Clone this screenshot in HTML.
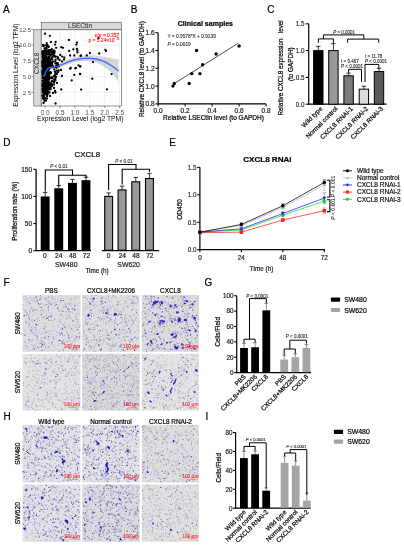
<!DOCTYPE html>
<html><head><meta charset="utf-8"><style>
html,body{margin:0;padding:0;background:#fff;width:404px;height:550px;overflow:hidden}
svg{display:block;font-family:"Liberation Sans",Arial,sans-serif}
text{stroke:#000;stroke-width:0.2px}
.ns text{stroke-width:0}
</style></head><body>
<svg width="404" height="550" viewBox="0 0 404 550">
<rect width="404" height="550" fill="#fff"/>
<text x="3.00" y="13.20" font-size="10.00">A</text>
<g class="ns">
<rect x="41.20" y="22.20" width="80.30" height="7.60" fill="#d9d9d9" stroke="#333" stroke-width="0.50" />
<rect x="33.80" y="29.80" width="7.40" height="76.20" fill="#d9d9d9" stroke="#333" stroke-width="0.50" />
<rect x="41.20" y="29.80" width="80.30" height="76.20" fill="#fff" />
<line x1="52.55" y1="29.80" x2="52.55" y2="106.00" stroke="#f2f2f2" stroke-width="0.30" />
<line x1="67.45" y1="29.80" x2="67.45" y2="106.00" stroke="#f2f2f2" stroke-width="0.30" />
<line x1="82.35" y1="29.80" x2="82.35" y2="106.00" stroke="#f2f2f2" stroke-width="0.30" />
<line x1="97.25" y1="29.80" x2="97.25" y2="106.00" stroke="#f2f2f2" stroke-width="0.30" />
<line x1="112.15" y1="29.80" x2="112.15" y2="106.00" stroke="#f2f2f2" stroke-width="0.30" />
<line x1="41.20" y1="84.47" x2="121.50" y2="84.47" stroke="#f2f2f2" stroke-width="0.30" />
<line x1="41.20" y1="68.72" x2="121.50" y2="68.72" stroke="#f2f2f2" stroke-width="0.30" />
<line x1="41.20" y1="52.97" x2="121.50" y2="52.97" stroke="#f2f2f2" stroke-width="0.30" />
<line x1="41.20" y1="37.22" x2="121.50" y2="37.22" stroke="#f2f2f2" stroke-width="0.30" />
<line x1="41.20" y1="100.22" x2="121.50" y2="100.22" stroke="#f2f2f2" stroke-width="0.30" />
<line x1="45.10" y1="29.80" x2="45.10" y2="106.00" stroke="#e6e6e6" stroke-width="0.55" />
<line x1="60.00" y1="29.80" x2="60.00" y2="106.00" stroke="#e6e6e6" stroke-width="0.55" />
<line x1="74.90" y1="29.80" x2="74.90" y2="106.00" stroke="#e6e6e6" stroke-width="0.55" />
<line x1="89.80" y1="29.80" x2="89.80" y2="106.00" stroke="#e6e6e6" stroke-width="0.55" />
<line x1="104.70" y1="29.80" x2="104.70" y2="106.00" stroke="#e6e6e6" stroke-width="0.55" />
<line x1="119.60" y1="29.80" x2="119.60" y2="106.00" stroke="#e6e6e6" stroke-width="0.55" />
<line x1="41.20" y1="92.35" x2="121.50" y2="92.35" stroke="#e6e6e6" stroke-width="0.55" />
<line x1="41.20" y1="76.60" x2="121.50" y2="76.60" stroke="#e6e6e6" stroke-width="0.55" />
<line x1="41.20" y1="60.85" x2="121.50" y2="60.85" stroke="#e6e6e6" stroke-width="0.55" />
<line x1="41.20" y1="45.10" x2="121.50" y2="45.10" stroke="#e6e6e6" stroke-width="0.55" />
<line x1="41.20" y1="29.35" x2="121.50" y2="29.35" stroke="#e6e6e6" stroke-width="0.55" />
<path d="M44.5 73.5 L48.0 66.0 L53.0 64.5 L58.5 64.0 L66.0 60.5 L74.6 57.3 L85.4 55.6 L96.1 55.5 L106.9 57.2 L113.0 58.5 L118.3 59.5 L118.3 82.0 L113.0 74.0 L106.9 68.5 L96.1 62.6 L85.4 60.8 L74.6 62.1 L66.0 65.3 L58.5 68.2 L53.0 69.0 L48.0 70.6 L44.5 78.2 Z" fill="#999" fill-opacity="0.4"/>
<g fill="#000">
<circle cx="46.9" cy="57.3" r="1.15"/>
<circle cx="45.1" cy="73.5" r="1.15"/>
<circle cx="42.6" cy="72.3" r="1.15"/>
<circle cx="42.9" cy="53.9" r="1.15"/>
<circle cx="43.1" cy="85.7" r="1.15"/>
<circle cx="49.2" cy="77.4" r="1.15"/>
<circle cx="49.7" cy="67.7" r="1.15"/>
<circle cx="44.0" cy="87.1" r="1.15"/>
<circle cx="44.4" cy="55.9" r="1.15"/>
<circle cx="46.0" cy="53.9" r="1.15"/>
<circle cx="46.4" cy="66.6" r="1.15"/>
<circle cx="43.6" cy="53.5" r="1.15"/>
<circle cx="44.7" cy="69.0" r="1.15"/>
<circle cx="44.6" cy="70.0" r="1.15"/>
<circle cx="43.9" cy="82.4" r="1.15"/>
<circle cx="48.9" cy="73.1" r="1.15"/>
<circle cx="49.6" cy="63.1" r="1.15"/>
<circle cx="48.1" cy="68.6" r="1.15"/>
<circle cx="42.6" cy="71.5" r="1.15"/>
<circle cx="46.1" cy="83.1" r="1.15"/>
<circle cx="47.4" cy="61.3" r="1.15"/>
<circle cx="45.7" cy="75.4" r="1.15"/>
<circle cx="43.8" cy="96.0" r="1.15"/>
<circle cx="46.8" cy="53.5" r="1.15"/>
<circle cx="46.0" cy="92.7" r="1.15"/>
<circle cx="47.4" cy="67.2" r="1.15"/>
<circle cx="43.6" cy="70.4" r="1.15"/>
<circle cx="47.2" cy="53.5" r="1.15"/>
<circle cx="45.2" cy="61.4" r="1.15"/>
<circle cx="44.5" cy="48.4" r="1.15"/>
<circle cx="46.9" cy="88.1" r="1.15"/>
<circle cx="45.3" cy="59.3" r="1.15"/>
<circle cx="47.7" cy="88.1" r="1.15"/>
<circle cx="44.0" cy="58.4" r="1.15"/>
<circle cx="46.8" cy="71.4" r="1.15"/>
<circle cx="44.8" cy="51.2" r="1.15"/>
<circle cx="49.4" cy="74.8" r="1.15"/>
<circle cx="47.0" cy="72.7" r="1.15"/>
<circle cx="48.0" cy="53.3" r="1.15"/>
<circle cx="46.0" cy="92.1" r="1.15"/>
<circle cx="43.1" cy="67.8" r="1.15"/>
<circle cx="42.7" cy="53.6" r="1.15"/>
<circle cx="44.7" cy="57.8" r="1.15"/>
<circle cx="43.2" cy="51.0" r="1.15"/>
<circle cx="42.5" cy="66.3" r="1.15"/>
<circle cx="43.4" cy="77.8" r="1.15"/>
<circle cx="45.0" cy="65.6" r="1.15"/>
<circle cx="48.2" cy="86.7" r="1.15"/>
<circle cx="43.0" cy="71.3" r="1.15"/>
<circle cx="44.3" cy="65.4" r="1.15"/>
<circle cx="42.4" cy="52.9" r="1.15"/>
<circle cx="43.4" cy="73.1" r="1.15"/>
<circle cx="45.5" cy="52.1" r="1.15"/>
<circle cx="45.7" cy="91.5" r="1.15"/>
<circle cx="43.6" cy="66.4" r="1.15"/>
<circle cx="48.2" cy="73.3" r="1.15"/>
<circle cx="48.2" cy="60.4" r="1.15"/>
<circle cx="46.3" cy="90.9" r="1.15"/>
<circle cx="43.7" cy="84.7" r="1.15"/>
<circle cx="42.5" cy="65.9" r="1.15"/>
<circle cx="44.2" cy="62.7" r="1.15"/>
<circle cx="44.5" cy="91.2" r="1.15"/>
<circle cx="44.9" cy="98.3" r="1.15"/>
<circle cx="44.0" cy="60.3" r="1.15"/>
<circle cx="46.8" cy="59.6" r="1.15"/>
<circle cx="44.8" cy="90.2" r="1.15"/>
<circle cx="42.8" cy="84.6" r="1.15"/>
<circle cx="46.5" cy="89.2" r="1.15"/>
<circle cx="43.7" cy="70.3" r="1.15"/>
<circle cx="48.2" cy="62.3" r="1.15"/>
<circle cx="45.3" cy="65.8" r="1.15"/>
<circle cx="43.4" cy="83.9" r="1.15"/>
<circle cx="48.7" cy="57.3" r="1.15"/>
<circle cx="47.3" cy="52.0" r="1.15"/>
<circle cx="44.8" cy="80.1" r="1.15"/>
<circle cx="42.4" cy="56.5" r="1.15"/>
<circle cx="46.1" cy="79.7" r="1.15"/>
<circle cx="48.9" cy="67.9" r="1.15"/>
<circle cx="44.0" cy="55.6" r="1.15"/>
<circle cx="46.6" cy="61.1" r="1.15"/>
<circle cx="43.3" cy="68.6" r="1.15"/>
<circle cx="45.7" cy="63.5" r="1.15"/>
<circle cx="44.6" cy="89.0" r="1.15"/>
<circle cx="46.4" cy="71.6" r="1.15"/>
<circle cx="45.0" cy="51.8" r="1.15"/>
<circle cx="47.0" cy="51.2" r="1.15"/>
<circle cx="47.9" cy="70.9" r="1.15"/>
<circle cx="46.2" cy="64.7" r="1.15"/>
<circle cx="43.0" cy="83.9" r="1.15"/>
<circle cx="44.3" cy="61.4" r="1.15"/>
<circle cx="46.6" cy="71.9" r="1.15"/>
<circle cx="44.1" cy="94.2" r="1.15"/>
<circle cx="46.2" cy="72.2" r="1.15"/>
<circle cx="46.4" cy="70.0" r="1.15"/>
<circle cx="45.8" cy="90.5" r="1.15"/>
<circle cx="43.2" cy="95.8" r="1.15"/>
<circle cx="46.5" cy="90.6" r="1.15"/>
<circle cx="45.3" cy="56.1" r="1.15"/>
<circle cx="42.8" cy="61.1" r="1.15"/>
<circle cx="48.1" cy="83.9" r="1.15"/>
<circle cx="46.9" cy="81.1" r="1.15"/>
<circle cx="47.8" cy="88.1" r="1.15"/>
<circle cx="44.3" cy="91.0" r="1.15"/>
<circle cx="46.1" cy="92.6" r="1.15"/>
<circle cx="46.3" cy="69.1" r="1.15"/>
<circle cx="44.6" cy="59.2" r="1.15"/>
<circle cx="45.6" cy="51.8" r="1.15"/>
<circle cx="44.3" cy="51.8" r="1.15"/>
<circle cx="42.8" cy="72.5" r="1.15"/>
<circle cx="48.0" cy="87.4" r="1.15"/>
<circle cx="42.6" cy="62.2" r="1.15"/>
<circle cx="43.2" cy="58.9" r="1.15"/>
<circle cx="46.7" cy="89.3" r="1.15"/>
<circle cx="48.8" cy="57.3" r="1.15"/>
<circle cx="42.9" cy="80.4" r="1.15"/>
<circle cx="45.4" cy="79.9" r="1.15"/>
<circle cx="45.5" cy="90.4" r="1.15"/>
<circle cx="46.6" cy="48.6" r="1.15"/>
<circle cx="45.0" cy="87.2" r="1.15"/>
<circle cx="49.2" cy="74.2" r="1.15"/>
<circle cx="45.9" cy="56.4" r="1.15"/>
<circle cx="43.4" cy="55.6" r="1.15"/>
<circle cx="44.6" cy="59.5" r="1.15"/>
<circle cx="44.2" cy="82.9" r="1.15"/>
<circle cx="44.8" cy="58.5" r="1.15"/>
<circle cx="42.4" cy="61.5" r="1.15"/>
<circle cx="43.7" cy="74.1" r="1.15"/>
<circle cx="42.8" cy="90.3" r="1.15"/>
<circle cx="46.1" cy="67.8" r="1.15"/>
<circle cx="46.1" cy="65.6" r="1.15"/>
<circle cx="43.9" cy="92.3" r="1.15"/>
<circle cx="46.5" cy="82.9" r="1.15"/>
<circle cx="42.7" cy="65.6" r="1.15"/>
<circle cx="47.1" cy="54.0" r="1.15"/>
<circle cx="42.9" cy="57.9" r="1.15"/>
<circle cx="45.5" cy="91.9" r="1.15"/>
<circle cx="44.4" cy="61.2" r="1.15"/>
<circle cx="45.5" cy="57.6" r="1.15"/>
<circle cx="47.0" cy="91.4" r="1.15"/>
<circle cx="49.4" cy="61.3" r="1.15"/>
<circle cx="42.3" cy="66.0" r="1.15"/>
<circle cx="46.1" cy="70.9" r="1.15"/>
<circle cx="42.3" cy="72.2" r="1.15"/>
<circle cx="44.9" cy="54.8" r="1.15"/>
<circle cx="44.1" cy="51.9" r="1.15"/>
<circle cx="46.2" cy="75.6" r="1.15"/>
<circle cx="47.4" cy="80.2" r="1.15"/>
<circle cx="44.7" cy="65.4" r="1.15"/>
<circle cx="46.7" cy="52.2" r="1.15"/>
<circle cx="47.5" cy="52.8" r="1.15"/>
<circle cx="47.6" cy="78.5" r="1.15"/>
<circle cx="45.4" cy="51.7" r="1.15"/>
<circle cx="47.2" cy="86.1" r="1.15"/>
<circle cx="48.9" cy="76.1" r="1.15"/>
<circle cx="44.0" cy="80.1" r="1.15"/>
<circle cx="44.8" cy="56.6" r="1.15"/>
<circle cx="45.7" cy="86.1" r="1.15"/>
<circle cx="47.3" cy="77.3" r="1.15"/>
<circle cx="47.0" cy="51.1" r="1.15"/>
<circle cx="46.4" cy="72.1" r="1.15"/>
<circle cx="47.0" cy="53.8" r="1.15"/>
<circle cx="44.0" cy="54.1" r="1.15"/>
<circle cx="47.7" cy="59.6" r="1.15"/>
<circle cx="45.2" cy="71.2" r="1.15"/>
<circle cx="47.8" cy="79.7" r="1.15"/>
<circle cx="42.9" cy="78.0" r="1.15"/>
<circle cx="47.8" cy="61.7" r="1.15"/>
<circle cx="42.4" cy="74.8" r="1.15"/>
<circle cx="47.3" cy="62.3" r="1.15"/>
<circle cx="44.4" cy="79.4" r="1.15"/>
<circle cx="45.9" cy="70.5" r="1.15"/>
<circle cx="43.4" cy="88.5" r="1.15"/>
<circle cx="42.4" cy="95.5" r="1.15"/>
<circle cx="48.3" cy="85.4" r="1.15"/>
<circle cx="43.8" cy="62.3" r="1.15"/>
<circle cx="46.2" cy="55.6" r="1.15"/>
<circle cx="49.5" cy="73.0" r="1.15"/>
<circle cx="45.4" cy="85.4" r="1.15"/>
<circle cx="43.8" cy="82.7" r="1.15"/>
<circle cx="42.5" cy="70.7" r="1.15"/>
<circle cx="45.7" cy="71.7" r="1.15"/>
<circle cx="44.7" cy="56.9" r="1.15"/>
<circle cx="42.3" cy="86.3" r="1.15"/>
<circle cx="42.9" cy="90.2" r="1.15"/>
<circle cx="48.2" cy="83.2" r="1.15"/>
<circle cx="45.3" cy="66.6" r="1.15"/>
<circle cx="45.0" cy="76.4" r="1.15"/>
<circle cx="42.7" cy="62.6" r="1.15"/>
<circle cx="44.0" cy="86.1" r="1.15"/>
<circle cx="44.2" cy="57.7" r="1.15"/>
<circle cx="45.0" cy="59.0" r="1.15"/>
<circle cx="46.0" cy="92.6" r="1.15"/>
<circle cx="47.3" cy="89.4" r="1.15"/>
<circle cx="42.6" cy="81.2" r="1.15"/>
<circle cx="48.1" cy="69.9" r="1.15"/>
<circle cx="42.7" cy="63.0" r="1.15"/>
<circle cx="45.1" cy="51.0" r="1.15"/>
<circle cx="47.8" cy="63.5" r="1.15"/>
<circle cx="47.0" cy="58.3" r="1.15"/>
<circle cx="45.2" cy="74.4" r="1.15"/>
<circle cx="43.8" cy="57.8" r="1.15"/>
<circle cx="44.0" cy="71.3" r="1.15"/>
<circle cx="43.5" cy="98.8" r="1.15"/>
<circle cx="43.0" cy="59.1" r="1.15"/>
<circle cx="43.9" cy="54.8" r="1.15"/>
<circle cx="48.9" cy="74.9" r="1.15"/>
<circle cx="45.5" cy="68.3" r="1.15"/>
<circle cx="44.9" cy="66.8" r="1.15"/>
<circle cx="49.5" cy="62.7" r="1.15"/>
<circle cx="47.1" cy="72.1" r="1.15"/>
<circle cx="44.1" cy="55.9" r="1.15"/>
<circle cx="45.7" cy="67.8" r="1.15"/>
<circle cx="46.7" cy="90.7" r="1.15"/>
<circle cx="46.7" cy="52.4" r="1.15"/>
<circle cx="46.8" cy="70.0" r="1.15"/>
<circle cx="49.3" cy="67.4" r="1.15"/>
<circle cx="47.1" cy="91.1" r="1.15"/>
<circle cx="43.3" cy="55.6" r="1.15"/>
<circle cx="49.1" cy="79.6" r="1.15"/>
<circle cx="47.9" cy="78.2" r="1.15"/>
<circle cx="42.6" cy="74.2" r="1.15"/>
<circle cx="48.7" cy="56.8" r="1.15"/>
<circle cx="43.3" cy="63.8" r="1.15"/>
<circle cx="47.4" cy="77.7" r="1.15"/>
<circle cx="45.7" cy="54.0" r="1.15"/>
<circle cx="44.0" cy="67.3" r="1.15"/>
<circle cx="44.1" cy="51.4" r="1.15"/>
<circle cx="45.4" cy="91.3" r="1.15"/>
<circle cx="44.1" cy="70.1" r="1.15"/>
<circle cx="45.7" cy="91.3" r="1.15"/>
<circle cx="45.3" cy="51.9" r="1.15"/>
<circle cx="44.3" cy="68.6" r="1.15"/>
<circle cx="43.5" cy="89.9" r="1.15"/>
<circle cx="45.5" cy="65.2" r="1.15"/>
<circle cx="48.1" cy="59.3" r="1.15"/>
<circle cx="43.9" cy="72.2" r="1.15"/>
<circle cx="48.3" cy="61.1" r="1.15"/>
<circle cx="47.8" cy="60.3" r="1.15"/>
<circle cx="44.8" cy="91.0" r="1.15"/>
<circle cx="45.3" cy="60.4" r="1.15"/>
<circle cx="43.0" cy="90.8" r="1.15"/>
<circle cx="49.4" cy="59.9" r="1.15"/>
<circle cx="42.7" cy="53.2" r="1.15"/>
<circle cx="47.2" cy="88.7" r="1.15"/>
<circle cx="46.5" cy="92.9" r="1.15"/>
<circle cx="49.1" cy="58.8" r="1.15"/>
<circle cx="46.4" cy="52.3" r="1.15"/>
<circle cx="44.8" cy="66.7" r="1.15"/>
<circle cx="44.0" cy="51.1" r="1.15"/>
<circle cx="42.9" cy="91.1" r="1.15"/>
<circle cx="44.7" cy="55.4" r="1.15"/>
<circle cx="44.6" cy="89.2" r="1.15"/>
<circle cx="45.2" cy="70.9" r="1.15"/>
<circle cx="44.7" cy="54.6" r="1.15"/>
<circle cx="43.8" cy="45.7" r="1.15"/>
<circle cx="42.5" cy="86.2" r="1.15"/>
<circle cx="48.2" cy="53.6" r="1.15"/>
<circle cx="48.4" cy="82.4" r="1.15"/>
<circle cx="49.4" cy="62.4" r="1.15"/>
<circle cx="47.6" cy="62.0" r="1.15"/>
<circle cx="42.3" cy="62.6" r="1.15"/>
<circle cx="44.8" cy="94.4" r="1.15"/>
<circle cx="43.1" cy="45.3" r="1.15"/>
<circle cx="47.0" cy="91.2" r="1.15"/>
<circle cx="45.5" cy="61.5" r="1.15"/>
<circle cx="43.3" cy="90.0" r="1.15"/>
<circle cx="47.5" cy="84.6" r="1.15"/>
<circle cx="44.7" cy="77.4" r="1.15"/>
<circle cx="48.2" cy="66.2" r="1.15"/>
<circle cx="47.8" cy="59.3" r="1.15"/>
<circle cx="42.5" cy="53.7" r="1.15"/>
<circle cx="49.6" cy="64.7" r="1.15"/>
<circle cx="43.0" cy="98.3" r="1.15"/>
<circle cx="45.6" cy="55.0" r="1.15"/>
<circle cx="44.1" cy="69.8" r="1.15"/>
<circle cx="47.3" cy="77.1" r="1.15"/>
<circle cx="46.3" cy="86.6" r="1.15"/>
<circle cx="44.1" cy="86.3" r="1.15"/>
<circle cx="47.9" cy="66.7" r="1.15"/>
<circle cx="44.1" cy="61.4" r="1.15"/>
<circle cx="45.6" cy="88.1" r="1.15"/>
<circle cx="49.8" cy="67.6" r="1.15"/>
<circle cx="48.2" cy="60.7" r="1.15"/>
<circle cx="42.8" cy="92.6" r="1.15"/>
<circle cx="47.5" cy="85.4" r="1.15"/>
<circle cx="43.4" cy="46.2" r="1.15"/>
<circle cx="49.3" cy="59.0" r="1.15"/>
<circle cx="44.2" cy="90.1" r="1.15"/>
<circle cx="44.3" cy="68.7" r="1.15"/>
<circle cx="42.6" cy="96.0" r="1.15"/>
<circle cx="43.9" cy="77.0" r="1.15"/>
<circle cx="43.7" cy="56.9" r="1.15"/>
<circle cx="47.1" cy="76.2" r="1.15"/>
<circle cx="44.3" cy="51.5" r="1.15"/>
<circle cx="44.6" cy="58.8" r="1.15"/>
<circle cx="45.8" cy="84.4" r="1.15"/>
<circle cx="44.9" cy="55.3" r="1.15"/>
<circle cx="43.0" cy="77.8" r="1.15"/>
<circle cx="45.2" cy="80.2" r="1.15"/>
<circle cx="49.4" cy="63.9" r="1.15"/>
<circle cx="45.0" cy="74.8" r="1.15"/>
<circle cx="48.1" cy="87.3" r="1.15"/>
<circle cx="47.6" cy="59.3" r="1.15"/>
<circle cx="47.7" cy="51.2" r="1.15"/>
<circle cx="44.8" cy="85.5" r="1.15"/>
<circle cx="43.5" cy="69.3" r="1.15"/>
<circle cx="47.1" cy="74.2" r="1.15"/>
<circle cx="45.5" cy="48.9" r="1.15"/>
<circle cx="43.4" cy="72.2" r="1.15"/>
<circle cx="49.3" cy="72.9" r="1.15"/>
<circle cx="48.4" cy="71.6" r="1.15"/>
<circle cx="43.1" cy="54.9" r="1.15"/>
<circle cx="43.6" cy="97.7" r="1.15"/>
<circle cx="44.3" cy="89.9" r="1.15"/>
<circle cx="48.3" cy="78.1" r="1.15"/>
<circle cx="43.7" cy="84.0" r="1.15"/>
<circle cx="47.3" cy="86.5" r="1.15"/>
<circle cx="45.2" cy="60.2" r="1.15"/>
<circle cx="43.2" cy="67.1" r="1.15"/>
<circle cx="48.5" cy="81.4" r="1.15"/>
<circle cx="48.0" cy="74.6" r="1.15"/>
<circle cx="43.0" cy="86.2" r="1.15"/>
<circle cx="47.0" cy="74.1" r="1.15"/>
<circle cx="46.8" cy="68.6" r="1.15"/>
<circle cx="45.5" cy="78.7" r="1.15"/>
<circle cx="46.1" cy="52.0" r="1.15"/>
<circle cx="47.9" cy="60.9" r="1.15"/>
<circle cx="43.7" cy="69.2" r="1.15"/>
<circle cx="43.2" cy="55.5" r="1.15"/>
<circle cx="45.2" cy="54.9" r="1.15"/>
<circle cx="46.3" cy="52.7" r="1.15"/>
<circle cx="47.6" cy="81.8" r="1.15"/>
<circle cx="45.5" cy="53.3" r="1.15"/>
<circle cx="43.0" cy="90.9" r="1.15"/>
<circle cx="44.3" cy="98.8" r="1.15"/>
<circle cx="48.8" cy="54.7" r="1.15"/>
<circle cx="46.8" cy="91.2" r="1.15"/>
<circle cx="48.3" cy="84.1" r="1.15"/>
<circle cx="48.0" cy="65.7" r="1.15"/>
<circle cx="43.8" cy="88.7" r="1.15"/>
<circle cx="45.3" cy="51.9" r="1.15"/>
<circle cx="44.1" cy="55.5" r="1.15"/>
<circle cx="42.6" cy="64.4" r="1.15"/>
<circle cx="49.0" cy="57.8" r="1.15"/>
<circle cx="43.2" cy="88.6" r="1.15"/>
<circle cx="45.4" cy="50.3" r="1.15"/>
<circle cx="48.9" cy="66.1" r="1.15"/>
<circle cx="48.9" cy="75.4" r="1.15"/>
<circle cx="45.1" cy="92.7" r="1.15"/>
<circle cx="44.0" cy="84.5" r="1.15"/>
<circle cx="45.0" cy="75.8" r="1.15"/>
<circle cx="43.6" cy="68.3" r="1.15"/>
<circle cx="47.4" cy="53.0" r="1.15"/>
<circle cx="49.5" cy="77.8" r="1.15"/>
<circle cx="44.6" cy="78.9" r="1.15"/>
<circle cx="43.2" cy="52.4" r="1.15"/>
<circle cx="46.2" cy="69.2" r="1.15"/>
<circle cx="43.6" cy="51.3" r="1.15"/>
<circle cx="42.3" cy="51.9" r="1.15"/>
<circle cx="44.7" cy="55.5" r="1.15"/>
<circle cx="46.7" cy="75.5" r="1.15"/>
<circle cx="45.8" cy="77.2" r="1.15"/>
<circle cx="43.5" cy="90.3" r="1.15"/>
<circle cx="46.5" cy="55.0" r="1.15"/>
<circle cx="44.7" cy="87.0" r="1.15"/>
<circle cx="46.2" cy="51.5" r="1.15"/>
<circle cx="47.2" cy="65.7" r="1.15"/>
<circle cx="46.0" cy="90.4" r="1.15"/>
<circle cx="42.5" cy="88.9" r="1.15"/>
<circle cx="44.1" cy="68.1" r="1.15"/>
<circle cx="42.4" cy="83.7" r="1.15"/>
<circle cx="43.0" cy="90.5" r="1.15"/>
<circle cx="46.0" cy="76.5" r="1.15"/>
<circle cx="43.4" cy="85.2" r="1.15"/>
<circle cx="42.7" cy="63.6" r="1.15"/>
<circle cx="46.5" cy="87.1" r="1.15"/>
<circle cx="46.8" cy="86.5" r="1.15"/>
<circle cx="45.4" cy="82.2" r="1.15"/>
<circle cx="43.9" cy="55.4" r="1.15"/>
<circle cx="47.9" cy="65.1" r="1.15"/>
<circle cx="46.6" cy="86.5" r="1.15"/>
<circle cx="45.6" cy="74.3" r="1.15"/>
<circle cx="44.3" cy="72.8" r="1.15"/>
<circle cx="43.3" cy="91.5" r="1.15"/>
<circle cx="43.1" cy="44.8" r="1.15"/>
<circle cx="48.7" cy="82.2" r="1.15"/>
<circle cx="48.9" cy="64.7" r="1.15"/>
<circle cx="48.9" cy="61.0" r="1.15"/>
<circle cx="47.1" cy="80.1" r="1.15"/>
<circle cx="48.8" cy="69.8" r="1.15"/>
<circle cx="44.9" cy="87.0" r="1.15"/>
<circle cx="44.6" cy="75.0" r="1.15"/>
<circle cx="42.9" cy="77.2" r="1.15"/>
<circle cx="42.5" cy="52.0" r="1.15"/>
<circle cx="44.1" cy="90.0" r="1.15"/>
<circle cx="42.6" cy="52.2" r="1.15"/>
<circle cx="47.4" cy="77.6" r="1.15"/>
<circle cx="46.1" cy="53.8" r="1.15"/>
<circle cx="47.4" cy="85.3" r="1.15"/>
<circle cx="46.2" cy="47.6" r="1.15"/>
<circle cx="49.5" cy="92.5" r="1.15"/>
<circle cx="48.9" cy="50.6" r="1.15"/>
<circle cx="48.2" cy="50.8" r="1.15"/>
<circle cx="50.7" cy="89.1" r="1.15"/>
<circle cx="55.4" cy="78.0" r="1.15"/>
<circle cx="51.1" cy="77.8" r="1.15"/>
<circle cx="48.3" cy="50.2" r="1.15"/>
<circle cx="49.4" cy="84.4" r="1.15"/>
<circle cx="53.0" cy="61.6" r="1.15"/>
<circle cx="46.9" cy="46.1" r="1.15"/>
<circle cx="55.7" cy="59.7" r="1.15"/>
<circle cx="52.0" cy="64.1" r="1.15"/>
<circle cx="46.8" cy="95.1" r="1.15"/>
<circle cx="49.8" cy="89.3" r="1.15"/>
<circle cx="47.9" cy="46.6" r="1.15"/>
<circle cx="56.6" cy="67.7" r="1.15"/>
<circle cx="56.2" cy="63.0" r="1.15"/>
<circle cx="51.0" cy="73.0" r="1.15"/>
<circle cx="47.7" cy="89.8" r="1.15"/>
<circle cx="48.5" cy="87.6" r="1.15"/>
<circle cx="46.1" cy="45.1" r="1.15"/>
<circle cx="54.0" cy="84.6" r="1.15"/>
<circle cx="47.4" cy="45.2" r="1.15"/>
<circle cx="56.6" cy="70.6" r="1.15"/>
<circle cx="52.0" cy="54.6" r="1.15"/>
<circle cx="57.7" cy="63.1" r="1.15"/>
<circle cx="57.9" cy="58.5" r="1.15"/>
<circle cx="50.9" cy="59.8" r="1.15"/>
<circle cx="51.8" cy="81.4" r="1.15"/>
<circle cx="51.6" cy="50.7" r="1.15"/>
<circle cx="51.8" cy="49.2" r="1.15"/>
<circle cx="53.9" cy="81.3" r="1.15"/>
<circle cx="51.6" cy="77.7" r="1.15"/>
<circle cx="52.7" cy="65.9" r="1.15"/>
<circle cx="47.3" cy="91.3" r="1.15"/>
<circle cx="47.2" cy="91.2" r="1.15"/>
<circle cx="50.5" cy="55.7" r="1.15"/>
<circle cx="48.3" cy="91.9" r="1.15"/>
<circle cx="58.2" cy="64.7" r="1.15"/>
<circle cx="52.5" cy="57.1" r="1.15"/>
<circle cx="55.7" cy="72.6" r="1.15"/>
<circle cx="51.9" cy="84.2" r="1.15"/>
<circle cx="52.1" cy="63.1" r="1.15"/>
<circle cx="54.4" cy="53.1" r="1.15"/>
<circle cx="54.2" cy="79.4" r="1.15"/>
<circle cx="51.3" cy="53.8" r="1.15"/>
<circle cx="51.2" cy="85.2" r="1.15"/>
<circle cx="50.7" cy="51.6" r="1.15"/>
<circle cx="47.8" cy="91.0" r="1.15"/>
<circle cx="50.6" cy="55.0" r="1.15"/>
<circle cx="54.2" cy="81.6" r="1.15"/>
<circle cx="49.2" cy="53.0" r="1.15"/>
<circle cx="51.5" cy="57.9" r="1.15"/>
<circle cx="50.7" cy="72.2" r="1.15"/>
<circle cx="50.9" cy="62.1" r="1.15"/>
<circle cx="47.1" cy="95.7" r="1.15"/>
<circle cx="53.9" cy="50.3" r="1.15"/>
<circle cx="49.8" cy="50.3" r="1.15"/>
<circle cx="47.0" cy="96.2" r="1.15"/>
<circle cx="50.9" cy="83.1" r="1.15"/>
<circle cx="53.5" cy="55.2" r="1.15"/>
<circle cx="48.9" cy="50.6" r="1.15"/>
<circle cx="49.9" cy="65.2" r="1.15"/>
<circle cx="57.0" cy="65.7" r="1.15"/>
<circle cx="51.9" cy="81.1" r="1.15"/>
<circle cx="52.3" cy="77.9" r="1.15"/>
<circle cx="52.0" cy="52.4" r="1.15"/>
<circle cx="56.4" cy="66.0" r="1.15"/>
<circle cx="47.9" cy="92.2" r="1.15"/>
<circle cx="55.3" cy="74.8" r="1.15"/>
<circle cx="51.3" cy="66.9" r="1.15"/>
<circle cx="54.1" cy="82.6" r="1.15"/>
<circle cx="51.9" cy="85.3" r="1.15"/>
<circle cx="50.0" cy="89.3" r="1.15"/>
<circle cx="52.2" cy="78.4" r="1.15"/>
<circle cx="55.1" cy="61.3" r="1.15"/>
<circle cx="50.0" cy="50.1" r="1.15"/>
<circle cx="51.8" cy="85.7" r="1.15"/>
<circle cx="50.8" cy="77.7" r="1.15"/>
<circle cx="53.3" cy="67.0" r="1.15"/>
<circle cx="52.0" cy="77.3" r="1.15"/>
<circle cx="55.5" cy="80.1" r="1.15"/>
<circle cx="53.3" cy="54.5" r="1.15"/>
<circle cx="50.0" cy="85.5" r="1.15"/>
<circle cx="58.6" cy="70.5" r="1.15"/>
<circle cx="48.8" cy="47.0" r="1.15"/>
<circle cx="54.0" cy="53.4" r="1.15"/>
<circle cx="47.5" cy="93.9" r="1.15"/>
<circle cx="51.0" cy="50.3" r="1.15"/>
<circle cx="55.3" cy="73.1" r="1.15"/>
<circle cx="54.8" cy="71.6" r="1.15"/>
<circle cx="49.8" cy="88.1" r="1.15"/>
<circle cx="58.8" cy="66.3" r="1.15"/>
<circle cx="54.2" cy="55.9" r="1.15"/>
<circle cx="56.7" cy="65.4" r="1.15"/>
<circle cx="54.7" cy="51.4" r="1.15"/>
<circle cx="50.0" cy="63.5" r="1.15"/>
<circle cx="52.4" cy="59.3" r="1.15"/>
<circle cx="47.4" cy="45.7" r="1.15"/>
<circle cx="55.8" cy="66.9" r="1.15"/>
<circle cx="51.5" cy="63.3" r="1.15"/>
<circle cx="55.0" cy="56.7" r="1.15"/>
<circle cx="47.6" cy="93.9" r="1.15"/>
<circle cx="55.5" cy="56.4" r="1.15"/>
<circle cx="51.1" cy="65.4" r="1.15"/>
<circle cx="53.1" cy="51.7" r="1.15"/>
<circle cx="50.7" cy="87.1" r="1.15"/>
<circle cx="54.3" cy="69.4" r="1.15"/>
<circle cx="57.4" cy="56.8" r="1.15"/>
<circle cx="55.4" cy="63.4" r="1.15"/>
<circle cx="45.0" cy="33.7" r="1.15"/>
<circle cx="49.9" cy="35.8" r="1.15"/>
<circle cx="46.8" cy="43.1" r="1.15"/>
<circle cx="50.9" cy="42.0" r="1.15"/>
<circle cx="55.6" cy="42.0" r="1.15"/>
<circle cx="55.1" cy="44.6" r="1.15"/>
<circle cx="68.9" cy="40.0" r="1.15"/>
<circle cx="76.9" cy="42.6" r="1.15"/>
<circle cx="76.4" cy="44.6" r="1.15"/>
<circle cx="61.3" cy="47.2" r="1.15"/>
<circle cx="62.9" cy="47.8" r="1.15"/>
<circle cx="56.1" cy="47.8" r="1.15"/>
<circle cx="69.1" cy="50.9" r="1.15"/>
<circle cx="73.3" cy="49.3" r="1.15"/>
<circle cx="76.9" cy="48.8" r="1.15"/>
<circle cx="77.4" cy="50.4" r="1.15"/>
<circle cx="77.4" cy="52.4" r="1.15"/>
<circle cx="70.1" cy="55.5" r="1.15"/>
<circle cx="74.3" cy="55.5" r="1.15"/>
<circle cx="80.5" cy="56.0" r="1.15"/>
<circle cx="60.3" cy="55.0" r="1.15"/>
<circle cx="62.3" cy="56.6" r="1.15"/>
<circle cx="64.4" cy="57.6" r="1.15"/>
<circle cx="58.0" cy="58.0" r="1.15"/>
<circle cx="59.5" cy="60.0" r="1.15"/>
<circle cx="62.0" cy="61.5" r="1.15"/>
<circle cx="64.0" cy="59.5" r="1.15"/>
<circle cx="78.5" cy="65.4" r="1.15"/>
<circle cx="80.0" cy="66.5" r="1.15"/>
<circle cx="70.7" cy="68.0" r="1.15"/>
<circle cx="75.9" cy="68.0" r="1.15"/>
<circle cx="98.5" cy="38.2" r="1.15"/>
<circle cx="105.3" cy="49.8" r="1.15"/>
<circle cx="106.0" cy="51.0" r="1.15"/>
<circle cx="89.9" cy="53.0" r="1.15"/>
<circle cx="99.2" cy="53.5" r="1.15"/>
<circle cx="81.0" cy="55.5" r="1.15"/>
<circle cx="86.8" cy="55.5" r="1.15"/>
<circle cx="93.0" cy="62.1" r="1.15"/>
<circle cx="80.5" cy="66.3" r="1.15"/>
<circle cx="92.3" cy="78.7" r="1.15"/>
<circle cx="107.0" cy="89.3" r="1.15"/>
<circle cx="81.1" cy="89.6" r="1.15"/>
<circle cx="111.6" cy="74.1" r="1.15"/>
<circle cx="80.2" cy="74.1" r="1.15"/>
<circle cx="55.6" cy="103.5" r="1.15"/>
<circle cx="61.3" cy="89.5" r="1.15"/>
<circle cx="71.7" cy="80.4" r="1.15"/>
<circle cx="74.3" cy="74.9" r="1.15"/>
<circle cx="80.0" cy="74.0" r="1.15"/>
<circle cx="70.1" cy="68.7" r="1.15"/>
<circle cx="75.3" cy="68.3" r="1.15"/>
<circle cx="45.0" cy="98.0" r="1.15"/>
<circle cx="47.0" cy="98.5" r="1.15"/>
<circle cx="44.5" cy="101.0" r="1.15"/>
<circle cx="43.5" cy="103.0" r="1.15"/>
<circle cx="46.0" cy="100.5" r="1.15"/>
<circle cx="54.0" cy="76.0" r="1.15"/>
<circle cx="56.0" cy="77.0" r="1.15"/>
<circle cx="57.0" cy="74.0" r="1.15"/>
<circle cx="58.0" cy="72.0" r="1.15"/>
<circle cx="61.0" cy="70.0" r="1.15"/>
<circle cx="62.0" cy="76.0" r="1.15"/>
<circle cx="54.0" cy="82.0" r="1.15"/>
<circle cx="57.0" cy="83.0" r="1.15"/>
<circle cx="52.0" cy="86.0" r="1.15"/>
<circle cx="54.0" cy="88.0" r="1.15"/>
<circle cx="55.0" cy="91.0" r="1.15"/>
<circle cx="55.5" cy="92.5" r="1.15"/>
<circle cx="53.0" cy="93.0" r="1.15"/>
<circle cx="50.0" cy="96.0" r="1.15"/>
</g>
<path d="M44.5 75.8 L46.0 71.5 L47.7 68.6 L50.0 67.3 L53.0 66.8 L55.5 66.6 L58.5 66.1 L62.0 64.5 L66.0 62.9 L70.0 61.2 L74.6 59.8 L80.0 58.8 L85.4 58.3 L90.7 58.4 L96.1 59.0 L101.5 60.5 L106.9 62.9 L112.5 66.3 L118.3 70.8" stroke="#3366ff" stroke-width="1.30" fill="none" stroke-linejoin="round" stroke-linecap="round"/>
<rect x="41.20" y="29.80" width="80.30" height="76.20" fill="none" stroke="#333" stroke-width="0.55" />
<text x="80.00" y="28.38" font-size="6.60" text-anchor="middle" fill="#1a1a1a" style="stroke:#1a1a1a">LSECtin</text>
<text x="0" y="0" font-size="6.6" fill="#1a1a1a" text-anchor="middle" transform="translate(39.3 63.3) rotate(-90)">CXCL8</text>
<line x1="31.50" y1="92.35" x2="33.80" y2="92.35" stroke="#333" stroke-width="0.50" />
<text x="31.00" y="94.55" font-size="6.00" text-anchor="end" fill="#4d4d4d" style="stroke:#4d4d4d">2.5</text>
<line x1="31.50" y1="76.60" x2="33.80" y2="76.60" stroke="#333" stroke-width="0.50" />
<text x="31.00" y="78.80" font-size="6.00" text-anchor="end" fill="#4d4d4d" style="stroke:#4d4d4d">5.0</text>
<line x1="31.50" y1="60.85" x2="33.80" y2="60.85" stroke="#333" stroke-width="0.50" />
<text x="31.00" y="63.05" font-size="6.00" text-anchor="end" fill="#4d4d4d" style="stroke:#4d4d4d">7.5</text>
<line x1="31.50" y1="45.10" x2="33.80" y2="45.10" stroke="#333" stroke-width="0.50" />
<text x="31.00" y="47.30" font-size="6.00" text-anchor="end" fill="#4d4d4d" style="stroke:#4d4d4d">10.0</text>
<line x1="31.50" y1="29.35" x2="33.80" y2="29.35" stroke="#333" stroke-width="0.50" />
<text x="31.00" y="31.55" font-size="6.00" text-anchor="end" fill="#4d4d4d" style="stroke:#4d4d4d">12.5</text>
<line x1="45.10" y1="106.00" x2="45.10" y2="108.20" stroke="#333" stroke-width="0.50" />
<text x="45.10" y="114.60" font-size="6.40" text-anchor="middle" fill="#4d4d4d" style="stroke:#4d4d4d">0.0</text>
<line x1="60.00" y1="106.00" x2="60.00" y2="108.20" stroke="#333" stroke-width="0.50" />
<text x="60.00" y="114.60" font-size="6.40" text-anchor="middle" fill="#4d4d4d" style="stroke:#4d4d4d">0.5</text>
<line x1="74.90" y1="106.00" x2="74.90" y2="108.20" stroke="#333" stroke-width="0.50" />
<text x="74.90" y="114.60" font-size="6.40" text-anchor="middle" fill="#4d4d4d" style="stroke:#4d4d4d">1.0</text>
<line x1="89.80" y1="106.00" x2="89.80" y2="108.20" stroke="#333" stroke-width="0.50" />
<text x="89.80" y="114.60" font-size="6.40" text-anchor="middle" fill="#4d4d4d" style="stroke:#4d4d4d">1.5</text>
<line x1="104.70" y1="106.00" x2="104.70" y2="108.20" stroke="#333" stroke-width="0.50" />
<text x="104.70" y="114.60" font-size="6.40" text-anchor="middle" fill="#4d4d4d" style="stroke:#4d4d4d">2.0</text>
<line x1="119.60" y1="106.00" x2="119.60" y2="108.20" stroke="#333" stroke-width="0.50" />
<text x="119.60" y="114.60" font-size="6.40" text-anchor="middle" fill="#4d4d4d" style="stroke:#4d4d4d">2.5</text>
<text x="80.20" y="121.00" font-size="6.75" text-anchor="middle" fill="#000" style="stroke:#000">Expression Level (log2 TPM)</text>
<text x="0" y="0" font-size="6.5" text-anchor="middle" transform="translate(18.4 65.2) rotate(-90)">Expression Level (log2 TPM)</text>
<text x="119.20" y="36.50" font-size="4.85" text-anchor="end" fill="#ff0000" style="stroke-width:0.08px;stroke:#ff0000">cor = 0.357</text>
<text x="119.4" y="42.1" font-size="4.85" text-anchor="end" fill="#ff0000" style="stroke-width:0.08px;stroke:#ff0000">p = 5.24×10<tspan font-size="3.1" dy="-1.9">−11</tspan></text>
</g>
<text x="130.80" y="13.20" font-size="10.00">B</text>
<line x1="158.10" y1="32.70" x2="158.10" y2="104.50" stroke="#000" stroke-width="1.20" />
<line x1="158.10" y1="103.90" x2="266.10" y2="103.90" stroke="#000" stroke-width="1.20" />
<line x1="155.40" y1="103.90" x2="158.10" y2="103.90" stroke="#000" stroke-width="1.00" />
<text x="154.60" y="106.30" font-size="6.50" text-anchor="end" fill="#222" style="stroke:#222">0.8</text>
<line x1="155.40" y1="86.10" x2="158.10" y2="86.10" stroke="#000" stroke-width="1.00" />
<text x="154.60" y="88.50" font-size="6.50" text-anchor="end" fill="#222" style="stroke:#222">1.0</text>
<line x1="155.40" y1="68.30" x2="158.10" y2="68.30" stroke="#000" stroke-width="1.00" />
<text x="154.60" y="70.70" font-size="6.50" text-anchor="end" fill="#222" style="stroke:#222">1.2</text>
<line x1="155.40" y1="50.50" x2="158.10" y2="50.50" stroke="#000" stroke-width="1.00" />
<text x="154.60" y="52.90" font-size="6.50" text-anchor="end" fill="#222" style="stroke:#222">1.4</text>
<line x1="155.40" y1="32.70" x2="158.10" y2="32.70" stroke="#000" stroke-width="1.00" />
<text x="154.60" y="35.10" font-size="6.50" text-anchor="end" fill="#222" style="stroke:#222">1.6</text>
<line x1="158.10" y1="103.90" x2="158.10" y2="106.50" stroke="#000" stroke-width="1.00" />
<text x="158.10" y="113.34" font-size="6.50" text-anchor="middle" fill="#222" style="stroke:#222">0.0</text>
<line x1="185.10" y1="103.90" x2="185.10" y2="106.50" stroke="#000" stroke-width="1.00" />
<text x="185.10" y="113.34" font-size="6.50" text-anchor="middle" fill="#222" style="stroke:#222">0.2</text>
<line x1="212.10" y1="103.90" x2="212.10" y2="106.50" stroke="#000" stroke-width="1.00" />
<text x="212.10" y="113.34" font-size="6.50" text-anchor="middle" fill="#222" style="stroke:#222">0.4</text>
<line x1="239.10" y1="103.90" x2="239.10" y2="106.50" stroke="#000" stroke-width="1.00" />
<text x="239.10" y="113.34" font-size="6.50" text-anchor="middle" fill="#222" style="stroke:#222">0.6</text>
<line x1="266.10" y1="103.90" x2="266.10" y2="106.50" stroke="#000" stroke-width="1.00" />
<text x="266.10" y="113.34" font-size="6.50" text-anchor="middle" fill="#222" style="stroke:#222">0.8</text>
<circle cx="172.95" cy="86.10" r="1.70" fill="#000" />
<circle cx="174.30" cy="83.43" r="1.70" fill="#000" />
<circle cx="189.15" cy="83.43" r="1.70" fill="#000" />
<circle cx="191.85" cy="73.64" r="1.70" fill="#000" />
<circle cx="196.57" cy="50.50" r="1.70" fill="#000" />
<circle cx="199.95" cy="73.64" r="1.70" fill="#000" />
<circle cx="202.65" cy="64.74" r="1.70" fill="#000" />
<circle cx="216.15" cy="54.06" r="1.70" fill="#000" />
<circle cx="239.10" cy="46.05" r="1.70" fill="#000" />
<line x1="174.30" y1="83.53" x2="237.75" y2="43.47" stroke="#000" stroke-width="0.70" />
<text x="205.40" y="26.00" font-size="7.05" text-anchor="middle" font-weight="bold">Clinical samples</text>
<text x="167.40" y="37.80" font-size="4.80" fill="#222" style="stroke-width:0.08px;stroke:#222">Y = 0.9578*X + 0.9139</text>
<text x="167.4" y="45.8" font-size="4.8" fill="#222" style="stroke-width:0.08px"><tspan font-style="italic">P</tspan> = 0.0019</text>
<text x="213.50" y="120.40" font-size="6.50" text-anchor="middle">Relative LSECtin level (to GAPDH)</text>
<text x="0" y="0" font-size="6.37" text-anchor="middle" transform="translate(144.0 69.1) rotate(-90)">Relative CXCL8 level (to GAPDH)</text>
<text x="267.30" y="13.20" font-size="10.00">C</text>
<line x1="308.70" y1="23.80" x2="308.70" y2="104.80" stroke="#000" stroke-width="1.20" />
<line x1="308.70" y1="104.20" x2="386.50" y2="104.20" stroke="#000" stroke-width="1.20" />
<line x1="305.80" y1="104.20" x2="308.70" y2="104.20" stroke="#000" stroke-width="1.10" />
<text x="304.60" y="106.50" font-size="6.30" text-anchor="end" fill="#333" style="stroke:#333">0.0</text>
<line x1="305.80" y1="77.40" x2="308.70" y2="77.40" stroke="#000" stroke-width="1.10" />
<text x="304.60" y="79.70" font-size="6.30" text-anchor="end" fill="#333" style="stroke:#333">0.5</text>
<line x1="305.80" y1="50.60" x2="308.70" y2="50.60" stroke="#000" stroke-width="1.10" />
<text x="304.60" y="52.90" font-size="6.30" text-anchor="end" fill="#333" style="stroke:#333">1.0</text>
<line x1="305.80" y1="23.80" x2="308.70" y2="23.80" stroke="#000" stroke-width="1.10" />
<text x="304.60" y="26.10" font-size="6.30" text-anchor="end" fill="#333" style="stroke:#333">1.5</text>
<line x1="318.30" y1="50.60" x2="318.30" y2="46.31" stroke="#000" stroke-width="0.80" />
<line x1="316.10" y1="46.31" x2="320.50" y2="46.31" stroke="#000" stroke-width="0.80" />
<rect x="313.60" y="50.60" width="9.40" height="53.60" fill="#000" stroke="#000" stroke-width="1.00" />
<text x="0" y="0" font-size="6.4" text-anchor="end" transform="translate(322.90 109.3) rotate(-45)">Wild type</text>
<line x1="333.40" y1="50.60" x2="333.40" y2="43.63" stroke="#000" stroke-width="0.80" />
<line x1="331.20" y1="43.63" x2="335.60" y2="43.63" stroke="#000" stroke-width="0.80" />
<rect x="328.70" y="50.60" width="9.40" height="53.60" fill="#999" stroke="#000" stroke-width="1.00" />
<text x="0" y="0" font-size="6.4" text-anchor="end" transform="translate(338.00 109.3) rotate(-45)">Normal control</text>
<line x1="348.60" y1="75.79" x2="348.60" y2="73.11" stroke="#000" stroke-width="0.80" />
<line x1="346.40" y1="73.11" x2="350.80" y2="73.11" stroke="#000" stroke-width="0.80" />
<rect x="343.90" y="75.79" width="9.40" height="28.41" fill="#7a7a7a" stroke="#000" stroke-width="1.00" />
<text x="0" y="0" font-size="6.4" text-anchor="end" transform="translate(353.20 109.3) rotate(-45)">CXCL8 RNAi-1</text>
<line x1="363.90" y1="89.19" x2="363.90" y2="86.24" stroke="#000" stroke-width="0.80" />
<line x1="361.70" y1="86.24" x2="366.10" y2="86.24" stroke="#000" stroke-width="0.80" />
<rect x="359.20" y="89.19" width="9.40" height="15.01" fill="#dcdcdc" stroke="#000" stroke-width="1.00" />
<text x="0" y="0" font-size="6.4" text-anchor="end" transform="translate(368.50 109.3) rotate(-45)">CXCL8 RNAi-2</text>
<line x1="379.00" y1="71.50" x2="379.00" y2="68.29" stroke="#000" stroke-width="0.80" />
<line x1="376.80" y1="68.29" x2="381.20" y2="68.29" stroke="#000" stroke-width="0.80" />
<rect x="374.30" y="71.50" width="9.40" height="32.70" fill="#595959" stroke="#000" stroke-width="1.00" />
<text x="0" y="0" font-size="6.4" text-anchor="end" transform="translate(383.60 109.3) rotate(-45)">CXCL8 RNAi-3</text>
<path d="M318.4 42.8 L318.4 38.9 L333.4 38.9 L333.4 43.3" stroke="#000" stroke-width="1.00" fill="none" />
<path d="M347.6 42.7 L347.6 39.1 L378.7 39.1 L378.7 42.7" stroke="#000" stroke-width="1.00" fill="none" />
<path d="M323.4 38.9 L323.4 34.9 L363.8 34.9 L363.8 39.1" stroke="#000" stroke-width="1.00" fill="none" />
<text x="344.1" y="33.5" font-size="4.5" text-anchor="middle" fill="#222" style="stroke-width:0.08px"><tspan font-style="italic">P</tspan> = 0.0001</text>
<path d="M348.6 72.8 L348.6 69.3 L361.5 69.3 L361.5 82" stroke="#000" stroke-width="1.00" fill="none" />
<path d="M365.0 82 L365.0 64.4 L378.8 64.4 L378.8 68.5" stroke="#000" stroke-width="1.00" fill="none" />
<text x="341.10" y="62.50" font-size="4.50" fill="#222" style="stroke-width:0.08px;stroke:#222">t = 9.467</text>
<text x="341.1" y="67.6" font-size="4.5" fill="#222" style="stroke-width:0.08px"><tspan font-style="italic">P</tspan> &lt; 0.0001</text>
<text x="365.00" y="57.60" font-size="4.50" fill="#222" style="stroke-width:0.08px;stroke:#222">t = 11.78</text>
<text x="365.0" y="62.5" font-size="4.5" fill="#222" style="stroke-width:0.08px"><tspan font-style="italic">P</tspan> &lt; 0.0001</text>
<text x="0" y="0" font-size="6.3" text-anchor="middle" transform="translate(283.2 67.9) rotate(-90)">Relative CXCL8 expression&#160;&#160; level</text>
<text x="0" y="0" font-size="6.3" text-anchor="middle" transform="translate(292.9 64.2) rotate(-90)">(to GAPDH)</text>
<text x="3.20" y="146.00" font-size="10.00">D</text>
<line x1="36.10" y1="169.32" x2="36.10" y2="251.30" stroke="#000" stroke-width="1.25" />
<line x1="36.10" y1="250.70" x2="91.00" y2="250.70" stroke="#000" stroke-width="1.25" />
<line x1="101.90" y1="250.70" x2="159.30" y2="250.70" stroke="#000" stroke-width="1.25" />
<line x1="33.30" y1="250.70" x2="36.10" y2="250.70" stroke="#000" stroke-width="1.10" />
<text x="32.20" y="253.10" font-size="6.60" text-anchor="end" fill="#222" style="stroke:#222">0</text>
<line x1="33.30" y1="223.57" x2="36.10" y2="223.57" stroke="#000" stroke-width="1.10" />
<text x="32.20" y="225.97" font-size="6.60" text-anchor="end" fill="#222" style="stroke:#222">50</text>
<line x1="33.30" y1="196.45" x2="36.10" y2="196.45" stroke="#000" stroke-width="1.10" />
<text x="32.20" y="198.85" font-size="6.60" text-anchor="end" fill="#222" style="stroke:#222">100</text>
<line x1="33.30" y1="169.32" x2="36.10" y2="169.32" stroke="#000" stroke-width="1.10" />
<text x="32.20" y="171.72" font-size="6.60" text-anchor="end" fill="#222" style="stroke:#222">150</text>
<line x1="45.15" y1="196.45" x2="45.15" y2="192.38" stroke="#000" stroke-width="0.80" />
<line x1="42.95" y1="192.38" x2="47.35" y2="192.38" stroke="#000" stroke-width="0.80" />
<rect x="40.70" y="196.45" width="8.90" height="54.25" fill="#000" />
<line x1="58.75" y1="188.31" x2="58.75" y2="185.60" stroke="#000" stroke-width="0.80" />
<line x1="56.55" y1="185.60" x2="60.95" y2="185.60" stroke="#000" stroke-width="0.80" />
<rect x="54.30" y="188.31" width="8.90" height="62.39" fill="#000" />
<line x1="72.45" y1="182.89" x2="72.45" y2="179.36" stroke="#000" stroke-width="0.80" />
<line x1="70.25" y1="179.36" x2="74.65" y2="179.36" stroke="#000" stroke-width="0.80" />
<rect x="68.00" y="182.89" width="8.90" height="67.81" fill="#000" />
<line x1="85.95" y1="180.18" x2="85.95" y2="177.19" stroke="#000" stroke-width="0.80" />
<line x1="83.75" y1="177.19" x2="88.15" y2="177.19" stroke="#000" stroke-width="0.80" />
<rect x="81.50" y="180.18" width="8.90" height="70.52" fill="#000" />
<line x1="108.65" y1="196.45" x2="108.65" y2="192.92" stroke="#000" stroke-width="0.80" />
<line x1="106.45" y1="192.92" x2="110.85" y2="192.92" stroke="#000" stroke-width="0.80" />
<rect x="104.70" y="196.45" width="7.90" height="53.75" fill="#999" stroke="#000" stroke-width="1.10" />
<line x1="122.05" y1="189.94" x2="122.05" y2="186.14" stroke="#000" stroke-width="0.80" />
<line x1="119.85" y1="186.14" x2="124.25" y2="186.14" stroke="#000" stroke-width="0.80" />
<rect x="118.10" y="189.94" width="7.90" height="60.26" fill="#999" stroke="#000" stroke-width="1.10" />
<line x1="135.75" y1="181.80" x2="135.75" y2="177.46" stroke="#000" stroke-width="0.80" />
<line x1="133.55" y1="177.46" x2="137.95" y2="177.46" stroke="#000" stroke-width="0.80" />
<rect x="131.80" y="181.80" width="7.90" height="68.40" fill="#999" stroke="#000" stroke-width="1.10" />
<line x1="149.45" y1="178.55" x2="149.45" y2="173.66" stroke="#000" stroke-width="0.80" />
<line x1="147.25" y1="173.66" x2="151.65" y2="173.66" stroke="#000" stroke-width="0.80" />
<rect x="145.50" y="178.55" width="7.90" height="71.65" fill="#999" stroke="#000" stroke-width="1.10" />
<text x="44.90" y="258.38" font-size="6.60" text-anchor="middle" fill="#222" style="stroke:#222">0</text>
<text x="58.70" y="258.38" font-size="6.60" text-anchor="middle" fill="#222" style="stroke:#222">24</text>
<text x="72.60" y="258.38" font-size="6.60" text-anchor="middle" fill="#222" style="stroke:#222">48</text>
<text x="86.40" y="258.38" font-size="6.60" text-anchor="middle" fill="#222" style="stroke:#222">72</text>
<text x="108.70" y="258.38" font-size="6.60" text-anchor="middle" fill="#222" style="stroke:#222">0</text>
<text x="122.30" y="258.38" font-size="6.60" text-anchor="middle" fill="#222" style="stroke:#222">24</text>
<text x="136.00" y="258.38" font-size="6.60" text-anchor="middle" fill="#222" style="stroke:#222">48</text>
<text x="149.80" y="258.38" font-size="6.60" text-anchor="middle" fill="#222" style="stroke:#222">72</text>
<text x="66.20" y="266.68" font-size="6.90" text-anchor="middle" fill="#222" style="stroke:#222">SW480</text>
<text x="128.60" y="266.68" font-size="6.90" text-anchor="middle" fill="#222" style="stroke:#222">SW620</text>
<text x="97.05" y="273.17" font-size="6.30" text-anchor="middle" fill="#222" style="stroke:#222">Time (h)</text>
<text x="87.30" y="157.34" font-size="7.90" text-anchor="middle">CXCL8</text>
<text x="0" y="0" font-size="6.47" text-anchor="middle" transform="translate(17.0 211.2) rotate(-90)">Proliferation rate (%)</text>
<path d="M45.3 191.5 L45.3 170 L72.5 170 L72.5 175.3" stroke="#000" stroke-width="1.10" fill="none" />
<path d="M58.7 185.8 L58.7 175.3 L86.1 175.3 L86.1 177.5" stroke="#000" stroke-width="1.10" fill="none" />
<text x="58.9" y="168.3" font-size="4.6" text-anchor="middle" fill="#222" style="stroke-width:0.08px"><tspan font-style="italic">P</tspan> &lt; 0.01</text>
<path d="M108.6 190 L108.6 164.5 L136.0 164.5 L136.0 169.2" stroke="#000" stroke-width="1.10" fill="none" />
<path d="M122.2 184.5 L122.2 169.2 L149.5 169.2 L149.5 172.2" stroke="#000" stroke-width="1.10" fill="none" />
<text x="123.9" y="163.0" font-size="4.6" text-anchor="middle" fill="#222" style="stroke-width:0.08px"><tspan font-style="italic">P</tspan> &lt; 0.01</text>
<text x="169.20" y="146.30" font-size="10.00">E</text>
<line x1="199.90" y1="167.35" x2="199.90" y2="250.30" stroke="#000" stroke-width="1.20" />
<line x1="199.90" y1="249.70" x2="324.90" y2="249.70" stroke="#000" stroke-width="1.20" />
<line x1="197.20" y1="249.70" x2="199.90" y2="249.70" stroke="#000" stroke-width="1.10" />
<text x="196.50" y="252.00" font-size="6.30" text-anchor="end" fill="#333" style="stroke:#333">0.0</text>
<line x1="197.20" y1="222.25" x2="199.90" y2="222.25" stroke="#000" stroke-width="1.10" />
<text x="196.50" y="224.55" font-size="6.30" text-anchor="end" fill="#333" style="stroke:#333">0.5</text>
<line x1="197.20" y1="194.80" x2="199.90" y2="194.80" stroke="#000" stroke-width="1.10" />
<text x="196.50" y="197.10" font-size="6.30" text-anchor="end" fill="#333" style="stroke:#333">1.0</text>
<line x1="197.20" y1="167.35" x2="199.90" y2="167.35" stroke="#000" stroke-width="1.10" />
<text x="196.50" y="169.65" font-size="6.30" text-anchor="end" fill="#333" style="stroke:#333">1.5</text>
<line x1="199.90" y1="249.70" x2="199.90" y2="252.20" stroke="#000" stroke-width="1.10" />
<text x="199.90" y="260.47" font-size="6.30" text-anchor="middle" fill="#222" style="stroke:#222">0</text>
<line x1="241.37" y1="249.70" x2="241.37" y2="252.20" stroke="#000" stroke-width="1.10" />
<text x="241.37" y="260.47" font-size="6.30" text-anchor="middle" fill="#222" style="stroke:#222">24</text>
<line x1="282.83" y1="249.70" x2="282.83" y2="252.20" stroke="#000" stroke-width="1.10" />
<text x="282.83" y="260.47" font-size="6.30" text-anchor="middle" fill="#222" style="stroke:#222">48</text>
<line x1="324.30" y1="249.70" x2="324.30" y2="252.20" stroke="#000" stroke-width="1.10" />
<text x="324.30" y="260.47" font-size="6.30" text-anchor="middle" fill="#222" style="stroke:#222">72</text>
<text x="261.60" y="270.90" font-size="6.40" text-anchor="middle" fill="#222" style="stroke:#222">Time (h)</text>
<text x="267.40" y="162.00" font-size="8.05" text-anchor="middle" font-weight="bold">CXCL8 RNAi</text>
<text x="0" y="0" font-size="6.5" text-anchor="middle" transform="translate(182.3 209.4) rotate(-90)">OD450</text>
<path d="M199.90 232.13 L241.37 225.54 L282.83 207.43 L324.30 184.92" stroke="#b8b8b8" stroke-width="0.75" fill="none" />
<path d="M199.90 232.13 L241.37 229.94 L282.83 215.11 L324.30 201.11" stroke="#19d419" stroke-width="0.75" fill="none" />
<path d="M199.90 232.68 L241.37 232.13 L282.83 220.05 L324.30 210.72" stroke="#ff2020" stroke-width="0.75" fill="none" />
<path d="M199.90 232.13 L241.37 228.84 L282.83 213.47 L324.30 198.09" stroke="#1f1fff" stroke-width="0.75" fill="none" />
<path d="M199.90 232.13 L241.37 224.45 L282.83 205.78 L324.30 182.45" stroke="#000" stroke-width="0.75" fill="none" />
<line x1="199.90" y1="233.23" x2="199.90" y2="231.03" stroke="#8ce68c" stroke-width="0.70" />
<line x1="198.30" y1="231.03" x2="201.50" y2="231.03" stroke="#8ce68c" stroke-width="0.80" />
<line x1="198.30" y1="233.23" x2="201.50" y2="233.23" stroke="#8ce68c" stroke-width="0.80" />
<line x1="241.37" y1="231.03" x2="241.37" y2="228.84" stroke="#8ce68c" stroke-width="0.70" />
<line x1="239.77" y1="228.84" x2="242.97" y2="228.84" stroke="#8ce68c" stroke-width="0.80" />
<line x1="239.77" y1="231.03" x2="242.97" y2="231.03" stroke="#8ce68c" stroke-width="0.80" />
<line x1="282.83" y1="216.76" x2="282.83" y2="213.47" stroke="#8ce68c" stroke-width="0.70" />
<line x1="281.23" y1="213.47" x2="284.43" y2="213.47" stroke="#8ce68c" stroke-width="0.80" />
<line x1="281.23" y1="216.76" x2="284.43" y2="216.76" stroke="#8ce68c" stroke-width="0.80" />
<line x1="324.30" y1="203.31" x2="324.30" y2="198.92" stroke="#8ce68c" stroke-width="0.70" />
<line x1="322.70" y1="198.92" x2="325.90" y2="198.92" stroke="#8ce68c" stroke-width="0.80" />
<line x1="322.70" y1="203.31" x2="325.90" y2="203.31" stroke="#8ce68c" stroke-width="0.80" />
<line x1="199.90" y1="233.78" x2="199.90" y2="231.58" stroke="#ff8c8c" stroke-width="0.70" />
<line x1="198.30" y1="231.58" x2="201.50" y2="231.58" stroke="#ff8c8c" stroke-width="0.80" />
<line x1="198.30" y1="233.78" x2="201.50" y2="233.78" stroke="#ff8c8c" stroke-width="0.80" />
<line x1="241.37" y1="233.23" x2="241.37" y2="231.03" stroke="#ff8c8c" stroke-width="0.70" />
<line x1="239.77" y1="231.03" x2="242.97" y2="231.03" stroke="#ff8c8c" stroke-width="0.80" />
<line x1="239.77" y1="233.23" x2="242.97" y2="233.23" stroke="#ff8c8c" stroke-width="0.80" />
<line x1="282.83" y1="221.43" x2="282.83" y2="218.68" stroke="#ff8c8c" stroke-width="0.70" />
<line x1="281.23" y1="218.68" x2="284.43" y2="218.68" stroke="#ff8c8c" stroke-width="0.80" />
<line x1="281.23" y1="221.43" x2="284.43" y2="221.43" stroke="#ff8c8c" stroke-width="0.80" />
<line x1="324.30" y1="213.47" x2="324.30" y2="207.98" stroke="#ff8c8c" stroke-width="0.70" />
<line x1="322.70" y1="207.98" x2="325.90" y2="207.98" stroke="#ff8c8c" stroke-width="0.80" />
<line x1="322.70" y1="213.47" x2="325.90" y2="213.47" stroke="#ff8c8c" stroke-width="0.80" />
<line x1="199.90" y1="233.23" x2="199.90" y2="231.03" stroke="#8c8cff" stroke-width="0.70" />
<line x1="198.30" y1="231.03" x2="201.50" y2="231.03" stroke="#8c8cff" stroke-width="0.80" />
<line x1="198.30" y1="233.23" x2="201.50" y2="233.23" stroke="#8c8cff" stroke-width="0.80" />
<line x1="241.37" y1="229.94" x2="241.37" y2="227.74" stroke="#8c8cff" stroke-width="0.70" />
<line x1="239.77" y1="227.74" x2="242.97" y2="227.74" stroke="#8c8cff" stroke-width="0.80" />
<line x1="239.77" y1="229.94" x2="242.97" y2="229.94" stroke="#8c8cff" stroke-width="0.80" />
<line x1="282.83" y1="215.11" x2="282.83" y2="211.82" stroke="#8c8cff" stroke-width="0.70" />
<line x1="281.23" y1="211.82" x2="284.43" y2="211.82" stroke="#8c8cff" stroke-width="0.80" />
<line x1="281.23" y1="215.11" x2="284.43" y2="215.11" stroke="#8c8cff" stroke-width="0.80" />
<line x1="324.30" y1="203.31" x2="324.30" y2="192.88" stroke="#8c8cff" stroke-width="0.70" />
<line x1="322.70" y1="192.88" x2="325.90" y2="192.88" stroke="#8c8cff" stroke-width="0.80" />
<line x1="322.70" y1="203.31" x2="325.90" y2="203.31" stroke="#8c8cff" stroke-width="0.80" />
<line x1="199.90" y1="233.23" x2="199.90" y2="231.03" stroke="#c8c8c8" stroke-width="0.70" />
<line x1="198.30" y1="231.03" x2="201.50" y2="231.03" stroke="#c8c8c8" stroke-width="0.80" />
<line x1="198.30" y1="233.23" x2="201.50" y2="233.23" stroke="#c8c8c8" stroke-width="0.80" />
<line x1="241.37" y1="227.19" x2="241.37" y2="223.90" stroke="#c8c8c8" stroke-width="0.70" />
<line x1="239.77" y1="223.90" x2="242.97" y2="223.90" stroke="#c8c8c8" stroke-width="0.80" />
<line x1="239.77" y1="227.19" x2="242.97" y2="227.19" stroke="#c8c8c8" stroke-width="0.80" />
<line x1="282.83" y1="209.07" x2="282.83" y2="205.78" stroke="#c8c8c8" stroke-width="0.70" />
<line x1="281.23" y1="205.78" x2="284.43" y2="205.78" stroke="#c8c8c8" stroke-width="0.80" />
<line x1="281.23" y1="209.07" x2="284.43" y2="209.07" stroke="#c8c8c8" stroke-width="0.80" />
<line x1="324.30" y1="190.41" x2="324.30" y2="179.43" stroke="#c8c8c8" stroke-width="0.70" />
<line x1="322.70" y1="179.43" x2="325.90" y2="179.43" stroke="#c8c8c8" stroke-width="0.80" />
<line x1="322.70" y1="190.41" x2="325.90" y2="190.41" stroke="#c8c8c8" stroke-width="0.80" />
<line x1="199.90" y1="233.23" x2="199.90" y2="231.03" stroke="#666" stroke-width="0.70" />
<line x1="198.30" y1="231.03" x2="201.50" y2="231.03" stroke="#666" stroke-width="0.80" />
<line x1="198.30" y1="233.23" x2="201.50" y2="233.23" stroke="#666" stroke-width="0.80" />
<line x1="241.37" y1="226.09" x2="241.37" y2="222.80" stroke="#666" stroke-width="0.70" />
<line x1="239.77" y1="222.80" x2="242.97" y2="222.80" stroke="#666" stroke-width="0.80" />
<line x1="239.77" y1="226.09" x2="242.97" y2="226.09" stroke="#666" stroke-width="0.80" />
<line x1="282.83" y1="207.70" x2="282.83" y2="203.86" stroke="#666" stroke-width="0.70" />
<line x1="281.23" y1="203.86" x2="284.43" y2="203.86" stroke="#666" stroke-width="0.80" />
<line x1="281.23" y1="207.70" x2="284.43" y2="207.70" stroke="#666" stroke-width="0.80" />
<line x1="324.30" y1="184.92" x2="324.30" y2="179.98" stroke="#666" stroke-width="0.70" />
<line x1="322.70" y1="179.98" x2="325.90" y2="179.98" stroke="#666" stroke-width="0.80" />
<line x1="322.70" y1="184.92" x2="325.90" y2="184.92" stroke="#666" stroke-width="0.80" />
<path d="M199.90 229.86 L202.18 232.13 L199.90 234.41 L197.62 232.13 Z" fill="#19d419"/>
<path d="M241.37 227.66 L243.64 229.94 L241.37 232.21 L239.09 229.94 Z" fill="#19d419"/>
<path d="M282.83 212.84 L285.11 215.11 L282.83 217.39 L280.56 215.11 Z" fill="#19d419"/>
<path d="M324.30 198.84 L326.57 201.11 L324.30 203.39 L322.03 201.11 Z" fill="#19d419"/>
<rect x="198.15" y="230.93" width="3.50" height="3.50" fill="#ff2020" />
<rect x="239.62" y="230.38" width="3.50" height="3.50" fill="#ff2020" />
<rect x="281.08" y="218.30" width="3.50" height="3.50" fill="#ff2020" />
<rect x="322.55" y="208.97" width="3.50" height="3.50" fill="#ff2020" />
<path d="M199.90 234.06 L197.97 230.73 L201.83 230.73 Z" fill="#1f1fff"/>
<path d="M241.37 230.76 L239.44 227.44 L243.29 227.44 Z" fill="#1f1fff"/>
<path d="M282.83 215.39 L280.91 212.07 L284.76 212.07 Z" fill="#1f1fff"/>
<path d="M324.30 200.02 L322.38 196.69 L326.23 196.69 Z" fill="#1f1fff"/>
<path d="M199.90 230.21 L197.97 233.53 L201.83 233.53 Z" fill="#b8b8b8"/>
<path d="M241.37 223.62 L239.44 226.94 L243.29 226.94 Z" fill="#b8b8b8"/>
<path d="M282.83 205.50 L280.91 208.83 L284.76 208.83 Z" fill="#b8b8b8"/>
<path d="M324.30 182.99 L322.38 186.32 L326.23 186.32 Z" fill="#b8b8b8"/>
<circle cx="199.90" cy="232.13" r="1.75" fill="#000" />
<circle cx="241.37" cy="224.45" r="1.75" fill="#000" />
<circle cx="282.83" cy="205.78" r="1.75" fill="#000" />
<circle cx="324.30" cy="182.45" r="1.75" fill="#000" />
<path d="M327.0 180.3 L329.9 180.3 L329.9 197.0 L327.0 197.0" stroke="#000" stroke-width="1.10" fill="none" />
<path d="M327.0 199.8 L329.9 199.8 L329.9 211.6 L327.0 211.6" stroke="#000" stroke-width="1.10" fill="none" />
<text x="0" y="0" font-size="5.0" text-anchor="middle" fill="#222" transform="translate(335.3 186.4) rotate(-90)" style="stroke-width:0.08px"><tspan font-style="italic">P</tspan> &lt; 0.001</text>
<text x="0" y="0" font-size="5.0" text-anchor="middle" fill="#222" transform="translate(335.3 208.9) rotate(-90)" style="stroke-width:0.08px"><tspan font-style="italic">P</tspan> &lt; 0.001</text>
<line x1="342.90" y1="170.80" x2="351.90" y2="170.80" stroke="#000" stroke-width="0.90" />
<circle cx="347.40" cy="170.80" r="1.50" fill="#000" />
<text x="357.00" y="173.10" font-size="6.50" fill="#111" style="stroke:#111">Wild type</text>
<line x1="342.90" y1="177.90" x2="351.90" y2="177.90" stroke="#c8c8c8" stroke-width="0.90" />
<path d="M347.40 176.25 L345.75 179.10 L349.05 179.10 Z" fill="#b8b8b8"/>
<text x="357.00" y="180.20" font-size="6.50" fill="#111" style="stroke:#111">Normal control</text>
<line x1="342.90" y1="185.00" x2="351.90" y2="185.00" stroke="#1f1fff" stroke-width="0.90" />
<path d="M347.40 186.65 L345.75 183.80 L349.05 183.80 Z" fill="#1f1fff"/>
<text x="357.00" y="187.30" font-size="6.50" fill="#111" style="stroke:#111">CXCL8 RNAi-1</text>
<line x1="342.90" y1="192.10" x2="351.90" y2="192.10" stroke="#ff2020" stroke-width="0.90" />
<rect x="345.90" y="190.60" width="3.00" height="3.00" fill="#ff2020" />
<text x="357.00" y="194.40" font-size="6.50" fill="#111" style="stroke:#111">CXCL8 RNAi-2</text>
<line x1="342.90" y1="199.20" x2="351.90" y2="199.20" stroke="#19d419" stroke-width="0.90" />
<path d="M347.40 197.25 L349.35 199.20 L347.40 201.15 L345.45 199.20 Z" fill="#19d419"/>
<text x="357.00" y="201.50" font-size="6.50" fill="#111" style="stroke:#111">CXCL8 RNAi-3</text>
<text x="3.60" y="286.20" font-size="10.00">F</text>
<text x="3.50" y="420.00" font-size="10.00">H</text>
<text x="51.50" y="293.30" font-size="6.40" text-anchor="middle">PBS</text>
<text x="110.95" y="293.30" font-size="6.40" text-anchor="middle">CXCL8+MK2206</text>
<text x="170.40" y="293.30" font-size="6.40" text-anchor="middle">CXCL8</text>
<text x="51.50" y="423.60" font-size="6.40" text-anchor="middle">Wild type</text>
<text x="110.95" y="423.60" font-size="6.40" text-anchor="middle">Normal control</text>
<text x="170.40" y="423.60" font-size="6.40" text-anchor="middle">CXCL8 RNAi-2</text>
<text x="0" y="0" font-size="6.8" text-anchor="middle" transform="translate(19.9 323.4) rotate(-90)">SW480</text>
<text x="0" y="0" font-size="6.8" text-anchor="middle" transform="translate(19.9 382.2) rotate(-90)">SW620</text>
<text x="0" y="0" font-size="6.8" text-anchor="middle" transform="translate(19.9 453.6) rotate(-90)">SW480</text>
<text x="0" y="0" font-size="6.8" text-anchor="middle" transform="translate(19.9 513.2) rotate(-90)">SW620</text>
<rect x="22.50" y="295.00" width="58.00" height="56.80" fill="#dfdfe2" />
<path d="M50.1 332.2l0.1 -0.2M23.6 316.4l-0.1 0.2M62.4 329.1l0.0 0.1M31.3 320.1l-0.2 0.2M26.4 341.2l-0.2 0.1M42.2 318.1l0.2 -0.2M26.5 346.6l0.0 -0.2M79.3 348.3l-0.2 -0.0M30.7 312.9l0.1 -0.2M62.7 298.4l-0.2 0.2M45.8 318.9l0.0 -0.0M44.9 297.2l0.1 0.2M78.6 332.5l-0.1 -0.1M62.3 333.1l-0.2 -0.1M43.7 324.0l0.2 0.0M24.6 341.4l-0.0 0.0M35.7 319.3l-0.1 0.1M28.8 326.2l-0.2 0.1M25.1 310.9l-0.1 0.1M26.0 321.1l-0.1 -0.1M50.1 349.0l-0.0 0.2M32.6 347.1l-0.1 -0.2M65.7 346.4l-0.2 -0.1M66.9 314.6l-0.1 -0.2M25.3 330.0l0.2 0.2M51.7 296.8l-0.1 0.1M70.4 331.2l-0.1 0.0M50.2 330.5l-0.1 0.2M74.0 304.5l-0.1 0.2M38.9 348.2l0.0 0.1M63.2 307.4l-0.1 -0.1M61.9 334.2l-0.2 0.2M47.0 309.0l-0.0 0.2M54.9 330.4l0.2 0.2M66.3 318.8l0.0 0.2M68.0 327.9l-0.1 -0.1M64.9 326.9l-0.2 0.1M74.5 340.0l0.2 0.2M53.5 339.5l-0.1 -0.2M43.1 312.9l0.2 0.1M53.9 330.2l-0.2 0.0M62.9 317.5l-0.1 -0.0M41.4 333.7l-0.2 -0.2M40.8 334.3l0.1 0.1M76.3 315.9l-0.2 -0.0M48.3 305.5l0.1 -0.1M36.6 313.8l0.2 -0.2M43.5 311.1l-0.1 -0.0M35.6 346.8l0.0 0.1M32.3 321.4l0.1 0.2M37.2 321.1l0.2 0.2M36.0 325.5l0.1 -0.1M61.4 332.5l0.2 0.0M61.8 315.0l0.1 -0.1M51.5 315.6l-0.1 -0.2M35.9 325.9l-0.1 -0.2M68.8 311.4l0.2 0.0M45.2 344.2l0.2 -0.1M30.2 331.3l0.2 0.1M67.7 318.5l0.1 -0.1M46.2 316.7l-0.1 -0.1M69.0 305.0l-0.1 -0.1M78.3 324.7l-0.2 0.2M72.8 341.3l-0.1 0.1M40.4 303.2l0.2 0.2M35.0 344.6l-0.2 -0.1M23.7 305.0l-0.2 0.1M39.9 306.1l-0.2 -0.1M72.1 329.4l-0.2 0.1M53.6 320.5l0.0 0.1M68.6 323.7l0.1 -0.0M59.1 317.2l-0.0 0.0M63.8 311.0l0.2 -0.0M71.8 334.0l0.2 0.1M47.3 318.1l0.1 0.1M70.8 302.7l-0.2 -0.2M27.8 298.6l-0.2 -0.1M29.5 333.7l0.1 0.2M77.7 337.2l0.2 -0.2M36.0 347.2l-0.0 -0.1M66.1 319.1l0.0 -0.1M36.8 300.4l0.1 0.2M79.2 338.2l0.2 -0.1M40.0 347.0l0.1 0.1M23.7 308.3l-0.0 0.1M70.1 337.8l-0.1 -0.1M72.2 350.7l-0.0 -0.2M58.6 325.4l-0.1 -0.1M45.0 329.7l-0.2 0.0M77.3 337.1l-0.1 -0.0M28.8 336.6l0.1 -0.2M54.2 328.7l0.0 -0.1M40.7 315.3l0.2 -0.1M51.6 321.2l-0.2 -0.1M34.7 313.5l-0.1 -0.1M76.5 312.1l-0.1 0.1M45.6 324.3l0.1 -0.2M61.3 301.1l-0.1 0.2M79.4 333.1l-0.2 -0.0M39.1 342.4l-0.1 -0.2M59.4 331.1l0.0 -0.0M77.7 321.1l0.2 -0.1M49.5 315.6l0.1 0.1M36.6 324.9l0.1 0.0M60.8 329.9l0.1 -0.1M40.5 296.9l0.2 0.1M45.2 349.5l0.2 -0.2M70.7 319.0l-0.1 -0.1M46.6 298.4l-0.2 -0.2M40.5 304.3l-0.2 0.2M44.6 322.9l0.1 0.2M31.3 308.2l0.2 0.2M76.1 325.0l-0.1 -0.2M74.9 338.2l0.0 0.1M37.9 325.3l0.2 -0.2M58.2 305.8l0.2 0.2M59.7 319.8l-0.2 -0.0M43.5 317.8l-0.2 0.2M52.8 326.8l0.2 0.2M54.3 325.9l0.2 -0.1M74.3 296.9l0.1 0.0M58.5 350.8l-0.1 -0.0M68.6 337.2l0.0 0.1M61.6 344.0l0.1 -0.1M39.3 300.1l-0.2 -0.2M78.6 303.4l0.1 -0.2M78.1 325.2l-0.2 0.2M72.0 350.1l-0.1 -0.0M60.7 311.3l0.0 0.1M65.8 341.5l0.1 -0.1M66.1 319.7l-0.2 -0.2M58.5 315.5l-0.2 -0.0M46.6 313.6l0.0 0.0M53.2 350.6l0.2 -0.1M72.7 313.1l0.2 -0.2M41.1 347.5l0.1 0.1M34.7 302.3l0.2 -0.2M33.0 319.5l0.2 0.1M79.9 339.0l-0.0 0.2M41.0 298.4l0.2 0.2M60.6 322.3l-0.1 -0.1M26.8 300.7l-0.0 0.2M76.1 324.2l0.1 -0.0M67.2 334.9l0.2 0.2M61.6 328.4l-0.2 -0.0M48.5 304.1l-0.1 -0.0M33.0 330.3l-0.1 0.2M62.0 324.3l-0.0 -0.1M34.4 349.2l0.2 0.1M60.1 303.5l0.0 -0.2M41.5 328.3l-0.2 -0.1M64.6 322.5l0.2 -0.2M28.0 347.9l0.1 0.1M54.7 303.8l0.2 -0.0M74.8 303.7l-0.1 0.0M37.1 343.5l-0.1 -0.2M32.3 310.7l0.2 0.2M61.2 319.3l-0.2 0.2M30.2 306.7l-0.0 0.2M33.4 299.0l0.2 -0.2M64.9 303.4l-0.1 -0.1M48.0 346.9l0.2 0.0M28.0 305.3l-0.1 0.1M75.2 296.9l-0.1 0.2M31.6 300.0l-0.1 0.2M38.0 335.7l-0.2 0.1M32.6 328.7l0.1 0.2M47.9 350.5l-0.0 0.2M75.1 351.2l-0.2 -0.1M62.7 344.9l-0.1 0.1M50.2 295.7l-0.2 -0.2M36.0 347.5l0.1 0.2M75.2 317.4l0.1 0.1M62.4 300.7l0.2 -0.2M48.4 333.9l0.1 0.2M40.8 312.1l0.1 -0.2M72.8 313.1l-0.1 -0.1M63.7 305.2l-0.2 -0.2M30.5 330.3l0.2 -0.2M49.3 315.3l-0.1 -0.1M29.2 319.1l-0.1 -0.2M30.7 347.3l0.1 0.2M69.4 336.7l-0.1 -0.2M79.1 333.7l0.1 -0.2M68.1 325.4l-0.2 -0.1M78.2 330.2l-0.2 -0.2M65.8 315.2l-0.0 -0.2M33.2 323.2l-0.0 -0.2M31.6 320.3l-0.2 -0.2M50.0 298.4l0.1 0.1M63.2 348.6l-0.2 -0.0M46.6 299.5l0.2 -0.2M79.0 333.2l0.2 -0.2M73.9 349.3l0.1 0.0M60.0 322.4l0.2 0.0M54.2 318.1l0.1 0.0M76.6 338.6l-0.1 0.1M36.3 322.4l0.0 0.1M27.1 303.7l-0.2 0.1M32.7 326.7l0.2 -0.0M35.7 328.8l-0.0 -0.0M33.2 333.6l-0.1 0.2M51.3 333.6l0.2 0.2M24.2 347.3l-0.2 0.2M68.0 309.8l0.1 0.0M48.8 330.5l-0.0 0.1M62.6 295.8l0.1 0.1M72.4 325.4l0.0 -0.2M34.2 345.5l-0.2 0.2M30.0 316.9l0.1 -0.2M48.5 340.0l-0.1 -0.2M26.4 348.4l-0.2 0.1M59.3 311.1l0.0 0.1M34.9 309.2l0.2 -0.1M50.9 320.9l0.1 0.2M66.5 330.4l0.0 -0.2M55.7 319.7l0.1 -0.1M30.0 316.9l0.2 -0.0M61.1 298.7l-0.1 -0.1M50.6 302.1l0.2 -0.1M23.1 308.9l0.0 0.1M69.4 300.3l0.2 0.2M52.3 331.6l-0.1 -0.2M23.6 349.1l0.2 -0.0M57.3 322.1l0.1 -0.2M66.0 305.3l0.0 0.1M71.3 329.8l-0.2 0.2M44.3 326.9l0.2 0.2M28.9 320.9l-0.1 0.2M45.7 346.3l0.1 -0.0M66.5 333.4l-0.2 -0.1M30.7 341.9l-0.1 -0.1M63.9 350.5l-0.2 0.1M36.0 339.6l0.1 0.1M56.2 302.3l0.2 -0.2M56.1 349.0l-0.1 -0.0M61.5 331.6l-0.1 -0.0M74.1 335.5l-0.2 0.1M71.6 329.1l0.2 -0.1M39.5 343.8l-0.1 -0.2M31.4 344.7l0.2 -0.2M65.3 306.5l0.1 -0.2M55.9 337.4l0.0 0.1M29.7 321.0l0.1 -0.1M65.4 328.9l0.2 0.1M40.4 341.2l0.2 -0.0M64.0 318.6l0.0 -0.1M49.3 312.7l0.2 0.1M58.0 324.7l-0.0 -0.2M59.9 320.4l-0.1 0.0M30.4 331.7l0.1 -0.1M32.2 349.5l0.1 -0.1M28.1 327.5l-0.1 0.2M63.8 310.9l-0.0 -0.2M35.8 326.7l0.2 -0.0M77.9 309.8l-0.2 0.2M44.5 311.1l-0.0 0.1M35.5 301.4l0.0 0.1M54.9 304.4l0.2 -0.0M53.9 344.9l-0.2 -0.0M47.2 331.1l-0.1 -0.1M35.9 326.7l-0.1 0.2M72.6 336.1l-0.0 0.2M55.7 339.2l0.2 -0.2M66.4 345.9l-0.0 -0.1M24.8 345.5l-0.1 -0.2M28.1 324.3l0.1 0.2M60.9 301.2l0.2 0.2M69.0 345.7l0.2 0.1M66.7 296.8l0.2 -0.2M47.3 327.3l0.0 -0.1M52.0 313.1l0.1 -0.2M42.6 331.8l-0.0 -0.2M49.2 347.3l0.0 0.1M44.8 350.2l0.0 0.2M58.7 340.9l-0.1 0.2M79.3 345.6l0.2 -0.1M42.3 345.3l0.2 0.0M54.9 296.2l0.0 -0.2M53.0 308.0l0.1 -0.2M41.7 338.5l0.0 -0.2M79.1 296.7l-0.0 0.1M56.1 331.9l0.2 -0.2M52.0 309.5l0.0 -0.0M58.9 340.2l0.0 -0.0M54.7 304.9l0.2 -0.1M51.4 342.4l0.2 0.2M63.4 325.2l-0.0 0.1M58.4 296.1l0.0 0.1M43.5 341.8l0.1 0.2M39.7 332.4l0.0 -0.1M40.0 300.4l0.2 -0.1M42.7 309.7l0.0 -0.0M72.4 299.9l-0.1 0.2M68.2 299.1l-0.0 0.2M78.8 313.2l0.1 -0.1M26.7 345.6l-0.2 0.2M48.7 343.1l-0.0 0.2M65.5 305.1l-0.2 -0.2M57.6 301.6l-0.2 -0.1M26.1 312.6l0.1 -0.1M68.1 310.0l-0.1 -0.0M71.4 298.2l0.2 -0.2M78.3 326.5l0.1 0.0M61.2 333.8l-0.2 -0.2M74.8 307.7l-0.1 -0.2M63.7 339.5l-0.2 0.2M29.5 323.2l0.0 -0.1M41.5 322.9l0.1 -0.1M36.3 350.0l-0.1 -0.2M76.1 347.2l-0.1 0.0M72.8 313.4l-0.1 -0.2M30.4 329.4l-0.0 0.2M48.4 310.6l-0.1 -0.2M50.4 334.1l-0.2 0.0M79.9 334.4l-0.1 0.1M29.3 301.6l0.2 0.1M58.6 326.8l-0.1 0.2M52.4 341.5l0.1 -0.1M69.5 315.0l0.1 0.2M77.3 330.2l-0.2 -0.2M70.3 312.7l-0.2 0.0M46.8 336.8l-0.2 0.0M77.5 305.1l-0.1 -0.1M30.4 303.5l-0.1 0.0M30.8 330.9l-0.1 -0.1M71.5 336.9l-0.0 -0.1M52.1 331.7l0.1 0.1M23.1 304.4l0.2 0.0M52.3 301.9l0.1 0.2M40.7 310.6l-0.2 -0.1M52.2 320.4l-0.2 -0.2M36.4 341.9l0.2 0.2M51.1 315.7l0.2 0.1M59.8 334.6l0.2 0.0M37.6 336.5l0.2 -0.1M44.9 338.0l0.2 -0.2M69.0 309.1l-0.2 -0.2M49.3 320.8l-0.2 0.1M33.6 347.3l0.2 -0.1M24.3 299.4l0.0 -0.1M67.4 318.3l-0.1 -0.2M79.5 338.1l0.1 -0.1M48.3 337.7l0.1 -0.1M43.0 340.8l-0.2 0.1M63.2 324.3l0.0 0.2M41.5 337.5l0.1 0.1M26.8 334.2l-0.1 -0.2M74.7 310.3l-0.0 -0.1M29.4 311.7l0.1 0.1" stroke="#b4b4c6" stroke-width="1.15" stroke-opacity="0.75" stroke-linecap="round" fill="none"/>
<path d="M65.6 304.0l-0.1 0.2M52.9 336.7l-0.0 -0.0M24.9 342.4l0.2 0.1M35.3 330.6l0.1 -0.1M44.5 345.1l-0.1 0.1M25.7 296.8l-0.2 -0.1M76.0 327.7l-0.0 -0.2M54.8 302.7l-0.2 -0.1M37.7 339.2l0.0 0.1M38.9 317.4l-0.2 -0.1M79.6 332.9l-0.1 0.1M74.9 340.8l0.0 -0.2M26.0 299.4l0.2 0.1M62.9 335.8l-0.2 0.0M23.5 297.3l0.1 -0.2M46.5 315.2l0.2 -0.1M34.7 333.4l-0.2 0.2M75.6 350.8l0.1 -0.2M34.5 335.4l-0.0 0.1M34.9 327.3l0.2 -0.1M70.5 303.5l0.1 -0.2M36.9 299.5l-0.2 0.0M69.3 340.9l0.2 -0.1M76.4 319.3l0.1 0.1M38.5 311.2l-0.0 -0.1M64.5 343.8l0.1 -0.2M68.5 338.4l0.2 -0.2M76.2 317.6l0.0 -0.1M37.3 319.0l0.0 -0.1M54.5 319.3l-0.1 0.1M41.2 297.5l-0.1 -0.0M58.2 299.3l0.2 -0.2M76.9 297.1l-0.1 -0.1M61.4 300.5l-0.1 0.2M75.3 298.6l-0.2 -0.1M43.6 333.3l0.2 0.1M41.9 307.8l-0.2 -0.2M72.2 343.8l-0.1 -0.1M72.2 308.3l-0.0 0.2M24.4 315.2l-0.2 -0.0M76.3 349.0l0.1 0.2M44.5 336.7l0.1 0.2M43.8 342.9l-0.2 0.0M77.0 337.0l0.1 -0.2M44.2 326.8l0.2 -0.1M53.8 337.1l0.1 -0.1M28.7 315.6l-0.2 0.0M53.0 298.1l0.2 0.2M34.0 310.7l0.2 -0.2M32.1 315.9l0.2 -0.2M53.1 337.8l0.1 -0.0M60.1 335.2l-0.0 -0.1M59.0 340.5l-0.2 0.1M46.9 304.5l-0.1 -0.2M69.9 326.7l-0.0 0.2M70.2 317.6l-0.2 0.0M36.3 329.3l-0.2 0.1M71.6 305.6l0.2 -0.2M31.2 326.9l-0.1 -0.1M44.1 337.9l0.1 0.2M36.6 310.0l0.2 -0.0M29.5 323.6l-0.1 0.1M46.1 304.5l0.1 0.2M31.7 307.4l-0.0 -0.2M77.8 319.8l-0.2 -0.2M35.4 309.5l0.1 0.2M45.6 326.2l0.2 -0.0M44.6 344.1l0.1 -0.0M69.4 309.3l-0.2 -0.1M41.9 343.2l-0.1 -0.2M29.2 340.2l0.0 0.2M42.0 303.5l-0.2 0.1M51.7 342.6l0.2 -0.0M28.2 342.9l0.2 0.0M53.3 339.1l-0.1 -0.2M77.5 321.6l-0.1 0.2M74.6 320.0l0.1 0.2M52.5 323.8l0.2 -0.2M63.0 306.9l-0.1 0.1M27.4 346.6l0.1 0.2M71.2 328.7l-0.0 -0.2M75.0 338.9l-0.1 -0.1M78.0 313.9l-0.2 -0.1M63.4 340.7l-0.1 0.1M57.1 332.7l-0.2 0.1M28.9 301.4l0.1 0.2M62.3 343.2l0.2 0.1M75.7 349.7l0.2 -0.2M39.4 320.6l0.0 -0.0M73.8 331.3l0.2 0.2M25.5 311.5l0.2 -0.2M44.7 305.2l0.1 -0.0M72.5 349.4l0.2 -0.1M59.4 351.0l-0.0 -0.0M79.4 327.4l-0.2 0.0M30.4 297.6l0.2 0.1M45.9 347.7l-0.1 -0.2M26.3 322.7l-0.1 0.1M78.3 322.1l0.2 -0.2M64.2 307.2l0.2 0.0M43.5 317.3l-0.1 0.1M50.7 303.4l-0.1 -0.1M38.9 304.5l0.0 0.1M23.2 333.9l-0.2 -0.0M69.1 311.9l0.2 -0.2M40.5 295.6l-0.2 0.1M75.8 338.5l-0.1 0.1M59.1 310.8l-0.2 0.2M76.0 314.5l-0.2 0.1M34.0 298.3l0.2 -0.1M36.6 332.2l0.1 0.1M32.5 345.6l-0.1 -0.1M68.0 308.2l-0.0 -0.1M50.1 337.8l-0.2 0.2M51.7 342.9l-0.0 -0.1M55.2 299.5l-0.2 -0.2M33.1 310.3l-0.2 0.2M25.7 309.8l-0.2 0.0M73.4 326.2l-0.1 0.1M57.1 335.4l0.1 -0.1M27.0 312.3l-0.1 0.1M71.1 299.1l0.0 0.0M48.4 308.8l0.2 0.1M66.8 341.5l0.2 0.2M67.6 332.8l-0.2 -0.1M42.0 338.9l-0.2 0.1M47.0 301.2l-0.1 -0.1M61.3 309.9l-0.1 0.2M45.6 338.6l-0.2 -0.1M33.0 309.3l0.0 0.2M51.7 344.3l-0.1 -0.2M70.7 311.7l-0.1 0.1M79.9 325.3l0.0 -0.1M26.7 315.4l-0.1 0.0M30.5 309.8l-0.1 -0.2M68.4 315.4l0.1 0.1M64.0 324.6l-0.2 0.1M42.2 310.4l0.2 0.2M71.5 346.1l0.1 0.2M58.7 345.6l-0.2 -0.2M28.3 317.5l0.2 0.0M39.2 331.2l-0.1 0.1M64.6 335.4l0.0 -0.0M33.2 300.5l-0.2 -0.1M71.2 343.9l-0.2 0.1M44.0 316.4l0.2 0.0M54.6 346.7l-0.1 -0.1M29.4 311.7l0.1 -0.2M51.6 304.2l0.0 -0.2M60.5 322.0l0.2 -0.1M31.4 327.8l-0.1 0.2M59.8 343.4l0.1 0.1M37.3 324.4l-0.1 0.1M48.5 346.9l0.0 0.1M29.1 350.4l0.1 -0.1M62.0 334.1l-0.1 -0.1M27.7 302.7l-0.1 -0.1M34.5 344.5l-0.1 -0.1M29.3 318.5l-0.2 -0.2M71.9 328.4l0.1 0.0M57.2 304.4l-0.2 0.0M36.0 296.4l0.2 0.1M66.2 311.7l-0.2 0.1M33.6 311.7l0.2 0.1M67.8 341.4l-0.2 -0.2M37.4 346.3l0.2 -0.2M53.2 298.5l-0.0 0.2M48.5 310.1l-0.2 0.1M52.4 297.1l-0.1 -0.2M48.8 303.6l-0.0 -0.2" stroke="#8585a8" stroke-width="1.00" stroke-opacity="0.85" stroke-linecap="round" fill="none"/>
<path d="M79.9 336.8l-0.5 0.2M29.1 339.4l0.1 0.3M48.6 336.4l-0.1 0.2M38.4 303.3l0.2 0.4M58.0 308.1l-0.3 -0.3M48.5 316.9l-0.2 0.1M48.5 307.0l-0.4 0.1M31.4 330.6l-0.4 -0.1M41.1 343.2l-0.3 0.4M41.3 307.4l-0.0 0.4M55.7 305.5l0.4 -0.3M68.8 337.4l0.4 0.5M59.8 333.1l0.3 0.4M41.3 341.0l0.1 0.1M44.1 329.2l-0.1 -0.3M57.9 308.6l-0.1 0.4M63.4 300.7l0.5 -0.4M35.8 297.3l0.4 -0.2M27.4 314.3l0.1 -0.2M24.3 315.5l0.1 0.3M75.8 347.7l0.0 -0.3M42.1 345.0l0.1 0.1M68.1 317.0l-0.1 0.1M32.0 340.3l0.3 -0.2M61.2 315.1l-0.3 -0.5M41.3 314.5l0.3 0.1M76.2 336.4l-0.2 -0.1M72.8 308.8l-0.3 -0.3M62.7 349.9l0.4 0.4M38.3 347.5l-0.2 -0.2M41.6 346.4l-0.2 0.3M36.9 337.1l0.4 -0.0M62.2 341.6l-0.3 0.1M40.2 299.3l-0.4 0.0M29.3 319.3l0.1 -0.1M66.4 306.9l0.3 0.2M34.7 320.5l-0.5 0.1M34.5 348.9l-0.5 0.1M46.3 318.3l0.3 -0.1M62.6 343.3l0.4 0.2M79.0 346.6l-0.0 -0.4M29.9 303.8l0.2 0.0M50.9 304.4l-0.1 -0.2M26.3 322.6l-0.3 -0.2M47.8 318.1l-0.3 0.2M77.4 329.5l0.4 0.4M24.6 335.3l0.5 -0.2M64.6 327.1l0.5 0.0M72.9 321.0l-0.4 0.0M45.2 299.1l-0.2 -0.3M74.4 345.3l0.0 0.4M45.8 332.1l0.2 0.5M62.8 311.2l0.0 0.3M67.8 309.3l0.4 0.0M69.5 348.5l0.3 -0.3M48.7 301.3l-0.3 -0.4M37.0 301.0l0.2 0.5M64.0 342.9l0.1 -0.0M48.3 297.3l0.3 -0.4M73.7 310.1l-0.0 0.1M48.6 319.9l0.5 0.3M32.2 332.5l0.2 -0.2M29.4 325.7l-0.1 -0.1M60.5 300.5l0.1 0.3M68.6 335.3l-0.3 -0.2M41.7 350.4l0.4 0.1M36.1 334.6l0.4 0.5M74.6 309.3l0.5 0.2M68.6 303.8l0.4 0.4M61.8 333.5l0.1 -0.2" stroke="#3e3ea6" stroke-width="1.00" stroke-opacity="0.90" stroke-linecap="round" fill="none"/>
<path d="M62.5 328.1l-0.1 0.4l0.3 0.7M35.9 324.4l0.6 0.2M50.8 316.7l0.6 -0.3l-0.4 0.3M42.8 344.3l-0.3 0.4M75.2 305.6l-0.3 0.2M59.8 340.6l0.2 -0.6l0.1 0.3" stroke="#2b22bd" stroke-width="1.0" stroke-linecap="round" stroke-linejoin="round" fill="none"/>
<text x="79.90" y="347.50" font-size="4.80" text-anchor="end" fill="#ff2020" style="stroke-width:0.08px;stroke:#ff2020">100 µm</text>
<line x1="69.70" y1="348.90" x2="78.30" y2="348.90" stroke="#ff5050" stroke-width="0.50" />
<rect x="82.20" y="295.00" width="57.50" height="56.80" fill="#dfdfe2" />
<path d="M97.3 333.7l0.1 0.2M93.2 308.4l-0.2 -0.1M124.2 302.8l0.0 -0.1M99.3 319.6l0.2 0.1M83.5 310.9l-0.2 0.2M128.5 340.5l0.2 0.1M136.3 339.8l-0.1 0.2M110.2 337.6l0.0 -0.0M103.3 319.5l-0.1 -0.2M129.0 340.0l0.2 0.1M114.0 337.3l-0.2 0.1M107.8 305.4l-0.1 0.0M97.0 321.1l0.1 -0.1M90.1 322.9l-0.1 -0.1M93.7 315.9l-0.2 0.1M136.6 317.2l0.1 0.2M85.1 303.4l0.2 0.2M118.8 304.4l-0.0 0.2M132.8 340.3l-0.1 0.2M103.9 335.5l-0.2 0.2M116.8 335.8l-0.1 0.1M115.5 328.5l-0.1 0.1M102.0 312.0l-0.2 0.1M89.0 308.1l-0.2 0.1M114.1 325.8l-0.2 -0.0M102.1 300.7l-0.2 0.2M89.6 312.3l-0.1 0.0M87.1 321.7l-0.1 0.2M83.0 314.2l-0.0 0.2M111.9 322.0l0.1 -0.1M84.5 323.5l0.2 0.1M97.3 333.7l0.2 -0.1M115.9 315.3l-0.1 -0.1M94.2 315.1l-0.2 -0.1M87.6 337.8l0.0 -0.2M126.4 306.1l-0.0 0.0M101.5 311.7l-0.0 -0.2M131.5 301.7l0.2 -0.1M99.8 317.2l-0.2 -0.2M103.1 320.2l0.2 0.2M85.2 325.4l-0.2 0.2M100.9 345.3l0.0 -0.2M83.0 309.3l0.2 -0.2M109.8 316.2l-0.1 0.2M94.8 335.6l0.1 0.2M112.1 346.9l-0.0 0.0M117.8 342.4l0.2 -0.2M90.4 325.3l0.2 0.0M99.6 349.2l-0.1 -0.2M85.6 297.2l0.1 -0.2M123.2 343.8l0.2 0.2M106.7 330.2l0.2 0.1M99.1 338.0l-0.2 -0.1M139.0 321.8l-0.1 0.1M108.1 295.7l-0.2 -0.1M101.5 347.8l-0.1 0.2M130.9 318.7l0.2 0.1M110.0 310.1l-0.0 0.2M113.0 306.3l-0.1 -0.0M93.5 327.5l-0.2 0.2M92.8 301.2l0.0 -0.1M132.7 323.2l0.0 0.2M94.8 337.1l0.1 -0.0M136.9 296.7l0.2 -0.2M130.1 304.1l-0.2 0.0M135.0 309.9l-0.0 0.1M96.5 325.1l-0.2 -0.0M125.6 314.5l-0.1 -0.2M122.3 319.3l0.2 0.1M88.4 346.5l0.2 0.2M129.7 333.5l0.1 0.1M116.1 309.9l-0.2 0.1M116.4 298.7l0.1 0.1M111.6 338.7l0.2 -0.1M128.7 323.4l0.0 -0.0M135.4 320.3l0.2 -0.1M120.7 346.4l0.1 -0.1M87.1 322.2l-0.0 0.2M127.0 350.5l-0.0 -0.0M114.6 337.3l-0.2 -0.1M90.9 313.6l-0.1 0.2M94.4 347.6l-0.1 -0.1M137.8 300.5l-0.2 -0.2M86.5 317.1l-0.1 -0.2M83.6 334.5l-0.2 -0.1M114.6 344.8l0.1 0.1M122.3 340.0l0.2 -0.2M85.8 330.1l0.0 0.0M126.9 305.2l0.1 -0.0M106.5 309.2l-0.1 0.0M114.0 346.1l-0.1 0.1M88.2 331.9l-0.2 0.2M137.2 309.7l0.2 -0.1M100.0 301.3l-0.0 -0.2M122.5 327.6l-0.0 0.1M95.9 314.0l-0.1 -0.2M132.8 300.4l-0.2 0.1M128.9 320.5l-0.0 -0.2M82.8 324.5l-0.1 -0.2M133.9 296.6l-0.1 0.1M124.9 301.5l0.1 0.0M118.3 348.1l0.1 0.0M126.2 322.9l0.0 0.2M117.7 316.5l-0.2 0.1M101.9 319.4l-0.1 0.0M105.4 342.0l0.0 0.0M126.9 320.1l0.0 0.1M123.5 337.0l0.2 0.0M114.1 306.0l-0.1 -0.0M110.9 345.7l-0.2 -0.1M124.5 321.1l0.2 -0.2M126.3 319.6l0.0 -0.2M105.5 340.3l0.1 0.0M106.6 297.7l0.1 -0.0M123.6 329.6l-0.0 0.2M90.2 349.0l-0.2 0.2M115.9 320.5l0.2 0.0M111.4 298.8l0.1 0.1M96.2 301.8l-0.0 0.2M131.9 321.5l-0.2 0.2M94.1 336.3l-0.0 0.2M91.0 339.8l0.1 -0.2M114.6 312.0l0.1 0.2M120.3 323.1l0.1 -0.1M109.1 302.0l0.1 -0.2M112.5 305.5l0.0 -0.2M84.3 330.4l0.1 0.2M121.0 351.1l-0.2 0.1M118.7 305.3l-0.2 -0.1M112.3 339.4l0.1 0.0M87.1 335.8l0.0 -0.2M117.6 309.2l-0.1 -0.0M125.1 301.5l-0.0 -0.1M120.6 341.0l-0.1 0.1M108.9 307.6l-0.1 0.0M128.3 329.1l-0.2 0.1M115.5 319.1l-0.1 -0.0M121.8 310.6l-0.2 0.2M107.7 299.4l0.2 -0.2M103.3 330.0l0.1 0.2M92.6 327.3l0.2 -0.0M123.1 321.5l0.1 0.2M101.9 336.6l-0.1 0.2M125.9 343.4l0.2 0.0M136.4 304.2l0.0 -0.2M115.6 333.8l-0.1 0.2M106.3 306.5l-0.2 0.0M104.4 298.1l-0.1 0.2M109.4 333.6l-0.0 -0.2M117.3 307.2l-0.2 0.1M120.9 296.1l0.2 -0.2M92.1 313.8l0.1 0.1M124.7 319.5l0.2 -0.2M137.0 298.3l-0.2 0.1M126.2 333.1l-0.1 0.2M111.8 307.0l-0.2 0.2M85.9 307.8l-0.1 0.2M129.6 342.5l0.1 -0.2M124.4 306.1l0.2 0.2M86.4 336.3l-0.1 -0.2M132.1 320.2l-0.1 0.0M86.3 319.1l0.1 0.2M89.6 345.4l-0.2 -0.1M101.6 304.9l-0.2 0.1M105.2 306.1l0.0 -0.2M121.2 349.3l-0.0 -0.0M105.2 316.0l-0.0 -0.2M99.4 334.0l-0.0 -0.2M90.9 342.4l-0.1 0.2M117.6 330.4l-0.1 0.0M106.1 324.3l0.2 -0.2M94.8 345.9l0.2 0.2M131.3 301.3l0.1 -0.2M130.6 317.6l-0.0 0.0M94.3 327.1l0.2 -0.0M107.5 316.0l-0.2 -0.1M130.0 349.3l-0.1 -0.1M101.7 343.7l-0.1 -0.2M100.5 300.3l-0.2 -0.1M119.5 347.3l-0.1 -0.1M115.9 297.2l-0.2 0.0M109.0 315.1l-0.0 -0.2M97.4 305.4l-0.1 -0.2M128.8 296.4l-0.0 -0.2M94.2 337.9l0.2 0.2M101.4 325.7l-0.0 -0.2M106.6 329.6l-0.1 0.1M107.9 311.9l0.2 0.0M97.1 346.0l-0.0 0.1M109.2 343.4l0.1 -0.0M103.3 338.6l0.2 0.1M132.0 324.9l-0.0 -0.1M97.9 304.0l0.2 0.0M87.4 307.1l-0.0 0.2M131.1 337.9l-0.1 -0.0M136.2 317.1l0.1 -0.2M109.8 323.8l0.2 0.2M125.2 314.0l0.2 0.2M87.0 319.2l0.0 -0.1M96.3 339.3l-0.1 0.0M83.8 321.3l0.2 -0.2M88.8 345.8l0.2 0.0M99.4 312.1l0.1 0.0M107.9 334.1l-0.2 -0.1M132.3 346.4l-0.0 0.1M132.7 324.6l-0.2 -0.2M120.6 314.5l0.0 -0.2M136.2 311.0l0.1 0.1M102.8 307.2l0.0 -0.1M87.0 305.3l-0.2 0.2M94.2 346.8l0.1 0.2M109.2 309.7l-0.2 0.1M122.0 333.4l0.2 -0.2M119.2 334.8l0.2 -0.1M135.3 296.9l0.0 -0.1M112.0 305.2l-0.1 -0.1M108.9 318.1l-0.1 -0.2M109.1 350.8l0.2 -0.2M118.5 303.7l-0.1 0.2M101.9 301.2l0.0 0.0M111.6 348.4l0.0 -0.1M94.5 327.9l0.1 0.0M104.8 309.5l0.2 0.2M115.8 335.2l-0.1 -0.2M85.9 329.9l0.2 0.1M120.7 343.5l-0.0 -0.0M97.4 341.9l0.1 0.0M126.7 346.4l-0.2 -0.1M109.1 335.4l-0.1 -0.0M120.2 311.9l0.1 -0.2M106.0 331.1l0.2 0.0M120.3 332.5l0.1 -0.0M100.6 302.6l0.2 0.1M119.5 337.5l-0.1 -0.2M112.8 321.6l0.1 0.2M104.9 316.4l0.1 0.2M114.7 328.6l0.2 0.2M85.2 349.8l-0.2 0.0M110.9 350.1l-0.1 -0.2M136.9 321.0l-0.0 -0.0M98.4 297.1l0.0 -0.1M110.9 351.1l0.2 -0.1M101.6 302.3l0.1 -0.2M89.8 346.6l0.0 0.2M94.8 305.4l0.0 0.1M92.8 323.5l0.0 -0.0M100.5 320.4l-0.2 -0.2M86.0 342.0l-0.1 0.1M89.2 344.8l-0.2 0.2M112.7 346.2l0.2 -0.2M85.6 309.4l-0.2 0.2M90.8 333.2l0.2 0.1M138.9 331.7l-0.1 0.2M94.9 326.4l-0.0 0.0M99.5 349.1l0.2 0.1M110.8 348.6l0.2 -0.2M132.7 301.5l-0.2 -0.1M103.7 322.5l0.2 -0.2M119.2 323.6l-0.2 0.2M134.4 314.8l0.2 -0.0M120.7 347.3l0.1 -0.1M85.7 321.5l0.0 -0.1M115.3 296.4l-0.1 -0.0M109.9 334.9l-0.1 -0.1M124.1 311.3l-0.2 0.1M102.5 328.4l0.2 0.2M127.4 349.8l0.1 -0.1M135.4 302.5l-0.1 0.0M89.7 329.2l0.0 -0.1M124.7 300.2l-0.0 -0.1M135.7 303.6l-0.1 0.1M99.8 341.7l-0.2 -0.2M83.4 326.5l-0.0 0.0M109.4 344.5l-0.1 -0.2M96.7 342.0l0.2 -0.2M82.8 350.7l0.2 -0.1M112.8 298.1l0.0 -0.2M121.3 304.2l0.0 -0.1M109.9 348.5l0.0 0.2M123.4 308.1l-0.1 0.2M126.6 303.5l0.2 -0.1M114.7 345.3l0.2 -0.2M90.8 310.4l0.1 0.2M119.6 338.1l0.2 -0.0M103.9 340.0l0.1 0.2M139.0 321.5l-0.1 -0.2M115.7 313.1l-0.1 0.0M123.9 333.5l-0.0 0.1M118.2 346.5l0.1 0.2M96.3 343.0l-0.2 0.2M83.5 329.5l-0.1 -0.2M124.7 303.2l0.1 -0.2M94.5 317.6l0.0 0.1M103.0 343.8l-0.2 -0.2M104.9 329.6l0.1 0.2M102.5 331.3l0.1 -0.2M103.5 320.2l0.0 0.0M90.5 306.9l-0.1 -0.2M126.3 345.5l0.1 -0.1M115.9 297.3l-0.1 -0.1M116.5 328.0l0.0 -0.2M111.1 337.2l0.2 -0.1M108.1 344.1l-0.2 0.1M88.5 340.4l0.1 -0.2M85.2 348.0l-0.1 0.0M115.5 316.8l-0.2 0.1M101.6 319.3l0.2 0.2M98.9 314.1l0.1 -0.0M133.2 316.3l-0.2 -0.1M133.5 327.8l0.2 0.2M121.2 305.5l-0.0 -0.2M101.6 307.7l0.2 -0.2M102.2 296.8l-0.2 0.1M105.5 323.7l0.2 0.1M94.7 337.2l0.1 0.0M111.0 346.6l0.0 -0.2M130.1 332.3l-0.1 0.1M135.3 336.4l-0.0 0.2M87.3 298.4l-0.0 0.0M119.0 332.2l0.0 -0.1M124.1 326.6l-0.1 0.0M108.6 339.8l0.1 0.2M125.9 324.1l0.1 -0.1M114.0 350.8l-0.2 -0.0M107.0 335.4l-0.2 0.1M89.0 349.3l-0.2 0.1M125.0 326.4l-0.1 -0.1M133.1 321.1l0.0 0.2M110.1 340.9l0.0 0.2M117.9 303.0l-0.1 -0.1M95.2 328.5l-0.0 -0.1M83.8 350.5l-0.0 -0.1M120.1 300.6l-0.2 0.2M120.4 315.5l-0.2 0.1M96.3 313.8l-0.1 0.1M96.5 298.5l0.2 0.0M89.8 299.0l0.2 0.0M113.8 345.7l-0.2 -0.2M94.4 334.5l-0.2 0.0M127.5 317.9l0.1 -0.2M110.0 316.4l0.1 -0.1M120.1 345.7l0.2 0.2M122.6 349.2l-0.0 -0.2M128.2 315.6l-0.1 0.2M105.3 302.9l0.2 -0.2M85.6 334.6l-0.2 0.1M82.9 311.8l-0.1 0.1M124.7 333.3l-0.2 0.2M85.7 320.0l-0.2 0.1M109.4 320.0l0.2 -0.1" stroke="#b4b4c6" stroke-width="1.15" stroke-opacity="0.75" stroke-linecap="round" fill="none"/>
<path d="M119.7 334.4l-0.2 0.1M102.0 336.3l0.1 -0.1M105.0 318.4l-0.2 0.0M123.7 349.0l-0.0 0.0M118.8 338.1l0.1 0.2M130.3 349.3l-0.0 0.0M92.2 324.1l0.0 -0.1M135.4 344.5l0.2 -0.1M115.5 343.3l-0.1 0.0M93.6 348.0l0.0 -0.0M131.2 310.6l0.0 -0.0M133.4 323.4l0.2 0.2M89.0 328.2l-0.0 -0.2M132.2 341.1l0.2 -0.0M90.8 332.0l0.2 -0.1M125.6 322.4l-0.1 0.2M122.2 349.6l0.1 0.2M94.7 337.1l-0.2 0.1M121.6 317.8l0.0 0.2M121.3 312.1l0.2 0.1M99.8 318.8l-0.1 -0.0M130.1 316.7l0.2 -0.1M102.7 311.9l0.1 -0.2M91.6 340.7l0.1 -0.2M106.6 298.8l0.2 0.2M84.9 339.3l-0.1 0.2M91.3 348.3l-0.1 0.0M113.7 339.9l-0.1 0.1M127.9 332.2l-0.2 -0.0M95.1 351.0l-0.0 0.2M106.3 310.0l-0.2 0.1M88.4 322.0l0.0 0.2M129.8 299.4l-0.1 -0.0M126.5 301.3l0.1 -0.1M116.9 315.7l-0.2 0.2M130.1 315.5l-0.1 -0.1M102.5 318.6l-0.2 0.2M107.8 309.8l-0.1 -0.2M109.5 318.6l0.1 -0.1M94.9 304.9l0.1 -0.2M91.3 300.2l0.0 -0.1M124.8 315.7l0.2 -0.1M104.2 338.6l0.2 0.2M121.1 322.9l-0.0 0.2M101.6 318.5l0.1 0.0M133.9 314.0l0.2 0.1M90.4 346.5l0.1 0.2M112.4 344.6l0.0 0.2M128.0 306.5l0.2 -0.2M111.5 314.7l-0.0 -0.1M99.9 336.8l-0.1 0.0M91.1 304.4l0.1 -0.0M114.8 346.3l-0.2 -0.1M130.4 333.8l0.2 -0.2M107.0 343.1l0.2 0.1M137.4 314.6l0.1 0.2M91.9 329.6l-0.1 0.0M132.4 319.9l-0.2 0.0M115.8 310.9l0.2 -0.1M109.7 326.6l-0.2 0.2M118.0 311.2l0.2 0.1M116.4 323.3l0.1 -0.1M108.5 296.8l-0.2 0.0M112.6 342.7l0.1 0.1M120.6 317.6l0.1 -0.2M137.5 329.9l-0.0 0.1M107.7 312.3l0.1 0.2M116.0 345.1l-0.1 0.2M135.1 337.8l-0.2 0.2M114.6 321.2l0.2 0.0M129.6 327.1l-0.2 0.2M95.1 324.3l-0.1 -0.2M110.7 318.2l-0.2 0.2M114.5 329.0l-0.2 -0.1M124.5 329.7l-0.1 -0.1M133.8 322.3l-0.1 0.1M118.8 335.0l-0.1 -0.0M102.3 297.9l-0.0 0.1M110.9 345.9l-0.1 0.1M129.0 336.1l-0.2 0.2M93.1 297.4l0.0 -0.1M101.7 304.0l0.2 -0.2M100.8 350.7l-0.2 0.1M118.5 315.5l0.1 -0.2M129.6 342.7l0.1 -0.2M101.1 304.4l0.2 -0.2M126.1 348.3l0.2 -0.1M132.2 302.3l-0.0 0.1M107.7 308.2l0.1 -0.1M130.4 341.4l-0.2 0.2M94.7 307.4l0.2 0.2M115.1 345.0l0.0 -0.1M111.7 332.4l-0.2 -0.1M125.8 331.6l-0.2 -0.2M137.8 302.6l0.2 0.1M99.2 310.7l-0.1 -0.2M93.4 350.7l-0.0 0.2M127.7 307.2l0.1 0.2M87.4 315.3l-0.1 0.0M114.3 321.0l0.2 0.2M109.4 345.1l-0.1 0.2M85.3 335.9l0.0 0.1M99.5 331.8l-0.0 -0.1M107.3 332.6l0.2 0.2M122.0 321.7l0.1 -0.1M103.4 341.3l-0.1 -0.2M85.6 297.3l0.1 -0.2M129.0 320.3l0.0 -0.1M125.0 336.2l0.1 0.0M97.9 326.5l-0.0 0.0M137.5 326.3l0.2 -0.0M106.9 344.1l-0.1 0.1M123.6 308.8l-0.2 0.2M133.8 320.9l-0.2 -0.1M114.6 308.5l-0.2 0.1M132.8 299.7l0.2 -0.2M94.2 303.0l-0.0 -0.1M110.1 307.6l0.0 0.1M103.4 307.2l0.1 0.1M124.9 351.0l-0.1 0.0M115.8 318.6l-0.0 -0.0M104.9 319.9l0.1 0.1M133.3 345.6l-0.1 -0.1M112.4 346.2l-0.2 -0.1M110.6 300.9l0.2 0.2M100.9 339.6l-0.1 -0.2M118.9 314.1l-0.1 0.2M125.4 331.2l0.2 -0.1M130.6 341.2l0.0 -0.1M108.4 338.9l0.2 -0.1M119.6 346.0l0.2 -0.2M109.8 305.6l0.1 0.1M135.6 318.8l0.1 -0.2M95.2 321.5l0.0 0.0M114.6 327.0l0.1 -0.2M127.8 297.8l-0.2 0.0M82.8 337.0l-0.1 0.0M133.6 332.0l0.1 -0.1M106.5 317.1l-0.1 -0.0M103.0 316.6l-0.2 0.0M103.8 309.1l0.2 0.1M95.9 344.1l0.1 -0.2M87.3 299.7l0.2 0.1M113.8 330.9l0.2 0.0M84.8 307.0l-0.1 0.1M98.1 331.2l-0.2 0.1M90.0 304.8l0.1 -0.2M88.6 329.0l0.2 -0.2M90.6 329.6l-0.1 0.1M100.8 310.8l0.1 -0.2M133.2 305.4l0.1 0.2M130.2 329.3l-0.2 -0.0M93.2 335.2l-0.2 -0.2M121.7 330.1l0.2 0.1M131.6 325.0l-0.0 0.2M91.0 297.9l-0.1 0.2M104.2 311.8l-0.2 0.1M96.7 306.1l0.1 0.1M99.0 339.1l0.1 -0.0M135.1 332.4l-0.2 -0.2M122.9 329.5l-0.2 0.2M89.7 303.8l-0.1 0.1M121.6 347.4l-0.1 -0.2M93.2 305.2l0.2 -0.0M106.2 323.9l0.2 -0.2M104.1 307.2l-0.1 0.2M88.5 315.0l0.2 0.2M122.1 317.5l-0.0 0.1M139.2 346.6l0.1 0.2M106.6 322.0l0.2 0.2" stroke="#8585a8" stroke-width="1.00" stroke-opacity="0.85" stroke-linecap="round" fill="none"/>
<path d="M128.9 328.7l-0.4 0.0M125.9 321.9l0.1 0.3M97.3 324.9l0.4 0.5M133.6 296.3l0.1 0.2M129.7 344.6l-0.0 -0.1M88.0 342.0l0.2 0.4M102.9 310.0l-0.2 0.2M96.1 295.6l-0.1 -0.2M114.7 323.5l0.5 -0.4M134.5 350.4l0.2 0.0M101.0 349.3l-0.0 0.4M118.1 302.1l-0.0 -0.1M105.4 302.1l-0.1 -0.2M96.9 340.4l-0.2 -0.1M90.1 304.1l0.5 -0.5M117.0 304.5l0.1 0.3M116.0 334.5l0.0 0.4M107.7 310.9l-0.2 0.4M123.3 337.3l0.2 0.2M98.7 345.7l0.3 0.1M137.6 337.9l-0.3 0.4M121.4 345.0l-0.0 -0.5M100.6 330.7l-0.4 -0.5M136.4 312.6l0.2 -0.3M94.3 339.9l-0.3 0.1M108.2 313.7l0.3 0.5M116.8 314.5l-0.4 0.3M135.0 349.7l-0.4 0.2M90.9 313.1l0.3 0.3M93.9 329.8l0.1 -0.2M134.8 337.6l-0.4 -0.4M116.6 313.9l0.1 0.3M111.2 332.1l0.4 0.2M107.7 335.1l0.5 -0.0M127.2 325.0l-0.4 0.2M90.9 346.6l0.3 0.2M137.1 297.8l0.3 0.4M98.6 317.4l-0.4 0.2M83.8 331.8l0.0 0.2M123.5 350.1l0.2 0.4M87.5 324.1l0.2 0.5M98.7 344.3l0.1 0.4M103.5 313.0l0.4 0.1M119.4 329.3l0.3 -0.1M86.1 344.6l0.1 -0.4M136.9 347.0l0.1 -0.2M124.8 340.3l0.3 0.1M127.3 349.2l0.2 -0.1M90.9 310.0l0.0 0.5M88.9 329.7l0.4 -0.1M107.2 338.3l-0.1 -0.5M101.3 298.4l0.4 -0.1M132.1 303.3l-0.1 0.2M89.9 319.0l-0.1 -0.5M101.2 349.8l-0.1 -0.4M121.4 314.3l-0.0 0.4M93.0 301.4l-0.1 0.0M110.9 319.5l0.4 0.3M127.0 336.7l-0.1 -0.0M107.3 317.4l0.3 -0.2M105.7 302.6l-0.3 -0.1M132.6 309.4l0.1 0.0M83.4 297.4l-0.2 0.2M89.9 303.3l-0.3 -0.1M86.6 338.6l-0.1 0.4M128.0 349.2l-0.4 0.4M108.8 321.4l0.3 -0.5M100.2 340.7l-0.5 0.3M113.6 296.0l-0.4 -0.2M120.2 346.6l0.2 -0.5M117.7 324.6l-0.0 -0.2M130.1 331.3l0.5 -0.3M102.9 303.7l-0.3 -0.3M119.7 313.7l0.3 0.1M91.4 316.0l0.3 0.2M84.4 348.7l-0.1 0.4M116.8 334.8l-0.2 -0.3M124.9 317.9l-0.0 0.1M133.6 302.7l0.3 0.4M89.1 302.0l0.4 0.5" stroke="#3e3ea6" stroke-width="1.00" stroke-opacity="0.90" stroke-linecap="round" fill="none"/>
<path d="M86.0 322.9l-0.0 0.2M101.7 301.7l-0.0 -0.4M109.7 339.0l0.2 -0.1l-0.0 0.3M114.8 329.6l0.1 0.4l0.6 -0.7M131.3 339.1l0.4 0.6l0.5 -0.6" stroke="#2b22bd" stroke-width="1.0" stroke-linecap="round" stroke-linejoin="round" fill="none"/>
<path d="M93.3 299.0l0.8 -0.5M106.8 313.6l-0.9 -0.6l0.9 -0.0" stroke="#2b22bd" stroke-width="1.5" stroke-linecap="round" stroke-linejoin="round" fill="none"/>
<path d="M114.5 314.9l1.1 -0.9l-0.9 -0.1M88.3 315.9l0.4 -1.2l-0.2 1.0" stroke="#2b22bd" stroke-width="2.0" stroke-linecap="round" stroke-linejoin="round" fill="none"/>
<text x="139.10" y="347.50" font-size="4.80" text-anchor="end" fill="#ff2020" style="stroke-width:0.08px;stroke:#ff2020">100 µm</text>
<line x1="128.90" y1="348.90" x2="137.50" y2="348.90" stroke="#ff5050" stroke-width="0.50" />
<rect x="141.80" y="295.00" width="57.20" height="56.80" fill="#dcdcdf" />
<path d="M148.3 334.7l0.1 0.2M157.5 309.8l0.1 0.1M159.3 333.7l-0.1 0.1M149.0 308.0l0.2 -0.1M156.9 340.4l0.1 -0.2M173.3 332.6l-0.2 0.1M149.2 314.3l-0.2 -0.1M197.3 318.0l0.2 -0.0M176.4 344.2l0.1 -0.2M175.4 330.9l-0.2 -0.2M191.5 324.2l-0.2 -0.0M154.6 340.0l0.0 -0.2M188.3 300.5l-0.1 -0.2M183.9 301.9l0.0 -0.2M169.3 333.7l0.0 -0.0M169.5 319.9l0.0 -0.2M169.0 308.7l0.2 0.2M146.0 303.5l0.1 0.0M143.4 334.8l0.2 -0.0M161.8 327.3l0.2 -0.1M159.3 306.0l0.1 -0.0M156.7 317.1l-0.2 -0.1M197.5 328.2l-0.1 0.2M162.4 309.5l-0.2 -0.2M153.5 308.3l0.2 -0.1M156.3 329.2l0.2 -0.1M185.1 316.1l0.0 0.0M195.3 337.8l0.0 0.2M162.9 316.9l0.2 0.0M185.8 313.0l0.2 0.1M156.2 347.6l-0.0 -0.1M157.1 301.3l-0.1 0.1M150.2 309.9l-0.0 0.0M163.7 339.3l-0.1 -0.1M166.2 302.7l-0.1 -0.2M183.1 303.7l0.1 -0.1M178.7 332.1l-0.1 0.2M179.2 326.6l-0.2 -0.0M157.3 321.7l0.2 0.2M145.8 333.5l0.2 0.0M147.7 343.9l-0.0 0.2M191.4 341.8l0.2 -0.2M186.9 312.5l-0.2 -0.1M175.4 295.8l-0.0 0.1M170.1 325.0l-0.1 0.2M156.2 333.5l0.1 -0.2M198.3 308.6l0.2 0.2M192.9 343.2l-0.1 -0.0M161.7 347.7l-0.2 -0.2M196.1 340.5l0.1 0.2M171.7 342.1l-0.0 0.2M146.2 320.0l0.0 0.1M166.0 333.5l0.2 -0.0M153.5 297.2l0.2 -0.0M164.1 324.5l-0.2 -0.1M155.6 309.7l0.2 -0.1M147.4 343.9l0.0 -0.2M180.2 333.8l0.1 0.1M166.1 308.0l0.1 0.1M181.9 305.7l-0.1 0.1M163.9 329.1l-0.0 0.1M161.9 323.3l0.2 -0.1M152.2 331.0l-0.2 0.2M157.8 346.0l0.0 -0.2M171.6 333.6l-0.0 0.1M163.0 349.0l-0.2 0.1M143.6 323.8l-0.2 -0.2M175.4 346.0l-0.1 -0.0M169.1 329.3l-0.1 -0.1M190.3 326.5l-0.1 0.2M198.4 319.6l-0.2 -0.1M192.8 305.1l-0.2 0.1M148.7 342.9l-0.1 -0.1M175.7 301.8l0.1 -0.0M185.6 338.1l-0.2 0.2M188.4 309.0l0.0 -0.1M172.6 337.5l-0.1 0.0M149.7 343.7l0.1 0.2M146.8 337.1l-0.2 0.0M155.3 345.8l-0.2 -0.0M168.8 317.0l-0.2 0.1M196.9 315.6l0.2 -0.1M157.7 320.9l0.2 0.1M177.9 297.7l-0.0 -0.2M145.8 316.5l-0.1 -0.2M171.1 339.2l0.2 0.2M166.2 305.5l0.2 -0.0M161.6 341.5l0.0 0.2M181.7 348.3l-0.2 0.2M172.7 334.4l-0.1 -0.1M159.0 305.0l0.2 -0.2M155.9 330.8l-0.1 -0.1M156.5 308.6l-0.2 0.1M179.3 312.8l0.2 0.0M154.7 349.3l-0.1 0.2M188.2 295.7l0.2 -0.0M170.5 348.3l-0.0 -0.1M145.1 344.9l-0.0 0.1M178.3 350.2l0.2 0.2M170.7 346.3l-0.1 -0.2M178.2 297.1l0.2 -0.1M166.1 311.7l-0.1 0.0M187.3 296.3l-0.1 -0.1M196.2 320.0l-0.0 0.2M164.1 317.0l-0.1 -0.1M181.9 311.5l0.0 0.0M185.4 336.8l-0.0 0.2M195.4 347.8l0.1 -0.0M162.5 343.5l-0.0 0.1M164.1 315.9l-0.2 0.1M158.6 323.1l0.1 0.2M195.4 332.5l-0.1 0.2M145.4 318.5l0.2 0.2M175.7 344.0l-0.2 -0.2M159.0 347.4l-0.2 -0.1M170.9 307.0l0.2 -0.2M147.1 351.2l-0.2 -0.1M165.2 344.6l-0.1 0.0M187.5 330.0l0.2 -0.2M172.7 296.7l0.2 -0.2M147.6 319.4l0.1 -0.2M178.3 301.2l-0.1 -0.2M183.2 341.9l0.1 -0.1M156.3 349.2l0.2 0.2M165.6 344.6l0.1 0.1M171.1 339.3l-0.0 -0.1M169.1 297.8l0.1 -0.1M152.4 339.7l0.0 -0.1M194.2 347.8l-0.0 0.0M142.3 315.4l0.2 0.0M198.2 297.1l-0.2 -0.2M146.5 337.6l0.2 0.1M176.3 316.8l-0.1 -0.2M164.6 302.3l0.2 0.0M163.5 343.0l-0.1 0.2M182.6 330.5l0.0 0.1M193.0 351.0l0.0 0.2M156.1 347.2l0.2 0.1M148.5 345.0l-0.1 -0.1M195.8 300.4l0.1 -0.1M191.2 307.6l-0.2 -0.0M168.0 337.5l-0.1 -0.1M158.8 326.2l-0.2 0.0M188.4 333.9l-0.1 -0.0M147.6 321.8l0.1 -0.2M178.7 346.9l-0.1 -0.1M180.6 304.2l-0.1 0.1M171.4 304.8l-0.2 -0.0M191.0 306.7l0.1 0.0M157.9 318.6l0.2 -0.2M173.0 322.2l-0.2 -0.0M151.9 318.0l-0.2 0.0M187.5 344.3l0.2 -0.1M187.3 315.5l0.1 -0.0M184.1 317.8l0.2 -0.0M187.2 305.5l0.1 -0.1M165.3 316.7l0.1 0.0M157.8 347.6l-0.2 -0.0M149.6 301.6l-0.1 0.2M143.5 335.7l0.0 0.2M190.1 302.3l0.2 -0.2M149.1 308.8l0.1 0.0M181.1 307.5l-0.0 -0.1M196.4 327.2l0.1 -0.0M148.8 300.9l-0.1 0.1M153.7 322.3l-0.1 -0.2M163.1 322.9l0.2 0.1M166.7 311.9l-0.1 -0.1M172.1 349.7l-0.2 -0.2M164.6 327.0l-0.2 -0.2M173.4 296.5l0.2 0.1M168.6 351.1l-0.0 0.2M154.6 299.9l-0.0 0.0M179.7 302.5l0.1 -0.1M195.4 340.0l0.1 -0.2M145.6 297.3l-0.0 -0.2M150.3 298.7l0.2 -0.0M157.0 303.9l-0.1 -0.2M187.1 347.0l0.2 -0.2M176.4 343.2l-0.1 0.1M143.0 324.4l0.1 -0.0M147.9 349.7l0.2 -0.1M183.3 304.8l0.1 0.1M176.0 320.0l0.2 -0.0M146.3 304.1l-0.2 0.1M145.9 349.4l0.0 -0.2M195.4 350.7l-0.1 0.0M155.3 303.0l-0.2 0.2M154.8 306.9l-0.2 -0.1M195.4 307.2l-0.2 -0.2M182.0 301.3l0.2 0.2M157.9 321.6l0.2 -0.0M160.1 346.6l0.2 -0.1M189.7 297.6l0.2 -0.1M197.8 296.9l-0.1 -0.0M170.6 338.7l-0.2 -0.2M155.9 301.1l0.2 0.0M153.7 313.5l-0.1 -0.0M160.4 330.5l-0.1 0.1M193.7 337.5l-0.2 -0.0M188.4 299.4l0.2 -0.2M148.3 296.0l0.2 -0.2M168.7 328.4l-0.0 0.2M175.9 295.7l-0.1 -0.2M192.4 308.2l0.1 -0.0M166.9 325.5l-0.1 0.1M176.0 340.8l0.2 -0.2M188.4 313.4l0.2 0.0M153.3 324.5l0.0 0.0M164.0 328.1l0.0 0.1M161.6 320.9l-0.2 0.1M145.6 344.3l0.0 0.0M164.1 326.3l-0.2 -0.2M172.3 312.2l0.0 -0.0M197.3 331.7l-0.2 0.1M160.2 305.7l-0.1 0.2M186.8 321.1l0.2 0.0M150.7 335.0l0.2 0.1M158.8 322.1l-0.2 -0.1M146.0 349.3l0.1 -0.0M180.7 334.3l-0.0 -0.1M170.0 325.6l-0.1 -0.1M175.1 331.8l-0.1 -0.2M184.7 350.5l0.1 0.2M183.1 317.2l0.0 -0.0M197.2 301.7l0.2 -0.2M159.5 327.4l0.2 0.2M185.0 331.3l0.1 -0.1M144.8 328.4l-0.1 -0.0M185.5 350.1l-0.2 0.2M155.4 324.4l0.2 0.1M163.7 345.3l-0.2 0.2M197.7 342.5l-0.2 -0.1M147.8 314.8l-0.1 -0.2M168.2 342.0l0.1 -0.1M149.0 301.8l0.2 -0.1M173.6 306.3l0.1 -0.2M168.8 320.0l0.0 -0.1M180.7 349.0l-0.1 -0.2M157.9 314.4l0.2 -0.2M144.7 325.3l-0.0 -0.1M180.8 317.6l0.2 -0.1M171.8 302.6l-0.2 0.2M192.1 337.1l0.0 0.1M155.0 305.8l-0.1 -0.1M164.6 323.5l-0.1 -0.1M187.2 340.1l-0.1 0.0M148.3 330.5l0.1 -0.2M189.6 329.6l0.2 -0.1M150.9 338.9l0.1 -0.1M167.2 305.3l-0.0 0.2M157.1 315.5l0.2 0.2M171.2 326.3l0.0 0.1M193.5 346.7l0.0 -0.0M190.2 333.2l0.2 -0.2M183.7 340.1l-0.1 -0.2M161.2 349.7l0.1 -0.1M190.1 300.3l0.1 0.0M197.7 312.0l-0.1 -0.1M167.0 321.3l-0.2 -0.0M145.3 330.4l0.2 -0.1M167.6 349.5l0.2 0.1M174.8 349.4l-0.0 0.1M192.0 315.5l-0.0 0.1M182.4 334.6l-0.0 -0.1M185.5 335.7l0.0 -0.1M146.3 324.4l0.2 0.2M184.2 319.1l0.2 0.2M159.5 325.4l-0.1 -0.2M169.8 308.0l0.2 0.2M156.8 304.8l-0.2 0.2M160.8 341.5l0.2 -0.1M189.7 301.3l-0.2 0.1M159.7 308.4l0.0 0.1M167.2 326.2l0.1 -0.2M170.9 297.6l-0.1 -0.2M152.4 346.9l-0.2 -0.0M146.6 296.1l0.2 0.0M190.5 330.6l0.0 0.1M142.6 307.1l0.1 0.2M153.1 317.6l0.1 0.0M183.5 298.1l-0.1 0.1M184.0 332.5l0.2 0.2M142.4 312.5l-0.2 -0.2M183.1 317.1l0.2 -0.2M167.8 350.0l-0.1 0.1M191.1 340.3l-0.1 -0.0M185.7 325.1l-0.0 0.2M156.7 334.3l-0.1 0.1M184.8 345.1l0.2 0.0M174.9 333.9l0.1 0.2M143.2 296.8l0.2 0.1M147.7 312.3l-0.2 -0.1M150.2 336.0l-0.2 -0.0M145.5 317.6l-0.1 0.0M157.2 307.6l-0.1 0.2M198.0 304.4l0.1 -0.2M159.9 339.0l0.1 0.1M170.0 320.3l-0.2 0.1M178.3 316.3l-0.2 -0.1" stroke="#b4b4c6" stroke-width="1.15" stroke-opacity="0.75" stroke-linecap="round" fill="none"/>
<path d="M187.5 300.5l0.0 0.1M184.4 316.2l0.1 -0.1M157.6 331.2l-0.2 0.0M180.8 297.7l-0.2 0.2M187.0 349.5l-0.2 0.2M174.1 326.4l-0.2 -0.1M153.0 296.6l0.1 -0.2M147.2 339.2l0.2 -0.2M167.2 304.0l-0.1 -0.0M158.2 314.5l-0.0 0.1M153.6 304.8l-0.0 -0.1M155.5 304.1l0.2 0.2M148.9 332.0l-0.0 -0.2M146.5 351.3l-0.2 0.0M181.8 337.4l0.1 -0.2M163.7 301.7l0.1 0.1M155.4 328.2l-0.1 -0.1M152.8 313.8l-0.2 -0.2M164.5 341.7l0.1 0.1M168.5 305.0l-0.1 -0.2M176.3 304.5l0.1 -0.2M183.2 309.3l-0.2 -0.0M154.7 339.4l0.1 -0.0M172.3 338.2l0.1 -0.0M173.5 319.9l0.1 0.2M185.6 348.7l-0.2 -0.2M148.7 348.5l-0.1 -0.0M167.6 321.5l0.1 0.1M154.0 322.7l0.2 -0.0M168.2 311.7l-0.0 -0.1M152.8 329.1l-0.2 -0.1M143.2 340.6l-0.0 -0.1M191.0 337.5l-0.1 0.1M157.7 315.7l-0.2 0.0M178.3 309.8l-0.1 -0.1M180.7 347.1l0.2 0.1M187.3 318.0l-0.1 0.2M197.3 335.5l-0.1 -0.2M178.2 299.9l0.2 -0.2M158.0 301.6l0.1 -0.2M151.8 315.5l-0.2 -0.2M193.8 318.5l-0.1 -0.2M183.8 297.3l0.0 -0.0M172.6 315.2l0.2 -0.2M184.9 303.9l-0.2 -0.2M157.6 322.4l-0.1 -0.2M149.7 340.7l0.2 -0.1M185.1 332.7l0.2 0.2M174.6 308.7l-0.0 0.0M146.0 312.0l-0.2 0.1M155.6 304.2l-0.1 0.1M181.6 316.0l-0.1 -0.2M168.9 330.8l0.0 0.1M173.2 341.5l0.2 -0.0M190.3 304.7l-0.2 0.2M160.6 316.5l-0.2 0.0M182.8 299.8l-0.1 -0.2M166.2 308.4l0.0 0.1M166.2 323.0l0.2 0.1M148.0 338.9l-0.0 0.2M150.4 322.1l0.2 0.1M189.3 346.4l0.2 0.1M145.5 336.6l-0.0 -0.2M150.0 347.5l-0.2 -0.1M187.6 349.3l-0.1 0.2M176.6 320.6l-0.0 -0.0M173.9 302.4l0.2 -0.1M162.7 306.0l-0.2 0.0M193.9 305.3l0.1 0.2M173.2 344.7l0.2 0.1M185.9 320.7l-0.2 -0.0M168.2 308.8l-0.1 -0.0M196.4 350.9l-0.2 0.2M158.8 318.2l0.2 0.1M191.2 301.3l-0.0 -0.1M183.8 297.4l-0.0 0.1M179.1 327.8l0.2 -0.2M173.0 305.9l-0.1 0.1M175.5 319.3l-0.2 -0.0M173.6 331.7l0.1 -0.1M174.9 332.7l-0.1 0.2M150.8 350.9l0.2 0.2M142.9 318.3l-0.2 0.1M175.2 335.8l0.1 -0.2M190.2 348.6l0.1 -0.1M195.7 325.6l0.2 0.1M197.5 325.5l-0.1 -0.2M148.6 309.5l-0.1 0.2M149.9 311.0l0.0 -0.0M167.4 297.1l-0.2 -0.1M190.6 331.0l0.1 -0.2M196.7 341.8l-0.0 0.2M169.1 313.6l0.1 -0.2M181.7 305.5l0.2 0.1M191.1 345.2l0.1 0.0M155.0 338.3l0.2 -0.0M143.8 311.4l0.0 0.1M190.4 296.1l0.1 -0.1M158.6 337.0l-0.0 -0.0M179.4 342.8l0.2 -0.1M168.6 303.0l-0.1 0.0M168.6 313.2l0.1 0.2M159.7 318.0l0.0 0.2M177.0 306.4l-0.0 -0.1M164.3 326.6l-0.0 -0.1M152.9 307.5l0.0 -0.2M154.9 343.7l-0.2 0.2M173.6 313.0l-0.1 -0.2M186.4 310.5l0.0 0.2M175.5 316.9l0.1 0.2M170.9 320.5l0.0 -0.2M186.2 328.5l-0.2 -0.2M187.5 347.7l-0.1 -0.2M196.8 297.8l0.2 0.0M192.2 307.0l0.0 0.0M191.6 350.5l-0.2 0.1M147.4 346.1l0.2 -0.0M170.0 315.9l0.0 -0.1M160.0 303.2l0.1 -0.2M148.6 299.4l0.0 -0.2M151.1 328.4l0.2 0.1M186.7 339.8l0.2 0.0M177.4 304.0l-0.2 0.2M169.2 333.8l0.1 -0.1M183.9 304.8l0.2 0.1M148.6 303.1l0.1 -0.1M187.2 333.2l0.2 -0.1M146.3 344.7l0.1 -0.1M159.0 302.2l0.1 -0.1M158.0 325.9l0.1 -0.0M162.5 344.2l0.1 0.1M182.6 298.7l0.2 -0.1M172.0 331.9l0.2 0.1M176.1 306.5l-0.1 0.1M177.1 343.5l0.2 0.2M181.8 347.3l0.2 -0.1M176.3 332.0l0.1 0.0M152.6 327.4l-0.1 -0.2M187.0 315.7l0.2 0.2M182.1 303.9l-0.1 -0.2M197.0 331.4l-0.1 0.1M187.7 339.4l0.1 0.1M148.1 298.8l-0.2 -0.0M153.6 328.0l0.1 -0.1M167.4 342.6l-0.2 -0.0M186.0 298.1l-0.0 -0.2M173.9 298.2l-0.0 -0.2M175.7 338.8l-0.1 -0.1M170.3 318.5l-0.2 -0.2M163.0 349.0l-0.1 -0.0" stroke="#8585a8" stroke-width="1.00" stroke-opacity="0.85" stroke-linecap="round" fill="none"/>
<path d="M151.3 331.7l0.3 0.4M152.7 306.0l-0.3 -0.4M180.5 322.6l0.5 -0.4M160.6 304.7l-0.1 -0.4M163.0 321.5l-0.5 -0.1M154.8 300.4l-0.2 -0.2M192.1 326.3l0.4 -0.3M143.7 323.1l0.1 -0.2M151.3 296.0l0.2 0.3M145.1 334.2l0.4 -0.2M196.7 348.0l0.3 -0.3M146.0 316.8l-0.4 0.4M172.0 318.7l-0.0 -0.5M187.7 335.8l-0.4 -0.2M190.5 348.4l0.4 0.2M165.6 349.5l-0.1 -0.1M147.6 344.3l-0.1 0.4M189.2 313.4l0.1 0.1M151.0 320.9l-0.2 0.3M160.3 305.4l0.4 0.5M189.8 305.3l-0.2 -0.4M160.2 344.9l0.3 -0.2M190.6 346.2l-0.4 -0.4M195.7 338.4l0.5 -0.3M187.3 339.5l0.0 0.2M144.9 307.6l0.1 0.4M151.4 305.1l0.2 -0.2M188.6 341.8l-0.3 -0.1M147.0 304.3l-0.3 0.2M142.4 336.2l-0.3 0.3M175.4 345.8l0.5 0.3M177.6 343.1l-0.1 -0.1M171.3 341.6l-0.2 0.0M166.7 296.7l0.2 -0.3M184.0 300.7l0.3 -0.5M149.3 303.9l0.2 0.0M153.4 339.2l-0.3 -0.1M177.8 317.0l0.1 0.1M191.3 303.1l-0.1 -0.1M194.3 316.6l-0.5 -0.3M150.7 344.8l0.3 0.3M161.0 315.8l-0.2 0.3M164.7 348.5l-0.4 -0.1M187.2 324.5l-0.1 -0.5M172.0 334.2l-0.1 -0.1M170.7 349.1l-0.4 0.5M153.6 348.7l-0.2 -0.1M195.8 330.0l-0.4 0.3M151.7 298.6l-0.2 -0.2M190.3 335.3l0.5 -0.1M194.5 328.5l-0.5 -0.4M190.1 345.4l-0.5 -0.4M186.4 322.4l-0.2 -0.5M175.5 323.8l0.1 -0.3M197.4 335.8l-0.5 -0.3M154.4 296.8l0.0 0.3M165.0 317.7l-0.1 0.4M160.8 325.6l0.2 -0.1M192.0 317.7l0.2 -0.3M159.4 337.0l0.4 0.3M144.7 330.6l-0.1 -0.4M175.9 338.2l-0.0 -0.2M175.2 307.5l-0.2 0.2M187.8 313.9l0.2 -0.1M156.8 313.5l-0.1 0.4M170.5 318.9l-0.5 -0.3M145.8 333.2l0.4 -0.1M188.3 326.3l-0.0 0.2M165.1 308.7l0.1 -0.5M169.9 342.2l-0.5 0.1M158.8 307.2l0.4 -0.2M177.7 321.6l0.1 0.0M150.6 296.7l0.4 -0.3M177.5 324.0l0.4 -0.3M186.4 347.6l0.4 -0.1M175.7 333.9l-0.4 -0.5M147.6 344.9l0.1 -0.2M158.9 323.1l0.2 0.4M151.4 307.7l0.5 -0.2M147.6 324.0l-0.1 0.0M160.2 308.6l0.2 0.4M170.2 305.2l0.2 0.4M196.7 323.8l0.3 0.2M143.0 325.6l-0.4 -0.1M166.4 310.3l0.2 0.3M159.3 348.9l-0.0 -0.2M180.6 334.5l-0.0 -0.3M157.2 344.5l0.2 0.3M186.5 333.1l-0.3 -0.4M172.3 349.5l0.0 0.0M185.0 314.1l-0.2 -0.1M152.5 312.9l0.1 -0.3M161.7 316.5l0.1 0.0M178.9 345.6l-0.2 -0.1M195.5 320.4l-0.5 0.2M172.4 298.4l0.0 -0.5M190.4 334.5l0.1 -0.2M145.0 313.5l0.0 0.2M177.9 332.8l-0.5 0.3M160.0 324.6l-0.2 -0.0M162.5 316.2l0.0 0.3M165.0 301.3l-0.0 -0.1M145.8 299.2l-0.2 -0.3M159.2 303.8l-0.1 0.2M184.3 328.1l0.0 -0.3M196.7 315.3l0.1 0.3M182.2 306.4l-0.3 0.1M180.9 296.5l0.2 -0.1M146.0 296.5l-0.2 -0.4M152.7 349.8l-0.5 0.1M174.5 344.7l0.3 -0.0M193.0 309.9l-0.1 0.5M173.3 308.6l-0.1 0.1M192.6 303.9l0.4 0.1M143.6 303.8l-0.0 -0.1M177.3 347.1l0.1 0.4M187.0 330.4l0.4 0.4M160.4 339.0l0.3 -0.3M172.5 334.6l0.5 0.0M152.1 343.8l0.5 0.1M198.1 326.8l0.4 -0.5M188.2 316.4l-0.5 0.4M170.0 315.6l0.3 -0.2M185.3 330.0l-0.1 -0.2M184.6 302.9l-0.1 -0.1M151.1 345.3l-0.4 0.4M154.4 334.2l0.2 -0.3M171.8 307.2l0.5 -0.3M159.6 302.3l0.4 0.0M157.5 347.0l-0.2 -0.4M188.4 329.7l0.3 -0.4M170.6 342.6l-0.4 0.2M150.9 302.3l0.2 -0.5M186.4 327.8l-0.1 0.1M164.0 340.2l-0.2 -0.5M178.9 305.6l0.2 0.1M157.8 298.1l0.4 -0.2M163.1 323.9l-0.4 0.1M158.2 297.8l0.5 -0.0M145.3 332.9l0.0 -0.2" stroke="#3e3ea6" stroke-width="1.00" stroke-opacity="0.90" stroke-linecap="round" fill="none"/>
<path d="M182.9 311.3l0.3 -0.0l-0.3 0.1M192.3 316.1l0.1 -0.5M185.6 303.7l-0.5 -0.5l0.5 0.4M194.2 346.0l-0.2 0.6M151.2 300.4l0.3 0.3l0.0 0.0M162.4 312.1l0.0 -0.4M174.7 320.6l0.5 -0.2l0.1 -0.4M162.5 331.9l-0.2 0.4M181.8 328.1l0.4 0.7l0.1 -0.2M163.0 322.3l-0.5 0.3M182.5 321.9l0.3 -0.2M147.6 343.2l0.4 0.5l-0.1 -0.4M184.9 297.1l-0.4 -0.0l-0.6 -0.2M196.0 322.4l0.4 0.1l-0.5 0.7M155.2 326.5l-0.7 -0.4l-0.0 0.2M177.7 319.7l0.7 0.5l-0.1 0.5M176.9 306.8l-0.5 -0.2l0.3 0.7M189.4 343.0l0.6 0.0l0.4 -0.1M194.1 301.9l0.7 0.1l0.2 -0.6M156.3 340.9l0.4 0.3M162.2 320.5l-0.3 -0.4M174.8 318.6l-0.1 0.1l-0.7 0.3M190.4 307.5l-0.7 0.5l0.3 -0.4M182.8 332.0l-0.1 0.1" stroke="#2b22bd" stroke-width="1.0" stroke-linecap="round" stroke-linejoin="round" fill="none"/>
<path d="M189.2 346.6l0.8 -0.2M182.6 347.7l0.2 0.4l0.2 0.3M160.0 321.1l0.9 -0.1M172.2 322.1l-0.4 -0.8M164.5 321.3l-0.6 0.6M149.5 321.4l-0.5 0.8M170.5 306.5l0.3 -0.4l-0.2 -0.8M192.8 304.1l-0.0 0.3l-0.7 0.1M154.9 314.6l0.5 0.8M184.8 303.6l-0.3 -0.0M158.0 333.6l-0.9 0.7l0.6 0.0M181.8 343.7l0.4 0.9l-0.3 0.3M194.3 348.8l0.7 0.1M189.3 330.7l0.8 -0.4M175.1 304.9l0.4 0.2l-0.7 0.6M162.2 320.6l0.8 0.1M176.4 335.2l-0.0 0.7l-0.5 0.7M171.0 305.7l-0.9 0.8M167.5 342.7l-0.7 -0.0l-0.2 -0.0M157.4 302.0l0.8 -0.7M178.2 312.0l-0.9 0.9l-0.8 -0.9M159.7 323.6l0.9 -0.9M161.7 344.1l0.3 -0.3M174.8 337.0l-0.9 0.3M153.6 304.2l-0.5 0.7" stroke="#2b22bd" stroke-width="1.5" stroke-linecap="round" stroke-linejoin="round" fill="none"/>
<path d="M172.8 334.2l-1.2 0.4l0.5 0.7M195.7 331.0l-0.1 -0.5M195.1 318.5l-0.7 -0.8l-0.1 0.8M186.2 320.0l-0.9 -0.2l-0.7 0.2M162.4 303.4l-0.8 -0.7l-0.1 -0.9" stroke="#2b22bd" stroke-width="2.0" stroke-linecap="round" stroke-linejoin="round" fill="none"/>
<path d="M179.2 318.6l0.8 1.2l-1.0 1.2" stroke="#2b22bd" stroke-width="2.5" stroke-linecap="round" stroke-linejoin="round" fill="none"/>
<path d="M154 303l2 -1" stroke="#2b22bd" stroke-width="2.6" stroke-linecap="round" stroke-linejoin="round" fill="none"/>
<path d="M175 347l1.5 1.5l1 -1" stroke="#2b22bd" stroke-width="2.2" stroke-linecap="round" stroke-linejoin="round" fill="none"/>
<path d="M151 341l.5 1.5" stroke="#2b22bd" stroke-width="2.0" stroke-linecap="round" stroke-linejoin="round" fill="none"/>
<path d="M186 301l1.5 .5" stroke="#2b22bd" stroke-width="1.8" stroke-linecap="round" stroke-linejoin="round" fill="none"/>
<text x="198.40" y="347.50" font-size="4.80" text-anchor="end" fill="#ff2020" style="stroke-width:0.08px;stroke:#ff2020">100 µm</text>
<line x1="188.20" y1="348.90" x2="196.80" y2="348.90" stroke="#ff5050" stroke-width="0.50" />
<rect x="22.50" y="353.80" width="58.00" height="56.80" fill="#e3e3e6" />
<path d="M78.0 355.0l0.1 -0.2M79.2 355.2l0.2 0.1M71.9 410.1l-0.1 -0.1M63.4 370.0l-0.1 -0.1M71.9 403.1l0.1 -0.1M75.7 382.8l-0.1 -0.0M46.9 358.7l0.0 -0.1M55.5 406.2l0.1 -0.0M72.2 409.8l-0.0 0.2M24.1 362.1l-0.2 0.2M62.4 394.4l-0.1 -0.0M73.6 359.9l-0.2 -0.2M49.7 401.2l0.0 -0.0M51.6 364.3l0.2 -0.1M36.4 371.7l0.2 -0.1M74.6 373.1l-0.0 -0.2M74.7 398.7l-0.0 -0.2M51.1 375.3l0.2 0.2M65.2 370.3l-0.2 0.2M76.8 363.1l-0.0 -0.0M78.7 356.7l-0.2 0.2M55.5 380.1l0.1 0.0M62.5 368.6l-0.2 -0.2M42.0 390.5l-0.1 -0.1M58.3 393.7l0.0 -0.1M69.8 399.0l0.2 0.2M23.9 391.6l-0.1 -0.1M52.5 362.3l-0.1 0.2M41.9 405.2l0.1 -0.1M41.2 388.1l0.1 -0.1M26.4 363.9l0.2 0.1M29.2 400.9l0.0 -0.1M74.0 361.5l-0.2 -0.1M65.1 384.9l-0.0 0.2M45.5 398.3l-0.2 0.1M31.9 390.9l0.2 0.1M56.0 385.0l0.1 -0.1M36.3 385.4l0.0 -0.2M53.2 380.4l-0.2 0.1M67.4 373.2l0.2 0.2M60.7 377.1l-0.1 -0.2M38.6 410.0l-0.2 0.2M62.7 398.0l-0.2 0.1M34.7 392.1l0.1 0.1M53.5 403.7l-0.1 -0.2M72.3 357.4l-0.0 -0.0M73.0 375.1l0.0 0.0M50.3 380.7l-0.0 0.0M47.6 377.9l0.2 0.2M37.1 407.2l-0.2 -0.1M74.2 363.7l0.1 0.2M57.9 379.9l-0.2 -0.0M49.4 398.3l-0.1 0.2M46.1 389.8l0.1 -0.2M77.3 379.4l-0.0 0.2M55.6 383.3l-0.1 -0.1M66.4 382.5l0.1 0.1M61.9 372.3l0.2 -0.0M33.0 402.7l0.2 -0.2M73.5 392.7l-0.1 0.0M75.6 362.8l0.1 -0.1M31.5 407.3l0.2 0.1M68.2 376.3l-0.0 0.1M69.4 393.4l-0.0 0.1M46.0 399.5l0.2 0.1M41.3 375.6l0.2 -0.1M60.9 359.7l-0.2 -0.1M61.4 367.0l0.1 -0.2M62.4 393.5l-0.1 -0.1M37.3 381.9l-0.2 -0.1M68.8 406.6l-0.2 0.0M60.6 407.3l0.0 0.0M67.0 398.3l0.1 0.1M69.2 356.6l0.1 -0.1M43.1 376.3l0.0 0.0M56.4 372.0l-0.1 0.1M76.1 375.6l-0.2 0.2M73.6 401.2l0.1 -0.0M26.7 405.7l-0.0 -0.2M58.6 356.8l-0.1 0.1M68.8 374.3l-0.2 -0.1M69.8 359.4l-0.2 -0.1M77.3 403.6l0.2 -0.2M51.6 362.4l0.0 0.1M50.5 392.8l0.1 0.0M45.2 367.7l0.1 0.2M78.2 405.9l0.2 0.1M51.2 361.0l0.1 -0.2M76.0 402.1l-0.1 0.2M66.1 399.6l-0.2 -0.1M31.8 406.8l-0.1 -0.0M65.9 376.5l0.1 0.1M44.6 406.0l0.1 0.1M64.7 388.9l-0.2 0.2M76.7 360.0l-0.1 -0.2M30.5 386.6l-0.0 -0.2M50.5 393.1l-0.2 0.1M60.6 400.7l0.2 0.2M44.3 358.9l-0.1 -0.2M71.6 374.7l0.0 0.1M49.3 410.0l0.1 0.0M32.5 367.7l0.1 -0.0M56.0 403.4l0.1 0.2M43.9 358.1l-0.1 0.2M36.7 361.1l-0.2 0.2M34.9 358.6l-0.1 -0.2M64.6 392.7l-0.0 0.1M24.0 398.8l0.1 0.1M31.1 407.4l0.2 -0.0M41.2 383.1l0.1 -0.0M54.0 407.5l0.1 -0.1M74.8 398.3l-0.2 -0.0M40.2 371.3l-0.1 0.2M57.8 368.0l-0.2 -0.2M44.4 384.5l-0.0 -0.0M53.1 371.6l0.2 -0.1M44.0 391.1l0.2 -0.0M59.2 368.5l-0.2 0.2M26.9 396.8l-0.2 -0.1M52.4 404.5l0.2 -0.1M23.5 396.3l0.1 0.2M30.6 391.6l0.1 0.2M71.3 397.1l0.2 -0.2M79.3 388.0l0.2 -0.2M52.4 403.8l0.2 0.1M73.9 355.6l-0.2 -0.1M72.8 394.1l-0.0 0.2M52.4 362.4l0.2 0.1M79.7 397.9l0.0 0.2M30.5 354.7l-0.1 0.2M28.0 396.6l0.0 -0.2M34.9 394.4l-0.1 0.2M25.9 386.4l0.2 -0.1M38.8 386.6l-0.2 0.1M75.6 372.1l-0.2 0.2M26.1 401.8l-0.0 0.1M44.4 407.8l0.1 0.0M27.2 386.7l-0.1 0.1M41.1 367.1l-0.2 -0.1M30.1 369.9l0.0 0.2M67.3 374.5l0.2 -0.1M47.3 384.7l0.0 -0.0M60.8 365.3l-0.1 -0.1M48.0 368.4l0.0 -0.2M47.1 379.9l0.1 -0.2M60.4 380.1l0.2 -0.2M45.9 398.0l0.2 0.2M73.7 378.7l-0.1 -0.1M59.2 391.3l-0.0 -0.2M72.9 372.4l-0.1 0.2M67.2 391.8l0.1 0.1M58.4 376.1l-0.2 0.2M29.1 397.4l-0.1 0.1M74.2 398.0l-0.2 0.2M36.2 369.1l0.2 0.2M32.1 401.8l-0.1 0.1M69.5 358.3l-0.2 -0.2M31.1 404.8l-0.2 -0.1M71.4 355.5l-0.0 0.2M75.1 400.2l-0.2 -0.2M65.2 380.0l-0.0 0.1M68.9 369.8l0.2 -0.1M72.7 358.6l-0.2 0.1M65.7 389.8l-0.2 0.2M75.6 404.7l0.1 -0.2M48.2 364.7l-0.1 -0.0M71.7 390.2l0.2 -0.1M28.3 398.9l0.2 0.0M36.3 390.0l-0.1 -0.1M56.6 394.7l0.1 -0.2M45.8 382.8l-0.1 -0.2M37.9 378.7l0.1 0.2M34.6 386.0l-0.1 -0.2M39.1 378.0l0.2 -0.1M77.0 397.9l-0.0 0.2M38.6 355.2l-0.0 0.1M62.1 355.2l-0.2 0.1M75.6 381.7l0.1 -0.2M31.2 380.3l0.2 -0.2M53.3 392.6l-0.2 0.2M34.1 400.6l0.1 -0.2M35.0 378.0l-0.2 0.1M47.2 361.6l-0.1 0.1M47.6 383.6l-0.2 -0.1M36.4 379.1l-0.2 -0.2M77.3 408.4l-0.2 0.2M39.8 384.2l0.0 -0.2M42.4 378.1l0.0 0.0M43.7 383.1l-0.2 0.1M56.6 364.7l-0.0 0.0M51.2 367.1l-0.0 0.0M79.2 402.5l0.1 -0.1M52.6 372.4l0.0 0.1M67.7 407.2l0.1 0.1M49.2 367.0l-0.1 0.0M50.3 382.1l-0.2 0.2M44.7 372.7l0.2 -0.1M67.4 360.1l0.0 -0.2M51.8 398.6l-0.1 0.1M65.1 377.1l-0.2 0.1M72.6 406.7l0.2 0.2M43.5 396.3l0.1 -0.0M74.0 361.5l0.1 0.1M36.1 361.5l0.1 -0.2M40.5 405.1l0.1 -0.1M48.3 369.8l0.1 0.0M58.5 367.3l0.2 -0.1M62.6 409.3l0.2 -0.2M53.9 394.3l-0.0 -0.1M35.8 374.3l0.1 0.0M71.1 369.5l0.1 0.2M42.5 375.7l-0.1 -0.2M34.0 397.9l-0.1 -0.1M70.3 354.5l-0.1 -0.2M43.7 361.9l0.1 -0.1M61.6 361.9l0.2 -0.2M67.7 362.8l-0.0 0.1M28.2 384.4l0.1 -0.0M65.2 384.3l-0.2 0.1M78.5 362.5l-0.2 0.0M59.1 379.6l-0.2 -0.0M42.8 383.9l0.2 -0.0M79.8 406.2l-0.1 -0.0M30.2 362.3l0.0 -0.2M66.6 393.7l0.2 0.1M70.9 372.5l0.2 -0.1M75.2 405.8l0.1 0.1M34.4 399.5l-0.1 -0.1M28.0 399.3l0.1 -0.0M25.4 362.3l0.2 0.1M38.9 405.6l0.0 -0.2M79.3 373.2l-0.0 0.2M76.0 369.2l0.2 -0.1M24.3 358.4l-0.2 0.0M38.3 401.2l-0.1 -0.2M51.2 359.5l-0.2 0.2M28.8 360.7l-0.1 -0.2M47.8 391.6l-0.1 0.0M25.9 363.4l-0.1 0.1M65.4 407.9l-0.0 -0.2M43.2 375.5l0.2 0.1M50.7 381.2l0.1 0.1M75.2 382.5l0.1 0.2M74.6 363.1l0.2 0.0M74.3 404.4l0.2 0.1M64.9 410.1l0.0 -0.1M55.6 388.0l0.2 0.1M47.0 395.8l-0.0 -0.1M78.1 391.5l0.0 0.1M54.7 380.0l-0.2 0.1M38.7 388.1l0.2 0.1M64.8 359.8l0.1 0.2M53.3 392.1l-0.1 0.1M37.5 383.5l0.1 0.0M58.4 364.5l0.0 0.1M62.3 365.3l0.0 0.0M54.5 364.5l0.2 0.0M40.3 409.4l0.1 -0.1M46.4 374.0l-0.1 -0.2M28.2 358.2l0.1 -0.1M44.1 375.9l0.2 0.2M38.0 392.6l0.2 0.2M50.5 399.6l-0.1 0.1M37.7 394.8l-0.1 0.2M30.0 372.3l-0.1 -0.0M26.4 363.3l-0.1 -0.2M63.2 401.5l0.2 -0.0M43.6 387.2l-0.1 -0.2M45.3 398.4l-0.1 -0.1M42.7 399.8l-0.1 -0.1M36.6 363.0l0.2 0.2M68.8 385.7l-0.1 0.1M54.7 368.6l0.1 0.2M61.0 373.1l0.2 0.2M59.5 371.2l-0.1 0.2M38.9 359.1l-0.1 0.2M69.5 404.8l0.2 0.1M57.5 399.0l0.0 0.2M40.0 356.7l0.1 0.0M74.6 380.1l0.0 -0.2M47.5 363.8l-0.2 -0.2M62.9 403.7l-0.2 0.2M53.8 379.9l-0.2 0.2M59.9 362.5l0.0 -0.1M42.7 358.7l0.2 -0.0M30.2 366.4l-0.1 0.2M55.9 376.8l0.2 -0.2M61.1 356.9l0.0 0.1M63.4 389.3l-0.0 0.2M69.4 357.8l-0.2 -0.2M45.9 363.0l-0.1 -0.2M39.9 366.1l-0.2 0.2M63.8 403.2l-0.0 -0.2M33.0 390.8l-0.1 -0.2M45.2 375.1l-0.1 -0.0M66.4 391.3l-0.1 -0.0M76.8 408.4l-0.1 -0.1M34.5 377.1l0.2 -0.2M54.2 395.9l-0.2 0.1M28.6 369.6l-0.0 -0.1" stroke="#b4b4c6" stroke-width="1.15" stroke-opacity="0.75" stroke-linecap="round" fill="none"/>
<path d="M39.1 362.9l-0.1 0.2M71.5 375.2l-0.2 0.1M51.0 396.6l-0.0 -0.1M27.3 377.8l-0.2 -0.2M38.9 380.7l-0.0 -0.0M26.6 362.6l-0.2 -0.1M43.1 380.0l0.1 -0.2M36.5 409.9l0.1 -0.1M73.8 396.7l0.0 0.2M44.6 382.6l-0.1 0.2M33.7 388.4l0.2 0.2M55.3 373.8l-0.1 -0.1M28.8 407.6l-0.2 0.2M45.3 359.0l0.2 0.2M28.9 406.4l-0.2 0.0M45.2 362.6l-0.1 0.2M55.0 381.8l-0.2 0.1M50.8 390.5l0.1 0.2M59.6 389.4l-0.1 -0.2M77.6 371.3l0.2 0.1M28.7 401.0l-0.1 -0.1M32.9 376.1l0.1 -0.0M67.4 398.6l-0.1 0.1M49.6 408.6l0.1 -0.2M60.0 358.1l0.1 -0.2M32.2 403.7l0.0 0.2M23.5 383.1l-0.2 0.1M45.5 369.7l-0.0 -0.2M55.9 394.3l0.2 0.1M42.8 406.7l0.2 0.1M72.9 367.2l0.1 0.1M26.1 377.1l0.1 0.2M75.8 410.0l0.2 -0.1M74.8 383.3l0.1 0.0M50.8 365.7l0.2 0.2M44.7 379.1l0.2 -0.0M36.2 364.2l-0.1 0.1M58.5 400.0l0.0 0.1M47.6 400.0l0.1 0.1M73.9 375.2l0.2 0.0M26.9 406.0l-0.2 0.1M70.8 381.5l-0.2 -0.2M55.7 390.1l0.2 0.2M49.1 402.3l-0.0 -0.1M50.7 362.0l-0.0 0.1M31.5 358.3l0.0 0.2M76.1 410.0l0.1 0.1M66.6 387.0l0.0 -0.0M66.0 371.0l0.2 0.2M66.1 375.2l0.0 -0.1M51.7 358.2l-0.2 -0.1M34.8 410.0l-0.0 0.0M73.8 385.5l-0.2 -0.1M28.7 372.0l-0.2 -0.1M38.1 398.9l0.1 0.1M38.3 360.6l-0.0 -0.1M77.4 393.8l-0.0 0.2M31.0 355.6l0.0 0.2M41.5 381.9l-0.2 -0.0M56.7 354.5l-0.2 0.2M74.6 368.7l0.2 -0.0M26.3 358.6l-0.2 0.0M28.9 384.7l0.0 -0.0M35.6 364.0l-0.1 0.0M42.9 403.0l0.2 -0.1M75.2 390.8l0.0 -0.1M79.2 395.7l0.1 0.0M52.2 372.1l-0.1 0.1M66.6 361.1l-0.2 -0.2M67.3 397.0l-0.0 -0.2M76.2 384.4l0.2 -0.1M49.5 394.4l-0.0 -0.2M57.7 356.6l0.1 -0.0M61.1 365.5l-0.1 -0.1M78.9 393.0l-0.2 -0.1M55.3 407.9l0.1 -0.1M77.9 364.4l-0.2 -0.1M64.9 399.7l-0.0 0.2M25.8 400.9l0.2 -0.2M37.3 363.4l-0.1 -0.2M35.0 357.5l0.1 0.2M56.0 394.5l0.0 0.0M73.0 406.9l-0.1 0.0M60.1 400.0l0.2 -0.2M41.8 400.2l0.0 0.2M38.3 374.8l-0.1 -0.0M56.6 374.4l0.2 0.2M38.2 370.4l-0.2 -0.1M71.4 368.5l0.1 -0.1M62.6 401.8l-0.1 0.2M31.9 360.8l-0.2 0.2M77.3 409.5l0.2 0.0M69.3 372.4l-0.0 0.1M68.8 379.3l0.1 0.1M44.4 374.3l-0.0 -0.2M28.1 409.4l-0.2 0.0M35.0 363.9l0.1 0.1M63.6 370.6l-0.2 0.2M47.5 409.6l0.2 0.0M32.5 408.6l0.2 -0.1M32.8 370.9l0.2 -0.1M76.8 361.9l0.1 -0.0M45.2 373.0l0.2 0.1M23.4 385.6l0.2 -0.1M26.3 402.5l0.2 0.1M68.7 358.7l-0.0 0.1M52.8 404.5l-0.2 0.1M62.6 370.4l0.2 -0.0M66.5 376.3l-0.2 0.2M27.2 393.7l0.2 -0.1M71.5 392.2l0.2 -0.2M46.3 362.0l-0.1 -0.1M52.6 402.2l-0.0 -0.1M79.3 401.5l0.0 0.2M56.4 376.7l0.0 -0.2M79.9 373.1l0.1 0.0M77.6 390.5l-0.2 -0.2M46.3 363.4l-0.1 0.2M58.5 369.7l0.1 -0.1M65.2 369.1l0.2 0.1M45.1 355.9l0.0 -0.0M62.7 365.9l0.0 0.1M56.0 392.8l-0.1 0.2M38.8 399.7l-0.1 -0.1M78.7 384.7l-0.1 -0.1M24.8 361.8l-0.1 -0.1M58.1 409.8l-0.2 -0.1M73.3 356.7l0.2 -0.2M33.1 379.7l-0.1 0.1M64.8 357.7l0.2 0.2" stroke="#8585a8" stroke-width="1.00" stroke-opacity="0.85" stroke-linecap="round" fill="none"/>
<path d="M37.5 395.0l-0.1 -0.2M69.3 407.8l-0.1 0.1M72.0 400.1l-0.3 0.1M40.3 363.7l-0.1 -0.2M55.8 362.0l0.5 -0.2M68.6 361.4l0.0 0.2M47.0 395.3l-0.1 -0.2M50.0 381.2l0.4 -0.3M61.4 409.2l0.1 -0.0M53.9 371.2l-0.2 -0.2M25.5 404.3l0.5 0.3M78.4 398.4l-0.3 -0.0M54.7 387.7l0.1 -0.2M47.2 393.1l0.0 -0.3M79.9 356.2l0.4 -0.4M35.0 366.2l0.1 0.1M71.9 406.4l-0.0 0.0M33.3 361.6l-0.2 0.5M48.9 360.2l0.2 -0.3M56.7 382.5l0.3 -0.3M56.0 396.6l0.1 -0.3M37.8 363.7l-0.5 0.1M44.8 372.8l-0.0 0.2M28.1 401.6l0.4 -0.2M55.4 376.9l0.1 -0.3M36.5 405.7l-0.4 -0.4M27.7 376.5l0.3 -0.3M36.8 382.6l0.1 -0.1M75.6 366.6l0.4 0.1M57.3 374.3l0.5 0.4" stroke="#3e3ea6" stroke-width="1.00" stroke-opacity="0.90" stroke-linecap="round" fill="none"/>
<path d="M40.8 387.6l-0.3 -0.1l-0.3 0.5M46.3 369.1l-0.5 -0.2l-0.1 -0.0" stroke="#2b22bd" stroke-width="1.0" stroke-linecap="round" stroke-linejoin="round" fill="none"/>
<text x="79.90" y="406.30" font-size="4.80" text-anchor="end" fill="#ff2020" style="stroke-width:0.08px;stroke:#ff2020">100 µm</text>
<line x1="69.70" y1="407.70" x2="78.30" y2="407.70" stroke="#ff5050" stroke-width="0.50" />
<rect x="82.20" y="353.80" width="57.50" height="56.80" fill="#dadadd" />
<path d="M103.1 381.1l-0.0 -0.0M105.8 391.0l-0.1 0.1M83.3 371.2l-0.1 -0.2M124.7 371.6l0.1 0.2M97.0 404.2l0.2 0.1M84.2 379.8l0.1 -0.1M95.4 371.6l-0.1 0.1M102.3 377.9l0.1 0.2M99.3 356.8l0.2 0.2M127.4 383.5l-0.1 -0.2M99.9 380.0l-0.2 0.1M123.8 355.0l0.2 -0.0M134.6 380.8l0.1 -0.0M117.3 382.2l-0.2 -0.2M95.8 377.0l-0.1 0.0M120.0 376.6l-0.1 0.0M136.5 398.0l0.1 0.2M95.6 359.9l-0.2 -0.2M83.2 389.2l0.2 -0.2M121.5 406.8l0.1 -0.2M118.8 368.6l-0.2 -0.2M112.4 405.6l-0.2 -0.2M104.6 356.5l-0.0 0.1M108.7 356.5l-0.2 -0.2M120.4 405.9l0.0 -0.2M94.9 377.5l-0.2 -0.2M107.2 401.2l-0.1 0.2M132.2 378.5l-0.1 -0.2M120.4 400.4l0.2 -0.1M106.8 355.5l-0.1 -0.1M89.7 358.6l0.2 -0.1M110.9 384.1l-0.0 0.0M111.1 381.7l-0.2 0.1M120.5 394.7l-0.1 -0.0M128.3 394.9l-0.2 -0.1M92.4 394.0l-0.0 -0.1M95.3 379.6l0.1 0.1M95.2 376.4l0.1 -0.2M133.7 355.6l0.1 -0.2M136.7 392.9l-0.1 0.0M130.5 402.0l0.1 0.1M124.6 405.4l0.0 0.1M127.8 382.8l-0.1 0.0M102.4 394.2l0.1 0.2M88.8 355.6l0.2 0.1M139.1 399.7l0.2 -0.2M93.2 388.5l0.1 -0.2M136.3 367.1l-0.1 -0.0M93.0 359.3l-0.2 -0.2M91.2 392.2l0.1 0.1M106.3 396.3l-0.2 0.2M105.9 361.2l-0.1 -0.2M124.7 375.2l-0.2 -0.2M87.2 407.4l-0.0 0.1M116.2 377.3l0.1 0.0M85.2 409.8l-0.1 0.1M106.3 408.0l-0.2 -0.2M85.1 376.6l0.2 -0.0M135.3 362.3l0.2 -0.2M132.7 365.2l0.0 0.1M137.6 377.3l0.2 -0.2M133.5 383.2l0.0 0.2M100.4 388.6l0.0 -0.1M91.0 378.3l-0.1 0.1M105.8 358.9l0.1 0.2M117.6 370.9l-0.1 0.2M107.8 394.7l-0.2 0.2M133.2 368.8l-0.1 0.1M136.5 398.2l-0.2 -0.2M132.9 376.7l0.2 -0.0M129.9 366.5l0.2 -0.0M82.9 365.3l-0.2 -0.0M136.8 408.5l0.2 -0.0M126.2 395.8l0.2 0.2M129.8 397.0l-0.1 -0.2M106.3 370.5l0.1 -0.2M94.1 395.1l-0.2 -0.2M82.7 355.4l-0.2 0.1M97.9 360.3l-0.0 -0.1M82.9 358.0l-0.1 -0.0M89.4 377.7l-0.0 0.2M117.1 371.3l-0.1 -0.2M104.6 407.5l0.2 -0.2M119.1 396.9l0.2 0.1M118.5 359.4l-0.1 0.2M134.1 403.7l-0.1 0.1M127.2 376.4l-0.1 -0.0M113.1 355.4l-0.2 0.2M105.7 377.2l0.0 0.0M122.1 384.0l-0.2 -0.2M97.6 374.4l0.2 -0.0M90.1 400.9l-0.1 -0.0M118.4 394.5l-0.1 -0.0M83.3 406.5l0.2 0.2M94.3 389.3l-0.0 -0.2M94.7 403.0l0.1 0.0M90.4 387.1l0.2 -0.1M96.0 406.4l-0.1 -0.0M134.5 395.3l-0.1 -0.1M96.6 356.6l0.0 -0.2M97.2 400.5l-0.2 -0.2M85.6 389.6l-0.1 -0.1M112.1 395.1l0.2 -0.2M102.3 355.2l-0.1 0.1M101.8 378.2l-0.1 0.2M128.5 403.9l0.1 0.2M119.1 359.5l-0.2 0.2M113.9 395.5l0.0 0.2M94.0 363.2l-0.1 0.1M116.4 383.9l-0.1 -0.0M99.0 359.7l0.2 0.1M127.5 375.2l0.2 0.2M95.9 407.6l0.2 -0.2M88.6 359.1l0.1 -0.2M91.1 356.2l-0.0 -0.1M114.5 364.3l0.1 0.1M105.0 408.2l0.0 0.0M96.1 371.1l0.1 -0.1M88.8 377.7l-0.0 -0.2M96.5 406.0l0.2 -0.0M125.5 390.2l-0.2 0.0M86.4 388.0l0.0 -0.2M111.9 367.9l0.1 0.2M128.3 358.0l0.0 0.0M134.5 370.1l-0.2 -0.1M101.9 401.3l0.2 0.0M125.7 378.6l-0.1 -0.0M121.1 372.3l0.2 -0.0M96.4 382.7l0.2 -0.1M100.5 382.9l0.2 0.1M123.4 368.2l0.1 0.1M99.6 383.7l-0.2 0.2M120.5 390.5l0.2 0.1M102.1 388.4l-0.2 0.1M103.7 383.7l0.2 -0.1M93.4 398.9l-0.1 0.2M135.3 363.2l0.0 0.2M119.5 390.0l-0.2 -0.0M128.3 354.3l0.1 -0.1M98.8 400.9l-0.1 -0.0M139.0 371.2l0.2 -0.1M116.0 357.3l0.2 -0.0M110.7 408.0l-0.0 -0.2M101.8 355.6l-0.2 0.2M127.1 394.5l0.1 -0.1M114.9 371.1l0.1 0.1M104.2 369.3l-0.1 -0.1M134.8 400.8l-0.1 -0.2M111.1 396.5l-0.1 0.1M103.9 365.3l0.2 0.1M104.6 393.6l-0.1 0.1M119.8 385.8l-0.1 0.1M96.4 408.5l0.0 0.1M86.0 360.8l-0.1 -0.2M104.2 388.1l0.1 -0.2M120.4 361.3l0.1 0.2M122.5 373.8l-0.1 0.1M130.9 360.7l-0.1 0.2M126.6 366.4l-0.2 -0.2M98.8 401.6l0.0 -0.2M91.6 360.0l-0.1 -0.2M88.7 385.2l-0.2 -0.2M84.8 397.8l0.1 -0.2M136.6 402.3l-0.2 0.2M82.8 366.4l-0.2 0.0M120.0 366.5l0.0 0.1M86.3 363.7l0.1 -0.2M99.5 369.4l0.0 -0.2M82.8 388.0l0.1 -0.2M117.4 366.0l0.2 0.1M118.1 367.7l-0.0 0.2M111.5 391.5l0.1 -0.1M100.0 408.7l0.1 -0.2M112.7 372.1l0.1 0.1M131.0 385.7l-0.2 0.0M88.8 380.2l-0.0 -0.1M96.7 363.5l-0.1 0.1M92.2 381.1l0.2 0.2M125.3 383.1l0.0 -0.0M132.6 378.9l-0.2 0.2M95.2 405.2l0.2 -0.1M97.1 402.6l0.2 -0.0M88.4 382.4l0.2 -0.1M119.2 404.2l0.0 -0.1M115.9 370.1l0.2 -0.1M126.0 383.7l-0.1 0.2M136.1 362.5l-0.1 0.2M90.3 395.4l-0.1 -0.0M100.1 356.8l-0.0 0.2M94.5 393.7l-0.2 0.2M83.8 367.5l-0.1 0.1M111.9 391.8l0.0 0.2M93.6 366.4l0.0 0.1M107.5 404.9l-0.1 0.2M111.4 394.8l0.2 0.2M127.7 392.5l-0.1 0.1M117.1 386.3l-0.2 0.2M128.4 406.9l-0.0 -0.1M116.0 404.6l-0.1 -0.1M119.7 410.0l0.1 0.1M108.1 358.3l0.2 -0.0M119.8 370.4l0.2 -0.2M113.4 405.1l0.1 -0.2M131.1 408.2l0.2 -0.1M82.9 384.8l0.1 -0.2M110.2 357.3l-0.2 0.2M117.4 369.8l0.0 -0.2M103.0 393.4l-0.1 -0.2M136.2 359.8l0.1 -0.0M113.1 395.4l-0.1 -0.0M101.1 378.7l0.1 -0.0M127.0 391.7l0.1 -0.1M99.3 386.0l0.1 -0.0M138.8 364.8l0.0 0.2M98.1 395.6l0.1 0.2M104.5 371.3l0.1 0.1M117.3 383.3l-0.2 -0.0M102.3 396.0l0.2 0.0M129.3 375.5l-0.0 0.1M93.1 380.3l-0.2 -0.1M132.3 409.4l-0.1 0.0M112.0 356.0l-0.2 0.1M89.8 403.2l0.2 -0.1M84.1 358.6l-0.2 0.2M118.4 409.2l0.1 0.1M107.5 390.5l0.2 -0.2M87.2 356.1l-0.1 -0.1M99.6 377.5l0.0 -0.0M100.0 403.3l-0.2 0.1M122.4 356.0l-0.1 0.2M111.1 359.0l0.1 -0.2M112.6 396.1l-0.2 0.2M87.0 355.2l-0.1 -0.2M119.5 378.4l0.0 0.0M87.8 374.2l0.2 0.2M113.8 381.9l0.2 0.2M84.5 377.7l0.2 0.1M119.6 392.5l-0.2 0.1M112.5 357.9l-0.2 -0.1M102.8 366.7l0.1 0.1M128.5 387.5l0.0 0.0M121.9 394.5l-0.2 0.1M138.9 409.3l-0.1 -0.1M135.9 400.0l-0.2 0.0M117.5 358.7l0.2 -0.1M132.2 365.4l-0.2 -0.1M86.0 394.0l0.0 -0.1M127.7 369.1l-0.1 -0.1M113.5 406.2l0.1 0.2M131.2 392.3l-0.1 0.0M106.7 384.5l-0.1 -0.2M131.7 391.6l0.0 -0.0M90.0 381.7l-0.2 -0.0M102.9 382.2l0.1 -0.2M89.0 361.9l-0.1 0.1M91.7 378.5l-0.2 0.2M132.8 403.8l0.2 -0.2M107.8 370.0l-0.1 0.0M132.6 400.2l-0.2 0.1M134.8 386.9l-0.1 0.1M86.6 365.0l-0.2 -0.1M108.0 393.9l-0.1 -0.2M113.8 359.6l0.1 0.0M105.3 384.1l-0.2 0.0M112.0 408.2l0.2 0.2M85.1 367.0l0.2 0.2M137.2 391.9l-0.2 -0.1M104.0 399.8l-0.2 0.0M115.0 407.2l0.1 0.1M125.5 379.8l-0.1 0.0M94.4 406.6l-0.2 0.0M135.4 407.3l-0.1 -0.1M95.8 409.8l0.2 -0.1M138.1 385.4l-0.1 0.1M116.3 403.0l-0.1 0.2M126.1 367.9l-0.1 -0.2M132.5 377.8l0.2 0.1M84.9 361.3l0.1 -0.2M87.6 397.6l0.2 -0.1M138.6 409.8l0.0 0.0M97.5 408.0l0.2 0.1M102.7 371.6l-0.2 0.2M116.7 372.9l-0.2 0.1M138.2 399.9l-0.2 0.1M84.0 408.2l0.1 -0.0M117.3 380.7l0.0 0.0M133.5 391.3l0.2 -0.0M129.0 390.7l0.1 0.1M108.9 402.7l-0.1 -0.2M82.7 407.8l-0.1 -0.1M138.2 358.8l-0.1 0.1M109.5 387.6l-0.2 0.1M91.3 381.3l-0.0 0.2M101.4 368.5l-0.0 -0.0M121.7 390.1l0.2 -0.0M134.8 377.2l-0.2 0.0M104.5 367.4l0.1 0.2M101.7 406.2l0.1 -0.1M83.6 378.9l0.2 0.0M107.9 398.6l0.1 0.2M112.1 390.3l-0.1 0.2M131.7 365.4l-0.1 -0.2M83.6 404.4l0.2 0.2M100.9 370.5l-0.2 0.0M100.4 385.8l0.0 0.1M113.5 369.3l-0.0 -0.1M123.7 366.4l-0.1 0.2M136.2 407.5l-0.0 0.0M117.7 393.3l0.1 0.1M93.2 400.4l-0.1 -0.1M99.8 356.1l0.1 0.1M125.0 390.6l-0.2 -0.2M123.5 407.2l0.1 0.1M137.7 368.5l-0.2 -0.2M83.9 360.2l-0.1 0.2M132.0 384.4l-0.2 -0.0M134.4 409.9l-0.2 -0.2M100.7 383.1l-0.2 0.1M102.3 377.4l-0.2 0.2M103.5 368.0l-0.1 0.2M133.7 384.2l0.2 0.1M100.5 400.0l0.1 -0.0M101.9 384.4l0.0 0.1M94.9 402.6l-0.2 -0.2M138.2 355.7l0.0 0.0M119.0 398.6l0.1 0.2M86.9 372.0l0.1 -0.0M87.8 393.9l0.1 -0.2M85.6 364.7l0.2 0.1M85.1 399.7l0.2 0.2M108.5 399.7l0.2 -0.0M125.3 360.3l0.2 -0.2M129.8 401.3l-0.1 0.2M133.8 405.0l0.2 0.2M138.7 372.1l-0.2 0.1M104.7 377.2l0.2 0.2M96.2 360.6l0.2 0.2M103.7 384.3l0.2 -0.0M87.3 383.1l0.1 0.2M95.8 376.7l0.0 -0.1M85.4 403.2l0.1 0.2M94.0 406.8l0.2 0.0M105.3 365.9l-0.1 -0.2M134.2 380.1l0.1 -0.2M104.2 359.3l0.2 -0.2M126.9 410.0l0.2 -0.2M95.6 373.2l-0.2 0.1M97.7 388.1l0.2 -0.2M99.7 367.9l-0.1 -0.1M122.1 395.0l0.1 0.2M85.2 380.1l-0.2 0.1M126.3 362.0l0.1 0.1M116.8 403.4l-0.2 -0.1M104.5 362.8l0.1 0.2M93.1 401.8l0.2 0.2M135.0 372.4l-0.2 0.1M131.1 390.0l-0.1 -0.1M113.1 356.7l0.2 0.1M133.4 406.2l0.1 -0.0M128.6 400.5l0.0 -0.1M132.7 359.2l0.0 -0.0M124.2 387.2l0.2 -0.0M91.1 406.0l0.1 0.2M101.0 354.8l-0.0 0.0M130.2 380.6l-0.2 0.2M130.9 357.5l0.2 0.1M88.5 408.3l-0.2 0.2M116.4 406.9l0.1 0.2M131.6 389.7l0.2 0.1M105.0 394.3l-0.2 0.1M104.9 368.9l-0.1 0.1M116.4 374.6l-0.2 -0.2M133.4 368.9l0.1 0.0M111.8 361.2l0.0 -0.2M104.7 392.7l-0.0 -0.2M87.5 400.9l0.2 -0.1M117.3 364.5l-0.0 -0.2M89.8 360.1l-0.0 -0.1M132.6 366.1l0.0 -0.0M94.3 407.9l-0.2 -0.1M118.1 393.5l-0.0 0.1M116.6 365.5l0.2 -0.2M130.6 394.1l0.1 0.1M127.7 397.4l0.2 0.0M137.9 355.5l-0.2 -0.1M95.3 365.5l-0.2 0.0M139.0 363.7l-0.2 0.2M135.5 404.1l-0.2 -0.0M124.0 375.1l-0.2 0.2M127.3 392.7l-0.1 0.1M108.4 363.9l0.0 0.2M94.5 391.7l-0.1 -0.1M108.2 358.5l-0.1 -0.2M94.8 396.0l0.1 -0.1M126.7 408.7l-0.2 0.1M94.4 360.8l-0.2 0.2M103.5 377.9l0.1 0.0M100.7 407.1l0.2 0.1M134.6 385.4l-0.0 -0.0M88.3 365.1l0.0 0.2M126.4 366.0l-0.0 -0.0M131.0 362.5l-0.2 0.2M129.4 372.9l0.1 -0.2M85.4 406.8l0.2 0.1M124.8 358.8l-0.2 -0.1M117.8 389.0l-0.1 0.0M118.4 370.9l0.2 0.0M118.8 357.4l0.1 -0.2M85.0 365.7l0.2 -0.0M129.0 391.5l-0.2 -0.2M131.8 387.6l-0.2 -0.1M107.6 394.4l-0.0 0.2M83.6 375.1l-0.2 0.0M131.8 378.5l-0.0 -0.2M92.3 393.0l0.1 0.1M138.7 370.5l-0.2 0.2M93.7 401.7l-0.2 0.2M83.5 391.7l0.2 0.0M103.2 409.3l0.1 0.0M112.7 409.6l-0.1 -0.1M112.5 391.3l0.0 0.2M107.4 384.5l0.2 -0.1M122.4 369.3l-0.2 -0.1M128.7 375.7l0.1 0.0M108.1 360.4l-0.2 0.1M97.2 371.7l-0.0 0.2M126.6 368.4l0.2 0.1M85.5 359.9l-0.2 0.1M111.7 391.4l0.0 -0.1M136.8 370.9l0.2 0.1M111.1 408.3l0.1 -0.2M108.8 403.6l-0.2 0.2M96.1 381.0l-0.2 -0.2M105.2 398.9l-0.2 0.1M120.2 387.0l0.1 -0.1M97.4 394.5l0.2 0.1M95.1 373.5l-0.1 0.2M120.6 380.5l0.1 -0.0M136.9 385.8l0.0 0.2M118.9 359.8l-0.1 -0.1M106.8 403.0l0.1 0.2M97.0 369.2l0.2 0.1M101.0 382.1l-0.1 -0.1M99.6 406.7l0.0 -0.1M96.0 388.4l-0.2 0.1M86.4 360.6l0.1 0.1M84.4 387.8l0.0 -0.2M114.2 387.8l-0.2 0.1M87.7 372.8l-0.2 -0.2M98.3 365.4l0.2 0.2" stroke="#b4b4c6" stroke-width="1.15" stroke-opacity="0.75" stroke-linecap="round" fill="none"/>
<path d="M101.7 402.8l-0.2 -0.0M109.5 363.8l-0.2 -0.1M103.5 391.3l0.1 0.2M96.8 392.6l-0.2 0.1M131.2 384.1l0.2 -0.0M91.5 355.4l-0.1 0.1M136.4 382.1l0.0 -0.2M113.0 400.2l-0.1 -0.1M90.3 361.1l0.2 0.2M99.2 397.4l0.1 0.1M117.0 392.5l0.1 0.2M125.7 370.0l0.0 0.2M113.7 407.5l0.2 -0.1M135.2 357.3l0.0 0.2M104.3 405.5l0.2 -0.2M118.3 409.6l-0.0 0.1M114.5 382.6l-0.2 0.2M100.5 371.6l0.0 0.0M93.5 389.1l-0.1 0.0M121.2 385.0l-0.1 -0.1M107.5 366.0l0.2 0.2M92.0 373.1l0.2 -0.1M110.2 393.8l-0.2 -0.1M118.8 358.9l-0.2 0.1M136.8 362.7l0.0 -0.0M109.9 374.8l0.2 0.2M133.6 380.7l-0.0 0.1M106.7 367.1l0.2 -0.1M111.9 402.3l0.1 -0.0M110.7 390.8l0.0 0.0M114.4 380.1l-0.0 -0.1M138.0 357.9l0.2 0.1M117.4 394.7l0.1 0.1M124.2 371.3l0.1 -0.2M95.1 386.3l-0.2 -0.2M97.7 401.3l-0.1 0.1M126.1 376.3l-0.2 -0.0M113.9 398.4l0.2 0.2M136.5 377.3l0.2 -0.2M131.6 395.8l-0.2 0.2M134.8 382.9l-0.2 0.1M90.0 387.3l-0.1 -0.0M106.1 364.3l-0.1 -0.0M131.2 354.4l-0.1 0.2M114.4 388.3l-0.1 -0.0M123.3 381.8l-0.1 -0.1M115.9 356.7l0.2 0.0M127.5 376.1l-0.2 0.1M135.8 374.5l0.1 0.1M94.6 381.6l-0.2 -0.1M107.6 410.0l-0.2 -0.2M96.8 356.4l0.2 -0.2M134.5 359.0l0.1 -0.0M125.0 372.8l-0.1 -0.2M99.1 364.3l0.1 -0.0M86.9 375.8l0.0 -0.1M116.2 364.2l0.2 -0.1M89.1 399.2l0.1 -0.1M89.8 380.7l0.1 -0.2M123.9 403.5l0.0 0.1M130.6 376.2l-0.2 -0.2M95.8 382.0l0.1 0.0M90.6 409.6l-0.1 -0.2M92.8 404.6l-0.0 0.0M116.7 404.3l0.1 0.0M88.0 371.6l0.1 -0.0M124.6 405.2l-0.2 0.2M138.4 390.1l0.1 -0.1M93.4 379.4l0.2 0.1M136.8 409.1l0.2 0.0M104.8 386.0l0.2 -0.2M109.6 370.2l0.2 0.1M137.2 394.4l-0.1 0.2M89.3 390.9l-0.0 0.2M111.3 390.0l-0.1 0.2M116.4 382.3l0.2 -0.1M130.9 405.4l-0.0 -0.2M110.1 387.7l-0.1 -0.2M92.4 391.6l-0.1 0.2M138.3 395.0l-0.1 -0.0M94.7 408.0l0.0 -0.2M115.3 373.1l0.0 0.1M113.4 393.6l0.2 0.1M87.9 409.1l0.1 0.1M115.0 371.2l0.2 0.1M138.8 396.7l-0.1 -0.1M116.4 384.6l-0.0 -0.1M133.7 384.3l-0.2 0.2M83.6 394.5l-0.2 -0.2M111.0 354.4l-0.2 0.2M134.7 376.2l-0.0 0.1M135.3 407.5l-0.1 -0.2M124.8 394.5l-0.1 -0.1M110.6 372.7l0.2 0.0M99.2 368.6l-0.2 0.0M122.8 366.2l-0.1 0.0M131.8 375.8l-0.1 -0.2M90.8 368.7l-0.2 0.1M111.6 403.8l-0.1 -0.1M92.0 398.2l0.2 0.1M138.0 368.4l-0.0 0.2M89.8 361.3l-0.2 0.2M124.4 405.7l0.2 0.2M113.6 397.7l0.2 0.2M114.7 371.3l0.2 0.2M124.7 371.1l0.1 -0.2M94.3 387.4l-0.1 -0.2M108.5 394.3l-0.2 0.1M125.2 394.1l0.2 -0.2M91.3 384.1l0.2 -0.1M133.1 364.9l0.1 0.0M93.4 398.7l0.1 0.2M90.7 390.8l-0.0 -0.2M103.1 385.0l-0.0 -0.2M114.2 405.4l0.0 -0.1M124.0 383.1l-0.2 0.2M95.4 371.3l0.2 0.2M106.3 358.2l-0.1 -0.1M124.1 401.0l-0.0 -0.2M89.1 361.9l-0.1 0.2M133.1 397.6l0.1 -0.2M107.2 390.6l-0.2 -0.1M119.4 375.6l-0.2 -0.0M124.9 378.4l-0.1 0.2M104.4 390.1l-0.2 -0.0M119.1 402.4l-0.1 -0.0M112.0 371.4l0.0 0.2M86.9 357.3l-0.0 0.0M96.8 367.6l0.1 0.2M125.4 369.0l-0.0 -0.1M83.1 395.3l0.1 0.1M87.5 401.2l0.0 0.0M132.9 363.4l-0.0 0.1M92.9 393.5l-0.2 0.2M116.0 371.7l-0.0 0.2M108.3 408.1l0.1 -0.1M87.3 358.6l0.2 0.1M113.7 377.5l0.1 -0.0M106.9 374.0l0.2 0.0M115.3 394.0l-0.0 0.2M86.9 375.2l0.2 0.2M109.6 371.1l0.2 -0.2M112.7 369.8l0.1 0.2M89.2 396.4l-0.2 0.2M123.0 387.2l-0.1 -0.0M123.6 363.4l-0.0 -0.0M124.6 404.1l-0.1 0.2M131.6 395.4l-0.2 -0.2M90.6 369.5l-0.1 -0.0M91.8 395.4l0.0 0.2M125.0 364.7l0.1 -0.2M86.2 368.0l0.2 0.2M87.2 382.8l0.1 0.1M108.3 394.4l-0.1 -0.1M88.2 391.7l-0.2 -0.2M91.3 359.4l-0.2 0.1M101.2 385.3l-0.2 -0.2M111.4 379.2l-0.2 0.2M93.2 377.2l-0.1 0.2M90.4 359.0l-0.2 0.2M124.6 402.1l-0.1 -0.2M95.4 359.1l0.2 0.1M99.7 360.3l0.1 -0.2M133.1 402.1l0.1 0.1M104.2 370.7l0.1 0.0M109.1 386.2l-0.2 -0.1M126.8 384.3l-0.1 -0.2M129.6 409.0l0.2 -0.2M119.3 380.7l0.2 -0.2M103.6 367.6l-0.0 -0.2M114.4 403.3l-0.1 0.2M100.7 386.4l-0.0 -0.2M103.7 387.2l0.2 0.2M121.8 394.8l-0.1 0.1M130.2 356.5l-0.0 -0.1M96.8 359.0l-0.2 0.1M108.2 355.2l-0.1 0.1M132.8 367.4l0.0 0.1M91.8 382.1l0.1 -0.0M106.1 378.0l0.1 -0.1M137.7 388.3l0.0 -0.2M86.7 380.3l0.1 0.2M113.7 385.6l-0.1 -0.1M112.5 361.1l-0.0 0.2M105.8 399.3l-0.0 -0.1M127.8 389.4l0.1 -0.0M111.1 405.1l-0.2 0.2M126.6 356.2l0.2 0.1M124.8 400.2l-0.1 0.1M120.0 378.8l-0.1 -0.0M106.7 388.1l0.2 0.1M135.8 365.7l0.0 0.2M107.7 386.7l0.1 -0.1M117.0 397.4l0.0 0.2M93.9 360.3l0.0 -0.0M87.9 355.4l0.0 0.2M101.5 388.3l-0.1 -0.2M135.6 408.2l0.1 0.2M111.1 409.2l-0.2 -0.1M98.0 366.5l-0.2 -0.1M86.4 404.9l0.1 0.1M133.5 407.3l-0.1 -0.2M138.2 383.0l0.1 -0.0M139.0 363.5l0.2 0.0M135.2 406.7l-0.2 -0.2M127.7 408.2l0.2 -0.1M129.6 399.2l0.2 0.2M115.5 403.1l0.1 -0.2M102.7 385.1l-0.1 0.0M118.8 372.8l-0.1 0.2M138.6 395.1l0.2 -0.2M129.7 385.2l0.1 0.2M112.3 397.5l0.0 0.0M117.6 368.0l0.2 -0.2M95.7 408.9l-0.2 0.2M82.7 407.1l0.1 0.1M85.0 405.2l-0.2 0.0M124.6 374.9l0.1 -0.2M130.7 373.0l-0.1 0.2M124.1 370.7l-0.1 -0.1M115.8 362.4l-0.2 0.1M117.4 365.4l-0.2 -0.2M100.9 406.1l-0.1 0.2M131.5 364.0l-0.1 -0.0M120.3 364.0l0.0 0.1M134.5 389.3l0.2 -0.2M131.7 362.8l0.1 0.0M95.0 371.9l0.2 0.0M128.2 374.9l-0.1 -0.2M106.3 379.2l-0.1 -0.0" stroke="#8585a8" stroke-width="1.00" stroke-opacity="0.85" stroke-linecap="round" fill="none"/>
<path d="M96.7 375.5l-0.0 0.0M132.5 386.5l0.2 -0.4M95.9 400.6l0.3 0.2M96.3 397.8l0.0 0.3M129.2 395.3l0.4 -0.4M90.8 383.8l0.4 0.1M97.4 368.5l0.1 -0.1M93.4 358.0l0.0 -0.1M104.6 383.0l-0.3 0.1M122.7 386.7l0.1 0.1M128.0 395.4l0.2 -0.4M103.7 361.1l-0.2 -0.2M113.2 363.0l0.4 -0.2M99.0 394.9l0.1 0.5M123.5 371.2l-0.1 0.4M87.5 377.7l-0.0 -0.5M108.8 365.9l0.5 0.2M117.8 361.2l0.3 0.2M95.6 392.4l-0.4 -0.3M124.3 355.3l-0.4 0.1M89.2 382.9l-0.1 -0.3M132.9 394.5l0.2 -0.1M127.8 409.6l0.3 -0.1M111.9 378.8l-0.1 0.3M128.1 404.8l-0.5 -0.2M120.3 370.0l0.3 -0.4M90.9 406.2l-0.5 0.4M103.0 400.0l-0.1 -0.5M94.4 395.5l-0.2 -0.3M130.7 390.9l0.0 0.4M123.3 391.4l0.4 -0.1M95.3 366.8l-0.5 0.1M125.6 376.8l-0.2 0.1M129.5 366.1l-0.2 0.3M110.8 398.4l-0.2 -0.0M91.8 409.4l0.1 0.0M117.5 401.3l-0.3 0.1M137.3 387.9l0.1 0.0M136.6 365.4l0.1 -0.1M138.1 380.9l-0.3 -0.5M107.1 377.1l0.4 0.1M97.3 373.2l-0.2 0.0M132.0 363.4l-0.3 -0.5M92.9 393.0l0.1 -0.4M102.5 380.9l0.4 -0.1M114.3 377.1l0.4 -0.1M101.1 393.8l0.4 0.1M116.3 378.7l0.4 -0.4M113.1 405.5l-0.4 0.3M130.6 403.1l-0.2 -0.3" stroke="#3e3ea6" stroke-width="1.00" stroke-opacity="0.90" stroke-linecap="round" fill="none"/>
<path d="M126.7 404.4l-0.3 -0.2M128.6 367.1l-0.3 0.8l-0.5 0.3M103.5 380.9l-0.3 0.5l0.7 -0.3" stroke="#2b22bd" stroke-width="1.0" stroke-linecap="round" stroke-linejoin="round" fill="none"/>
<path d="M95.5 400.7l-0.8 -0.0l-0.5 0.5M104.2 391.7l-0.4 0.2l-0.5 0.7" stroke="#2b22bd" stroke-width="1.5" stroke-linecap="round" stroke-linejoin="round" fill="none"/>
<text x="139.10" y="406.30" font-size="4.80" text-anchor="end" fill="#ff2020" style="stroke-width:0.08px;stroke:#ff2020">100 µm</text>
<line x1="128.90" y1="407.70" x2="137.50" y2="407.70" stroke="#ff5050" stroke-width="0.50" />
<rect x="141.80" y="353.80" width="57.20" height="56.80" fill="#e3e3e5" />
<path d="M171.6 399.3l0.2 -0.1M185.4 393.6l0.1 -0.2M143.8 375.7l0.1 -0.1M170.5 372.0l0.2 0.2M164.9 410.0l-0.2 0.2M191.5 362.7l0.1 0.0M196.0 366.0l0.0 0.2M178.2 371.6l-0.2 0.2M168.9 409.9l-0.2 0.2M188.0 405.6l-0.2 -0.1M145.2 396.3l-0.1 0.2M163.4 397.5l0.2 -0.1M173.6 407.7l0.0 -0.1M157.3 398.2l-0.2 0.1M173.5 385.2l-0.2 0.1M193.8 372.1l-0.1 0.2M174.8 369.5l-0.2 0.1M161.9 380.4l-0.1 0.1M183.3 371.6l-0.2 0.2M193.4 355.5l0.0 0.1M164.9 395.1l0.2 0.0M164.3 365.2l-0.1 -0.2M148.5 366.2l0.2 0.0M187.5 405.6l0.2 -0.2M194.3 359.5l0.1 0.2M179.2 376.8l-0.2 -0.2M178.1 367.8l0.0 -0.1M151.5 370.8l0.1 -0.0M164.4 381.4l0.0 0.0M167.3 408.3l0.1 -0.1M160.2 364.8l-0.1 -0.2M184.1 386.0l-0.0 0.2M160.8 386.6l0.2 0.0M176.7 374.8l0.2 0.1M159.3 374.1l0.0 0.0M171.7 365.0l0.0 0.1M185.3 379.4l-0.0 0.0M172.4 380.8l-0.2 -0.1M197.8 400.4l-0.0 0.1M154.2 369.2l0.0 0.1M143.8 380.6l0.2 0.1M198.1 359.8l0.2 0.2M143.8 384.2l0.1 -0.1M178.8 401.8l0.1 -0.0M145.6 384.4l-0.2 0.0M157.4 373.7l0.0 0.2M197.1 376.9l-0.2 0.1M161.4 396.6l0.2 -0.2M183.4 370.2l-0.1 -0.1M172.6 367.9l-0.0 -0.1M149.3 368.2l0.1 -0.1M153.6 374.7l-0.1 0.2M186.5 362.8l-0.1 -0.0M172.0 376.0l0.0 0.1M151.0 385.5l-0.2 0.0M160.1 399.1l0.2 0.2M165.2 388.7l-0.2 0.1M186.0 378.1l-0.1 0.1M184.5 398.9l-0.1 -0.1M156.4 365.0l-0.2 -0.2M170.0 378.3l0.2 -0.1M151.9 406.2l-0.2 -0.1M185.2 372.2l0.2 0.1M159.6 402.5l0.2 0.0M150.4 360.1l0.2 0.2M179.0 397.5l0.1 -0.1M154.3 402.7l0.2 -0.0M157.5 358.7l-0.0 0.2M153.7 371.9l-0.2 0.0M145.7 392.0l-0.0 -0.0M156.9 371.2l0.2 0.2M184.6 366.2l-0.1 -0.1M191.5 406.9l-0.1 0.1M163.6 379.7l-0.2 0.1M186.3 406.7l-0.0 -0.0M178.6 361.6l0.2 0.1M155.1 376.7l-0.0 0.2M181.2 367.6l0.2 0.2M190.5 381.8l-0.0 -0.0M197.2 381.2l0.2 -0.2M144.0 380.6l-0.2 -0.1M144.3 361.2l-0.0 -0.2M159.0 388.5l-0.1 -0.1M163.6 369.0l0.0 0.1M144.0 384.2l0.0 0.2M181.9 369.6l0.1 0.2M195.8 397.1l-0.2 -0.1M169.2 372.7l0.1 -0.0M197.3 354.7l0.2 -0.2M171.4 362.6l-0.1 0.1M196.2 356.6l-0.1 -0.2M184.1 362.3l-0.2 0.2M144.9 403.7l-0.1 0.2M148.3 359.7l-0.0 -0.1M178.5 371.2l-0.1 -0.2M147.3 354.5l-0.0 0.2M172.5 372.3l-0.0 0.1M191.2 359.5l0.1 -0.1M194.5 394.8l0.0 0.1M185.1 358.3l-0.1 -0.2M151.0 406.1l0.0 -0.1M158.9 377.7l-0.2 0.2M163.7 357.4l0.0 -0.0M185.2 369.0l-0.1 0.0M165.0 361.5l0.1 0.2M189.0 391.0l-0.0 0.1M154.2 359.8l-0.1 0.0M154.0 378.6l0.2 0.1M153.5 361.1l-0.2 -0.2M157.0 394.0l0.2 -0.1M144.9 385.5l0.2 -0.2M177.6 410.0l-0.1 0.0M187.9 391.5l-0.2 0.1M175.2 391.1l0.0 0.2M174.4 405.8l-0.2 -0.2M150.0 382.6l0.1 0.2M142.7 354.7l-0.1 0.1M164.7 369.9l-0.1 0.1M176.4 407.5l-0.1 -0.0M196.4 393.3l-0.1 0.1M167.4 359.3l-0.2 -0.0M159.8 368.8l0.1 -0.1M167.6 382.7l-0.2 0.2M157.3 363.3l0.0 -0.1M144.1 360.6l-0.2 -0.1M160.6 366.0l-0.2 0.2M174.7 388.2l-0.2 0.2M144.1 396.9l0.1 -0.0M161.1 384.5l0.0 0.2M145.5 359.3l0.1 -0.1M174.9 375.7l-0.2 0.2M152.8 372.9l0.1 0.2M190.4 406.2l-0.1 -0.1M168.1 400.5l0.1 0.1M182.0 366.3l0.0 -0.0M191.8 371.6l0.0 0.1M182.0 398.2l0.1 -0.2M196.6 356.4l0.1 -0.1M148.0 374.5l-0.2 -0.1M196.6 399.6l-0.1 -0.0M175.9 372.0l-0.2 -0.0M189.8 407.9l0.1 0.2M165.8 398.1l0.2 0.2M153.2 383.6l-0.2 0.0M168.9 387.3l0.0 -0.1M150.2 372.2l0.1 -0.1M196.6 401.1l-0.1 -0.0M187.2 354.8l0.1 -0.0M180.2 354.8l0.1 -0.2M158.3 388.5l0.1 -0.1M156.8 374.7l-0.1 -0.1M156.2 382.0l0.1 0.2M164.4 407.0l-0.1 0.2M188.1 396.3l0.2 0.1M191.8 369.5l0.0 0.0M172.3 357.6l-0.1 0.1M162.9 393.5l0.1 0.0M149.8 379.2l0.2 -0.1M147.3 397.2l-0.1 -0.2M171.1 405.3l0.0 -0.1M142.8 377.8l-0.1 0.2M191.9 408.8l0.2 -0.1M178.0 385.1l0.0 0.0M154.5 363.0l-0.2 0.1M151.7 402.5l0.1 -0.1M192.6 359.4l-0.1 0.1M163.1 404.9l-0.0 -0.2M194.6 409.4l-0.0 0.1M180.7 360.0l0.1 -0.0M181.3 354.6l-0.0 -0.2M194.4 356.0l-0.2 -0.1M188.2 365.1l0.1 0.1M175.8 375.9l0.1 -0.2M157.3 402.5l-0.1 -0.1M150.0 384.1l0.2 -0.2M171.2 404.2l-0.2 -0.0M159.2 385.0l0.2 0.2M161.0 365.6l0.0 0.2M155.9 369.5l-0.1 0.2M159.0 365.1l-0.0 0.0M154.8 397.5l-0.2 0.0M162.4 403.6l0.2 -0.0M164.8 376.9l0.1 -0.2M144.5 369.1l0.0 -0.1M151.5 385.0l0.2 0.2M156.2 365.1l0.1 0.2M149.2 383.1l-0.1 0.2M195.5 368.0l0.2 -0.2M156.4 406.7l-0.1 0.2M174.8 389.5l0.2 0.1M160.5 377.8l-0.1 -0.1M160.4 393.6l-0.0 -0.2M188.0 391.4l0.2 0.0M161.5 398.8l0.1 0.0M176.2 374.9l-0.1 -0.2M166.7 382.8l-0.2 0.2M193.7 372.4l-0.2 -0.2M177.8 396.7l-0.0 0.1M156.2 372.6l-0.1 -0.2M142.7 403.8l-0.2 -0.2M178.7 372.6l0.0 -0.2M145.6 381.1l0.2 -0.2M150.4 397.3l0.1 0.0M183.2 373.1l-0.1 -0.1M158.0 386.2l0.1 0.2M179.5 364.9l0.1 -0.1M149.9 378.0l0.2 -0.0M180.5 397.8l0.1 -0.2M179.0 392.2l-0.1 -0.2M145.5 393.1l0.2 -0.2M165.3 398.5l0.2 0.1M151.2 373.9l-0.2 -0.1M184.1 368.9l0.2 -0.1M170.0 384.7l0.0 0.1M170.9 399.4l0.0 0.2M189.5 403.9l0.2 0.1M166.1 364.3l-0.1 -0.0M185.0 381.1l-0.2 -0.1M173.0 364.2l0.2 -0.1M148.6 405.3l-0.0 -0.1M147.5 383.6l0.2 -0.1M162.7 402.4l0.1 0.1M142.4 402.3l0.2 -0.1M187.8 361.2l-0.1 0.2M154.8 375.5l-0.1 -0.2M193.1 359.0l0.2 -0.1M179.5 373.3l-0.1 0.0M194.6 389.7l-0.1 0.1M180.4 409.1l-0.1 0.2M168.2 409.6l0.0 -0.1M182.5 405.6l-0.2 -0.1M169.1 405.7l0.2 -0.1M178.5 390.6l0.0 -0.2M165.9 405.0l-0.1 0.2M185.4 376.5l-0.1 -0.1M191.3 388.7l0.2 -0.0M178.2 372.5l-0.2 -0.0M153.7 380.8l-0.1 -0.2M159.5 404.2l0.2 0.2M154.6 379.9l0.1 -0.2M164.2 397.1l0.2 -0.2M170.7 382.0l-0.0 0.2M143.2 400.0l0.2 -0.1M184.7 397.5l-0.0 -0.2M155.0 406.8l-0.1 0.1M147.1 399.0l-0.1 0.1M158.6 395.2l0.1 0.2M153.6 377.6l0.2 0.1M147.9 359.9l0.0 -0.2M146.5 379.6l-0.1 -0.0M169.5 391.1l-0.2 0.2M146.8 398.9l-0.0 -0.0M175.0 376.4l-0.0 0.2M175.9 385.1l-0.1 0.2M179.6 371.4l0.2 -0.1M195.5 407.3l0.2 -0.1M195.6 382.4l-0.2 -0.0M172.5 377.3l-0.2 -0.2M154.9 372.9l-0.1 0.0M186.8 387.2l0.0 -0.1M166.6 371.9l-0.0 -0.1M197.1 384.5l-0.0 0.2M175.7 402.2l0.2 0.2M157.6 391.6l0.2 -0.1M192.4 358.1l-0.2 -0.1M161.1 367.4l-0.1 0.0M175.5 371.5l0.2 0.2M197.0 394.6l0.2 0.1M194.7 381.7l0.2 -0.2M182.4 392.6l-0.2 0.2M163.1 405.1l0.2 -0.0M197.8 363.2l-0.1 0.2M185.3 371.2l-0.0 -0.0M182.9 356.4l0.0 0.1M183.1 357.9l-0.1 -0.1M166.7 392.1l0.0 -0.1M166.0 400.9l0.2 0.1M158.6 357.4l0.1 -0.2M155.3 360.6l-0.1 -0.2M145.7 407.7l0.2 -0.2" stroke="#b4b4c6" stroke-width="1.15" stroke-opacity="0.75" stroke-linecap="round" fill="none"/>
<path d="M190.9 399.2l0.2 0.1M158.5 395.0l-0.2 0.0M188.0 358.2l-0.2 0.2M167.4 365.0l-0.1 -0.1M143.2 400.4l-0.0 0.1M179.7 407.2l0.2 0.0M163.1 388.6l-0.1 -0.2M182.2 407.4l0.2 -0.2M183.0 393.8l0.1 -0.1M169.3 398.2l-0.2 -0.1M148.0 389.1l-0.1 0.1M144.3 404.8l-0.0 -0.0M146.6 370.8l0.1 -0.0M152.0 360.5l0.0 -0.2M174.0 380.2l0.0 -0.2M189.1 362.6l0.1 0.1M190.6 387.8l0.1 0.1M161.5 368.0l-0.1 0.2M172.2 380.5l0.2 0.1M180.0 391.7l-0.2 0.0M153.8 398.0l0.0 -0.1M164.1 408.8l0.2 -0.0M157.6 366.8l0.0 -0.2M173.5 382.8l-0.0 0.1M163.5 399.5l-0.1 0.1M168.4 378.4l-0.1 -0.2M161.6 355.4l-0.1 0.0M151.9 374.1l-0.1 -0.2M198.3 408.5l0.1 -0.1M196.6 366.0l-0.1 -0.2M197.9 362.9l0.2 0.2M185.0 404.1l0.2 0.0M181.4 381.6l-0.1 -0.1M190.8 401.6l-0.1 -0.0M171.3 376.4l-0.2 0.0M142.9 410.0l-0.1 0.1M169.6 394.9l0.2 -0.2M150.3 407.0l0.2 -0.1M178.1 364.6l-0.0 0.0M183.3 376.0l0.0 -0.1M159.0 357.7l-0.1 0.1M194.9 374.6l0.2 -0.2M179.0 400.8l0.2 0.2M193.1 401.0l-0.2 0.1M186.0 395.6l0.1 0.2M153.1 407.9l0.2 -0.1M161.4 389.4l0.0 -0.2M189.4 374.6l0.1 0.1M197.3 375.5l0.1 0.2M181.6 371.0l-0.1 0.1M178.3 377.2l0.1 -0.2M174.5 405.7l-0.0 -0.1M183.8 384.0l-0.1 -0.1M157.9 363.0l-0.2 -0.1M196.9 381.5l-0.2 0.1M182.0 384.6l-0.0 -0.2M184.1 370.5l0.1 0.1M178.7 386.8l0.1 -0.2M167.9 407.5l-0.2 0.1M144.4 360.2l-0.2 0.2M179.1 402.6l-0.0 -0.0M198.3 388.2l-0.0 -0.1M146.5 384.5l-0.2 0.0M169.9 385.2l0.1 -0.2M147.5 373.2l0.2 -0.0M182.6 367.9l0.2 0.0M180.3 386.5l-0.2 -0.1M152.2 389.4l-0.2 -0.0M193.4 397.2l-0.2 -0.0M190.9 408.3l0.2 -0.1M175.0 404.1l-0.2 -0.1M178.8 390.0l-0.0 0.0M143.1 357.4l-0.1 -0.2M166.4 405.2l0.2 -0.2M158.0 385.8l0.1 -0.0M151.5 385.6l0.1 -0.1M187.5 378.5l0.2 -0.2M164.1 366.5l-0.2 0.1M165.9 405.6l0.2 -0.2M168.6 395.4l-0.2 0.1M157.0 393.7l0.0 -0.2M183.0 361.3l0.2 0.1M144.8 356.0l-0.1 0.1M155.8 395.7l-0.2 -0.1M149.4 393.6l0.1 -0.1M168.1 394.0l0.2 -0.2M153.3 381.3l-0.2 0.1M151.9 392.3l-0.0 0.1M159.7 382.2l-0.2 0.2M181.6 358.3l-0.0 -0.0M173.0 375.5l-0.1 -0.1M188.0 392.8l0.1 -0.0M195.8 383.6l0.2 0.0M174.7 390.2l0.2 -0.0M144.3 401.5l-0.2 -0.1M164.2 388.6l-0.2 0.1M183.2 404.4l-0.1 -0.0M187.8 377.2l-0.0 -0.2M186.4 359.8l-0.0 -0.2M179.6 368.3l0.1 -0.2M194.4 371.1l0.1 0.2M164.9 405.7l0.2 0.0M179.3 397.4l0.2 -0.0M152.8 372.7l0.0 0.2M144.2 369.2l0.2 0.1M159.5 373.5l-0.2 0.1M194.3 406.9l-0.1 -0.1M154.5 400.7l-0.1 -0.1M147.5 401.3l0.2 0.1M159.1 393.5l0.1 0.2" stroke="#8585a8" stroke-width="1.00" stroke-opacity="0.85" stroke-linecap="round" fill="none"/>
<path d="M155.3 389.9l0.1 -0.1M166.2 370.1l-0.2 0.4M145.1 407.3l-0.3 0.3M149.8 372.6l-0.4 0.4M144.8 408.3l-0.3 -0.4M147.7 392.7l-0.5 0.1M177.3 408.4l0.1 0.2M152.0 389.2l0.1 -0.0M155.6 376.3l-0.4 0.4M182.8 357.5l0.4 0.0M185.8 364.9l-0.3 -0.5M178.6 393.4l-0.3 -0.3M172.4 375.6l0.0 0.4M146.3 357.6l0.2 0.1M152.2 381.9l0.1 -0.1M163.9 407.1l-0.4 -0.2M187.8 360.3l0.3 0.3M152.3 362.2l0.3 -0.5M190.4 398.6l0.3 -0.4M187.8 367.3l0.4 0.3M145.7 380.2l0.4 -0.4M163.3 390.1l0.4 0.3M154.0 370.9l-0.1 -0.3M183.7 397.9l0.0 -0.2M147.9 384.1l0.0 -0.2M162.0 387.4l0.1 -0.4M146.3 375.6l0.3 0.1M183.2 403.0l-0.2 0.5M179.8 383.4l0.2 0.1M191.8 354.5l-0.1 -0.1M189.1 389.7l0.2 -0.2M153.8 407.9l-0.5 -0.0M191.3 364.9l-0.5 -0.5M147.9 372.9l-0.4 0.0M151.4 364.5l-0.4 0.0M188.2 400.8l-0.5 -0.4M152.5 376.7l-0.4 -0.4M195.1 385.2l0.1 -0.2M145.5 394.9l0.1 0.2M184.4 369.9l0.4 0.4M170.4 378.4l0.1 0.1M178.9 367.7l-0.4 0.2M171.9 399.8l0.2 0.2M169.9 369.9l0.5 0.5M188.2 395.9l0.3 -0.2M165.8 386.9l-0.2 -0.0M193.5 391.8l0.4 0.4M171.2 375.2l0.4 0.4M194.2 392.4l0.4 -0.1M193.1 386.3l0.2 -0.2" stroke="#3e3ea6" stroke-width="1.00" stroke-opacity="0.90" stroke-linecap="round" fill="none"/>
<path d="M172.5 379.1l-0.2 -0.2M163.0 389.8l0.1 0.6l0.5 -0.3M181.7 374.8l-0.7 0.5M163.1 380.6l0.5 0.6M172.1 380.9l-0.6 0.7l-0.4 0.8M157.7 397.6l0.1 0.1" stroke="#2b22bd" stroke-width="1.0" stroke-linecap="round" stroke-linejoin="round" fill="none"/>
<path d="M145.3 358.5l-0.4 0.5M194.5 391.9l0.5 0.1M171.2 373.7l-0.3 0.4l0.3 -0.3M186.9 372.3l-0.2 -0.8l0.1 0.3M159.2 372.4l0.3 -0.2l0.5 -0.8" stroke="#2b22bd" stroke-width="1.5" stroke-linecap="round" stroke-linejoin="round" fill="none"/>
<path d="M196.5 370.5l0.4 0.4l-0.9 -0.9" stroke="#2b22bd" stroke-width="2.0" stroke-linecap="round" stroke-linejoin="round" fill="none"/>
<path d="M176 379l-1 3l-1.5 2" stroke="#2b22bd" stroke-width="1.3" stroke-linecap="round" stroke-linejoin="round" fill="none"/>
<path d="M172 388l-1.5 3l.5 2" stroke="#2b22bd" stroke-width="1.3" stroke-linecap="round" stroke-linejoin="round" fill="none"/>
<path d="M148 392l1 1.5" stroke="#2b22bd" stroke-width="1.6" stroke-linecap="round" stroke-linejoin="round" fill="none"/>
<path d="M150 401l1 .8" stroke="#2b22bd" stroke-width="1.5" stroke-linecap="round" stroke-linejoin="round" fill="none"/>
<path d="M166 395l1 1" stroke="#2b22bd" stroke-width="1.2" stroke-linecap="round" stroke-linejoin="round" fill="none"/>
<text x="198.40" y="406.30" font-size="4.80" text-anchor="end" fill="#ff2020" style="stroke-width:0.08px;stroke:#ff2020">100 µm</text>
<line x1="188.20" y1="407.70" x2="196.80" y2="407.70" stroke="#ff5050" stroke-width="0.50" />
<rect x="22.50" y="424.80" width="58.00" height="57.60" fill="#e2e2e8" />
<path d="M33.3 462.7l-0.1 -0.2M50.9 453.3l-0.0 -0.0M38.1 439.7l0.1 -0.1M61.5 469.9l0.2 0.2M36.4 438.7l0.1 0.0M34.5 463.7l0.2 0.2M35.3 442.2l-0.2 0.2M35.6 466.5l0.0 0.0M53.0 472.0l0.0 -0.1M29.5 452.3l0.2 -0.2M62.0 461.0l-0.2 -0.1M62.1 450.0l-0.0 -0.0M28.8 465.2l0.0 0.0M42.4 471.2l0.2 0.0M28.1 433.7l-0.2 -0.2M60.0 456.1l-0.1 0.2M58.9 470.1l0.2 0.1M53.0 481.0l-0.2 0.1M73.4 452.4l0.2 -0.2M46.7 440.6l-0.1 0.1M31.2 444.5l0.2 -0.1M30.2 481.6l0.0 -0.2M55.6 433.6l-0.2 0.1M60.2 449.4l0.0 0.0M49.2 431.0l0.1 0.1M47.1 448.2l0.1 -0.0M46.7 474.9l0.2 -0.2M32.8 469.7l0.2 0.1M39.9 428.6l0.2 0.2M66.2 467.0l0.2 0.0M76.0 440.1l-0.2 0.2M62.8 470.4l-0.2 -0.1M56.5 429.0l-0.1 0.1M76.4 466.0l-0.1 -0.0M52.2 467.3l0.2 -0.2M75.8 470.7l-0.2 -0.1M38.6 437.5l-0.2 -0.2M61.5 450.1l-0.2 0.2M70.6 440.0l0.2 0.1M53.2 430.3l0.1 0.2M73.6 479.1l-0.2 0.2M28.3 445.9l0.0 0.1M53.2 476.6l0.1 0.2M61.6 451.1l-0.2 0.1M76.3 436.1l0.2 -0.2M45.6 467.8l0.1 0.0M39.0 439.2l-0.2 0.1M24.0 432.6l0.1 -0.0M24.0 449.3l0.2 0.0M38.3 433.0l-0.0 -0.1M38.7 428.8l0.1 0.1M51.9 459.9l-0.1 0.2M39.4 477.2l-0.2 0.1M72.6 457.5l-0.1 -0.2M79.3 481.5l-0.1 -0.0M70.2 474.4l-0.2 0.0M37.2 430.0l0.1 -0.0M34.9 468.3l-0.1 -0.1M40.0 436.4l0.2 -0.1M76.1 464.2l0.0 0.2M44.3 427.3l0.1 -0.2M75.9 480.4l-0.1 -0.2M77.6 439.9l0.2 -0.0M73.5 474.8l-0.2 -0.1M47.6 436.6l0.2 -0.1M36.5 435.6l-0.2 0.2M34.5 458.7l-0.2 0.2M67.7 478.7l-0.2 0.1M64.4 444.5l0.1 -0.1M56.3 473.5l0.2 -0.1M37.8 479.2l-0.1 -0.0M46.8 446.0l0.0 -0.2M49.5 463.4l0.2 -0.0M36.1 441.3l-0.2 -0.2M40.5 447.0l0.2 0.1M75.5 453.1l-0.2 0.0M62.7 481.6l-0.1 0.1M77.8 447.6l0.0 -0.2M61.3 428.4l0.1 0.1M70.4 473.2l-0.2 0.2M63.3 478.9l0.2 -0.0M71.9 436.6l0.2 0.1M69.3 456.2l0.0 -0.1M68.7 455.0l-0.1 0.1M56.2 449.6l0.2 -0.0M61.6 456.0l-0.1 -0.1M56.6 435.7l-0.2 -0.1M63.6 435.9l0.1 -0.1M76.9 431.4l0.2 0.2M70.3 461.0l-0.1 0.2M35.7 465.1l-0.0 -0.2M46.6 443.3l0.1 -0.1M70.2 427.1l-0.2 0.1M76.0 460.1l-0.2 0.2M61.3 425.7l-0.2 -0.1M53.2 457.3l0.2 0.1M77.7 448.3l-0.1 0.1M74.4 449.7l-0.2 -0.1M34.6 476.0l-0.1 -0.0M58.2 428.5l-0.2 0.0M37.4 428.7l0.1 0.1M58.0 432.6l0.2 0.2M29.4 463.8l-0.2 -0.2M42.0 480.0l-0.0 0.0M73.6 447.6l-0.1 -0.2M36.3 460.0l0.2 0.2M38.0 463.2l-0.1 0.0M23.9 477.9l0.1 0.1M59.3 446.9l0.2 0.0M60.8 440.6l-0.2 0.1M41.0 427.8l-0.1 -0.0M33.8 433.2l0.1 -0.0M51.8 465.8l-0.2 0.0M79.2 441.0l0.1 -0.2M44.6 450.7l-0.1 -0.1M41.9 452.1l-0.1 -0.0M37.2 456.1l0.1 -0.0M43.5 471.8l0.1 -0.0M40.6 479.4l-0.2 0.2M40.4 477.2l-0.2 0.1M50.3 460.1l-0.2 -0.1M43.7 456.9l0.1 0.2M39.6 427.9l-0.2 0.2M54.3 463.1l0.2 0.1M56.6 469.3l-0.2 0.2M32.9 475.2l0.2 0.0M38.9 432.4l-0.0 -0.1M43.9 433.8l-0.2 0.1M67.7 458.9l0.1 0.2M56.9 461.2l-0.2 -0.2M62.4 456.0l-0.1 0.2M49.3 458.2l0.2 -0.0M73.8 453.4l0.1 0.1M52.1 455.5l0.2 0.1M57.9 465.6l-0.1 0.0M70.7 466.1l0.2 -0.2M32.5 438.0l0.2 0.2M38.4 429.2l-0.1 0.2M70.7 460.6l0.2 0.1M23.7 435.1l0.2 0.1M72.5 458.8l0.2 -0.2M44.7 427.5l0.2 0.2M60.2 456.3l0.0 0.0M39.2 431.6l0.2 0.2M38.2 449.6l-0.0 0.1M42.3 463.5l-0.2 0.2M60.9 446.7l0.0 0.1M54.8 432.7l-0.2 -0.2M59.0 481.9l-0.2 0.2M66.7 439.9l-0.0 -0.2M69.4 451.8l0.2 -0.0M47.9 456.2l0.1 0.0M60.0 448.4l-0.2 -0.1M69.9 426.3l0.2 0.0M43.0 451.1l-0.0 0.1M64.8 477.6l-0.0 0.1M34.0 464.8l-0.2 0.2M75.4 450.4l-0.2 -0.2M57.5 425.9l-0.1 -0.2M26.9 431.2l0.2 0.1M49.2 464.7l-0.2 0.1M36.7 465.0l-0.1 0.2M26.6 428.9l0.2 0.2M42.4 432.5l0.0 0.0M46.2 472.4l-0.2 -0.1M59.6 453.8l-0.0 0.1M32.9 454.0l-0.2 -0.1M25.2 441.3l-0.2 0.2M76.7 427.4l-0.2 0.2M77.2 478.0l0.2 0.0M79.6 480.4l-0.1 -0.0M50.9 479.8l0.1 -0.1M67.6 444.6l0.1 -0.1M47.9 454.8l-0.2 0.1M71.3 428.3l-0.1 0.1M42.9 427.6l-0.1 -0.1M77.5 469.1l-0.2 -0.0M72.7 447.3l-0.1 -0.1M45.1 471.7l0.2 0.2M73.2 427.6l0.1 0.1M30.3 427.1l-0.0 -0.1M72.8 464.5l-0.1 0.1M24.2 455.2l-0.1 -0.1M55.1 463.7l0.2 0.0M35.1 477.1l0.2 0.2M53.3 425.5l0.1 -0.2M49.3 437.0l0.1 -0.0M75.9 476.6l-0.1 -0.1M63.9 475.8l0.2 0.0M39.2 437.4l0.1 -0.1M70.3 480.0l0.1 0.0M77.4 466.7l0.1 0.1M53.5 442.6l-0.2 0.1M26.7 449.7l-0.1 0.1M61.7 474.8l0.1 0.0M36.9 441.7l-0.0 0.0M49.6 435.9l-0.1 0.2M58.0 436.7l-0.1 -0.1M27.9 463.6l0.0 -0.0M67.8 462.0l0.1 0.2M61.6 430.5l0.2 0.2M69.8 429.7l0.2 0.1M47.4 464.4l0.0 0.2M61.8 468.1l0.1 -0.0M23.1 457.7l-0.0 0.1M66.9 463.9l-0.2 -0.1M30.7 475.9l-0.2 -0.2M78.3 461.5l0.1 0.2M24.8 456.5l-0.1 0.2M28.2 433.5l0.1 0.2M66.3 441.7l-0.0 -0.1M50.6 449.1l0.1 0.2M45.9 457.8l0.2 -0.1M74.6 434.1l-0.1 0.1M49.4 450.2l0.0 -0.2M49.9 443.6l-0.2 0.0M61.8 431.0l-0.2 -0.2M31.6 438.6l0.1 -0.1M35.9 456.5l0.1 0.1M70.1 460.7l-0.0 0.1M38.1 473.4l-0.2 0.1M34.9 471.0l0.2 0.2M62.2 449.9l-0.1 -0.1M75.4 446.1l-0.0 -0.0M38.1 461.9l0.2 0.1M48.2 426.8l0.1 0.0M45.2 437.3l0.1 0.2M26.8 475.6l-0.1 -0.2M52.5 427.7l-0.2 0.2M71.6 437.9l-0.0 -0.0M40.7 432.6l-0.2 0.1M32.2 428.4l-0.0 0.1M62.3 446.3l-0.0 -0.1M65.4 462.4l-0.2 -0.2M35.1 460.5l-0.1 -0.1M53.2 442.2l-0.2 -0.1M41.4 453.8l-0.2 0.0M27.4 441.6l-0.1 -0.1M58.9 476.8l0.0 0.0M62.0 433.5l0.0 0.1M48.9 444.5l0.0 -0.1M66.3 446.1l-0.1 0.2M48.6 451.0l0.0 -0.2M35.4 454.8l-0.2 0.1M79.0 457.5l0.2 0.1M54.0 426.1l-0.0 0.2M46.0 477.8l0.1 -0.1M42.3 442.3l0.1 0.0M24.5 457.9l0.2 -0.1M35.3 440.6l0.2 0.1M36.3 451.6l-0.0 0.1M31.8 467.0l-0.1 -0.1M27.1 439.5l0.1 0.0M25.0 473.1l0.1 -0.0M52.1 466.2l-0.1 0.2M25.8 436.8l-0.1 -0.1M35.5 448.4l0.0 -0.1M63.1 448.5l-0.1 0.2M64.3 442.6l-0.1 0.1M63.7 442.4l-0.1 0.2M77.3 464.4l0.1 0.1M69.0 480.5l-0.0 0.2M35.5 461.0l0.1 -0.2M32.0 478.5l0.1 0.2M51.4 434.2l0.0 0.2M50.6 440.0l-0.2 0.2M52.9 442.7l0.0 0.1M50.7 467.1l0.0 0.2M51.7 444.7l-0.1 0.2M76.1 474.0l0.1 0.2M44.4 458.6l-0.1 -0.2M75.9 462.0l-0.1 -0.2M46.1 465.8l0.0 -0.1M53.0 444.5l0.2 0.1M45.9 463.6l-0.2 0.1M31.6 441.3l-0.0 0.1M42.1 435.8l0.0 0.1M70.6 474.5l-0.2 0.0M26.8 460.2l-0.0 0.2M29.5 427.0l-0.1 -0.2M39.0 480.8l-0.2 0.2M70.8 437.1l-0.1 -0.1M56.4 460.8l-0.2 0.0M23.6 454.1l-0.1 0.1M64.7 467.4l-0.1 0.2M52.6 454.8l0.2 -0.1M29.5 471.9l0.1 0.2M54.4 455.2l0.1 0.1M51.7 430.8l-0.0 -0.0M68.5 427.7l0.2 0.1M50.6 432.9l0.0 -0.1M40.8 441.0l0.0 0.0M43.8 445.5l-0.2 -0.1M34.6 455.9l0.2 -0.2M42.6 447.2l-0.1 -0.2M56.6 466.4l-0.2 0.0M27.9 450.3l-0.0 -0.1M46.6 436.7l0.2 0.1M56.5 465.7l-0.1 -0.0M23.0 445.9l0.2 -0.1" stroke="#b4b4c6" stroke-width="1.15" stroke-opacity="0.75" stroke-linecap="round" fill="none"/>
<path d="M64.0 437.8l0.2 0.1M51.3 451.3l0.1 0.2M70.0 450.3l-0.0 0.1M49.2 445.9l0.0 0.1M35.0 465.9l0.1 -0.1M33.0 471.2l0.2 0.1M27.4 467.6l0.2 -0.1M77.1 425.6l0.2 -0.2M51.0 454.5l0.2 0.1M75.9 427.7l0.1 0.0M31.1 450.7l-0.1 -0.0M67.7 465.6l0.1 -0.2M44.7 473.1l-0.2 -0.1M24.2 465.6l0.0 -0.1M38.3 433.3l-0.1 -0.1M50.7 476.7l0.0 -0.1M74.1 444.9l-0.1 -0.2M35.5 445.8l-0.2 -0.2M27.3 462.9l0.2 -0.1M59.1 460.1l-0.1 0.2M34.6 426.8l-0.1 0.1M67.7 466.8l-0.0 -0.0M51.1 477.1l0.1 0.0M75.1 458.6l0.1 -0.1M37.7 448.8l0.2 0.2M28.3 453.7l-0.2 0.2M29.0 456.8l0.2 0.1M78.0 432.4l0.2 0.2M30.8 462.5l0.2 0.2M42.9 478.9l0.1 -0.1M35.6 475.2l0.1 -0.0M56.6 472.6l-0.1 0.2M59.0 478.2l0.0 -0.1M36.5 447.7l0.1 0.2M79.7 437.5l0.2 -0.2M70.2 436.8l0.0 0.1M74.7 459.1l-0.1 -0.2M50.1 464.7l0.2 0.2M27.0 435.3l0.1 0.1M32.0 459.9l-0.2 -0.1M51.0 453.4l-0.1 -0.1M77.8 463.0l0.0 0.0M56.5 440.7l-0.1 0.2M77.1 479.2l0.1 -0.2M25.4 457.4l0.2 -0.0M27.0 431.1l0.1 0.1M66.5 448.6l-0.1 0.2M51.0 437.0l-0.1 -0.2M51.3 456.0l-0.2 0.2M41.0 445.2l-0.2 0.2M27.2 466.0l0.0 -0.2M54.9 449.9l0.2 0.2M37.8 442.5l-0.0 0.0M75.5 431.0l0.2 0.0M48.8 427.1l-0.0 0.2M60.3 472.0l-0.0 0.1M44.1 478.1l-0.2 -0.0M56.7 438.8l-0.1 0.1M59.2 450.4l0.2 -0.1M64.4 457.9l-0.0 -0.1M72.5 429.5l-0.1 -0.2M79.9 426.3l-0.1 -0.2M33.8 462.6l-0.2 -0.1M31.9 462.1l-0.1 0.1M38.1 465.5l0.2 -0.0M57.5 448.3l0.2 -0.1M48.1 468.6l-0.2 -0.2M69.3 432.4l0.1 0.1M58.6 470.9l0.0 -0.2M38.3 480.4l0.1 -0.1M55.9 447.2l0.1 0.0M56.8 459.7l0.1 0.1M65.9 480.9l0.1 -0.1M79.8 431.8l0.2 0.2M26.8 438.9l0.1 -0.1M48.3 476.5l-0.1 0.1M29.6 449.0l-0.2 0.2M41.2 425.4l-0.0 0.2M29.7 448.6l-0.0 -0.1M36.0 441.5l0.1 -0.1M29.6 459.2l-0.1 0.2M35.5 472.9l-0.2 -0.1M49.6 442.6l0.1 -0.2M64.0 446.0l-0.1 0.2M52.2 434.5l0.2 0.1M30.3 442.8l-0.1 0.2M34.8 459.5l0.2 -0.2M39.3 462.6l-0.0 0.0M50.1 434.4l-0.1 -0.2M53.7 459.4l-0.1 -0.2M52.5 450.7l0.1 0.1M42.2 455.0l-0.0 0.0M50.0 441.1l0.1 0.1M56.4 467.0l-0.1 -0.2M32.1 462.9l0.0 0.2M65.4 474.2l0.2 -0.2M75.3 428.2l0.2 -0.2M33.6 481.0l0.1 0.0M64.9 479.9l0.1 0.0M59.8 470.8l-0.2 -0.0M61.1 440.9l-0.2 -0.1M62.1 470.2l0.0 -0.0M74.6 428.0l0.1 -0.0M48.2 453.6l0.1 0.2M50.1 465.9l-0.2 0.0M54.2 477.1l0.2 0.1M40.2 481.9l-0.2 -0.1M54.4 441.8l-0.0 -0.0M29.8 429.0l-0.1 -0.1M42.7 467.3l0.1 0.1M38.6 430.0l0.0 0.1M67.6 457.0l0.1 -0.0M55.3 450.5l-0.0 0.1M60.4 451.5l-0.1 -0.2M24.0 446.1l0.0 -0.2M35.5 459.1l0.0 -0.0M64.6 471.3l0.0 0.2M33.8 467.4l-0.1 -0.1M46.6 445.0l0.1 -0.2M29.7 432.5l0.1 -0.1M49.9 458.4l-0.2 0.0M33.7 474.5l0.0 0.0M59.3 475.4l0.1 0.1M52.2 457.5l0.1 -0.1M48.4 477.0l0.1 -0.0M47.3 463.3l-0.0 0.2M41.4 429.2l-0.0 0.2M58.9 453.0l-0.2 -0.2M42.1 476.1l-0.2 0.1M29.0 476.7l-0.1 -0.1M42.7 437.7l0.1 -0.1M51.0 427.4l-0.1 -0.2M61.0 433.4l-0.1 -0.1M63.2 480.4l0.1 0.2M23.9 450.7l0.0 0.0M76.5 439.1l-0.1 0.1M33.5 480.1l0.2 -0.2M33.6 464.1l0.1 0.0M58.4 436.4l0.2 -0.1M63.6 451.3l-0.1 -0.1M62.6 455.2l0.2 0.1M43.4 440.4l-0.0 -0.2M38.6 441.9l-0.2 0.1M23.0 441.8l0.2 0.2M40.0 478.0l-0.2 0.2M26.9 479.4l0.2 -0.1M71.4 480.7l0.1 -0.2M64.8 460.5l-0.2 -0.0M26.8 478.5l-0.0 -0.1M37.7 470.1l-0.2 -0.2M52.1 446.2l0.2 0.1M54.8 471.4l0.0 -0.2M27.8 456.6l-0.0 0.1M50.4 474.0l0.2 0.2M73.5 442.3l0.1 -0.0M79.0 437.9l-0.2 0.1M58.5 449.0l-0.0 0.2M61.5 474.6l-0.2 0.0M72.6 429.5l0.2 0.2M62.0 467.6l0.1 0.1M67.0 452.3l-0.1 -0.0M29.3 449.2l0.2 0.1M47.6 476.8l0.2 0.1M37.0 459.0l-0.2 0.1M65.5 430.3l0.1 -0.1M43.7 428.6l0.1 0.1M58.1 448.9l0.2 -0.2M39.0 464.8l-0.1 -0.2M26.1 441.6l-0.2 -0.1M63.6 441.0l0.1 0.2" stroke="#8585a8" stroke-width="1.00" stroke-opacity="0.85" stroke-linecap="round" fill="none"/>
<path d="M59.1 431.9l-0.3 -0.1M50.4 470.6l-0.5 -0.1M60.9 457.2l-0.3 0.1M58.0 440.3l0.3 0.2M23.0 471.4l-0.1 0.5M44.0 476.5l0.2 -0.2M68.5 476.7l-0.5 -0.2M43.9 441.9l-0.3 0.0M28.5 465.4l-0.3 -0.5M25.9 428.0l0.2 0.4M26.8 431.3l-0.1 0.5M58.8 456.4l-0.5 -0.5M77.5 470.1l0.1 -0.5M43.6 432.3l0.0 -0.1M26.5 472.1l0.3 -0.0M43.1 480.3l0.2 -0.2M58.4 432.7l-0.2 0.1M78.4 440.5l-0.3 -0.2M45.3 448.7l0.1 0.0M40.1 447.6l-0.4 0.2M41.6 451.5l-0.2 -0.3M74.8 460.1l-0.2 -0.3M70.6 464.3l-0.0 -0.4M58.5 436.3l0.2 0.4M76.6 477.6l-0.4 -0.0M42.1 459.3l-0.0 -0.3M23.9 427.8l0.3 0.5M75.2 473.4l0.3 0.0M28.6 441.4l-0.3 0.5M69.9 474.9l0.2 -0.2M30.2 453.9l0.0 0.5M78.5 472.9l-0.2 0.4M34.1 435.4l-0.3 0.3M24.9 439.8l0.3 -0.2M52.3 437.2l-0.0 -0.2M59.1 465.5l-0.5 -0.4M47.8 443.9l-0.1 0.1M73.1 460.7l-0.1 -0.2M62.5 432.6l-0.4 0.4M28.8 453.8l0.0 -0.2M77.6 467.5l-0.1 0.5M32.1 481.4l0.2 -0.2M30.5 446.8l0.1 0.3M38.8 440.3l0.4 0.2M41.1 425.4l-0.1 -0.3M71.8 427.2l0.4 0.4M52.2 431.0l0.4 -0.3M68.6 432.0l0.4 -0.2M23.0 433.4l0.3 -0.2M43.6 432.8l0.4 -0.3M56.2 456.9l-0.2 -0.2M43.1 447.6l-0.4 -0.3M68.7 475.3l-0.5 -0.4M37.6 434.1l-0.4 -0.4M33.5 453.7l-0.2 0.4M67.9 479.9l-0.0 0.5M74.9 442.7l0.1 -0.4M79.8 450.1l-0.1 0.4M39.2 458.3l-0.3 -0.1M65.2 433.6l0.5 -0.2M48.6 456.8l-0.5 0.4M55.4 467.7l0.5 0.3M28.9 428.9l-0.1 -0.1M74.7 454.8l0.1 -0.1M42.1 449.2l-0.4 -0.2M35.6 457.6l-0.0 -0.1M76.7 464.3l-0.2 -0.1M52.2 427.0l-0.3 0.3M64.1 456.5l0.0 -0.2M62.8 472.4l0.2 -0.2M35.0 474.7l0.1 0.3M27.6 450.5l0.4 -0.3M68.0 454.2l-0.2 0.4M24.3 472.5l-0.2 0.4M75.1 439.0l0.3 -0.4M54.6 475.4l-0.5 0.1M28.6 452.7l0.1 -0.1M39.7 433.9l-0.4 0.0M63.3 439.6l-0.5 -0.2M62.3 458.9l0.2 0.0M48.7 438.9l-0.5 0.2M67.9 429.2l-0.5 0.0M26.5 442.6l0.2 -0.2M45.0 448.1l-0.0 0.1M51.5 454.4l-0.1 0.5M47.1 451.3l-0.3 -0.0M65.8 444.6l0.1 0.2M32.0 436.9l-0.3 -0.2M26.8 434.4l0.1 -0.3M45.4 473.2l0.3 0.0M25.1 453.7l0.4 -0.4M64.9 442.8l0.4 -0.3M34.3 432.3l0.5 0.2M24.2 476.6l0.2 -0.3M57.6 469.4l-0.4 0.1M74.5 435.7l-0.1 0.4M77.4 456.2l-0.1 -0.4M25.2 458.5l-0.1 0.2M24.8 437.0l0.3 -0.0M71.4 452.6l0.4 -0.0M44.6 475.8l0.4 -0.1M68.0 440.1l0.3 -0.2M79.0 456.9l-0.1 0.3M62.7 475.5l-0.2 0.0M41.7 466.1l-0.3 -0.1M49.4 459.6l-0.2 -0.2M62.2 445.9l0.4 -0.1M28.8 467.9l-0.3 0.4M38.7 478.6l-0.3 -0.0M24.2 471.4l-0.4 0.2M44.6 467.0l0.4 -0.1M29.9 431.5l0.4 0.3M60.3 466.7l-0.3 -0.2M31.6 426.3l-0.2 -0.3M38.4 478.6l0.1 -0.4M37.5 441.3l0.0 0.0M65.6 426.8l-0.4 0.1M69.1 478.1l0.0 0.3M54.4 443.1l-0.2 -0.3M70.0 472.2l0.3 0.2M52.0 439.9l-0.3 -0.4M66.4 447.3l0.5 0.2M48.3 426.7l-0.2 -0.0M73.8 438.8l0.1 0.2M29.8 440.2l0.3 -0.3M49.2 445.8l0.2 -0.3M52.2 426.3l0.2 -0.3M69.0 448.5l0.2 -0.3M30.6 474.2l-0.0 0.4M50.7 432.2l-0.2 -0.4M53.1 470.1l-0.1 0.1M72.0 429.1l0.0 -0.2M35.8 472.0l0.4 0.4M54.4 437.8l0.1 0.2M68.4 427.6l-0.3 -0.3M62.0 467.6l0.2 -0.4M51.3 452.9l-0.2 -0.0M52.7 472.0l-0.4 0.1M38.3 459.6l0.5 -0.1M70.8 468.3l0.2 0.2M41.0 431.3l0.4 -0.1M41.3 438.2l-0.0 -0.5M68.3 466.0l0.0 0.3M65.0 472.2l-0.5 -0.4M31.8 463.0l-0.4 -0.5M63.6 464.9l0.1 -0.4M23.2 448.7l0.1 -0.2M50.3 475.8l-0.1 -0.4M39.8 470.4l-0.1 -0.4M60.7 433.8l0.2 -0.2M38.1 428.0l0.5 -0.2M35.9 436.9l-0.3 -0.1M46.2 430.0l0.4 0.4M67.1 443.0l-0.1 -0.1M37.1 443.6l-0.2 0.0M40.4 443.2l0.4 -0.1M44.3 456.2l0.3 0.0M49.7 427.5l-0.4 0.1M66.8 452.2l-0.1 -0.4M63.7 435.2l-0.1 0.0M63.0 456.7l-0.2 -0.1M64.7 428.6l0.5 -0.2M42.5 426.5l0.5 0.2M42.1 448.4l-0.3 -0.5M62.9 476.0l-0.1 0.1M51.5 474.6l-0.5 -0.1M46.8 472.1l-0.2 -0.3M23.0 449.5l0.3 0.4M56.3 439.9l-0.5 -0.0M76.3 440.4l-0.1 0.2" stroke="#3e3ea6" stroke-width="1.00" stroke-opacity="0.90" stroke-linecap="round" fill="none"/>
<path d="M37.0 435.1l-0.6 -0.3M26.4 451.5l0.6 0.6l0.7 0.4M56.8 478.6l-0.2 0.1l0.1 -0.4M59.5 453.2l0.7 0.2l-0.2 -0.7M36.7 474.0l-0.5 -0.2l-0.4 -0.2M78.6 463.7l-0.5 -0.2M76.4 442.5l0.5 -0.4M44.5 458.4l0.4 -0.3l0.6 -0.2" stroke="#2b22bd" stroke-width="1.0" stroke-linecap="round" stroke-linejoin="round" fill="none"/>
<path d="M61.5 474.5l0.1 0.1M26.8 429.7l-0.8 -0.6l0.2 -0.7" stroke="#2b22bd" stroke-width="1.5" stroke-linecap="round" stroke-linejoin="round" fill="none"/>
<path d="M57.0 470.6l-0.2 0.6" stroke="#2b22bd" stroke-width="2.0" stroke-linecap="round" stroke-linejoin="round" fill="none"/>
<path d="M62.9 462.5l1.2 -1.5l0.2 0.0" stroke="#2b22bd" stroke-width="2.5" stroke-linecap="round" stroke-linejoin="round" fill="none"/>
<path d="M44.5 437.5l2 .3" stroke="#2b22bd" stroke-width="2.6" stroke-linecap="round" stroke-linejoin="round" fill="none"/>
<path d="M55 452.5l2.5 -1" stroke="#2b22bd" stroke-width="1.8" stroke-linecap="round" stroke-linejoin="round" fill="none"/>
<path d="M36 445l1.5 2" stroke="#2b22bd" stroke-width="1.2" stroke-linecap="round" stroke-linejoin="round" fill="none"/>
<path d="M62 459l1 1" stroke="#2b22bd" stroke-width="1.3" stroke-linecap="round" stroke-linejoin="round" fill="none"/>
<text x="79.90" y="478.10" font-size="4.80" text-anchor="end" fill="#ff2020" style="stroke-width:0.08px;stroke:#ff2020">100 µm</text>
<line x1="69.70" y1="479.50" x2="78.30" y2="479.50" stroke="#ff5050" stroke-width="0.50" />
<rect x="82.20" y="424.80" width="57.50" height="57.60" fill="#e2e2e8" />
<path d="M121.0 469.7l0.0 0.0M104.9 481.7l-0.1 -0.2M97.5 440.0l-0.1 -0.1M88.8 443.7l-0.1 0.0M94.1 429.3l-0.1 0.0M104.7 466.8l0.2 -0.0M88.3 466.5l0.1 -0.1M119.9 442.2l0.2 0.2M127.4 479.3l-0.1 0.0M124.0 470.7l-0.1 -0.2M118.1 431.2l0.1 -0.2M108.4 452.5l-0.2 -0.0M111.0 446.2l0.2 0.2M133.0 439.2l-0.2 -0.1M89.1 465.2l-0.1 -0.2M98.7 448.1l0.1 -0.0M99.7 463.6l-0.2 -0.1M121.5 467.9l-0.2 -0.2M111.3 462.5l-0.2 -0.0M98.2 430.1l-0.2 -0.1M109.1 431.7l0.1 0.2M121.3 429.1l0.1 0.1M83.2 447.1l0.1 0.2M135.2 457.5l0.0 0.2M94.6 454.1l-0.2 0.1M119.6 437.2l-0.2 0.0M125.2 433.0l-0.1 0.0M97.5 475.4l0.1 0.2M118.9 463.9l-0.1 0.0M107.0 452.4l-0.2 0.2M91.4 451.2l0.2 0.0M131.8 440.0l-0.0 -0.1M101.0 446.2l-0.0 0.2M137.6 430.7l0.1 0.0M106.0 427.6l-0.1 -0.1M103.4 458.9l-0.1 -0.1M98.2 480.6l-0.1 0.2M92.1 462.9l0.0 0.1M111.8 474.8l0.0 -0.2M121.3 460.0l-0.1 0.1M129.9 441.0l-0.2 -0.1M116.0 450.4l-0.2 -0.0M113.6 458.1l-0.1 0.1M120.9 439.9l-0.1 0.2M95.2 450.6l-0.1 0.0M127.6 432.3l-0.2 -0.2M89.8 454.8l-0.0 0.2M108.3 455.0l-0.2 -0.1M100.2 439.1l0.1 -0.0M90.4 455.5l-0.2 -0.2M117.1 430.2l0.1 -0.0M86.3 463.5l0.2 0.1M130.2 478.5l-0.1 -0.0M124.6 447.8l0.2 -0.0M83.9 430.7l-0.0 -0.2M117.2 481.6l0.2 0.2M96.8 435.5l-0.2 0.2M84.2 429.4l0.1 0.2M112.9 428.9l-0.2 0.2M121.6 442.9l0.2 -0.1M91.1 480.0l-0.2 -0.1M92.9 461.5l-0.0 -0.1M118.2 431.3l0.2 0.1M94.5 459.0l-0.1 0.0M100.5 437.2l-0.0 -0.2M138.8 469.9l-0.1 0.0M92.7 434.7l-0.1 0.1M86.6 478.3l-0.1 -0.2M110.3 476.5l-0.0 0.0M138.5 455.1l-0.1 -0.2M112.2 461.0l0.0 -0.2M83.4 479.9l0.1 0.2M130.3 449.4l-0.2 0.2M133.4 429.0l0.1 0.0M84.1 457.5l0.1 -0.0M97.1 475.5l0.1 -0.1M126.7 476.8l-0.1 0.0M88.0 432.8l0.2 0.2M135.3 433.7l0.1 -0.1M94.9 475.9l-0.2 -0.2M102.4 433.6l-0.1 0.1M111.8 477.4l-0.0 -0.2M113.7 426.6l0.1 -0.2M110.2 450.1l0.2 -0.2M98.7 443.9l0.0 -0.1M138.2 477.7l0.2 0.1M127.7 456.5l-0.1 -0.2M93.4 468.7l0.1 -0.2M99.2 429.5l0.0 -0.1M110.0 446.2l-0.0 -0.0M127.2 429.2l0.1 0.0M127.4 434.1l-0.1 0.2M136.9 440.8l-0.1 -0.1M101.2 479.0l0.0 -0.0M133.7 461.2l0.2 0.1M107.7 429.8l-0.0 0.0M117.6 473.2l-0.1 0.0M129.3 479.1l0.2 -0.1M129.3 463.4l-0.1 0.0M127.5 471.0l-0.1 -0.0M120.2 435.0l0.1 0.1M115.6 479.4l-0.1 -0.1M137.6 460.1l-0.2 -0.0M100.6 472.1l0.2 -0.2M121.0 473.7l-0.2 -0.0M84.6 445.4l0.0 0.1M98.2 462.6l0.0 -0.1M111.3 470.7l0.1 -0.0M127.5 450.2l-0.0 -0.1M110.9 428.5l0.2 -0.1M103.0 473.8l0.1 -0.0M131.4 459.1l0.2 -0.1M127.1 478.9l-0.0 0.1M137.7 458.8l0.1 -0.2M89.1 471.9l0.1 -0.2M127.5 433.4l0.2 0.2M112.7 442.2l0.1 0.2M91.5 452.0l0.1 0.1M83.5 470.8l0.1 0.2M90.0 448.7l0.1 0.2M106.1 478.5l0.0 0.2M137.9 429.8l-0.1 -0.1M112.9 465.7l0.0 -0.1M92.7 449.8l0.2 -0.2M92.8 455.8l-0.2 0.1M109.7 429.7l-0.0 0.1M115.6 438.1l0.2 -0.2M84.2 439.1l0.2 0.0M119.8 446.2l-0.1 -0.0M93.3 458.9l-0.1 0.2M126.7 436.0l0.2 -0.2M135.0 450.6l0.2 0.0M106.8 445.6l0.0 0.0M89.6 452.4l-0.0 0.2M92.1 436.2l-0.2 -0.1M106.3 445.6l-0.2 0.2M85.7 463.9l-0.1 -0.0M105.2 453.9l-0.2 -0.1M87.9 465.1l-0.2 0.1M98.0 431.4l0.2 0.1M90.6 439.7l0.1 -0.1M124.8 457.1l0.0 -0.1M112.6 474.9l-0.2 -0.0M110.4 426.1l-0.1 -0.1M120.6 463.9l0.1 -0.0M127.9 472.0l0.1 -0.2M93.4 472.0l-0.1 0.0M134.7 442.8l-0.0 -0.1M113.8 445.3l-0.1 0.2M104.1 478.7l-0.0 -0.2M94.6 448.7l0.2 -0.0M89.1 446.0l-0.0 0.0M90.8 442.4l-0.2 -0.1M111.0 470.1l-0.2 -0.2M90.2 447.5l0.2 0.2M109.4 476.7l-0.1 -0.1M95.9 454.4l-0.1 0.2M126.8 465.2l0.1 -0.1M101.0 461.6l-0.1 0.0M93.6 458.5l0.2 0.1M99.5 442.1l-0.1 -0.1M129.0 430.6l0.1 -0.1M113.1 465.8l-0.0 -0.1M116.2 443.6l0.0 0.1M101.0 455.8l0.0 0.0M99.5 437.6l0.2 -0.2M90.2 425.3l0.2 -0.1M122.3 444.0l0.1 0.0M99.1 446.9l0.2 0.1M90.3 472.8l-0.0 -0.2M113.2 472.7l0.0 -0.1M114.6 430.1l-0.2 -0.2M113.3 455.8l-0.0 0.1M94.8 481.6l-0.2 -0.0M118.1 431.3l0.2 -0.2M123.8 429.0l-0.0 0.2M117.8 437.7l0.2 -0.2M92.8 454.3l0.1 -0.1M113.0 455.7l-0.1 -0.0M95.1 476.5l0.1 -0.2M108.0 440.6l0.1 0.2M98.5 463.0l-0.1 -0.0M111.7 453.1l0.0 0.0M113.8 472.5l0.2 -0.1M112.6 471.2l0.2 -0.1M96.8 465.1l0.2 -0.2M99.3 463.9l-0.2 -0.1M102.9 442.4l0.0 -0.0M92.7 466.2l0.0 0.1M87.4 477.4l-0.0 0.1M113.2 479.8l0.2 0.0M105.3 425.6l-0.2 -0.2M126.9 442.3l-0.2 0.1M88.9 433.7l-0.0 0.2M101.3 455.2l0.0 -0.2M98.8 434.0l-0.1 -0.1M105.9 450.7l-0.0 -0.2M91.8 426.7l0.2 0.0M94.8 448.9l-0.2 0.2M130.9 451.2l-0.1 -0.2M129.8 434.3l-0.0 0.2M133.7 429.3l-0.1 0.1M124.7 444.3l0.0 -0.0M132.7 475.9l0.2 0.1M119.6 465.5l-0.2 0.1M110.4 450.7l-0.1 -0.1M107.1 475.3l0.2 -0.0M113.4 471.3l-0.1 0.2M112.5 432.0l-0.1 0.1M136.9 444.5l-0.1 -0.0M90.0 425.6l0.2 -0.2M124.5 472.5l0.2 -0.2M111.4 426.2l-0.2 -0.1M108.9 446.2l-0.2 -0.0M121.3 444.1l0.1 -0.1M127.3 464.7l-0.0 -0.1M99.4 437.9l-0.2 0.0M123.9 449.3l-0.0 0.2M98.8 449.1l0.2 0.1M91.8 448.2l0.0 -0.1M126.9 471.2l-0.2 0.0M82.8 453.5l-0.2 0.1M87.9 428.2l0.1 -0.2M102.7 427.6l0.0 -0.1M106.2 465.5l0.0 0.1M129.0 435.9l-0.1 -0.2M127.9 459.4l-0.1 -0.1M88.7 451.5l-0.1 -0.0M112.7 464.9l0.0 -0.0M98.2 465.5l-0.2 -0.1M100.2 481.8l-0.2 0.2M132.5 477.7l0.2 0.1M90.8 436.6l0.1 0.1M112.4 441.7l0.2 -0.1M114.1 477.1l-0.0 0.1M103.7 468.4l0.2 -0.2M107.0 480.4l0.2 0.0M89.3 433.7l0.2 0.1M90.6 479.6l-0.2 -0.1M123.1 426.0l0.0 0.0M123.7 448.8l0.0 -0.0M94.6 464.9l-0.1 0.1M115.1 467.9l0.1 -0.1M129.6 470.1l0.1 -0.1M87.7 480.5l0.1 -0.2M134.9 460.7l-0.1 -0.1M138.7 439.8l-0.1 0.1M105.7 435.5l0.1 -0.2M82.7 458.1l0.1 0.2M87.3 432.0l-0.1 -0.2M86.2 445.4l-0.1 0.1M90.1 457.1l0.2 -0.2M88.9 453.7l0.2 -0.1M96.6 468.2l-0.1 -0.1M112.6 448.6l-0.0 0.0M136.4 481.2l-0.1 -0.2M119.8 453.5l-0.0 0.2M89.3 469.7l0.2 0.2M129.2 458.3l-0.1 -0.0M94.8 428.9l-0.1 0.1M127.9 455.0l-0.2 -0.2M108.9 481.5l-0.2 -0.1M88.1 461.6l0.0 -0.0M84.3 452.3l0.2 0.0M130.7 466.6l0.2 -0.2M128.1 453.5l0.2 0.1M135.7 481.5l0.2 -0.1M111.5 457.9l0.2 0.1M112.5 462.3l-0.0 0.1M82.8 464.3l0.1 0.0M114.1 477.4l0.2 -0.0M139.2 439.1l0.1 -0.2M123.3 448.9l-0.1 -0.0M87.3 468.5l0.1 0.2M127.1 458.5l-0.2 0.0M96.5 473.0l0.0 0.1M119.7 464.9l0.1 -0.1M94.3 442.8l0.1 0.0M94.6 448.9l0.1 0.1M107.2 480.1l-0.1 -0.0M123.7 449.6l-0.1 0.2M106.8 460.5l-0.2 -0.2M90.0 457.4l0.2 0.2M127.7 443.6l0.1 -0.0M97.3 426.4l0.1 -0.1M117.0 457.7l-0.2 -0.2M91.1 452.5l-0.1 -0.2M99.4 458.3l-0.1 0.2M115.2 479.7l0.2 -0.1M104.5 477.9l0.1 0.1M99.9 446.2l-0.1 -0.2M109.2 449.7l0.1 -0.2M83.8 440.8l0.1 -0.0M120.5 474.9l-0.1 0.2M114.2 467.5l-0.1 0.2M101.4 472.2l0.0 0.2M97.6 475.6l0.2 -0.1M123.3 469.0l0.0 0.0M115.9 458.9l0.0 -0.2M92.2 480.7l0.0 0.2" stroke="#b4b4c6" stroke-width="1.15" stroke-opacity="0.75" stroke-linecap="round" fill="none"/>
<path d="M115.6 465.7l-0.0 0.2M109.5 467.8l-0.0 0.1M122.1 462.5l-0.0 -0.2M107.6 451.7l0.2 -0.1M133.3 470.5l-0.1 -0.2M105.5 479.9l0.0 0.1M117.6 478.7l-0.2 -0.1M127.4 449.6l-0.2 0.1M128.3 450.5l-0.1 0.1M85.3 474.4l0.0 0.1M84.2 475.3l-0.2 -0.1M118.3 464.3l-0.2 0.1M97.3 479.7l-0.0 0.1M88.5 450.6l-0.1 0.2M100.9 449.7l-0.1 -0.1M108.5 473.6l-0.2 -0.2M106.9 478.9l-0.2 0.1M128.4 441.7l0.2 0.2M87.6 451.7l-0.0 0.2M110.2 446.8l-0.2 0.2M116.0 475.8l0.1 0.2M125.6 437.5l-0.2 -0.2M110.1 479.5l-0.2 -0.2M85.9 453.1l0.0 0.2M119.6 442.9l0.2 -0.2M132.1 463.9l0.2 -0.1M90.8 429.7l-0.1 -0.2M128.7 481.7l0.1 -0.2M121.3 434.2l0.1 0.2M129.9 450.7l0.2 -0.1M93.4 441.4l-0.0 -0.0M113.5 473.1l-0.2 0.0M119.3 466.7l-0.2 0.2M115.3 428.1l0.2 0.1M138.7 465.5l-0.2 0.0M89.7 456.1l0.0 -0.0M92.9 431.5l-0.2 -0.2M86.8 429.9l-0.2 0.2M135.2 458.0l0.2 0.1M136.4 436.6l0.2 0.2M90.6 466.9l0.1 -0.1M135.6 456.6l-0.1 0.0M93.0 430.5l-0.1 -0.2M87.7 447.0l0.0 -0.1M115.1 453.2l0.2 -0.2M136.2 451.3l0.0 0.0M131.6 434.7l0.1 -0.0M117.5 481.7l0.1 -0.2M93.8 447.9l0.1 0.1M131.6 434.2l0.1 0.0M115.4 427.7l-0.0 0.2M106.2 471.7l-0.2 -0.2M128.6 459.9l-0.2 -0.1M132.4 436.5l0.1 0.2M120.4 430.9l0.2 0.2M111.5 440.4l-0.2 -0.1M130.4 452.6l0.2 -0.2M114.1 468.1l-0.1 0.2M138.8 474.4l0.1 0.0M124.1 430.0l0.1 0.0M92.4 465.3l0.2 -0.0M88.3 472.2l-0.2 -0.2M127.4 442.3l-0.2 0.1M136.6 447.0l0.2 0.2M98.7 449.9l-0.0 -0.0M105.4 472.2l0.0 0.1M114.9 434.3l-0.1 0.0M119.6 453.4l-0.1 0.1M115.1 457.0l-0.0 -0.2M111.2 476.3l0.1 -0.0M133.0 454.1l0.1 0.2M126.2 433.5l-0.0 -0.2M115.6 450.8l0.2 -0.1M116.9 465.6l-0.2 0.2M89.9 453.8l0.1 -0.2M135.6 476.5l0.2 -0.1M137.5 465.6l-0.1 -0.1M90.8 439.7l-0.2 0.1M119.4 450.0l-0.0 -0.1M102.2 470.9l0.1 0.1M94.7 438.9l-0.0 0.0M100.2 451.6l-0.1 0.2M93.3 426.2l0.2 0.1M127.3 453.6l-0.2 0.1M88.8 449.9l0.2 -0.2M82.8 450.0l0.2 0.1M86.5 465.0l-0.2 -0.2M106.8 475.4l0.0 0.0M136.3 456.3l-0.1 0.2M101.8 463.3l-0.1 -0.2M106.1 472.8l-0.1 0.2M97.4 433.8l-0.1 -0.1M92.4 437.0l0.0 0.0M136.1 459.8l-0.2 -0.2M120.6 434.1l-0.2 -0.2M110.0 436.4l-0.1 -0.2M113.3 428.9l-0.2 -0.1M118.1 472.5l-0.2 -0.1M97.5 468.7l-0.1 0.1M119.8 435.8l-0.1 -0.2M84.1 449.4l0.0 0.1M94.8 440.5l0.1 -0.2M132.8 456.1l0.2 -0.1M103.6 448.8l0.2 0.1M90.2 432.7l-0.1 -0.2M101.7 434.2l0.0 0.1M110.9 443.5l0.2 -0.2M107.2 454.1l-0.1 0.1M105.3 448.1l0.2 -0.1M127.8 451.9l-0.0 0.2M91.0 474.1l-0.0 -0.2M116.6 446.4l-0.0 -0.1M83.9 470.8l0.0 -0.0M137.1 460.8l0.0 0.0M127.7 448.8l0.2 -0.1M129.0 471.4l-0.1 0.1M115.8 436.7l-0.1 -0.0M136.6 476.1l-0.1 0.1M100.4 450.7l-0.2 0.2M104.3 477.9l-0.1 0.1M88.0 454.5l0.1 0.1M119.6 437.7l-0.2 0.2M99.0 459.3l-0.2 -0.1M91.3 465.1l-0.1 -0.2M125.3 431.3l0.2 -0.0M89.1 478.0l0.2 0.1M135.5 479.3l0.2 -0.1M111.7 450.1l0.2 -0.1M98.6 464.3l-0.1 0.0M98.6 453.2l0.0 -0.2M115.2 426.0l0.1 -0.0M119.3 480.8l0.2 0.1M116.5 438.3l0.1 0.2M90.4 452.6l0.1 -0.2M127.5 437.6l0.1 0.2M84.5 479.1l-0.2 0.2M83.9 444.9l0.2 0.1M127.3 481.2l0.0 -0.2M133.5 430.1l-0.0 0.1M136.0 476.7l-0.2 -0.1M117.4 430.8l-0.0 0.0M113.0 451.1l-0.2 -0.0M126.3 427.1l-0.1 -0.2M103.2 481.8l0.2 0.2M109.0 464.9l0.2 0.0M113.9 461.6l0.1 0.2M135.0 446.0l-0.2 0.2M101.1 431.5l-0.0 0.1M86.3 452.9l-0.0 -0.2M106.2 454.6l0.1 0.2M119.2 436.3l-0.2 0.1M83.5 445.8l-0.0 -0.1M124.8 430.7l0.1 0.0M100.9 453.9l0.1 0.1M107.3 439.1l-0.2 -0.1M131.4 465.5l0.2 0.1M121.2 446.6l0.2 -0.1M114.3 447.8l0.2 -0.1M132.4 477.0l-0.2 0.1M94.1 442.3l-0.0 -0.1M96.7 478.5l0.1 -0.2M85.8 449.5l0.0 0.1M113.2 448.1l0.0 0.2M102.6 477.9l0.2 0.2M119.1 433.2l0.2 0.2M91.1 428.2l0.1 -0.0M105.0 457.4l-0.1 -0.1M83.2 453.8l-0.2 -0.1M118.4 461.9l0.2 -0.1M85.1 428.5l-0.2 0.0" stroke="#8585a8" stroke-width="1.00" stroke-opacity="0.85" stroke-linecap="round" fill="none"/>
<path d="M105.4 469.1l0.5 -0.4M122.2 465.4l0.2 0.3M103.4 451.7l-0.3 0.0M130.7 475.7l0.3 -0.4M120.8 435.7l-0.4 -0.2M101.7 474.5l0.2 0.0M108.1 435.7l-0.3 0.0M101.1 475.4l0.2 0.3M106.6 440.5l-0.3 0.3M89.3 448.3l-0.3 -0.2M113.2 451.5l-0.2 -0.4M131.1 458.8l0.4 -0.3M134.3 478.0l-0.3 -0.2M129.6 479.1l0.5 -0.1M103.1 476.4l-0.3 0.2M120.5 430.8l-0.2 0.5M117.6 432.6l-0.1 -0.3M94.6 456.8l0.2 0.1M120.0 443.6l-0.1 0.2M104.4 428.9l-0.0 0.2M136.6 433.6l0.1 -0.3M114.6 431.9l0.1 0.4M93.5 429.8l-0.3 0.2M127.6 454.9l0.1 0.2M118.9 434.7l-0.1 -0.1M109.0 447.8l0.2 -0.3M120.1 473.5l-0.4 -0.1M83.6 477.7l0.1 -0.4M83.3 426.7l0.4 0.1M123.6 473.2l-0.3 -0.5M101.5 456.1l0.3 -0.2M129.8 427.4l0.3 -0.2M87.7 453.0l-0.4 0.4M109.5 431.9l0.0 0.4M84.9 448.8l-0.2 -0.5M119.6 470.8l-0.4 -0.1M92.2 462.8l0.1 0.2M127.3 474.3l0.5 -0.2M108.1 473.4l0.3 0.4M129.6 452.3l0.3 -0.0M111.5 465.1l0.4 -0.3M107.4 481.7l-0.2 -0.1M98.9 457.9l0.2 -0.4M101.4 434.1l0.4 0.5M135.2 429.2l0.2 0.2M104.6 473.7l-0.0 -0.1M121.0 449.6l-0.0 0.3M127.3 465.6l-0.0 0.1M83.3 436.8l-0.3 -0.4M86.3 460.9l-0.2 -0.4M102.4 449.7l-0.2 -0.3M123.9 427.8l-0.2 -0.3M103.4 470.7l0.2 -0.0M115.6 427.3l-0.5 -0.2M115.8 454.1l0.2 0.1M84.3 479.2l0.0 0.0M131.2 430.6l0.4 -0.1M101.5 441.0l-0.5 -0.3M108.3 478.8l0.2 0.4M115.3 465.3l-0.2 0.1M109.9 426.3l-0.2 -0.1M100.3 470.5l0.3 0.3M89.0 425.7l-0.1 -0.1M117.1 431.7l0.2 -0.1M83.2 428.0l0.5 -0.5M106.1 428.0l-0.4 0.5M119.7 478.4l0.3 -0.4M115.7 437.7l-0.3 -0.2M117.6 426.9l-0.5 0.2M86.3 449.7l-0.2 -0.1M111.3 434.6l-0.2 0.4M114.8 467.1l-0.4 -0.1M126.4 465.5l-0.2 0.2M125.9 452.1l0.4 -0.5M96.8 444.1l-0.2 0.3M102.4 452.4l0.2 0.0M129.4 434.1l-0.5 -0.1M128.0 477.4l0.3 0.3M91.8 432.9l0.0 0.4M95.5 464.9l0.1 0.2M111.8 472.3l-0.3 0.3M105.7 476.2l-0.4 -0.3M109.1 440.7l0.2 -0.3M105.7 469.2l-0.2 0.2M125.4 476.8l0.1 -0.2M91.0 442.2l-0.2 -0.2M134.7 465.1l0.4 0.3M118.9 433.4l0.5 -0.0M135.5 460.8l-0.0 -0.2M122.3 461.6l0.2 -0.1M115.3 472.5l-0.2 0.0M96.1 472.8l0.2 0.1M124.8 440.2l0.0 -0.1M84.8 467.9l0.4 -0.2M136.3 435.1l-0.5 0.3M91.8 464.7l-0.5 -0.4M134.4 451.3l-0.1 0.2M107.6 473.5l-0.4 0.2M114.8 433.0l-0.2 -0.0M119.8 435.1l-0.3 -0.4M137.1 432.0l0.2 -0.2M124.7 474.7l0.2 0.1M120.2 452.8l-0.1 0.1M123.2 427.0l0.3 -0.3M116.5 477.3l0.3 0.2M98.2 468.1l-0.0 -0.2M100.7 479.6l0.2 -0.2M85.3 449.8l-0.1 0.2M118.8 458.3l-0.1 0.1M130.6 468.0l0.2 -0.0M108.0 469.2l-0.1 0.4M98.1 460.0l0.1 -0.5M114.7 446.0l0.4 0.4M115.2 430.8l0.2 -0.1M116.5 460.7l0.2 0.4M117.9 479.2l-0.0 -0.0M122.2 457.9l0.4 -0.1M126.5 448.2l0.1 0.1M106.4 460.1l0.3 0.5M126.1 427.1l-0.3 -0.3M84.0 443.9l0.2 0.2M86.0 427.9l-0.3 0.4M131.7 478.4l-0.3 0.5M138.7 432.0l-0.1 -0.4M85.7 451.2l-0.2 -0.1M135.3 439.0l0.1 0.0M123.2 445.2l-0.3 -0.0M117.8 430.4l-0.2 0.4M137.1 478.3l0.3 0.2M129.3 458.3l-0.2 0.2M115.2 466.5l-0.2 0.5M85.6 468.6l0.1 -0.0M106.3 434.8l0.1 0.1M93.5 459.3l0.3 0.2M107.0 462.5l0.3 0.0M93.8 463.8l0.0 0.0M124.6 478.4l-0.1 0.4M93.8 434.4l0.2 0.0M83.5 476.5l-0.3 0.2M102.5 433.2l0.2 0.4M107.2 433.8l0.3 -0.1M126.0 450.7l0.2 -0.3M106.7 474.7l0.4 -0.3M83.6 477.1l0.0 0.3M115.7 442.3l-0.5 0.4M135.9 479.3l-0.4 -0.1M89.5 475.3l0.1 -0.1M96.5 478.9l-0.2 0.3M98.2 443.6l-0.4 -0.2M133.2 470.9l0.2 0.5M109.1 455.4l0.4 -0.1M109.6 458.5l0.1 -0.4M122.2 426.6l-0.4 0.2M101.9 475.0l0.2 0.1M88.8 435.7l0.3 -0.4M89.0 471.5l0.1 0.2M121.7 475.0l-0.4 0.1M106.2 447.9l-0.1 0.3M88.0 462.6l0.5 -0.5M99.6 434.5l-0.3 -0.0M126.8 427.5l0.3 -0.1M119.5 459.8l0.1 -0.4M111.3 441.7l0.3 0.3M89.3 475.8l-0.3 -0.4M86.8 465.3l-0.2 0.3M128.4 478.1l-0.4 -0.2M96.3 459.7l0.4 -0.1M92.1 431.9l-0.3 0.4M106.1 450.0l-0.1 0.0M96.0 434.8l0.3 -0.3M127.4 462.3l-0.2 0.5M88.0 445.4l0.5 0.0M87.6 449.1l0.3 -0.1M122.8 431.9l0.2 -0.4M137.6 425.6l0.0 0.3M135.9 474.1l0.5 0.3M135.8 426.7l-0.1 -0.4M87.7 447.4l0.2 -0.1M118.3 437.4l-0.4 -0.4M85.1 435.7l0.2 0.2M133.9 457.6l-0.0 0.2M100.5 433.1l0.1 0.3M86.7 455.5l-0.2 -0.3M137.3 431.1l0.3 0.2M87.1 435.3l-0.1 -0.5M127.8 446.2l-0.2 -0.1M116.9 469.7l0.5 0.3M97.2 435.4l-0.0 -0.1M126.6 465.5l0.3 -0.2M136.4 443.8l-0.1 -0.4M122.8 471.9l-0.3 0.0M125.6 452.4l-0.4 0.3M93.8 474.5l0.5 -0.4M102.4 474.2l-0.3 -0.3M125.1 460.2l-0.4 -0.4M121.2 457.3l-0.3 0.1M120.0 433.0l-0.3 0.2M107.6 437.8l0.0 0.1M132.9 426.9l-0.2 0.0M130.2 446.6l-0.2 0.2" stroke="#3e3ea6" stroke-width="1.00" stroke-opacity="0.90" stroke-linecap="round" fill="none"/>
<path d="M135.5 427.6l-0.5 -0.7l0.5 -0.2M132.8 431.9l0.6 -0.2M119.2 472.3l0.6 -0.2l0.5 -0.2M136.0 480.2l-0.8 0.5l-0.4 -0.6M105.9 471.7l0.5 -0.3l0.4 -0.6" stroke="#2b22bd" stroke-width="1.0" stroke-linecap="round" stroke-linejoin="round" fill="none"/>
<path d="M128.1 451.7l-0.6 -0.9l0.8 -0.6M112.3 431.7l-0.6 -0.2M93.2 450.3l-0.0 0.4l-0.5 -0.4M122.9 436.9l-0.6 -0.8l0.4 -0.6M94.8 468.5l-0.9 -0.0l-0.3 -0.6" stroke="#2b22bd" stroke-width="1.5" stroke-linecap="round" stroke-linejoin="round" fill="none"/>
<path d="M98.1 444.4l0.4 -1.0l-0.9 -0.4M106.4 466.1l0.5 -1.4" stroke="#2b22bd" stroke-width="2.0" stroke-linecap="round" stroke-linejoin="round" fill="none"/>
<path d="M107.5 463l-1.5 1.5l1.2 2.5l1 2.5l-1.5 2.5" stroke="#2b22bd" stroke-width="1.7" stroke-linecap="round" stroke-linejoin="round" fill="none"/>
<path d="M108 447l1 1.2" stroke="#2b22bd" stroke-width="2.0" stroke-linecap="round" stroke-linejoin="round" fill="none"/>
<path d="M96 441l.8 .8" stroke="#2b22bd" stroke-width="1.4" stroke-linecap="round" stroke-linejoin="round" fill="none"/>
<text x="139.10" y="478.10" font-size="4.80" text-anchor="end" fill="#ff2020" style="stroke-width:0.08px;stroke:#ff2020">100 µm</text>
<line x1="128.90" y1="479.50" x2="137.50" y2="479.50" stroke="#ff5050" stroke-width="0.50" />
<rect x="141.80" y="424.80" width="57.20" height="57.60" fill="#dfdfe1" />
<path d="M193.2 464.1l0.1 0.2M156.9 461.3l0.2 0.2M174.5 434.9l-0.0 0.2M148.1 443.4l0.2 -0.0M154.0 443.2l0.2 -0.1M166.3 460.8l0.2 -0.0M146.9 457.7l-0.2 -0.2M153.0 464.5l-0.1 0.1M151.5 432.0l-0.2 0.1M190.6 437.7l-0.1 -0.2M178.5 442.3l-0.2 0.1M176.0 450.6l-0.2 0.1M173.5 449.8l-0.2 0.2M190.8 464.3l0.2 0.0M161.7 431.9l0.1 0.0M166.8 481.5l0.2 -0.2M192.0 425.4l0.1 -0.1M183.3 479.2l0.0 0.1M145.4 463.1l-0.2 -0.0M161.0 429.4l0.1 -0.2M156.8 430.2l0.1 -0.1M144.8 426.8l-0.1 0.0M143.0 426.6l0.1 0.0M149.9 443.0l-0.2 -0.1M164.1 437.6l-0.2 -0.1M159.2 456.7l0.2 0.1M167.5 425.5l-0.2 0.1M165.1 473.2l0.2 -0.1M162.8 442.2l0.1 -0.2M157.8 475.0l-0.1 0.2M164.5 472.7l-0.0 -0.2M174.8 437.3l0.2 0.1M172.0 477.5l0.0 0.2M182.5 435.4l-0.1 0.2M147.9 480.9l-0.2 0.1M177.0 448.3l0.1 0.0M162.5 441.3l-0.2 0.1M191.8 446.6l0.2 -0.1M156.6 470.6l0.2 -0.2M191.3 443.4l0.1 -0.1M198.0 444.4l-0.1 -0.2M149.9 430.5l0.2 -0.2M148.9 438.9l-0.2 0.1M142.7 463.9l-0.1 -0.2M155.2 455.1l-0.1 -0.1M164.1 455.6l0.1 -0.1M176.5 465.8l-0.1 0.1M147.0 453.2l-0.1 -0.2M179.3 473.5l-0.0 -0.1M193.1 481.4l0.1 0.0M178.2 465.1l0.1 0.0M184.6 467.6l0.1 0.0M163.1 437.4l0.0 -0.1M168.8 435.4l0.2 -0.2M191.7 457.4l0.2 0.2M151.9 440.8l0.2 0.1M147.1 440.2l-0.2 -0.1M146.6 427.5l-0.2 -0.0M182.4 454.1l0.1 0.1M149.9 465.2l0.0 -0.0M196.3 451.1l0.1 0.1M169.5 434.0l-0.2 -0.1M153.0 448.0l-0.2 0.1M185.5 461.3l-0.2 -0.1M192.8 474.8l0.1 0.2M153.9 441.7l-0.0 -0.0M162.8 439.2l0.2 -0.2M174.4 471.4l-0.2 -0.1M163.5 441.4l0.2 0.2M149.5 429.1l0.0 0.0M144.4 474.2l0.2 0.0M147.3 436.2l0.2 0.1M167.3 478.2l-0.2 0.1M189.0 472.0l-0.2 0.1M174.0 460.9l-0.2 0.2M196.7 431.9l0.0 0.0M167.3 444.3l-0.1 0.1M171.0 450.8l0.0 -0.1M192.8 468.8l-0.1 -0.1M172.3 461.2l0.2 0.2M145.8 474.3l-0.2 0.0M185.7 435.4l-0.1 -0.2M167.1 472.5l-0.2 0.1M164.2 478.3l0.0 -0.0M158.4 473.3l-0.0 0.1M179.4 471.6l-0.1 -0.2M152.9 460.5l-0.2 -0.2M162.1 462.8l-0.2 -0.1M149.3 480.8l0.2 0.2M178.0 446.7l-0.1 -0.1M186.2 456.1l-0.2 0.2M190.5 425.9l-0.2 0.0M169.0 472.1l-0.1 0.2M161.9 433.7l0.2 0.1M186.9 435.0l0.2 -0.1M168.5 474.6l-0.2 -0.2M177.0 454.1l0.2 0.2M162.8 467.7l-0.2 0.1M167.4 443.3l-0.1 -0.0M167.8 442.9l-0.2 -0.2M143.4 473.3l-0.0 -0.0M193.8 430.1l0.2 0.2M166.4 465.3l-0.2 -0.1M143.2 467.0l0.2 0.2M171.9 471.5l0.1 -0.2M160.0 431.1l-0.0 -0.1M143.8 426.0l-0.2 0.0M189.4 461.5l0.2 -0.1M156.3 446.3l-0.2 0.0M148.9 429.0l0.2 -0.1M167.6 451.5l-0.2 -0.2M190.9 476.9l0.1 -0.0M152.5 434.2l0.0 -0.1M177.2 481.4l0.2 -0.1M155.7 427.6l0.2 0.2M189.0 466.4l0.0 0.2M160.0 453.2l0.2 0.1M162.5 436.5l-0.1 0.2M175.8 465.6l0.2 0.1M172.1 428.6l0.1 -0.1M152.4 427.2l0.0 0.1M148.3 431.3l-0.0 0.0M155.1 476.6l-0.0 -0.1M187.3 469.4l-0.1 -0.1M166.3 429.0l0.2 -0.1M154.5 466.2l-0.0 0.1M150.7 462.7l0.2 0.2M143.7 433.5l-0.1 0.0M171.0 452.6l-0.1 -0.2M168.3 438.1l0.1 0.2M149.9 476.0l0.2 -0.1M143.9 444.7l-0.1 0.1M197.2 479.7l-0.1 -0.1M165.7 439.6l0.1 0.1M142.9 438.7l-0.0 -0.0M184.0 429.9l-0.2 -0.1M152.4 432.4l0.2 0.1M144.8 467.6l-0.2 0.2M154.2 444.0l-0.2 -0.1M150.0 465.9l0.2 -0.2M156.5 472.5l0.0 0.2M160.2 429.3l-0.0 -0.0M149.3 461.1l0.1 0.0M181.1 467.0l0.2 0.1M159.9 475.1l0.2 0.2M194.0 425.6l0.2 0.2M161.3 434.8l0.1 0.2M165.9 428.1l-0.2 -0.1M179.5 469.7l-0.2 -0.2M177.8 451.0l0.0 0.2M143.1 462.4l-0.1 0.0M154.0 471.7l-0.0 -0.0M177.3 448.9l-0.2 0.0M150.0 452.7l0.1 0.2M171.3 455.5l0.0 0.0M156.3 447.0l-0.2 -0.2M186.4 432.6l-0.2 0.2M149.7 431.4l-0.2 -0.0M173.5 439.8l0.1 0.1M168.5 435.8l-0.2 0.2M153.2 476.9l-0.1 0.2M160.7 466.2l-0.2 -0.1M184.8 476.0l0.2 0.2M195.8 464.4l-0.0 -0.2M178.0 469.2l0.0 -0.2M176.8 461.2l-0.0 -0.2M184.2 434.5l-0.2 0.1M174.7 480.5l-0.1 -0.1M189.8 459.5l0.2 0.2M178.4 438.9l-0.0 0.2M142.9 462.7l0.2 0.1M169.1 461.5l0.0 -0.1M196.8 476.7l-0.1 -0.2M186.8 451.9l0.0 -0.1M197.0 477.3l0.1 0.2M147.2 459.5l-0.2 0.2M173.5 467.9l-0.0 -0.2M159.2 457.6l0.1 0.2M187.2 469.6l0.2 -0.1M174.6 435.3l-0.1 0.2M157.7 437.4l-0.1 -0.2M158.2 432.9l-0.0 -0.1M189.0 456.5l0.1 -0.1M174.4 481.5l0.2 -0.0M178.3 460.7l-0.2 0.2M158.5 453.0l-0.2 0.1M180.4 479.7l-0.1 -0.2M147.1 427.7l0.2 -0.1M151.0 454.6l-0.1 0.2M144.2 472.3l0.1 0.2M156.5 463.6l-0.2 0.1M149.9 427.5l0.0 0.2M182.7 469.9l0.1 0.1M188.9 426.3l-0.1 -0.2M145.5 477.1l-0.2 0.2M158.3 454.5l-0.1 0.1M165.3 438.0l-0.2 0.2M144.3 465.4l0.2 -0.2M145.2 445.3l0.1 -0.2M149.6 464.1l0.2 -0.1M196.4 425.6l-0.0 -0.0M189.3 480.6l0.0 0.1M177.3 432.0l0.2 -0.2M157.6 477.9l0.2 0.1M168.1 442.2l-0.1 -0.2M144.4 430.0l0.0 0.0M194.8 474.0l-0.0 -0.2M179.4 469.6l-0.1 -0.2M197.8 463.4l-0.1 0.1M146.2 440.0l0.2 -0.0M182.2 468.1l0.1 -0.1M162.4 452.1l0.1 0.0M143.7 450.4l-0.0 0.0M167.2 453.5l0.2 0.1M159.5 428.7l0.2 0.0M143.0 452.3l0.1 0.2M162.0 432.8l-0.0 -0.2M189.0 432.7l0.2 -0.2M177.8 481.6l-0.1 -0.1M149.8 459.6l0.1 -0.1M179.5 456.7l0.1 0.2M166.0 463.4l0.2 -0.0M173.3 480.3l-0.1 -0.1M183.1 481.8l-0.1 0.2M146.7 435.4l-0.0 -0.1M160.6 462.1l0.1 0.1M175.0 425.7l0.2 0.1M147.5 453.0l-0.2 -0.2M173.8 460.9l0.2 -0.0M147.0 442.3l-0.1 -0.2M195.6 442.7l0.2 -0.1M186.2 451.1l-0.1 0.1M161.7 447.3l0.2 0.0M189.6 471.2l0.1 0.2M195.3 429.1l-0.0 0.1M175.8 435.5l0.0 0.2M166.2 440.8l0.1 0.1M176.9 474.6l0.2 -0.0M186.6 476.7l-0.1 -0.2M185.7 471.2l-0.2 0.1M171.3 438.4l-0.2 -0.2M188.6 432.6l0.2 -0.2M154.1 472.5l-0.1 -0.0M179.3 426.0l-0.2 0.0M166.6 446.5l0.2 -0.2M162.5 454.7l0.2 0.1M168.5 481.5l0.2 0.2M189.2 472.5l-0.1 -0.0M165.8 441.7l-0.2 -0.2M151.7 430.1l0.2 0.2M178.4 460.1l-0.1 -0.2M195.0 469.5l-0.2 0.1M156.8 433.4l-0.1 0.1M179.2 463.1l0.2 0.2M173.9 481.5l-0.1 0.2M164.7 453.6l0.1 -0.0M165.8 449.4l-0.2 -0.2M190.4 438.6l0.1 -0.1M177.6 464.4l0.0 0.2M183.4 461.7l-0.2 -0.1M187.3 458.0l0.1 -0.1M180.6 438.0l-0.1 -0.0M161.4 435.8l-0.0 -0.2M184.0 444.6l0.1 0.1M175.7 453.0l0.2 -0.0M146.7 465.4l-0.1 0.2M185.8 462.9l0.0 -0.1M177.1 431.4l0.2 -0.1M145.3 438.0l0.2 0.1M158.4 473.9l0.2 0.0M160.8 478.8l-0.2 -0.1M180.1 430.1l0.1 0.0M183.0 427.3l-0.2 0.2M148.8 446.6l-0.2 0.0M168.9 460.3l-0.1 -0.2M178.7 433.6l0.1 0.1M188.1 451.6l0.1 -0.1M181.0 474.2l-0.1 -0.0M178.8 476.7l-0.1 -0.2M171.8 465.3l0.1 0.2M194.0 447.3l-0.2 -0.2M176.3 444.1l0.2 0.2M182.3 425.8l-0.1 0.2M155.2 427.9l-0.1 -0.0M166.8 474.7l-0.2 0.0M157.7 459.2l-0.1 0.1M195.0 467.1l-0.2 -0.1M166.1 429.3l0.2 0.0M192.9 463.5l0.2 0.1M185.4 457.0l-0.1 0.1M177.5 445.8l0.1 0.1M181.8 450.7l-0.2 0.0M150.5 479.5l-0.1 0.1M173.3 443.8l0.0 0.1M177.2 428.1l-0.1 -0.1M193.9 468.5l-0.1 0.2M177.7 449.1l0.1 -0.2M173.2 442.4l0.0 0.2M147.9 427.8l0.2 0.2M156.8 432.5l-0.0 0.2M167.5 470.6l0.1 0.2M169.8 451.2l-0.1 -0.2M185.0 469.5l0.2 0.1M152.3 479.5l0.2 -0.2M173.1 474.1l-0.1 0.1M185.1 475.9l0.2 -0.2M143.1 441.9l0.1 -0.0M154.5 463.2l0.1 0.2M152.7 426.9l-0.2 0.1M143.9 428.5l-0.2 -0.2M148.5 430.0l0.0 -0.0M154.8 449.5l0.2 -0.0M177.8 457.4l-0.1 -0.1M182.1 475.1l0.2 0.2M144.4 456.4l-0.2 -0.1M153.1 452.4l-0.2 -0.1M152.8 466.5l-0.2 0.2M186.1 460.6l0.2 -0.1M194.6 472.4l-0.1 -0.1M163.4 443.8l-0.1 0.1M183.5 459.9l-0.1 -0.2M147.7 466.2l0.1 0.2M175.5 432.3l-0.0 0.2M183.8 477.1l0.2 -0.0M174.4 471.6l0.1 -0.1M158.4 440.5l-0.0 -0.1M191.9 477.9l-0.2 0.2M184.1 463.9l-0.0 0.0M168.6 433.1l-0.2 -0.1M142.5 468.8l-0.2 -0.1M166.0 442.7l-0.1 0.1M174.7 438.7l0.2 -0.2M183.8 448.8l-0.0 0.2M146.6 442.2l-0.2 0.2M143.4 470.1l0.1 -0.2M146.8 442.1l-0.2 -0.1M142.3 460.2l-0.2 0.0M174.5 465.2l-0.0 -0.0M167.5 435.9l-0.2 0.2M142.6 470.3l0.0 -0.1M171.1 452.9l0.1 0.0M191.2 433.9l-0.0 0.1M167.1 428.0l-0.0 -0.1M148.4 463.5l0.2 0.0M160.4 479.2l0.1 0.2M184.6 450.0l0.2 0.2M150.7 443.0l-0.2 -0.2M192.0 433.9l-0.2 0.1M174.7 440.9l0.1 -0.1M186.2 465.3l0.2 -0.1M155.2 429.7l0.0 0.2M193.5 456.5l0.2 -0.1M172.5 445.1l0.1 -0.2M182.6 480.4l0.2 -0.2M175.0 441.5l-0.1 -0.1M182.4 460.9l0.1 0.2M150.8 449.3l0.1 -0.1M198.0 465.8l0.0 -0.1M190.1 469.7l0.1 0.1M187.4 474.1l-0.2 0.0M150.1 480.1l0.2 0.1M152.5 466.5l-0.1 -0.0M177.8 436.2l-0.1 -0.1M181.2 432.7l-0.1 0.1M179.1 481.4l0.1 -0.0M160.7 466.5l0.2 -0.0M163.4 451.3l-0.2 0.2M153.7 459.1l0.2 -0.2M165.8 436.5l-0.0 0.2M164.6 459.8l0.0 -0.2M157.1 481.9l-0.2 0.1M182.6 453.2l0.1 0.1M185.9 432.1l0.1 -0.0M151.6 472.6l-0.0 -0.2M181.6 447.1l-0.2 -0.2M143.2 471.9l0.2 -0.2M159.9 468.4l-0.1 -0.2M163.1 460.0l-0.0 -0.0M157.3 470.0l0.1 -0.0M157.7 455.3l0.1 -0.0" stroke="#b4b4c6" stroke-width="1.15" stroke-opacity="0.75" stroke-linecap="round" fill="none"/>
<path d="M181.1 435.2l0.2 0.2M196.0 466.6l0.1 -0.2M155.7 444.0l0.0 -0.1M172.5 464.9l0.1 -0.2M190.8 470.8l0.0 -0.2M147.7 455.3l0.2 -0.2M183.2 464.6l-0.2 -0.2M160.4 427.3l0.2 -0.2M155.7 439.9l0.2 -0.2M168.6 453.8l0.2 -0.2M142.7 472.4l-0.1 0.1M191.4 431.5l0.1 0.2M168.8 463.1l0.2 0.1M197.3 443.2l-0.0 -0.1M182.8 475.4l-0.1 -0.0M198.1 441.1l-0.2 -0.1M171.0 442.1l0.1 -0.0M151.4 431.6l-0.1 0.2M172.7 481.0l-0.1 0.1M146.9 437.7l0.1 -0.2M160.3 451.2l-0.2 -0.1M167.1 433.4l0.1 -0.2M182.0 453.6l0.1 -0.2M187.1 463.6l-0.1 -0.1M177.4 433.5l0.1 0.2M189.7 460.4l0.0 -0.1M195.9 469.4l-0.1 -0.2M181.5 445.1l-0.2 -0.2M197.7 466.8l-0.2 -0.0M171.6 451.8l0.1 -0.0M174.8 472.0l0.1 -0.1M143.3 469.9l-0.1 -0.2M178.9 435.9l0.1 0.0M187.0 477.6l0.2 -0.2M175.2 462.2l0.2 -0.1M154.9 470.2l-0.0 0.2M157.7 453.8l-0.2 0.1M193.1 468.3l-0.2 -0.1M186.5 435.7l-0.2 -0.0M187.1 479.9l0.1 0.2M189.7 434.9l-0.2 0.2M151.3 446.9l0.2 -0.1M158.3 472.7l0.1 -0.0M156.4 452.7l-0.1 -0.1M156.2 435.0l0.2 -0.2M148.0 425.8l0.1 -0.1M196.8 432.0l-0.2 -0.1M181.7 453.5l0.1 -0.1M198.2 476.2l0.1 0.0M163.0 477.7l0.1 0.0M166.4 437.2l0.0 0.0M150.9 441.6l-0.0 0.0M162.8 451.1l-0.0 0.2M190.6 473.2l-0.2 0.0M143.6 466.3l-0.1 -0.1M143.1 462.5l0.0 -0.2M185.3 480.8l-0.0 0.1M198.2 434.6l0.2 0.0M187.6 456.5l0.2 -0.1M192.6 449.0l0.0 -0.0M150.8 450.5l-0.2 -0.2M150.6 474.0l0.2 -0.1M175.4 431.8l-0.1 -0.2M142.6 464.6l-0.2 -0.1M188.4 455.1l0.1 0.0M170.0 468.5l-0.1 0.2M178.1 440.7l0.2 0.1M174.5 453.4l-0.0 0.2M193.2 474.2l-0.2 -0.2M189.1 465.6l-0.2 0.1M156.9 432.7l-0.0 -0.2M144.3 469.6l-0.1 -0.2M168.9 460.8l0.1 0.0M146.4 437.7l0.2 -0.0M189.1 465.7l0.2 0.0M153.5 468.9l-0.2 0.2M175.4 473.8l0.0 -0.1M145.4 431.9l0.1 -0.1M166.1 435.3l0.1 0.1M191.9 449.4l0.2 -0.2M158.8 439.7l-0.2 -0.1M143.8 425.7l-0.2 -0.0M197.9 467.2l-0.1 -0.1M195.0 472.6l0.2 0.2M143.5 429.4l-0.2 0.2M192.4 425.7l-0.1 -0.0M163.5 432.5l0.2 0.2M197.9 462.7l-0.0 -0.2M151.4 455.3l0.0 -0.0M145.9 478.0l0.1 0.0M185.0 458.1l-0.2 0.0M168.4 473.4l-0.1 -0.2M171.5 426.2l-0.1 0.2M167.5 448.8l0.2 0.1M160.9 481.6l0.2 0.1M182.9 456.0l0.0 -0.1M143.7 432.7l-0.1 -0.2M179.0 434.8l0.1 -0.2M156.4 471.3l-0.2 -0.1M187.1 480.2l0.2 -0.1M180.5 425.5l-0.2 0.2M160.3 461.2l0.2 0.2M157.3 431.2l0.2 -0.1M147.7 468.2l-0.1 0.2M192.5 466.8l-0.2 0.1M150.5 428.8l-0.2 -0.2M197.2 473.3l0.1 0.2M163.5 464.9l-0.1 -0.2M161.0 455.2l-0.0 -0.0M182.8 474.1l0.1 0.2M193.9 481.0l-0.1 -0.2M193.1 469.1l-0.0 0.1M193.4 470.2l-0.0 -0.2M158.5 478.3l0.1 -0.1M159.7 478.2l0.0 -0.1M171.3 465.8l-0.1 0.1M196.3 458.1l0.1 -0.0M191.4 441.7l-0.2 0.1M161.8 443.6l-0.2 0.2M186.5 469.7l0.1 0.2M185.0 477.8l-0.2 0.1M144.1 467.0l0.0 -0.0M148.9 448.2l0.0 0.2M171.8 425.9l0.2 -0.2M157.1 475.7l-0.2 0.2M160.6 460.5l0.2 0.2M144.7 426.1l-0.2 0.0M195.4 466.8l0.0 0.0M194.1 439.3l-0.2 0.1M164.2 480.4l-0.1 0.2M185.5 431.9l-0.1 0.0M177.2 462.9l0.0 0.0M153.6 437.9l-0.1 -0.1M143.4 477.8l-0.0 0.1M160.6 481.7l-0.1 0.1M162.4 443.8l0.0 -0.1M190.5 457.3l0.2 0.1M166.8 477.1l0.1 0.2M176.4 468.7l0.1 -0.2M146.0 428.5l-0.2 -0.1M197.7 470.0l-0.1 -0.0M145.4 477.0l-0.0 -0.0M145.8 438.4l-0.1 -0.1M143.7 430.2l-0.1 -0.2M183.1 448.0l-0.0 -0.1M187.9 479.3l-0.1 0.1M178.2 451.0l0.1 -0.2M146.0 458.3l0.0 -0.1M158.9 478.4l-0.0 -0.2M163.1 431.1l0.2 -0.1M191.6 444.3l-0.2 0.0M175.1 436.3l0.1 0.1M187.0 430.6l-0.2 0.2M166.5 436.3l-0.2 0.2M158.6 461.4l0.1 0.1M152.0 463.1l0.2 0.0M172.1 452.7l-0.1 -0.1M185.1 467.6l-0.2 0.0M166.0 465.8l-0.2 -0.0M169.6 456.2l-0.0 0.1M190.6 426.5l-0.2 0.2M164.2 473.2l-0.2 0.1M146.0 450.2l0.2 0.1M157.1 437.2l-0.2 -0.2M146.9 445.9l-0.2 -0.2M143.0 436.3l-0.1 0.0M157.0 459.9l0.2 0.0M143.1 466.8l-0.1 -0.2M192.9 474.4l-0.1 -0.1M181.4 435.2l0.1 -0.1" stroke="#8585a8" stroke-width="1.00" stroke-opacity="0.85" stroke-linecap="round" fill="none"/>
<path d="M156.7 438.8l-0.1 -0.0M164.0 439.2l-0.0 0.2M154.7 474.6l-0.1 -0.1M167.7 459.4l-0.0 -0.1M194.5 477.8l-0.1 0.1M177.0 442.6l-0.4 0.3M188.8 439.9l-0.2 0.5M153.9 436.0l0.2 0.3M165.2 471.2l0.2 0.1M186.4 481.9l0.3 0.1M155.8 453.4l-0.3 -0.5M144.5 462.2l-0.4 0.2M180.1 476.0l0.4 0.3M163.8 458.7l-0.1 0.5M193.6 428.7l0.3 0.1M163.7 478.8l0.3 -0.1M193.4 434.8l-0.4 0.5M191.2 456.3l0.2 0.4M168.1 473.9l0.5 -0.1M165.2 478.3l-0.3 0.4M158.2 453.5l0.4 -0.3M193.2 461.0l-0.1 -0.4M147.7 461.1l-0.1 0.3M161.9 471.1l0.5 -0.0M145.1 440.0l-0.3 -0.3M147.5 467.8l0.3 0.2M142.4 426.8l-0.2 0.4M155.0 439.4l-0.0 -0.1M181.6 445.1l-0.1 0.2M189.3 480.5l0.0 0.1M166.5 464.1l-0.1 0.1M197.9 462.5l-0.1 0.4M173.3 470.8l-0.4 -0.2M165.0 430.1l0.5 0.5M161.9 455.7l0.2 -0.4M143.6 462.4l0.0 -0.1M187.5 439.2l-0.4 -0.4M183.6 457.2l0.1 -0.3M183.0 439.5l0.2 0.3M179.2 469.7l-0.4 -0.4" stroke="#3e3ea6" stroke-width="1.00" stroke-opacity="0.90" stroke-linecap="round" fill="none"/>
<path d="M179.2 463.8l0.5 -0.2l-0.2 -0.4" stroke="#2b22bd" stroke-width="1.0" stroke-linecap="round" stroke-linejoin="round" fill="none"/>
<path d="M147.4 471.6l0.6 0.9l-0.6 -0.2" stroke="#2b22bd" stroke-width="1.5" stroke-linecap="round" stroke-linejoin="round" fill="none"/>
<path d="M173.5 441l.3 .3" stroke="#2b22bd" stroke-width="1.8" stroke-linecap="round" stroke-linejoin="round" fill="none"/>
<text x="198.40" y="478.10" font-size="4.80" text-anchor="end" fill="#ff2020" style="stroke-width:0.08px;stroke:#ff2020">100 µm</text>
<line x1="188.20" y1="479.50" x2="196.80" y2="479.50" stroke="#ff5050" stroke-width="0.50" />
<rect x="22.50" y="484.50" width="58.00" height="57.30" fill="#e2e2e8" />
<path d="M32.4 523.8l0.1 -0.0M35.3 529.6l0.2 0.0M51.8 498.3l-0.2 -0.1M56.4 488.9l0.1 -0.1M36.3 487.4l0.2 0.1M72.9 519.7l-0.2 -0.1M51.4 491.5l0.2 -0.1M31.8 531.0l-0.2 0.2M48.8 516.1l-0.1 -0.0M33.7 487.1l0.2 -0.1M67.5 496.7l0.2 0.2M66.0 527.9l0.0 0.1M30.0 511.8l0.2 -0.1M75.6 535.0l-0.0 -0.1M48.7 506.7l0.2 -0.1M24.5 490.3l0.1 0.2M51.3 512.7l0.0 0.1M35.7 519.3l0.0 0.1M33.3 494.6l-0.1 0.2M42.8 518.6l-0.1 -0.2M26.7 530.8l0.1 -0.1M62.0 523.1l0.2 0.2M46.2 540.7l0.2 0.0M73.3 512.6l-0.1 -0.1M72.9 494.1l-0.2 0.2M67.1 512.2l0.2 -0.2M37.7 501.3l-0.0 -0.2M27.0 504.0l0.2 0.2M65.5 512.0l-0.1 0.2M53.0 526.0l-0.2 -0.1M70.8 529.8l0.2 0.1M47.3 517.7l0.2 -0.1M53.5 500.5l0.1 -0.2M62.1 538.7l-0.2 0.0M59.7 532.9l0.0 -0.1M46.1 539.0l0.2 -0.2M28.4 490.3l-0.2 -0.0M31.0 533.8l0.1 -0.2M53.7 503.3l-0.0 -0.1M32.5 495.4l-0.1 0.1M54.4 487.6l0.1 0.2M67.1 529.5l-0.2 -0.0M26.6 528.0l-0.2 0.1M37.4 524.2l-0.1 -0.2M45.2 502.4l0.2 -0.1M51.7 515.9l0.2 -0.2M57.3 513.6l0.1 0.2M40.7 524.4l0.0 0.0M26.6 530.9l0.2 -0.1M41.1 540.9l-0.2 -0.2M27.2 530.8l0.1 -0.0M58.4 486.1l0.1 -0.0M52.5 506.9l-0.0 -0.1M25.8 509.4l-0.1 0.1M69.6 525.7l-0.0 -0.1M45.0 512.4l0.1 0.2M27.9 512.0l-0.0 0.1M73.8 528.9l0.1 0.1M61.1 533.4l0.1 0.1M37.0 536.6l-0.1 0.1M70.0 539.3l0.2 -0.2M40.8 502.6l-0.1 -0.2M54.5 489.5l-0.1 0.2M65.3 511.0l-0.2 0.2M63.1 496.6l-0.1 0.1M61.9 499.7l0.2 -0.1M37.5 532.6l-0.2 0.1M34.4 518.7l-0.1 -0.1M76.6 511.3l-0.0 0.1M39.0 494.8l-0.1 -0.1M33.7 539.1l-0.2 0.2M76.3 524.7l-0.2 0.0M25.2 519.2l0.1 -0.1M23.4 515.6l-0.2 -0.1M48.9 535.4l-0.1 -0.2M68.1 531.3l0.0 -0.2M33.7 507.7l0.0 -0.1M68.7 532.5l0.2 0.2M24.0 517.8l-0.2 0.2M65.6 527.7l-0.2 -0.2M69.5 519.1l0.1 -0.0M68.6 504.0l-0.1 -0.1M40.0 520.3l0.2 -0.2M26.9 513.8l0.1 -0.2M38.4 488.3l-0.2 -0.0M61.8 521.8l-0.2 -0.2M76.1 515.3l-0.0 0.1M64.5 514.5l-0.2 0.2M35.2 487.3l-0.1 0.0M58.8 494.8l0.1 -0.0M32.2 532.9l0.2 0.2M61.7 497.2l0.1 0.2M53.4 536.1l0.2 -0.1M76.7 537.7l0.1 -0.2M43.1 519.5l0.1 0.1M59.9 494.1l0.2 0.0M73.3 496.6l0.2 0.0M67.2 526.7l0.2 -0.1M27.7 507.8l-0.2 0.0M69.5 505.4l-0.2 -0.2M47.1 517.7l-0.2 0.1M35.0 491.0l0.2 0.0M74.0 513.9l-0.2 -0.1M47.2 521.1l0.1 0.1M60.1 499.2l-0.0 -0.1M50.9 499.9l0.0 -0.0M25.0 531.3l0.0 0.2M65.0 526.1l0.2 -0.1M45.4 485.2l0.1 0.0M55.9 541.2l-0.2 -0.1M64.8 530.7l-0.0 -0.2M44.1 531.5l-0.0 -0.0M45.2 520.4l0.0 0.1M72.3 527.3l-0.1 -0.1M67.6 529.6l0.2 -0.2M71.3 535.1l-0.2 -0.1M59.1 493.2l0.2 -0.1M61.9 501.7l-0.1 -0.1M51.4 525.1l-0.1 0.1M42.1 521.6l-0.1 -0.2M31.0 488.3l0.1 -0.0M30.0 534.6l0.1 -0.2M64.3 518.5l-0.0 0.0M77.8 506.1l0.1 0.1M43.8 504.5l0.1 0.1M49.0 513.9l-0.1 0.1M24.1 521.2l-0.0 -0.1M56.4 517.8l-0.2 -0.0M32.4 530.0l-0.1 -0.1M35.3 487.7l-0.2 -0.2M58.6 532.7l-0.1 -0.2M53.5 491.5l-0.0 0.1M34.6 524.4l0.0 -0.2M36.8 518.7l-0.2 -0.1M55.9 531.1l0.0 0.1M23.5 502.0l-0.1 0.2M43.4 529.2l-0.2 -0.0M73.8 528.4l0.0 -0.2M75.8 489.5l0.2 0.1M64.0 514.9l-0.2 -0.1M60.8 521.9l-0.1 0.2M26.0 501.2l-0.2 -0.1M68.2 527.4l-0.2 -0.1M29.4 522.3l-0.0 -0.1M44.3 533.7l-0.0 0.1M58.8 511.7l0.0 -0.1M34.3 512.8l-0.1 -0.1M33.6 536.4l-0.0 -0.1M24.8 497.1l0.2 -0.1M61.0 498.0l0.1 -0.0M65.0 514.8l-0.1 -0.1M56.9 531.8l0.1 -0.0M41.7 535.2l0.2 -0.2M61.7 528.5l0.1 0.2M73.1 498.9l0.2 -0.1M44.6 540.0l-0.2 -0.1M58.7 500.4l-0.1 0.1M57.9 526.9l0.1 0.2M73.9 531.4l0.2 -0.0M63.0 513.9l0.2 0.1M47.5 522.4l-0.1 -0.2M45.0 492.7l-0.2 -0.2M48.9 528.0l-0.2 0.1M29.3 513.7l-0.1 -0.0M63.6 508.3l-0.1 0.1M29.6 504.6l0.1 0.2M78.8 499.5l0.1 -0.1M63.0 532.6l-0.2 -0.1M76.4 504.8l0.1 0.2M38.9 529.1l-0.2 -0.1M32.5 504.5l-0.1 -0.2M68.8 494.8l0.0 0.0M71.4 532.7l0.1 -0.2M66.4 490.5l0.2 -0.1M37.4 497.2l-0.1 0.1M71.7 527.0l0.1 -0.1M41.3 502.1l-0.0 0.2M79.8 489.7l0.2 0.2M49.3 524.0l0.1 -0.2M58.1 540.3l0.2 0.2M27.8 525.2l-0.0 0.2M32.5 515.9l-0.2 0.2M64.2 486.8l-0.1 -0.2M59.2 520.5l-0.2 0.2M78.0 509.8l0.0 -0.1M57.6 507.4l-0.0 0.1M33.6 501.8l0.1 -0.1M26.9 536.3l-0.2 -0.0M40.9 499.7l-0.1 0.0M29.6 515.0l-0.2 -0.2M34.5 498.5l-0.1 -0.1M70.7 522.0l-0.0 0.1M62.1 502.8l0.1 0.1M53.5 527.4l0.1 0.2M38.1 522.8l0.2 0.0M74.6 490.3l0.1 -0.1M65.8 508.8l0.0 -0.1M37.7 533.7l0.1 0.1M29.6 501.5l0.2 -0.1M53.7 524.2l0.0 0.0M78.3 529.0l-0.1 -0.0M46.9 523.5l0.1 -0.1M62.5 509.3l-0.2 -0.1M44.5 496.1l0.1 0.2M76.1 520.4l0.2 -0.0M56.4 535.3l-0.2 -0.1M44.3 504.2l-0.0 -0.2M61.7 538.9l-0.1 -0.2M42.1 529.8l-0.1 0.1M32.8 518.5l0.1 0.1M27.8 538.9l0.2 -0.0M72.0 518.8l-0.2 -0.1M69.8 511.1l-0.2 -0.2M33.6 518.0l0.1 -0.0M46.0 539.2l-0.1 0.1M34.7 513.9l-0.2 -0.2M42.2 491.5l-0.1 0.1M54.3 529.8l-0.0 -0.2M64.5 507.6l0.1 0.2M52.9 499.1l-0.1 -0.0M41.2 490.7l-0.1 0.1M69.5 527.9l0.2 0.2M46.4 521.3l-0.2 0.1M63.4 499.9l-0.0 -0.1M68.3 509.0l0.1 0.2M67.3 506.4l-0.1 0.2M74.6 495.7l-0.1 0.1M66.1 500.9l-0.0 0.2M28.1 500.4l0.1 0.2M77.0 511.4l0.1 0.2M41.8 497.8l-0.1 0.1M31.0 515.8l0.2 -0.1M58.8 514.8l0.2 0.0M51.0 535.9l0.1 -0.2M68.8 507.5l0.2 0.2M51.1 508.4l-0.1 -0.1M34.7 494.5l0.1 -0.2M57.1 518.7l0.1 0.0M75.9 500.8l-0.2 0.0M38.4 540.6l0.2 0.1M70.5 498.8l-0.0 -0.1M42.7 506.0l-0.0 0.1M24.4 515.4l-0.2 0.2M54.5 518.2l-0.1 0.1M63.5 536.2l0.0 -0.1M58.8 487.8l0.1 -0.1M64.0 492.4l0.0 -0.2M25.1 499.9l0.2 -0.1M52.8 529.5l0.2 -0.1M62.6 529.0l0.1 -0.1M50.0 529.1l-0.1 -0.0M59.1 532.9l-0.1 0.1M35.4 493.8l-0.0 0.1M59.5 538.4l-0.2 0.0M50.4 499.6l0.2 -0.2M37.9 487.3l0.1 0.1M35.7 536.9l0.1 -0.1M76.7 533.0l-0.1 0.2M30.4 504.6l-0.0 0.2M40.0 506.7l-0.1 0.2M33.5 532.7l-0.1 0.0M73.0 500.0l0.0 0.1M55.9 507.9l0.1 -0.1M31.8 485.5l0.1 0.0M68.6 493.8l0.1 -0.0M52.9 531.8l0.0 -0.0M59.8 493.3l0.2 0.0M25.4 512.1l0.2 0.2M47.3 499.9l0.2 -0.1M24.0 498.9l-0.0 0.1M26.8 503.8l0.1 -0.1M33.0 525.0l-0.0 0.1M50.6 530.7l0.0 0.2M69.3 525.6l-0.0 0.1M44.5 489.3l0.2 0.2M66.7 533.4l0.0 0.2M50.0 540.2l-0.2 -0.1M55.6 531.1l0.0 0.1M44.3 523.1l0.1 0.1M24.2 522.0l-0.2 -0.1M29.5 528.0l-0.2 0.1M27.1 496.7l0.1 0.2M27.1 519.6l-0.1 0.1M27.4 485.9l-0.2 0.2M51.0 519.5l-0.2 0.1M74.4 496.1l0.1 0.2M79.6 516.9l0.1 -0.1M67.5 502.5l0.1 0.1M79.4 529.3l-0.2 -0.2M43.4 507.3l0.1 -0.1M54.9 510.5l-0.1 0.1M47.7 540.2l-0.2 0.2M59.3 510.8l-0.2 0.1M68.8 504.7l0.1 0.0M28.1 533.4l-0.1 -0.0M66.4 534.3l0.2 -0.1M71.3 493.6l0.0 -0.0M72.4 525.7l0.1 0.2M42.8 510.0l-0.2 -0.1M34.4 526.2l-0.2 0.2" stroke="#b4b4c6" stroke-width="1.15" stroke-opacity="0.75" stroke-linecap="round" fill="none"/>
<path d="M57.2 510.1l-0.2 -0.0M55.1 493.1l0.2 -0.1M47.8 501.1l-0.1 -0.1M71.7 489.0l-0.1 0.0M50.3 503.3l-0.0 -0.2M40.5 509.5l0.1 -0.0M46.7 521.8l-0.1 0.0M34.1 519.7l0.0 0.1M72.9 529.8l0.2 -0.1M77.4 510.0l-0.1 -0.0M75.5 538.7l0.2 -0.1M29.8 496.5l0.1 0.1M26.7 485.2l0.2 -0.1M25.4 511.2l-0.2 0.2M53.2 519.5l0.2 -0.2M35.3 529.3l0.1 -0.0M43.3 519.9l0.2 0.2M75.3 540.1l-0.2 -0.2M70.3 498.9l0.0 -0.0M78.5 509.9l-0.2 -0.1M74.5 530.9l-0.2 0.2M44.2 525.9l0.0 0.2M50.9 486.7l0.0 0.2M46.4 531.5l-0.0 -0.1M43.5 497.9l0.0 0.2M56.7 528.2l-0.2 -0.1M56.1 506.6l-0.2 0.2M30.4 522.1l0.2 -0.1M38.4 503.7l0.0 0.2M31.2 498.8l0.2 -0.1M61.0 525.6l-0.2 -0.2M66.3 536.7l0.1 -0.0M28.8 514.7l-0.2 -0.1M25.0 514.0l-0.0 -0.1M35.6 488.7l-0.2 -0.2M79.0 486.9l0.1 -0.0M56.5 502.2l0.2 0.2M46.1 509.3l0.2 -0.2M72.8 519.9l0.0 0.0M56.7 490.1l-0.1 -0.1M35.6 489.8l0.1 -0.0M65.2 507.1l0.2 -0.1M52.2 508.8l0.1 -0.2M54.1 510.5l0.1 -0.1M53.9 540.5l-0.2 0.2M78.1 510.2l-0.2 -0.0M77.9 485.1l0.1 0.1M29.6 518.9l-0.2 -0.2M52.7 501.8l0.1 0.0M36.1 536.8l-0.2 0.2M39.1 535.6l0.1 -0.0M35.3 533.2l0.2 0.2M56.6 537.1l0.2 0.1M42.3 519.0l-0.1 0.2M54.5 533.8l0.2 0.1M34.6 503.9l-0.2 -0.1M32.0 501.9l0.1 -0.2M75.3 536.9l0.1 -0.1M39.6 510.8l0.1 0.2M24.2 489.8l0.2 -0.2M73.9 495.5l0.2 -0.0M57.5 531.4l0.2 -0.0M49.2 529.4l-0.1 -0.1M72.6 534.7l0.2 -0.1M42.5 490.9l0.2 -0.2M33.4 486.4l-0.0 0.2M27.0 499.2l-0.1 0.1M43.3 494.8l0.1 0.2M32.4 488.6l-0.0 0.2M26.4 492.8l0.1 0.1M48.8 487.5l0.0 -0.2M27.2 488.2l0.2 -0.2M50.1 531.2l-0.1 -0.1M68.2 516.8l-0.2 0.0M79.7 531.1l0.2 -0.2M26.3 513.3l-0.2 0.2M39.7 515.9l0.2 -0.0M66.6 493.7l-0.0 0.1M49.7 495.4l0.2 -0.1M75.0 502.7l0.2 -0.2M61.5 538.6l0.1 -0.0M78.9 539.4l0.2 -0.1M28.1 519.5l-0.2 -0.2M54.7 538.2l-0.1 0.2M77.8 538.0l-0.2 -0.2M77.5 539.3l-0.2 -0.2M63.6 490.5l-0.2 -0.2M56.0 505.9l0.2 -0.2M74.1 529.3l-0.1 0.1M61.6 491.9l0.2 -0.0M52.3 533.0l-0.2 -0.1M24.8 526.5l-0.1 0.1M63.9 541.1l-0.2 -0.0M67.9 510.0l-0.2 0.1M68.3 510.2l-0.1 -0.2M46.1 532.3l-0.1 0.2M43.4 511.8l0.1 0.2M71.1 508.8l-0.0 -0.2M53.7 531.1l-0.2 -0.1M26.7 510.6l-0.0 0.2M61.2 536.7l-0.1 -0.0M63.0 489.2l0.0 0.1M24.5 496.4l0.1 -0.2M59.4 508.7l-0.1 0.2M45.6 534.5l0.2 0.0M28.8 503.8l0.2 -0.1M56.6 496.3l0.1 0.1M73.7 518.4l-0.2 0.1M55.8 538.1l0.0 -0.1M48.3 516.6l0.1 0.1M72.1 515.2l-0.1 0.2M63.5 493.9l-0.0 0.2M55.9 491.9l0.2 0.1M34.2 524.1l0.2 0.0M77.1 515.3l-0.2 0.1M70.3 536.6l0.1 0.2M68.8 511.7l-0.2 -0.2M25.8 537.1l0.2 0.2M67.3 510.5l0.0 -0.2M32.1 507.5l-0.2 -0.1M52.6 494.1l-0.2 -0.2M49.1 532.1l-0.0 0.1M63.8 530.3l0.1 0.0M25.6 494.5l-0.1 -0.1M57.1 513.0l-0.1 -0.2M65.1 541.0l0.1 -0.2M62.6 530.0l0.0 0.1M72.1 512.0l0.1 -0.2M70.7 517.1l-0.2 0.1M70.0 510.1l-0.1 0.1M79.7 539.1l-0.1 -0.0M44.5 493.0l0.0 -0.1M50.2 531.7l0.0 0.2M34.6 495.4l-0.2 0.1M39.3 497.3l0.1 0.2M65.9 538.9l0.2 0.0M35.5 528.1l-0.1 -0.2M44.3 526.6l0.1 -0.0M30.2 494.7l0.1 -0.0M53.9 526.8l0.0 0.2M75.4 514.2l-0.1 0.0M37.2 494.9l0.1 -0.0M24.3 507.1l-0.1 -0.2M24.3 519.6l0.2 0.2M57.0 497.7l0.1 -0.1M36.1 503.5l-0.2 -0.2M79.2 489.7l0.2 0.1M65.3 491.3l0.1 -0.1M52.0 510.5l0.2 -0.2M23.4 517.9l0.0 0.1M27.9 505.9l0.1 0.0M41.0 485.5l-0.2 0.2M38.6 489.0l-0.1 -0.1M54.0 487.8l0.0 0.1M53.6 518.6l-0.1 -0.1M65.6 501.1l0.2 -0.2M50.2 535.5l0.1 -0.1M43.9 500.9l0.1 -0.1M70.7 524.2l0.2 0.0M39.1 523.7l-0.0 -0.2M48.7 495.5l-0.2 -0.1M77.4 522.7l-0.0 0.0M45.1 516.7l-0.1 0.2M68.3 510.0l0.0 -0.1M66.9 532.0l0.2 -0.2M74.7 497.3l-0.2 -0.0M59.9 491.5l0.1 0.2M67.4 531.6l-0.2 -0.1M37.1 505.8l0.2 0.2M38.1 516.6l0.1 0.2" stroke="#8585a8" stroke-width="1.00" stroke-opacity="0.85" stroke-linecap="round" fill="none"/>
<path d="M48.6 491.6l-0.4 -0.4M50.1 490.2l0.2 -0.3M25.4 525.5l-0.0 0.3M55.9 506.5l-0.4 0.4M61.7 499.7l-0.4 0.1M76.0 526.8l0.4 0.5M30.2 495.4l-0.0 -0.4M50.6 530.9l-0.2 0.3M37.5 530.9l-0.4 -0.4M25.6 517.6l-0.5 0.2M46.8 535.9l-0.1 0.3M65.9 506.1l0.3 0.1M56.8 509.0l-0.3 0.0M52.6 509.3l0.5 -0.3M74.9 516.4l-0.4 0.1M33.7 512.9l-0.0 0.3M74.8 489.0l0.4 0.4M31.6 489.6l-0.0 -0.5M30.1 513.8l-0.3 0.1M34.9 522.5l0.1 -0.4M62.0 536.9l0.5 -0.5M62.2 503.0l-0.1 -0.0M25.8 520.4l-0.4 0.4M28.8 520.1l0.1 -0.5M29.5 512.9l-0.1 -0.3M28.8 498.0l0.3 -0.4M66.1 491.4l0.3 0.3M73.3 507.0l0.5 -0.1M59.0 531.6l-0.3 -0.5M62.6 497.8l-0.3 -0.0M32.8 500.2l-0.3 -0.4M69.5 532.5l0.2 -0.1M75.6 515.6l0.1 -0.5M43.3 497.2l0.2 0.5M58.8 503.0l0.3 -0.4M68.9 487.4l0.5 0.3M79.2 512.2l0.2 -0.1M65.8 515.3l-0.0 0.3M76.6 500.7l-0.2 0.5M42.2 505.7l0.0 -0.2M49.0 500.5l-0.1 0.3M66.5 537.3l0.4 -0.2M67.4 524.0l0.1 -0.0M75.5 516.7l0.4 -0.4M43.4 492.5l0.2 -0.0M41.3 504.0l-0.0 -0.2M51.1 520.1l-0.5 -0.3M52.9 522.3l0.1 0.2M47.7 536.4l0.3 0.0M55.5 530.3l-0.2 -0.2M51.4 513.5l-0.4 0.0M75.4 533.7l0.0 0.2M44.2 489.0l0.3 0.0M57.8 519.5l0.5 -0.2M55.5 526.4l0.2 0.4M25.3 529.8l-0.5 -0.2M43.1 530.1l0.4 0.1M54.7 522.4l-0.5 -0.1M48.8 487.7l-0.2 -0.2M30.3 495.6l-0.1 0.2M71.5 503.0l0.3 0.2M28.9 496.3l0.4 -0.4M58.7 517.9l0.3 0.3M69.6 492.7l0.2 0.4M60.9 538.9l-0.4 -0.0M78.2 502.0l-0.2 -0.2M44.4 509.3l0.0 -0.2M51.5 537.3l-0.2 -0.3M75.3 525.0l0.3 0.4M79.1 502.1l-0.5 0.2M60.7 506.9l0.4 0.3M55.5 519.5l-0.1 -0.3M39.8 526.0l-0.0 0.0M60.3 537.7l-0.4 -0.4M66.8 497.2l0.1 0.0M61.2 521.0l-0.1 0.1M76.3 532.3l-0.0 0.2M39.6 537.0l-0.5 0.1M66.7 536.4l0.0 0.0M57.6 527.6l-0.1 0.1M37.5 489.4l-0.4 -0.3M46.1 492.4l0.3 0.2M44.9 495.1l-0.1 0.4M70.7 523.8l-0.1 0.3M52.0 504.2l0.4 0.2M26.2 488.9l-0.0 0.3M48.0 514.9l-0.4 0.1M46.3 505.3l-0.3 0.1M70.3 515.0l0.1 0.1M63.4 524.2l-0.5 0.5M51.0 487.8l0.2 0.3M43.9 518.8l-0.5 0.2M61.4 530.4l-0.0 0.4M46.6 485.3l-0.4 -0.2M35.8 498.0l-0.4 0.1M73.6 537.3l-0.1 -0.0M53.0 518.9l0.2 -0.1M24.1 502.8l-0.5 0.2M78.2 517.2l0.2 0.1M78.4 494.4l0.1 -0.2M49.1 497.2l0.3 -0.2M38.3 533.2l-0.5 -0.3M75.9 522.5l-0.3 -0.4M61.3 531.9l0.5 0.4M65.8 489.7l0.3 -0.1M53.3 486.3l-0.5 0.0M59.8 500.3l0.5 -0.4M72.9 537.5l-0.4 0.3M58.0 509.5l-0.1 0.0M75.8 527.7l-0.0 -0.0M33.0 515.8l0.4 0.1M57.1 510.4l0.5 0.4M52.5 522.3l0.3 -0.2M58.9 501.1l0.3 -0.2M77.9 524.0l0.0 0.1M56.3 500.1l-0.5 -0.0M39.8 511.5l-0.3 -0.3M78.8 506.3l0.2 -0.4M28.0 523.9l-0.1 0.3M24.2 512.9l0.1 -0.3M63.8 496.0l-0.4 -0.3M25.6 507.7l0.3 -0.3M39.2 503.9l-0.3 0.4M70.5 491.7l0.2 0.4M23.7 507.6l-0.5 -0.2M30.0 510.8l-0.3 0.2M44.7 489.7l0.1 -0.0M65.2 526.9l-0.3 -0.1M64.1 539.5l0.1 0.1M42.0 509.5l-0.2 -0.0M39.3 503.1l-0.5 -0.4M72.4 504.5l0.5 -0.3M43.7 535.3l-0.1 0.2M67.2 506.8l-0.3 -0.5M72.2 517.3l0.3 0.5M72.7 518.3l-0.4 0.1M50.6 490.7l-0.5 -0.2M44.2 534.3l0.5 0.4M41.3 533.0l-0.1 -0.1M55.9 487.3l0.2 -0.4M56.5 527.0l-0.4 0.1M52.0 504.6l0.3 -0.2M33.9 508.2l-0.1 0.3M34.8 507.4l0.3 -0.0M42.3 493.3l-0.1 0.0M67.4 541.2l0.0 -0.0M66.2 511.2l-0.2 0.2M70.4 497.5l0.4 -0.4M33.8 506.2l0.4 -0.0M42.7 498.7l-0.0 0.1M57.1 535.3l-0.4 0.2M77.8 519.2l0.2 0.3M73.5 502.9l-0.0 0.3M32.1 510.2l0.5 -0.1M47.7 508.9l-0.0 0.3M29.2 510.9l-0.1 0.5M71.7 501.6l-0.2 0.5M23.7 524.3l-0.5 -0.2M59.8 523.1l0.1 -0.3M45.9 533.1l-0.2 0.0" stroke="#3e3ea6" stroke-width="1.00" stroke-opacity="0.90" stroke-linecap="round" fill="none"/>
<path d="M36.7 514.8l-0.8 0.3l0.7 0.6M54.5 499.2l-0.7 -0.0" stroke="#2b22bd" stroke-width="1.0" stroke-linecap="round" stroke-linejoin="round" fill="none"/>
<path d="M68.1 528.8l-0.5 0.2l0.2 0.2M28.2 507.8l-1.0 -0.8M25.3 528.2l-0.7 1.0l-0.7 -1.0M29.3 516.9l-0.7 0.9l-0.4 -0.2M63.1 539.5l-0.2 1.0M26.3 490.5l0.3 -0.5l-0.6 0.2" stroke="#2b22bd" stroke-width="1.5" stroke-linecap="round" stroke-linejoin="round" fill="none"/>
<path d="M41.9 497.2l0.0 1.2" stroke="#2b22bd" stroke-width="2.0" stroke-linecap="round" stroke-linejoin="round" fill="none"/>
<path d="M65.8 520.5l1.4 1.2l0.0 0.6" stroke="#2b22bd" stroke-width="2.5" stroke-linecap="round" stroke-linejoin="round" fill="none"/>
<text x="79.90" y="537.50" font-size="4.80" text-anchor="end" fill="#ff2020" style="stroke-width:0.08px;stroke:#ff2020">100 µm</text>
<line x1="69.70" y1="538.90" x2="78.30" y2="538.90" stroke="#ff5050" stroke-width="0.50" />
<rect x="82.20" y="484.50" width="57.50" height="57.30" fill="#dcdce2" />
<path d="M136.8 492.9l-0.2 0.2M93.1 491.8l0.1 -0.1M133.0 498.0l0.2 -0.1M116.7 537.5l0.1 0.2M122.7 487.7l0.2 0.0M100.3 495.7l0.2 0.0M135.7 528.6l0.2 0.0M122.2 519.5l-0.1 0.2M100.4 529.0l0.2 0.1M90.7 531.5l0.1 -0.2M85.5 514.9l-0.2 0.2M111.3 514.1l-0.0 0.1M134.5 502.3l-0.1 0.0M99.5 518.5l0.0 -0.0M120.7 514.7l-0.2 0.2M102.8 509.3l-0.0 0.2M136.5 513.8l-0.0 -0.2M133.3 494.6l0.0 -0.1M101.2 505.1l-0.2 -0.2M113.0 529.8l0.1 -0.1M121.9 487.9l-0.0 0.2M134.7 510.9l0.2 -0.0M112.3 517.9l0.2 0.1M109.4 525.9l0.1 -0.1M127.0 531.2l0.1 0.2M83.7 513.2l0.1 -0.1M92.4 524.0l-0.0 -0.1M85.1 539.4l-0.1 -0.2M94.9 499.4l0.2 -0.2M98.3 490.5l-0.0 -0.1M102.1 526.4l0.2 0.2M84.9 506.3l0.2 -0.2M94.2 512.6l-0.1 0.1M123.3 511.1l-0.1 -0.1M97.7 488.7l0.1 -0.2M133.0 521.4l-0.2 -0.0M116.8 487.4l-0.0 -0.2M126.0 485.2l0.1 0.2M130.5 498.1l0.0 -0.2M102.0 533.6l0.2 -0.2M104.2 521.0l-0.2 0.2M133.2 516.0l-0.1 0.2M111.7 495.6l-0.1 -0.2M130.1 513.7l0.1 0.2M137.7 495.7l-0.0 0.2M125.7 506.8l0.1 -0.2M91.8 487.8l-0.1 -0.1M111.9 539.6l-0.2 0.0M131.6 518.7l0.0 0.1M83.9 538.4l0.1 0.2M129.3 490.5l-0.2 -0.2M111.2 537.8l0.2 -0.0M117.9 526.7l-0.1 0.2M135.9 525.9l0.2 0.2M119.6 503.1l-0.1 -0.1M85.9 537.1l-0.1 -0.2M100.6 490.8l-0.0 -0.1M92.6 511.8l-0.0 -0.1M128.6 502.3l0.0 0.2M136.9 506.1l-0.2 0.2M111.7 497.3l-0.2 -0.1M100.2 492.8l-0.2 0.2M129.0 491.4l-0.0 0.2M111.2 488.9l-0.1 -0.1M134.4 517.8l-0.0 0.1M85.4 523.6l0.2 0.1M103.1 501.1l-0.2 -0.2M91.4 510.5l0.1 -0.1M109.4 520.8l0.1 -0.2M134.7 518.0l-0.1 -0.1M121.6 537.5l-0.1 -0.1M114.2 494.8l-0.0 0.2M114.1 531.3l-0.1 0.2M126.9 497.7l0.0 0.1M115.1 518.9l-0.1 0.0M102.7 529.9l-0.1 0.2M115.5 497.8l-0.0 -0.2M124.3 487.6l0.1 -0.1M126.6 492.1l0.1 0.1M95.9 492.3l-0.1 0.1M97.4 485.5l-0.0 0.2M91.6 538.0l0.0 -0.2M88.4 505.9l-0.0 -0.2M87.5 513.2l-0.1 -0.0M108.2 524.3l0.0 -0.1M92.9 533.3l-0.2 -0.2M86.6 531.5l0.0 0.2M118.1 503.9l-0.0 0.1M95.8 530.2l-0.0 -0.2M102.1 516.5l-0.2 0.2M135.0 513.8l0.2 0.1M113.1 493.9l0.2 0.2M108.2 506.7l-0.2 0.1M131.0 506.9l-0.1 0.1M127.5 494.6l-0.1 0.1M85.0 531.0l-0.1 0.2M108.4 494.3l-0.2 -0.2M97.4 527.7l0.1 0.1M100.1 522.4l0.1 -0.1M87.3 511.4l-0.1 -0.2M104.8 489.2l0.2 -0.1M133.5 526.5l-0.2 0.2M128.4 514.6l0.2 -0.0M84.1 493.4l-0.1 0.2M129.6 491.6l-0.1 -0.2M95.6 504.8l-0.0 -0.2M119.9 498.6l0.2 -0.0M107.0 528.1l-0.1 -0.1M89.6 501.6l-0.1 0.1M102.8 524.8l-0.1 -0.2M99.9 507.1l0.2 -0.2M94.7 493.8l-0.1 0.2M135.4 497.8l-0.2 -0.0M115.7 491.3l-0.0 0.1M82.8 525.5l0.1 0.1M110.2 511.1l0.0 -0.2M111.7 498.5l-0.1 -0.2M91.7 488.1l0.0 -0.1M114.1 513.4l-0.1 -0.2M116.4 523.1l0.1 0.0M115.5 486.4l-0.1 0.2M104.0 490.9l-0.0 0.2M88.2 491.3l-0.0 0.2M104.8 499.0l0.1 -0.2M99.4 518.7l0.2 0.2M101.1 500.0l-0.1 -0.2M98.1 528.2l0.2 -0.1M86.8 526.6l0.2 0.1M106.0 526.9l0.1 0.1M110.5 541.2l0.1 -0.1M107.0 490.0l-0.1 0.2M110.2 514.5l0.1 -0.2M102.7 512.2l-0.0 0.1M135.6 530.1l0.0 0.1M113.1 540.5l0.0 0.0M105.1 508.6l0.1 -0.1M133.8 526.0l0.2 0.1M114.9 505.7l-0.2 0.1M125.2 525.7l0.1 -0.2M121.4 500.8l-0.1 0.2M105.6 511.3l-0.2 -0.2M94.6 497.1l0.0 -0.2M87.7 489.9l0.1 0.2M125.1 514.0l-0.2 0.1M90.0 489.3l0.0 0.2M100.3 533.6l-0.1 0.2M124.4 533.7l0.2 0.2M93.8 514.0l0.0 0.1M95.7 517.5l-0.1 -0.2M108.1 530.2l0.0 -0.1M95.5 505.2l-0.1 -0.1M100.3 497.8l-0.1 0.1M118.0 520.3l0.2 0.1M90.0 507.7l0.0 0.1M112.7 490.2l-0.0 0.1M127.1 510.1l-0.1 -0.2M111.1 527.2l-0.2 0.0M116.4 516.5l-0.1 -0.2M83.9 502.2l0.2 -0.0M138.5 531.4l0.0 -0.0M114.5 532.3l-0.1 -0.2M133.5 520.5l-0.1 -0.1M88.4 516.9l0.1 -0.0M122.1 526.6l-0.1 0.1M137.6 525.3l-0.2 0.1M119.1 528.7l0.1 0.2M137.9 496.8l-0.0 -0.2M138.4 491.0l-0.0 0.1M106.9 494.7l0.0 -0.1M110.4 525.3l-0.1 -0.0M118.4 514.9l0.2 0.2M137.3 494.3l-0.0 -0.2M122.2 507.3l0.2 -0.0M127.8 486.7l0.1 -0.0M129.8 490.8l-0.2 0.1M101.1 509.5l-0.0 0.2M117.9 531.9l0.2 0.2M108.0 501.3l0.0 0.2M132.6 511.9l0.2 0.1M85.0 520.7l0.1 -0.2M104.0 521.3l0.0 0.0M87.8 499.7l0.2 -0.1M109.8 518.2l-0.1 -0.0M111.3 533.9l0.2 -0.2M111.1 527.3l0.2 0.0M118.4 521.3l0.1 0.2M138.4 540.8l-0.2 0.1M104.6 500.7l-0.2 0.2M133.2 514.8l-0.0 -0.1M135.1 527.6l-0.2 0.0M139.0 499.8l-0.1 -0.1M103.7 491.6l0.1 -0.1M121.1 511.3l0.2 0.1M131.2 493.7l0.1 0.1M99.2 485.1l-0.2 0.1M137.4 488.8l-0.1 -0.0M86.6 521.1l0.2 0.2M92.8 536.3l0.1 -0.2M130.9 537.4l0.2 0.1M128.8 515.1l-0.2 0.1M110.9 493.4l-0.2 0.2M133.8 487.9l-0.2 0.1M99.2 534.0l-0.0 0.1M85.3 528.7l-0.2 -0.0M110.2 503.3l-0.1 -0.0M85.6 493.9l-0.2 0.2M100.3 540.4l0.2 -0.2M131.1 540.6l-0.0 -0.0M120.8 512.6l-0.1 0.1M95.1 506.6l-0.2 -0.1M128.2 492.8l-0.2 -0.1M99.5 485.4l-0.2 -0.1M127.5 528.7l0.2 0.1M139.1 499.5l0.1 -0.0M137.0 509.9l0.1 0.1M137.2 528.1l-0.1 0.1M127.7 537.9l-0.1 0.1M123.5 493.9l-0.2 0.0M116.5 503.5l0.1 -0.2M115.0 515.1l0.2 0.1M87.2 516.3l-0.2 0.0M121.0 524.6l-0.2 0.0M92.6 513.5l-0.0 -0.0M125.8 501.8l-0.0 -0.1M93.9 520.6l-0.2 0.1M103.9 491.4l0.1 -0.2M99.4 521.9l-0.2 0.1M114.5 540.0l-0.1 0.2M138.1 513.1l-0.2 -0.1M128.7 485.0l0.1 0.0M124.5 505.8l0.2 -0.2M106.2 502.2l0.0 -0.1M104.6 510.3l0.2 -0.2M98.7 493.3l0.1 0.1M83.6 529.1l0.2 -0.0M116.3 529.6l0.2 -0.1M122.7 489.5l-0.1 0.2M118.2 515.0l-0.0 -0.0M84.5 516.6l0.2 -0.2M84.7 520.2l0.2 -0.0M87.4 521.3l0.1 -0.1M128.7 515.6l0.1 -0.1M103.2 522.3l0.1 0.2M136.0 525.6l-0.2 -0.0M120.3 528.9l-0.1 -0.2M115.5 495.9l0.0 -0.1M132.3 486.7l0.0 0.2M119.0 493.2l0.0 0.2M118.4 536.0l0.2 -0.1M89.7 523.9l-0.0 0.2M107.8 525.5l-0.2 0.1M131.6 530.6l0.1 0.1M92.3 503.5l-0.1 -0.1M115.7 505.4l0.1 0.2M138.8 485.2l0.1 0.0M107.1 526.4l0.2 -0.1M118.6 493.9l-0.0 -0.1M129.0 536.3l0.2 0.0M122.8 521.6l0.0 -0.2M97.9 538.8l0.0 -0.2M102.8 492.5l-0.2 -0.1M99.2 486.1l-0.0 0.2M108.8 507.5l-0.1 -0.1M101.2 495.9l-0.0 0.2M103.4 534.5l-0.0 0.1M109.9 507.1l0.2 0.0M93.5 502.3l-0.1 0.0M104.0 500.0l-0.1 0.2M124.5 533.6l0.2 -0.2M113.0 525.8l-0.0 0.0M118.4 520.6l-0.2 -0.2M98.1 487.0l-0.1 -0.2M88.6 522.0l-0.2 0.1M106.4 532.1l0.0 0.2M106.7 508.6l0.2 0.1M106.9 534.1l0.1 0.1M84.3 535.0l-0.2 -0.2M101.8 495.9l-0.1 -0.0M111.1 523.3l0.2 0.1M131.6 509.2l-0.2 0.1M138.9 494.5l0.1 -0.1M138.2 486.8l-0.0 -0.1M103.6 526.8l-0.2 -0.1M137.3 510.9l-0.2 0.1M119.8 537.3l0.2 0.2M97.7 502.9l0.1 -0.1M103.9 487.2l-0.2 -0.2M103.8 524.5l-0.2 -0.1M87.4 507.9l0.0 0.1M119.2 515.2l0.1 0.2M130.2 485.0l0.2 -0.0M138.8 527.9l-0.0 -0.2M88.2 528.7l-0.2 -0.2M122.2 519.2l0.1 -0.2M136.8 527.2l-0.2 0.0M101.1 498.1l0.1 0.2M84.5 530.3l0.2 -0.2M133.4 485.8l-0.1 -0.2M92.7 494.7l0.0 -0.0M137.4 527.5l-0.2 -0.2M98.5 530.9l0.2 0.2M131.6 526.2l0.0 0.2M129.2 531.0l0.2 0.0M87.6 520.2l0.1 0.2M124.9 535.4l0.2 -0.1M135.0 517.1l-0.0 -0.0M110.8 508.3l0.1 -0.1M107.3 521.6l0.2 0.1M114.1 506.1l0.1 0.2M83.7 506.8l-0.1 0.1M120.4 485.2l0.2 -0.0M90.5 490.6l-0.2 -0.1M87.3 524.7l-0.2 -0.0M119.8 509.9l-0.1 -0.0M108.7 517.6l0.0 -0.1M121.2 533.1l0.2 0.1M99.3 485.0l-0.0 0.2M138.6 524.9l-0.2 -0.1M91.5 509.4l0.2 -0.1M128.8 515.9l-0.1 -0.0M85.7 520.7l0.2 -0.1M137.5 501.3l-0.1 0.1M94.8 487.1l-0.0 -0.0M91.9 494.8l-0.2 -0.2M91.2 521.6l0.2 0.0M95.6 516.1l0.2 -0.1M123.9 485.3l0.1 0.2M113.4 535.4l0.0 0.1M110.4 506.6l-0.1 0.0M126.3 487.0l0.1 -0.2M119.1 525.3l0.2 0.1M119.5 523.4l0.1 0.1M121.2 532.7l-0.1 0.2M93.6 487.5l-0.2 0.0M131.1 491.9l0.2 -0.0M120.2 494.3l0.2 -0.0M96.3 520.1l-0.2 0.1M130.1 492.0l-0.1 -0.1M93.7 519.9l0.2 -0.0M122.0 536.1l0.2 -0.1M133.2 495.5l0.2 -0.2M100.8 490.8l0.0 -0.2M117.0 494.4l0.1 -0.0M100.3 492.9l0.1 -0.2M101.5 536.7l0.2 0.1M118.7 532.5l0.2 0.2M125.2 508.4l0.1 -0.1M114.5 486.4l-0.2 0.1M87.5 490.6l0.2 0.2M137.7 529.4l-0.1 0.1M111.9 489.7l-0.2 0.1M106.6 517.4l0.2 -0.2M91.6 540.0l-0.2 -0.1M114.0 500.0l-0.1 -0.2M128.4 497.7l0.1 -0.0M111.2 489.5l0.2 -0.2M131.7 486.0l-0.1 -0.0M117.2 499.9l0.2 -0.1M95.1 526.4l0.1 0.1M136.6 534.7l-0.1 0.2M133.1 488.1l0.0 0.2M105.4 503.9l-0.0 0.2M83.4 522.0l0.1 0.2M119.2 500.0l0.1 0.1M90.0 529.0l0.1 0.0M119.4 519.8l-0.2 -0.2M82.8 502.9l-0.1 0.0M88.2 492.3l0.0 0.1M110.1 488.2l0.2 0.0M134.4 527.3l0.2 0.2M125.0 533.7l0.1 0.2M134.5 494.3l-0.0 0.2M121.0 519.8l-0.0 -0.2M106.7 485.4l-0.2 -0.0M107.8 520.7l0.0 0.1M114.8 529.7l-0.2 -0.0M135.8 526.9l0.2 0.2M91.7 512.7l0.2 -0.1M111.9 495.6l-0.2 0.2M124.3 528.8l0.2 0.0" stroke="#b4b4c6" stroke-width="1.15" stroke-opacity="0.75" stroke-linecap="round" fill="none"/>
<path d="M130.2 528.8l-0.0 -0.0M94.2 509.8l0.2 -0.2M136.2 496.4l0.0 -0.1M84.7 519.9l-0.2 -0.0M129.8 510.4l-0.1 -0.2M83.7 530.6l-0.0 -0.1M125.5 514.7l-0.1 0.2M105.9 503.7l0.2 -0.0M109.1 531.9l0.1 -0.1M85.5 488.6l-0.2 0.1M103.9 514.9l-0.1 -0.2M138.4 522.4l0.1 0.1M85.5 531.3l0.2 -0.1M131.2 539.3l-0.2 0.2M85.2 527.2l0.2 -0.2M107.9 486.1l0.0 -0.2M110.5 495.6l-0.2 0.1M96.2 493.6l-0.1 -0.1M120.8 517.7l0.0 0.1M98.0 523.3l-0.2 -0.2M114.7 521.6l-0.1 0.2M89.2 530.7l0.0 0.0M106.8 488.5l-0.0 0.1M124.6 531.1l-0.1 0.0M89.4 509.4l-0.0 0.1M88.0 487.8l0.1 0.1M86.8 523.6l-0.2 0.2M118.7 496.5l-0.1 0.2M136.4 487.0l-0.0 -0.2M137.2 538.4l-0.0 0.2M97.0 532.5l-0.2 -0.1M112.6 526.8l-0.0 -0.2M84.6 493.9l-0.1 0.1M93.3 536.2l0.1 -0.1M115.1 532.6l-0.1 0.1M118.9 531.5l0.1 -0.2M131.5 497.0l0.1 -0.2M127.2 531.5l0.2 0.1M134.3 515.0l0.2 -0.1M90.4 498.1l-0.0 0.1M126.4 502.0l0.1 0.2M104.9 523.8l-0.1 -0.1M94.4 503.0l-0.2 -0.1M127.7 495.4l-0.1 0.2M102.4 498.9l-0.2 -0.2M132.2 525.9l0.2 0.2M118.0 538.3l-0.1 0.1M128.6 493.6l0.2 0.2M95.0 494.3l-0.2 -0.2M102.0 530.0l-0.1 -0.1M121.2 530.5l-0.2 0.1M121.1 502.6l-0.0 -0.2M107.5 485.1l0.1 0.0M92.5 497.0l0.0 -0.1M125.7 518.0l0.1 -0.2M94.3 538.1l0.1 -0.0M139.2 488.3l0.1 -0.2M100.1 496.7l-0.1 -0.2M92.8 523.2l-0.2 -0.0M137.7 528.9l-0.2 0.1M115.6 515.4l0.1 0.2M103.2 531.3l-0.1 0.0M132.7 529.2l-0.1 0.2M115.6 535.2l0.2 -0.0M102.6 492.4l0.2 -0.2M87.3 502.1l-0.2 -0.1M122.0 503.2l0.2 -0.1M131.7 531.5l-0.1 0.0M121.0 494.7l-0.2 0.2M83.5 495.7l-0.2 0.2M119.5 513.7l-0.0 0.2M94.5 531.6l-0.1 -0.1M121.7 508.3l0.0 0.1M85.8 506.9l-0.0 0.2M126.8 509.7l-0.1 0.1M124.3 487.5l0.2 0.2M98.8 522.8l-0.0 -0.1M86.3 515.5l0.1 -0.0M119.0 495.2l0.2 0.1M110.7 491.0l-0.2 -0.0M96.7 487.2l-0.1 0.2M112.0 523.5l-0.0 -0.1M92.0 516.8l0.1 0.0M108.9 518.2l-0.1 0.2M131.5 494.1l0.2 0.1M84.6 528.5l0.2 -0.1M93.9 512.2l-0.2 -0.2M122.4 506.3l-0.1 0.2M127.8 501.6l-0.2 -0.2M120.2 516.1l0.2 0.0M117.3 529.9l0.0 -0.0M103.0 512.8l0.1 -0.0M124.9 506.2l0.1 -0.0M114.5 528.4l-0.2 -0.2M95.0 498.0l-0.2 0.0M108.4 510.4l0.1 -0.2M134.8 529.1l-0.1 0.1M131.1 485.1l-0.1 0.1M101.6 494.6l-0.1 -0.1M123.4 513.4l-0.1 0.2M102.0 515.9l0.2 0.2M106.6 506.6l0.1 0.0M113.4 516.0l-0.2 -0.2M114.3 498.0l-0.0 -0.2M102.9 494.1l-0.0 0.2M92.3 496.8l-0.1 -0.1M87.9 489.7l0.1 0.2M83.2 527.9l0.1 0.1M125.3 490.4l-0.1 0.2M111.9 528.8l-0.1 0.2M133.2 494.4l0.1 0.2M85.5 498.3l0.2 0.1M102.9 494.5l0.2 -0.2M139.0 487.1l-0.1 -0.0M115.9 531.1l-0.0 0.2M101.0 505.0l0.2 -0.1M110.7 488.9l0.1 0.0M131.3 522.9l-0.0 -0.2M102.4 512.4l-0.1 -0.0M96.2 497.6l0.2 0.1M103.6 531.4l-0.2 0.1M98.4 501.3l0.0 0.0M99.4 499.1l-0.1 0.2M134.7 535.0l0.1 0.2M85.0 534.5l-0.1 -0.2M94.5 533.5l0.1 -0.2M100.6 537.1l0.2 0.2M133.1 537.3l0.2 -0.0M97.1 515.8l-0.2 0.0M98.4 496.8l-0.0 0.1M110.0 491.3l0.2 -0.1M115.5 532.1l0.1 -0.0M132.8 490.3l0.0 -0.2M111.1 501.8l0.2 -0.0M93.1 494.8l-0.2 -0.0M131.4 536.5l0.1 -0.2M118.6 499.2l-0.2 -0.2M126.4 488.7l0.2 -0.1M103.8 535.9l-0.2 -0.0M130.9 520.7l-0.1 -0.2M128.9 519.9l0.2 -0.2M98.7 524.4l-0.1 0.2M99.9 491.7l-0.0 -0.2M104.4 537.7l0.1 -0.0M120.3 531.5l-0.2 0.2M133.7 508.2l-0.1 0.1M113.8 491.5l0.1 0.0M116.4 486.4l0.0 -0.0M131.4 525.3l0.1 0.0M95.8 531.8l-0.1 0.2M112.6 508.1l-0.1 -0.0M111.2 493.8l-0.0 -0.2M114.4 491.5l-0.1 -0.2M111.4 486.8l-0.0 0.1M89.7 504.1l-0.1 -0.0M100.4 505.9l0.2 -0.2M134.8 536.0l0.1 0.1M124.0 508.8l-0.2 -0.2M116.8 523.2l0.1 0.2M99.3 518.8l-0.1 0.2M86.3 519.1l0.2 -0.1M137.8 508.4l0.2 -0.1M133.9 505.2l0.2 0.2M115.2 527.0l0.1 0.2M128.7 520.5l0.1 0.0M97.1 486.1l0.2 -0.2M106.6 495.5l-0.1 -0.2M113.4 492.0l0.2 0.1M90.0 496.3l0.1 0.2M105.8 486.2l-0.1 0.0M103.5 526.0l-0.2 0.2M87.5 521.4l0.0 0.2M106.9 505.4l-0.1 0.2M121.4 504.8l-0.0 -0.1M88.4 538.9l0.2 0.2M111.9 488.0l-0.2 -0.1M109.6 502.4l0.2 0.2M107.8 502.9l-0.1 -0.0M107.0 490.5l0.2 0.1M139.1 501.6l-0.0 0.1M106.3 535.1l0.1 -0.1M123.3 509.9l0.2 -0.1M96.4 502.8l-0.2 -0.2M130.8 515.6l0.1 0.1M118.7 507.2l0.2 -0.1M133.2 488.9l0.1 0.2M112.6 505.4l-0.0 -0.0M91.9 509.0l-0.1 -0.0M113.3 516.9l0.1 -0.2M87.1 505.8l-0.2 0.1M123.1 496.7l0.0 -0.1M102.2 521.5l-0.0 -0.2M85.9 517.8l0.2 0.1M112.8 514.8l0.0 0.1M113.6 508.5l-0.1 -0.1M109.6 515.0l-0.2 -0.1M135.3 508.8l0.1 0.1M137.4 516.4l-0.2 0.0M136.7 539.6l0.1 -0.1M119.3 490.1l0.1 0.1M100.6 528.8l0.2 0.2M130.4 524.1l-0.0 0.0M108.4 502.0l-0.0 -0.2M108.6 523.9l-0.1 0.2M133.2 537.7l0.0 0.2M88.8 494.1l-0.2 -0.1M83.6 505.0l0.2 0.0M88.2 515.5l0.1 0.1M91.4 499.8l-0.1 0.0M129.4 512.3l0.1 0.0M104.5 490.6l0.2 0.2M123.4 518.0l0.2 -0.1M85.9 513.7l-0.1 -0.2M99.0 539.7l0.1 -0.2M97.7 528.9l0.1 -0.1M114.7 535.3l-0.2 0.2M99.5 496.9l-0.0 -0.0M90.3 498.9l0.1 -0.1M86.9 510.3l0.0 0.2M119.7 521.7l0.2 0.1M115.2 519.5l-0.0 0.1M108.3 538.4l0.0 0.2M90.7 526.0l-0.1 0.0M103.9 486.7l0.2 0.0M100.3 518.3l0.2 -0.2M99.1 532.0l0.2 0.2M100.7 500.3l-0.2 -0.2M92.7 512.4l0.1 -0.2M95.0 530.0l0.1 -0.1M137.5 496.6l-0.2 -0.1" stroke="#8585a8" stroke-width="1.00" stroke-opacity="0.85" stroke-linecap="round" fill="none"/>
<path d="M110.1 539.3l-0.3 0.4M116.8 536.1l0.4 0.4M118.3 521.2l-0.0 -0.1M120.4 492.7l-0.3 0.5M106.7 510.4l0.1 -0.2M96.1 525.7l-0.1 0.4M112.5 504.7l-0.1 0.1M87.9 536.2l-0.3 0.2M83.7 517.9l-0.3 0.2M107.5 539.1l-0.3 0.4M125.8 509.0l0.3 -0.1M103.5 526.7l0.3 -0.1M122.7 493.1l0.4 0.4M137.4 507.5l0.2 0.2M92.1 490.3l0.2 0.5M122.1 518.0l0.4 -0.3M137.1 490.9l0.3 -0.3M125.3 507.6l0.4 0.0M126.0 493.2l0.4 -0.2M126.0 498.7l-0.4 -0.4M109.6 485.4l-0.3 -0.5M95.0 512.6l-0.3 0.2M98.0 506.8l-0.0 0.1M108.6 488.6l0.2 0.0M92.3 518.0l-0.5 0.1M99.6 522.1l-0.4 0.1M106.5 485.1l0.0 -0.4M131.1 502.0l-0.3 -0.1M118.9 514.8l0.2 0.1M138.8 520.1l-0.2 0.4M108.8 501.1l-0.5 0.2M116.6 492.5l0.4 -0.3M116.1 518.0l-0.1 -0.1M118.6 514.9l-0.2 -0.2M111.0 508.9l-0.2 0.4M120.0 541.0l-0.3 0.3M117.3 503.3l0.0 0.3M113.2 498.4l-0.2 0.3M88.2 492.2l0.2 0.1M131.2 509.8l-0.2 0.5M99.5 524.7l-0.4 -0.1M109.4 514.0l-0.5 0.3M137.1 526.3l0.3 0.4M137.6 532.7l-0.1 -0.4M103.9 488.2l0.0 0.4M132.8 497.7l0.2 -0.2M127.8 495.6l-0.4 0.1M137.2 509.7l0.0 0.3M116.1 525.8l0.1 -0.1M108.4 514.3l-0.4 -0.2M91.2 522.3l-0.0 0.1M104.7 526.3l0.3 -0.4M85.5 531.9l-0.3 0.5M101.5 500.8l-0.5 0.1M116.1 487.9l0.2 -0.5M109.5 536.4l-0.5 0.4M125.9 502.7l0.1 -0.3M121.7 540.0l-0.2 -0.5M83.8 505.6l0.2 0.5M133.9 531.4l0.1 0.2M118.4 492.4l0.3 -0.1M91.6 539.6l0.3 -0.4M112.5 486.9l0.3 -0.2M108.0 523.9l0.2 -0.5M116.6 505.9l-0.2 0.4M121.5 526.3l-0.2 -0.1M111.9 513.6l-0.0 0.4M93.8 491.9l0.0 0.1M130.3 501.3l0.5 -0.3M107.8 503.1l-0.3 -0.3M104.3 497.1l-0.3 0.2M99.7 536.3l-0.2 -0.5M92.5 533.4l0.1 0.4M107.0 504.1l-0.1 -0.0M124.9 539.0l0.2 0.3M101.3 511.1l-0.5 0.4M133.9 525.3l-0.2 -0.2M115.6 504.3l-0.0 -0.3M128.7 536.9l0.2 0.4M135.3 513.0l-0.5 0.2M107.5 505.0l-0.2 0.1M131.4 503.0l0.1 -0.1M129.7 513.7l0.5 -0.4M136.8 503.4l0.3 -0.1M98.8 534.8l0.1 -0.3M117.5 514.4l0.5 0.0M116.8 523.0l-0.5 -0.0M136.2 514.7l-0.2 -0.3M101.1 511.4l-0.2 0.0M91.9 490.2l-0.4 -0.1M92.6 500.5l-0.3 -0.1M121.3 485.9l-0.2 0.4M85.2 538.6l-0.4 -0.2M135.4 528.4l-0.2 -0.1M102.0 517.5l-0.5 0.3M107.5 533.3l-0.4 -0.3M129.4 523.0l-0.1 0.2M85.6 499.0l-0.3 0.5M133.7 536.3l0.1 0.5M99.4 502.1l0.4 0.3M127.3 524.4l0.2 -0.5M100.0 505.0l0.4 -0.2M117.9 522.8l-0.1 -0.1M100.5 509.1l0.0 -0.3M129.2 499.3l-0.1 -0.5M99.7 522.7l0.1 0.3M119.7 503.5l0.5 0.3M124.2 536.0l0.3 -0.0M138.2 511.2l-0.1 -0.3M93.4 512.6l0.2 -0.1M124.9 497.5l-0.5 0.5M93.0 517.1l-0.1 -0.2M88.0 521.3l0.0 -0.2M118.9 536.2l-0.2 0.2M124.8 491.2l0.2 0.2M128.0 486.8l0.4 0.1M109.2 514.3l0.3 -0.3M90.1 487.6l-0.1 -0.5M118.8 498.1l0.1 -0.2M95.8 504.5l-0.4 -0.0M92.6 513.3l-0.3 -0.3M115.7 529.4l0.1 -0.4M109.6 526.2l0.2 0.4M124.3 537.5l-0.3 -0.0M112.3 486.1l-0.5 -0.3M100.0 530.1l-0.3 0.1M109.9 532.4l-0.4 -0.3M90.2 500.9l-0.2 -0.2M104.3 491.7l-0.5 -0.3M127.8 519.3l0.2 0.3M120.3 492.3l0.0 -0.0M127.2 531.2l0.2 0.0M111.8 502.6l-0.0 -0.5M113.4 503.2l0.4 0.4M88.4 519.1l-0.2 0.2M135.0 537.8l-0.2 -0.2M113.3 526.6l-0.4 -0.1M113.7 529.5l0.3 0.1M118.5 509.6l0.2 -0.1M104.6 524.0l0.3 0.4M117.7 519.8l-0.4 0.4M85.6 530.1l-0.5 0.1M104.6 529.9l-0.5 0.0M116.9 504.3l-0.2 0.4M133.0 526.0l0.2 -0.0M120.5 531.1l-0.4 -0.5M135.7 512.2l-0.2 -0.3M93.6 512.4l-0.5 -0.3M137.1 534.3l0.4 -0.2M99.8 534.0l0.3 -0.2M129.2 494.2l0.5 0.2M103.1 532.7l0.2 0.3M122.2 487.6l0.4 0.5M88.9 537.8l0.5 0.4M129.2 526.5l-0.4 0.4M109.0 530.0l-0.2 0.4M83.1 513.2l0.4 0.1M113.8 532.7l0.3 -0.1M117.3 525.6l0.3 -0.4M107.0 538.7l-0.5 0.1M116.9 511.5l-0.3 -0.1M110.2 540.6l0.2 -0.4M114.4 515.0l0.4 0.5M130.9 534.3l0.2 0.3M133.9 531.2l-0.2 0.1M85.4 512.4l-0.0 0.3M103.2 494.0l-0.3 0.4M124.5 520.2l-0.4 0.2M100.9 526.4l0.3 0.3M110.1 486.1l0.4 -0.3" stroke="#3e3ea6" stroke-width="1.00" stroke-opacity="0.90" stroke-linecap="round" fill="none"/>
<path d="M126.1 511.2l0.1 -0.1l0.1 0.7M101.0 530.1l-0.8 0.8l0.1 0.5" stroke="#2b22bd" stroke-width="1.0" stroke-linecap="round" stroke-linejoin="round" fill="none"/>
<path d="M120.4 500.0l-0.7 -0.9M85.5 501.7l0.8 1.0l-0.5 -0.4M101.3 527.9l-0.8 -0.9M84.8 524.5l-0.3 0.6l0.5 -0.8M120.4 538.7l-0.2 0.1l0.1 0.8" stroke="#2b22bd" stroke-width="1.5" stroke-linecap="round" stroke-linejoin="round" fill="none"/>
<path d="M89.9 499.4l-0.1 -1.0l-0.1 0.4" stroke="#2b22bd" stroke-width="2.0" stroke-linecap="round" stroke-linejoin="round" fill="none"/>
<text x="139.10" y="537.50" font-size="4.80" text-anchor="end" fill="#ff2020" style="stroke-width:0.08px;stroke:#ff2020">100 µm</text>
<line x1="128.90" y1="538.90" x2="137.50" y2="538.90" stroke="#ff5050" stroke-width="0.50" />
<rect x="141.80" y="484.50" width="57.20" height="57.30" fill="#e1e1e2" />
<path d="M194.3 538.4l0.2 -0.2M175.6 508.9l0.0 -0.2M153.1 510.0l-0.1 -0.0M143.7 489.8l0.1 -0.0M171.1 526.3l-0.1 -0.2M186.3 518.2l0.1 0.1M196.9 505.4l0.1 -0.1M174.4 522.2l-0.1 -0.2M168.9 525.4l0.0 -0.0M178.4 495.2l-0.2 -0.1M188.2 496.0l-0.2 -0.2M144.5 500.5l0.0 0.2M160.9 505.8l-0.1 -0.1M186.0 515.9l-0.1 -0.2M186.4 524.8l0.2 -0.1M173.0 536.7l0.0 0.2M151.7 539.9l-0.2 -0.0M143.6 530.6l0.1 0.2M187.5 538.4l0.0 0.2M184.4 504.5l0.2 -0.1M153.2 489.3l-0.0 -0.2M194.8 538.5l-0.1 -0.2M172.0 494.6l0.0 0.2M156.5 508.7l0.2 -0.0M161.6 535.2l0.2 0.2M181.0 508.2l0.1 0.2M178.2 498.4l-0.1 -0.0M185.7 516.4l0.0 0.2M148.4 520.5l-0.1 0.0M189.2 499.0l0.2 -0.2M173.9 515.5l-0.1 0.0M168.8 510.3l0.1 -0.2M163.5 529.2l-0.2 0.2M153.7 523.3l-0.2 -0.0M166.0 489.6l0.1 -0.0M181.0 515.4l0.0 0.0M159.0 535.6l-0.2 0.2M190.8 513.0l0.1 0.1M176.3 501.4l-0.1 -0.1M159.3 539.0l-0.1 -0.1M165.9 531.0l-0.0 0.0M156.7 500.7l-0.2 -0.1M157.1 533.0l0.0 -0.2M168.3 491.8l0.0 -0.0M190.5 499.6l0.2 -0.1M197.5 520.7l-0.2 0.2M157.8 505.4l-0.2 0.2M147.4 526.6l-0.1 0.1M158.8 489.4l0.2 0.1M151.8 540.0l0.2 -0.2M143.4 519.4l-0.2 0.1M168.7 524.9l0.0 0.1M188.5 518.9l0.0 -0.1M149.8 490.2l0.2 -0.1M166.3 502.8l0.1 0.0M190.6 509.5l-0.1 0.1M184.2 537.1l-0.1 0.2M197.5 540.3l-0.2 -0.1M185.8 531.8l-0.2 -0.1M183.0 527.7l0.0 -0.1M165.2 488.3l-0.1 -0.0M188.5 518.2l-0.0 -0.1M160.0 522.8l-0.0 -0.2M188.5 517.4l0.2 0.0M177.3 509.1l0.1 0.2M197.4 522.2l-0.0 -0.2M189.5 507.0l-0.1 -0.2M144.2 507.0l0.2 0.1M182.1 522.6l-0.1 -0.2M176.2 488.6l0.0 0.0M172.8 491.8l-0.2 -0.0M150.5 521.1l-0.1 0.1M184.5 519.1l0.0 -0.2M161.8 540.1l-0.1 -0.1M170.0 515.7l0.1 -0.1M196.4 486.3l0.1 0.0M192.9 493.6l0.1 0.2M179.8 491.3l0.2 0.2M148.5 531.6l-0.2 -0.2M187.0 525.5l0.2 0.1M171.1 500.3l0.0 0.2M178.6 534.3l-0.2 0.1M183.4 489.0l0.2 -0.2M154.5 488.4l0.1 -0.2M197.1 485.0l0.2 0.1M174.3 517.2l0.1 0.1M150.1 529.9l-0.1 0.0M171.1 535.9l-0.0 0.2M146.9 503.4l0.1 0.1M189.1 496.7l0.2 0.1M150.3 492.9l0.0 0.2M176.8 509.1l0.0 0.2M171.7 515.2l0.0 0.2M187.3 532.2l-0.1 0.1M188.6 525.4l0.2 0.2M149.5 513.6l-0.1 -0.1M170.4 540.4l0.1 -0.2M156.2 505.8l0.2 -0.0M151.3 516.0l-0.1 -0.2M175.6 540.8l0.1 0.1M150.9 516.6l0.1 0.1M167.4 488.0l0.2 -0.1M183.8 511.1l0.1 -0.1M147.5 509.1l-0.0 0.1M165.0 522.5l-0.1 0.1M152.1 534.5l0.2 -0.2M190.5 528.8l0.1 -0.2M183.5 528.4l0.1 0.2M195.5 520.7l0.2 -0.2M159.1 514.8l0.0 0.2M178.0 520.0l0.1 0.2M164.8 526.6l0.1 -0.0M161.4 493.7l-0.2 -0.1M159.2 489.6l-0.0 -0.1M194.3 528.9l0.1 0.2M157.7 491.5l0.1 -0.1M197.7 508.9l0.2 -0.1M147.6 520.3l0.1 -0.1M194.4 539.8l0.1 0.2M197.6 493.3l0.1 0.1M183.4 504.1l0.0 0.0M190.1 487.9l-0.1 -0.1M186.8 491.6l-0.2 -0.2M148.8 509.5l0.2 -0.1M148.0 522.7l-0.1 0.0M184.3 510.7l0.1 0.1M190.2 527.9l0.2 0.1M158.2 513.4l0.1 0.1M183.3 532.5l0.2 0.0M178.3 487.5l-0.0 0.1M193.6 532.8l-0.0 -0.1M192.1 522.0l-0.2 -0.2M191.6 517.5l-0.2 0.2M175.3 527.7l0.2 -0.1M171.7 494.7l0.1 -0.0M186.7 491.5l-0.1 -0.1M142.4 507.9l0.2 0.2M152.4 531.8l-0.1 -0.1M178.1 501.6l-0.1 -0.2M152.2 495.8l0.2 -0.2M172.7 496.9l0.1 -0.2M163.2 526.5l-0.2 -0.0M160.6 512.3l0.1 -0.2M191.0 500.2l0.1 -0.2M147.6 495.9l-0.2 -0.1M150.1 489.9l0.2 0.0M170.2 513.6l0.2 -0.2M144.8 522.5l-0.2 0.0M177.4 532.8l-0.2 -0.0M159.9 517.7l-0.2 0.1M196.1 515.9l0.1 0.2M189.7 531.1l-0.0 -0.2M186.9 532.5l0.1 -0.1M197.1 520.1l-0.1 0.1M154.9 498.6l0.2 -0.2M191.2 507.3l0.0 0.1M193.0 497.4l-0.2 0.0M154.9 508.9l-0.2 -0.2M174.2 487.9l-0.1 -0.1M147.6 530.4l0.2 -0.2M187.6 494.9l0.1 -0.2M184.2 537.5l-0.1 -0.2M161.4 533.4l0.1 -0.2M193.0 526.6l0.2 0.2M151.2 526.0l-0.2 -0.2M172.4 498.1l-0.1 -0.1M168.1 536.7l0.0 0.0M182.7 495.6l0.2 0.1M188.1 510.3l0.0 -0.2M168.1 521.2l0.2 0.2M161.4 527.6l0.2 0.2M180.5 503.6l0.2 -0.2M174.2 510.8l0.2 0.1M153.6 494.3l-0.2 0.1M186.3 506.0l-0.1 0.0M153.3 514.7l-0.1 -0.1M181.1 499.0l-0.1 0.0M195.2 493.5l-0.1 -0.1M160.0 512.5l0.2 -0.2M182.7 509.3l0.0 0.0M176.2 495.1l0.1 -0.0M186.4 518.5l-0.0 0.2M152.4 485.8l-0.2 0.1M147.5 526.4l-0.2 -0.1M177.3 486.2l-0.0 0.2M183.2 506.9l0.2 0.0M187.9 504.4l-0.1 0.1M185.1 524.0l-0.2 -0.0M160.2 498.0l-0.2 0.1M150.3 504.9l-0.2 0.1M177.4 489.4l0.2 0.2M184.5 530.4l0.1 -0.2M157.6 498.3l-0.2 0.1M175.5 505.4l0.1 -0.1M158.1 491.5l-0.1 0.2M169.8 526.5l0.2 0.1M162.6 539.5l-0.2 -0.0M192.0 523.4l-0.1 0.2M184.9 525.7l-0.1 0.1M179.2 532.3l0.0 0.2M182.8 496.8l0.0 -0.2M177.0 503.3l0.2 -0.1M186.7 532.1l-0.1 0.0M155.4 506.1l-0.0 0.1M170.9 494.1l0.1 0.0M171.8 510.1l0.2 0.1M179.5 513.2l-0.0 -0.0M180.5 509.7l-0.2 -0.1M145.3 487.8l-0.1 -0.1M168.0 496.3l-0.1 -0.0M158.6 499.7l-0.0 0.1M145.7 485.8l-0.0 0.2M177.8 505.5l0.2 0.1M188.7 532.4l-0.2 -0.2M186.7 507.0l0.2 -0.2M195.0 519.9l-0.0 0.2M172.4 510.9l-0.2 0.1M150.5 501.9l-0.2 -0.2M159.0 487.5l-0.0 -0.1M143.3 511.1l-0.1 -0.1M172.7 503.7l-0.2 0.2M196.9 498.3l0.1 0.0M156.3 515.3l-0.1 -0.1M167.8 487.5l-0.1 0.2M185.6 503.7l0.2 -0.1M190.1 503.2l0.2 -0.0M191.3 492.7l-0.1 -0.1M186.2 533.7l-0.2 -0.0M152.0 488.7l-0.2 -0.2M159.3 509.3l0.2 0.1M185.1 503.6l-0.1 -0.0M155.4 486.1l-0.1 0.2M145.2 513.4l-0.1 0.1M144.4 513.7l0.1 -0.0M150.4 535.0l-0.2 0.2M188.3 534.8l0.2 -0.1M177.5 511.5l0.0 -0.1M190.3 502.3l0.0 -0.2M145.6 534.8l-0.1 -0.1M197.7 525.7l-0.2 0.0M169.4 519.0l-0.1 -0.1M195.4 518.6l0.0 0.1M184.6 495.1l0.1 -0.0M150.8 502.8l0.2 0.2M193.1 513.2l0.1 -0.1M183.6 515.2l-0.1 0.2M170.5 487.3l0.2 -0.2M158.0 510.5l-0.1 -0.0M167.0 514.8l0.1 0.1M145.1 498.4l-0.2 -0.1M168.0 533.0l-0.2 0.2M151.1 526.7l0.2 0.2M174.7 488.1l-0.1 -0.0M180.2 539.5l0.2 -0.2M149.5 521.7l-0.1 0.0M170.9 515.7l-0.1 0.2M158.8 505.3l-0.2 -0.1M149.8 521.0l-0.2 -0.1M187.7 533.0l-0.1 0.1M187.8 521.6l0.1 0.1M160.3 503.6l-0.1 -0.1M171.1 515.4l-0.2 -0.2M143.7 497.0l-0.2 0.1M187.9 515.1l0.1 -0.0M146.5 527.1l0.1 -0.2M159.7 523.4l0.1 -0.2M164.1 506.7l0.0 0.2M150.5 506.2l0.2 -0.2M152.2 529.3l0.1 -0.0M168.1 488.5l0.1 -0.1M167.1 537.3l-0.0 -0.1M162.1 501.0l0.1 0.1M148.8 485.2l-0.1 -0.2M175.9 494.1l0.0 -0.0M197.0 503.0l-0.1 -0.1M179.3 498.5l-0.1 0.1M172.1 489.0l0.2 -0.2M159.0 515.7l-0.0 0.1M150.6 521.9l-0.2 -0.2M181.6 528.7l-0.2 -0.2M153.6 517.4l-0.2 0.2M143.3 526.8l0.2 -0.1M188.1 494.9l0.1 0.0M190.1 529.7l0.1 0.2M156.6 486.8l-0.2 0.1M171.4 512.8l-0.0 -0.2M194.3 517.0l0.0 -0.0M192.0 511.6l0.0 0.1M150.6 531.5l0.1 -0.1M150.6 514.0l-0.1 -0.2M188.6 527.1l0.2 0.1M165.1 536.5l-0.1 -0.1M168.6 523.2l-0.2 -0.2M194.6 485.8l0.1 -0.0M196.2 533.4l-0.0 0.0M181.5 499.7l-0.2 0.2M172.9 530.0l0.0 -0.2M148.1 498.2l0.2 0.2M158.7 510.1l0.2 0.0M160.1 514.8l-0.2 0.0M146.3 514.3l-0.2 -0.2M184.7 513.4l-0.2 -0.1M192.2 505.3l-0.1 -0.0M192.6 519.7l-0.0 0.1M162.1 537.6l-0.1 -0.1M169.7 530.1l0.1 0.1M142.4 530.0l0.2 -0.2M153.3 497.3l-0.2 -0.2M170.5 524.1l-0.0 0.0M180.9 531.4l0.2 0.1M170.2 488.2l-0.1 -0.2M196.2 526.0l-0.2 -0.1M166.0 520.4l0.2 -0.1M181.6 508.2l0.2 0.0M185.4 517.8l0.1 0.1M164.2 510.1l0.1 0.1M175.6 505.2l-0.0 0.0M163.7 503.1l-0.2 -0.2M151.0 489.9l-0.1 0.2M164.8 536.4l0.1 0.2M178.9 538.9l0.2 -0.2M142.4 539.1l-0.1 0.1M195.9 540.5l0.0 -0.1M175.5 524.2l-0.2 0.2M142.5 506.8l0.2 0.2M190.7 533.7l-0.0 -0.0M169.2 514.1l-0.1 -0.1M169.2 486.1l0.0 -0.2M173.7 488.3l-0.2 -0.0M185.0 540.6l0.1 0.2M166.8 514.2l0.0 0.2M190.0 485.7l0.1 0.1M192.4 537.4l-0.1 -0.0M155.5 495.8l0.2 0.1M189.0 503.2l0.1 -0.2M170.3 502.6l-0.1 0.2M142.5 538.8l0.1 0.2M165.1 535.7l0.0 0.0M177.6 499.7l0.1 -0.2M144.1 525.6l-0.2 0.2" stroke="#b4b4c6" stroke-width="1.15" stroke-opacity="0.75" stroke-linecap="round" fill="none"/>
<path d="M155.0 536.3l-0.1 0.1M161.3 524.1l-0.2 -0.1M157.3 540.3l0.2 -0.1M196.1 537.6l-0.2 0.1M154.2 504.4l-0.1 -0.1M175.3 497.2l-0.1 -0.2M157.3 528.6l-0.1 0.2M148.5 486.6l-0.1 0.0M159.7 507.5l0.1 0.1M155.9 534.5l-0.1 0.0M162.5 527.6l0.0 -0.0M152.0 489.3l-0.1 0.2M194.3 507.8l-0.2 -0.2M194.9 492.2l-0.0 -0.2M170.2 504.4l0.2 0.2M170.6 532.0l0.1 -0.0M185.6 486.9l-0.2 0.2M171.4 523.5l0.1 0.2M156.4 495.0l-0.1 0.2M170.6 528.0l0.1 -0.1M183.7 529.3l0.0 0.0M168.8 510.6l-0.1 0.0M190.4 499.3l-0.0 -0.1M159.0 537.2l0.1 -0.2M171.3 504.7l-0.1 -0.2M176.2 505.2l0.1 -0.2M171.4 510.0l0.1 -0.2M186.6 514.6l-0.1 -0.2M188.0 485.7l0.0 -0.1M161.6 539.4l-0.2 -0.2M142.9 505.6l-0.2 -0.2M180.7 538.2l-0.2 0.1M196.4 495.0l-0.2 0.0M145.2 517.7l0.2 0.2M148.7 516.3l0.0 -0.0M152.6 519.1l-0.2 0.1M147.3 485.1l0.2 -0.1M165.3 513.9l-0.0 -0.2M188.3 540.1l-0.1 -0.1M157.9 522.2l0.0 0.0M176.7 499.6l0.0 0.0M177.5 521.0l0.2 -0.2M171.0 518.4l-0.2 -0.1M156.1 515.6l0.1 -0.1M168.3 496.6l-0.0 0.2M192.2 505.4l-0.1 -0.2M191.9 537.1l-0.2 -0.0M164.8 498.5l0.1 0.2M163.0 540.3l0.1 -0.1M180.7 492.5l-0.0 0.0M152.7 491.0l-0.1 0.2M153.7 511.6l0.1 -0.2M163.3 533.8l0.1 0.0M177.5 485.4l-0.1 -0.1M145.5 510.4l0.1 0.1M176.5 513.8l0.2 -0.1M159.0 498.4l-0.1 0.2M168.0 536.3l-0.0 -0.1M176.9 486.9l-0.0 -0.1M169.5 507.9l0.1 0.1M142.4 514.5l-0.0 -0.1M152.7 530.5l-0.2 -0.1M160.7 536.4l-0.0 -0.2M154.3 502.3l0.2 -0.2M155.9 525.7l-0.2 0.0M189.5 510.9l0.1 0.0M191.9 539.6l0.0 0.1M181.9 531.6l-0.0 0.1M165.6 533.3l0.2 -0.1M172.8 540.6l0.1 -0.1M169.3 489.5l-0.1 0.2M152.3 519.7l0.1 0.2M166.3 488.2l-0.0 0.1M185.1 533.2l-0.2 -0.0M183.3 500.4l0.2 0.2M160.8 519.3l-0.2 0.1M195.8 528.7l-0.1 0.2M142.5 516.7l-0.2 -0.0M157.5 492.0l0.2 0.2M172.4 494.2l0.0 -0.1M173.1 522.9l0.2 -0.1M157.3 495.5l0.2 0.2M162.0 509.3l0.2 0.0M175.3 508.0l0.0 -0.2M152.1 532.3l0.2 0.0M179.3 509.5l-0.1 0.0M186.2 536.1l-0.1 -0.0M167.1 527.1l0.2 0.2M179.9 519.0l-0.2 -0.2M143.5 519.9l0.0 -0.2M192.0 523.9l0.1 -0.1M159.3 516.2l-0.1 0.0M179.0 518.8l-0.1 0.2M156.6 516.5l-0.1 -0.2M162.1 521.8l0.2 -0.1M151.2 520.7l-0.2 0.0M148.8 524.3l0.1 0.1M161.6 529.4l0.0 -0.1M182.1 497.2l0.2 0.2M142.9 523.8l-0.0 -0.2M168.9 518.6l-0.2 -0.2M185.4 499.6l0.2 -0.1M179.4 505.9l-0.2 0.1M158.6 516.4l0.1 0.0M152.9 494.2l0.2 0.2M161.2 519.8l0.2 -0.2M170.7 529.3l0.1 0.0M186.8 505.9l-0.1 -0.1M160.0 509.9l-0.2 0.2M178.6 524.6l0.1 0.1M167.4 499.7l-0.1 -0.2M196.6 523.2l0.1 0.1M166.6 514.4l-0.2 0.1M166.3 489.9l0.2 0.0M143.2 498.7l-0.1 -0.0M142.3 507.9l0.1 0.1M161.4 525.7l-0.2 -0.2M143.5 494.6l0.2 -0.1M193.3 526.1l0.2 0.2M178.8 523.0l0.2 0.1M166.3 523.5l-0.2 0.1M145.8 538.2l0.1 0.2M178.2 507.7l0.0 -0.0M147.6 532.0l-0.2 -0.1M160.8 524.1l-0.0 -0.1M175.2 502.6l-0.2 0.1M167.8 523.8l-0.2 0.2M152.5 515.9l-0.2 -0.1M186.1 514.2l0.2 -0.2M191.5 536.1l-0.1 0.2" stroke="#8585a8" stroke-width="1.00" stroke-opacity="0.85" stroke-linecap="round" fill="none"/>
<path d="M157.8 524.8l-0.2 0.0M177.7 532.9l-0.2 -0.4M158.0 526.7l-0.2 -0.0M179.1 508.0l0.4 -0.1M169.5 534.2l-0.4 -0.1M180.0 522.1l-0.1 -0.1M193.3 535.6l-0.2 -0.1M142.8 491.0l-0.2 -0.1M181.7 492.9l-0.0 0.3M149.1 497.2l-0.1 0.1M195.2 496.6l-0.0 0.1M188.5 536.8l0.4 -0.3M161.1 487.6l-0.5 -0.1M166.8 519.5l0.4 -0.4M196.6 524.9l-0.4 0.2M149.1 489.1l0.2 -0.4M179.6 509.0l0.2 -0.2M176.7 490.4l0.4 0.3M162.7 521.5l-0.4 0.1M155.7 539.1l-0.4 -0.5M192.4 523.6l0.1 -0.4M167.1 526.1l-0.4 0.3M175.5 492.0l0.0 -0.1M187.1 516.8l0.3 0.3M170.3 496.2l0.5 -0.2M177.7 532.1l-0.3 -0.4M186.6 526.2l-0.3 -0.2M177.1 516.8l0.4 -0.0M152.9 528.0l-0.1 -0.2M150.2 499.1l-0.4 -0.3" stroke="#3e3ea6" stroke-width="1.00" stroke-opacity="0.90" stroke-linecap="round" fill="none"/>
<path d="M153.1 523.9l-0.1 -0.8M170.3 529.6l0.6 0.3l0.5 0.3" stroke="#2b22bd" stroke-width="1.5" stroke-linecap="round" stroke-linejoin="round" fill="none"/>
<text x="198.40" y="537.50" font-size="4.80" text-anchor="end" fill="#ff2020" style="stroke-width:0.08px;stroke:#ff2020">100 µm</text>
<line x1="188.20" y1="538.90" x2="196.80" y2="538.90" stroke="#ff5050" stroke-width="0.50" />
<text x="204.60" y="286.30" font-size="10.00">G</text>
<line x1="236.70" y1="295.75" x2="236.70" y2="373.20" stroke="#000" stroke-width="1.20" />
<line x1="236.70" y1="372.60" x2="311.00" y2="372.60" stroke="#000" stroke-width="1.20" />
<line x1="234.10" y1="372.60" x2="236.70" y2="372.60" stroke="#000" stroke-width="1.10" />
<text x="233.60" y="374.90" font-size="6.30" text-anchor="end" fill="#222" style="stroke:#222">0</text>
<line x1="234.10" y1="357.23" x2="236.70" y2="357.23" stroke="#000" stroke-width="1.10" />
<text x="233.60" y="359.53" font-size="6.30" text-anchor="end" fill="#222" style="stroke:#222">20</text>
<line x1="234.10" y1="341.86" x2="236.70" y2="341.86" stroke="#000" stroke-width="1.10" />
<text x="233.60" y="344.16" font-size="6.30" text-anchor="end" fill="#222" style="stroke:#222">40</text>
<line x1="234.10" y1="326.49" x2="236.70" y2="326.49" stroke="#000" stroke-width="1.10" />
<text x="233.60" y="328.79" font-size="6.30" text-anchor="end" fill="#222" style="stroke:#222">60</text>
<line x1="234.10" y1="311.12" x2="236.70" y2="311.12" stroke="#000" stroke-width="1.10" />
<text x="233.60" y="313.42" font-size="6.30" text-anchor="end" fill="#222" style="stroke:#222">80</text>
<line x1="234.10" y1="295.75" x2="236.70" y2="295.75" stroke="#000" stroke-width="1.10" />
<text x="233.60" y="298.05" font-size="6.30" text-anchor="end" fill="#222" style="stroke:#222">100</text>
<line x1="244.00" y1="348.01" x2="244.00" y2="343.40" stroke="#707070" stroke-width="0.80" />
<line x1="242.20" y1="343.40" x2="245.80" y2="343.40" stroke="#707070" stroke-width="0.80" />
<rect x="240.10" y="348.01" width="7.80" height="24.59" fill="#000" />
<line x1="255.10" y1="347.24" x2="255.10" y2="342.63" stroke="#707070" stroke-width="0.80" />
<line x1="253.30" y1="342.63" x2="256.90" y2="342.63" stroke="#707070" stroke-width="0.80" />
<rect x="251.20" y="347.24" width="7.80" height="25.36" fill="#000" />
<line x1="266.30" y1="310.35" x2="266.30" y2="303.44" stroke="#707070" stroke-width="0.80" />
<line x1="264.50" y1="303.44" x2="268.10" y2="303.44" stroke="#707070" stroke-width="0.80" />
<rect x="262.40" y="310.35" width="7.80" height="62.25" fill="#000" />
<line x1="284.20" y1="359.54" x2="284.20" y2="355.31" stroke="#6e6e6e" stroke-width="0.80" />
<line x1="282.40" y1="355.31" x2="286.00" y2="355.31" stroke="#6e6e6e" stroke-width="0.80" />
<rect x="280.30" y="359.54" width="7.80" height="12.61" fill="#a5a5a5" />
<line x1="295.30" y1="357.23" x2="295.30" y2="353.77" stroke="#6e6e6e" stroke-width="0.80" />
<line x1="293.50" y1="353.77" x2="297.10" y2="353.77" stroke="#6e6e6e" stroke-width="0.80" />
<rect x="291.40" y="357.23" width="7.80" height="14.92" fill="#a5a5a5" />
<line x1="306.40" y1="348.01" x2="306.40" y2="344.55" stroke="#6e6e6e" stroke-width="0.80" />
<line x1="304.60" y1="344.55" x2="308.20" y2="344.55" stroke="#6e6e6e" stroke-width="0.80" />
<rect x="302.50" y="348.01" width="7.80" height="24.14" fill="#a5a5a5" />
<text x="0" y="0" font-size="6.4" text-anchor="end" transform="translate(246.30 377.20) rotate(-45)">PBS</text>
<text x="0" y="0" font-size="6.4" text-anchor="end" transform="translate(257.40 377.20) rotate(-45)">CXCL8+MK2206</text>
<text x="0" y="0" font-size="6.4" text-anchor="end" transform="translate(268.60 377.20) rotate(-45)">CXCL8</text>
<text x="0" y="0" font-size="6.4" text-anchor="end" transform="translate(286.50 377.20) rotate(-45)">PBS</text>
<text x="0" y="0" font-size="6.4" text-anchor="end" transform="translate(297.60 377.20) rotate(-45)">CXCL8+MK2206</text>
<text x="0" y="0" font-size="6.4" text-anchor="end" transform="translate(308.70 377.20) rotate(-45)">CXCL8</text>
<text x="0" y="0" font-size="6.3" text-anchor="middle" transform="translate(220.00 331.80) rotate(-90)">Cells/Field</text>
<path d="M244.0 343.1 L244.0 339.2 L255.1 339.2 L255.1 342.3" stroke="#000" stroke-width="1.00" fill="none" />
<path d="M249.5 339.2 L249.5 298.6 L266.3 298.6 L266.3 303.2" stroke="#000" stroke-width="1.00" fill="none" />
<path d="M284.2 355.0 L284.2 349.0 L295.3 349.0 L295.3 353.5" stroke="#000" stroke-width="1.00" fill="none" />
<path d="M289.8 349.0 L289.8 340.2 L306.4 340.2 L306.4 343.6" stroke="#000" stroke-width="1.00" fill="none" />
<text x="257.20" y="297.50" font-size="4.50" text-anchor="middle" fill="#222" style="stroke-width:0.08px"><tspan font-style="italic">P</tspan> &lt; 0.0001</text>
<text x="296.80" y="338.40" font-size="4.50" text-anchor="middle" fill="#222" style="stroke-width:0.08px"><tspan font-style="italic">P</tspan> &lt; 0.0001</text>
<rect x="330.90" y="297.50" width="9.20" height="4.20" fill="#000" rx="0.8"/>
<rect x="330.90" y="307.90" width="9.20" height="4.20" fill="#a3a3a3" rx="0.8"/>
<text x="344.20" y="302.10" font-size="6.90">SW480</text>
<text x="344.20" y="312.50" font-size="6.90">SW620</text>
<text x="205.60" y="420.00" font-size="10.00">I</text>
<line x1="235.60" y1="432.56" x2="235.60" y2="508.80" stroke="#000" stroke-width="1.20" />
<line x1="235.60" y1="508.20" x2="310.60" y2="508.20" stroke="#000" stroke-width="1.20" />
<line x1="233.00" y1="508.20" x2="235.60" y2="508.20" stroke="#000" stroke-width="1.10" />
<text x="232.50" y="510.50" font-size="6.30" text-anchor="end" fill="#222" style="stroke:#222">0</text>
<line x1="233.00" y1="489.29" x2="235.60" y2="489.29" stroke="#000" stroke-width="1.10" />
<text x="232.50" y="491.59" font-size="6.30" text-anchor="end" fill="#222" style="stroke:#222">20</text>
<line x1="233.00" y1="470.38" x2="235.60" y2="470.38" stroke="#000" stroke-width="1.10" />
<text x="232.50" y="472.68" font-size="6.30" text-anchor="end" fill="#222" style="stroke:#222">40</text>
<line x1="233.00" y1="451.47" x2="235.60" y2="451.47" stroke="#000" stroke-width="1.10" />
<text x="232.50" y="453.77" font-size="6.30" text-anchor="end" fill="#222" style="stroke:#222">60</text>
<line x1="233.00" y1="432.56" x2="235.60" y2="432.56" stroke="#000" stroke-width="1.10" />
<text x="232.50" y="434.86" font-size="6.30" text-anchor="end" fill="#222" style="stroke:#222">80</text>
<line x1="243.90" y1="458.09" x2="243.90" y2="451.47" stroke="#707070" stroke-width="0.80" />
<line x1="242.10" y1="451.47" x2="245.70" y2="451.47" stroke="#707070" stroke-width="0.80" />
<rect x="240.00" y="458.09" width="7.80" height="50.11" fill="#000" />
<line x1="255.10" y1="454.31" x2="255.10" y2="451.00" stroke="#707070" stroke-width="0.80" />
<line x1="253.30" y1="451.00" x2="256.90" y2="451.00" stroke="#707070" stroke-width="0.80" />
<rect x="251.20" y="454.31" width="7.80" height="53.89" fill="#000" />
<line x1="266.20" y1="490.71" x2="266.20" y2="487.87" stroke="#707070" stroke-width="0.80" />
<line x1="264.40" y1="487.87" x2="268.00" y2="487.87" stroke="#707070" stroke-width="0.80" />
<rect x="262.30" y="490.71" width="7.80" height="17.49" fill="#000" />
<line x1="284.60" y1="462.82" x2="284.60" y2="456.20" stroke="#6e6e6e" stroke-width="0.80" />
<line x1="282.80" y1="456.20" x2="286.40" y2="456.20" stroke="#6e6e6e" stroke-width="0.80" />
<rect x="280.70" y="462.82" width="7.80" height="44.93" fill="#a5a5a5" />
<line x1="295.70" y1="465.65" x2="295.70" y2="460.93" stroke="#6e6e6e" stroke-width="0.80" />
<line x1="293.90" y1="460.93" x2="297.50" y2="460.93" stroke="#6e6e6e" stroke-width="0.80" />
<rect x="291.80" y="465.65" width="7.80" height="42.10" fill="#a5a5a5" />
<line x1="306.80" y1="500.64" x2="306.80" y2="493.07" stroke="#6e6e6e" stroke-width="0.80" />
<line x1="305.00" y1="493.07" x2="308.60" y2="493.07" stroke="#6e6e6e" stroke-width="0.80" />
<rect x="302.90" y="500.64" width="7.80" height="7.11" fill="#a5a5a5" />
<text x="0" y="0" font-size="6.4" text-anchor="end" transform="translate(246.20 512.60) rotate(-45)">Wild type</text>
<text x="0" y="0" font-size="6.4" text-anchor="end" transform="translate(257.40 512.60) rotate(-45)">Normal control</text>
<text x="0" y="0" font-size="6.4" text-anchor="end" transform="translate(268.50 512.60) rotate(-45)">CXCL8 RNAi-2</text>
<text x="0" y="0" font-size="6.4" text-anchor="end" transform="translate(286.90 512.60) rotate(-45)">Wild type</text>
<text x="0" y="0" font-size="6.4" text-anchor="end" transform="translate(298.00 512.60) rotate(-45)">Normal control</text>
<text x="0" y="0" font-size="6.4" text-anchor="end" transform="translate(309.10 512.60) rotate(-45)">CXCL8 RNAi-2</text>
<text x="0" y="0" font-size="6.3" text-anchor="middle" transform="translate(221.00 467.80) rotate(-90)">Cells/Field</text>
<path d="M244.0 451.2 L244.0 446.4 L255.1 446.4 L255.1 450.7" stroke="#000" stroke-width="1.00" fill="none" />
<path d="M249.5 446.4 L249.5 442.8 L266.2 442.8 L266.2 488.4" stroke="#000" stroke-width="1.00" fill="none" />
<path d="M284.6 455.9 L284.6 453.0 L295.7 453.0 L295.7 460.6" stroke="#000" stroke-width="1.00" fill="none" />
<path d="M290.1 453.0 L290.1 449.6 L306.8 449.6 L306.8 494.6" stroke="#000" stroke-width="1.00" fill="none" />
<text x="255.80" y="440.90" font-size="4.10" text-anchor="middle" fill="#222" style="stroke-width:0.08px"><tspan font-style="italic">P</tspan> &lt; 0.0001</text>
<text x="296.30" y="447.80" font-size="4.10" text-anchor="middle" fill="#222" style="stroke-width:0.08px"><tspan font-style="italic">P</tspan> &lt; 0.0001</text>
<rect x="333.90" y="429.80" width="9.20" height="4.20" fill="#000" rx="0.8"/>
<rect x="333.90" y="439.50" width="9.20" height="4.20" fill="#a3a3a3" rx="0.8"/>
<text x="347.20" y="434.40" font-size="6.90">SW480</text>
<text x="347.20" y="444.10" font-size="6.90">SW620</text>
</svg></body></html>
